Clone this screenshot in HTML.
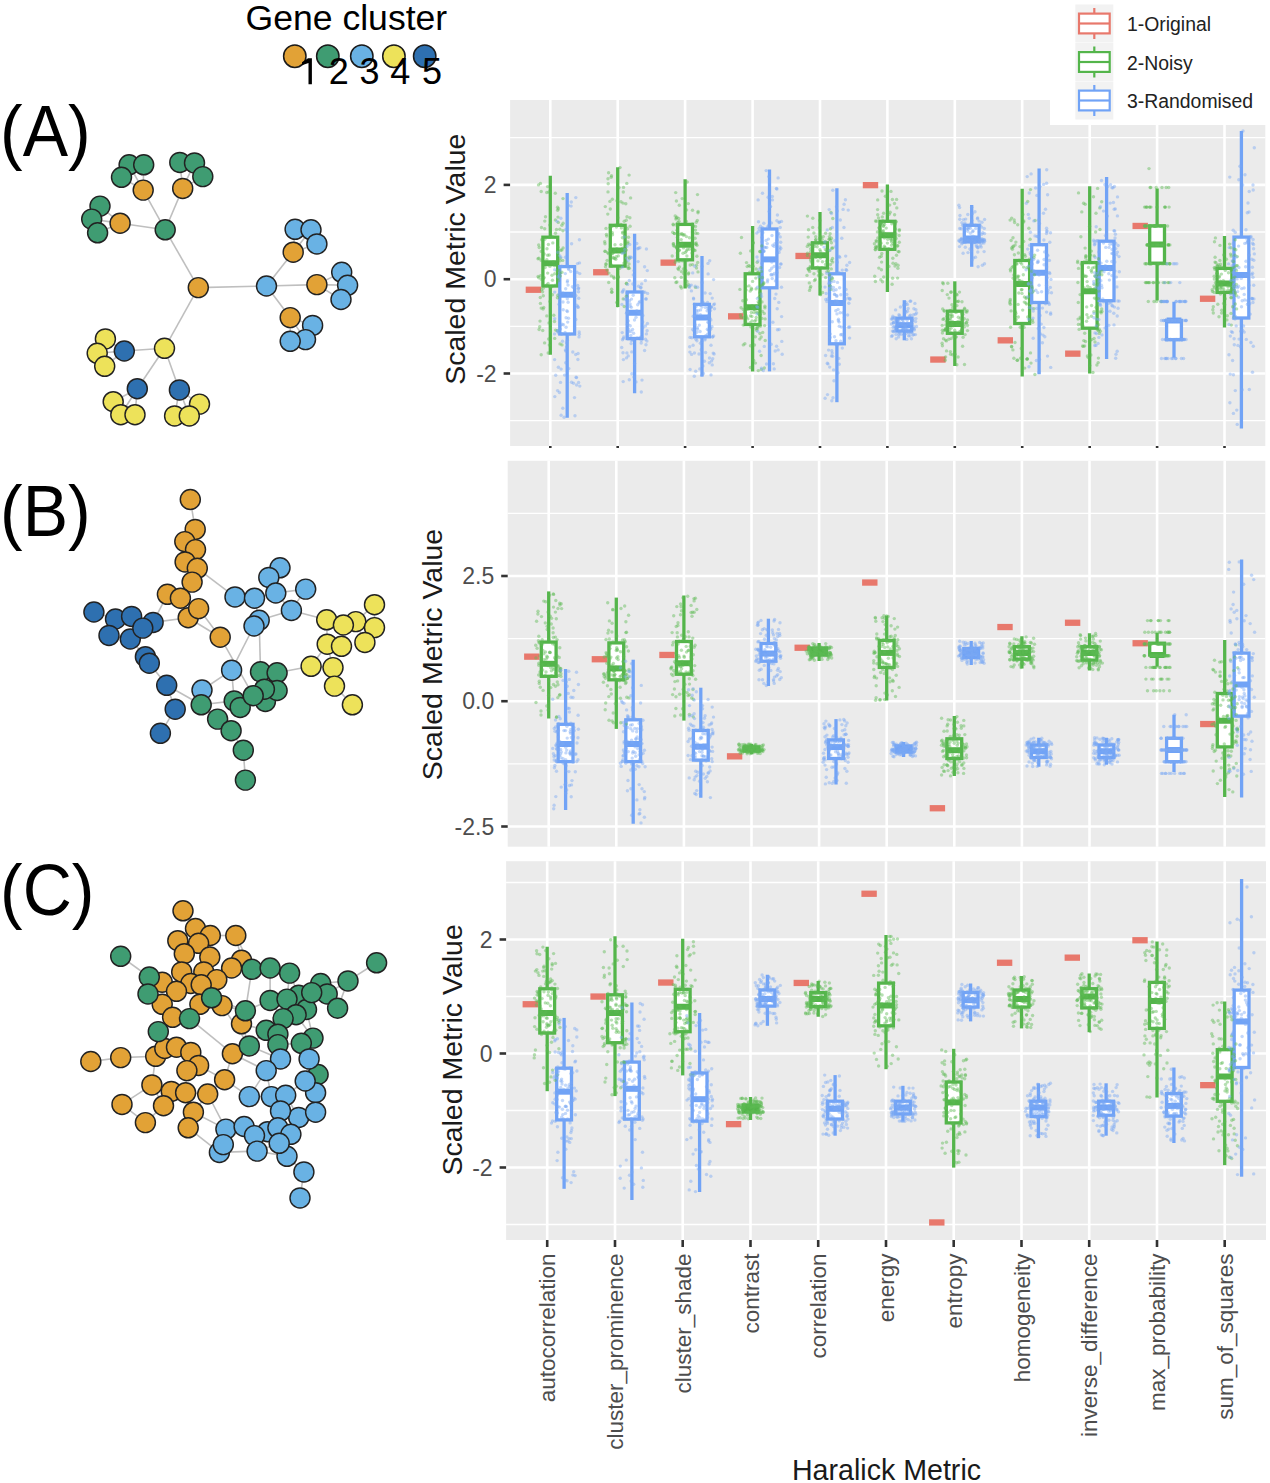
<!DOCTYPE html><html><head><meta charset="utf-8"><style>html,body{margin:0;padding:0;background:#fff;}svg{display:block;}text{font-family:"Liberation Sans",sans-serif;}</style></head><body>
<svg width="1270" height="1483" viewBox="0 0 1270 1483">
<rect width="1270" height="1483" fill="#fff"/>
<rect x="510.1" y="100.0" width="755.2" height="346.0" fill="#EBEBEB"/>
<line x1="510.1" x2="1265.3" y1="137.7" y2="137.7" stroke="#fff" stroke-width="1.3"/>
<line x1="510.1" x2="1265.3" y1="232.0" y2="232.0" stroke="#fff" stroke-width="1.3"/>
<line x1="510.1" x2="1265.3" y1="326.4" y2="326.4" stroke="#fff" stroke-width="1.3"/>
<line x1="510.1" x2="1265.3" y1="420.7" y2="420.7" stroke="#fff" stroke-width="1.3"/>
<line x1="510.1" x2="1265.3" y1="184.9" y2="184.9" stroke="#fff" stroke-width="2.6"/>
<line x1="510.1" x2="1265.3" y1="279.2" y2="279.2" stroke="#fff" stroke-width="2.6"/>
<line x1="510.1" x2="1265.3" y1="373.5" y2="373.5" stroke="#fff" stroke-width="2.6"/>
<line x1="550.3" x2="550.3" y1="100.0" y2="446.0" stroke="#fff" stroke-width="2.6"/>
<line x1="617.7" x2="617.7" y1="100.0" y2="446.0" stroke="#fff" stroke-width="2.6"/>
<line x1="685.1" x2="685.1" y1="100.0" y2="446.0" stroke="#fff" stroke-width="2.6"/>
<line x1="752.6" x2="752.6" y1="100.0" y2="446.0" stroke="#fff" stroke-width="2.6"/>
<line x1="820.0" x2="820.0" y1="100.0" y2="446.0" stroke="#fff" stroke-width="2.6"/>
<line x1="887.4" x2="887.4" y1="100.0" y2="446.0" stroke="#fff" stroke-width="2.6"/>
<line x1="954.8" x2="954.8" y1="100.0" y2="446.0" stroke="#fff" stroke-width="2.6"/>
<line x1="1022.2" x2="1022.2" y1="100.0" y2="446.0" stroke="#fff" stroke-width="2.6"/>
<line x1="1089.7" x2="1089.7" y1="100.0" y2="446.0" stroke="#fff" stroke-width="2.6"/>
<line x1="1157.1" x2="1157.1" y1="100.0" y2="446.0" stroke="#fff" stroke-width="2.6"/>
<line x1="1224.5" x2="1224.5" y1="100.0" y2="446.0" stroke="#fff" stroke-width="2.6"/>
<line x1="503.6" x2="510.1" y1="184.9" y2="184.9" stroke="#333" stroke-width="2.6"/>
<text x="496.6" y="193.1" font-size="23" fill="#4D4D4D" text-anchor="end">2</text>
<line x1="503.6" x2="510.1" y1="279.2" y2="279.2" stroke="#333" stroke-width="2.6"/>
<text x="496.6" y="287.4" font-size="23" fill="#4D4D4D" text-anchor="end">0</text>
<line x1="503.6" x2="510.1" y1="373.5" y2="373.5" stroke="#333" stroke-width="2.6"/>
<text x="496.6" y="381.7" font-size="23" fill="#4D4D4D" text-anchor="end">-2</text>
<line x1="550.3" x2="550.3" y1="446.0" y2="448.0" stroke="#333" stroke-width="2.6"/>
<line x1="617.7" x2="617.7" y1="446.0" y2="448.0" stroke="#333" stroke-width="2.6"/>
<line x1="685.1" x2="685.1" y1="446.0" y2="448.0" stroke="#333" stroke-width="2.6"/>
<line x1="752.6" x2="752.6" y1="446.0" y2="448.0" stroke="#333" stroke-width="2.6"/>
<line x1="820.0" x2="820.0" y1="446.0" y2="448.0" stroke="#333" stroke-width="2.6"/>
<line x1="887.4" x2="887.4" y1="446.0" y2="448.0" stroke="#333" stroke-width="2.6"/>
<line x1="954.8" x2="954.8" y1="446.0" y2="448.0" stroke="#333" stroke-width="2.6"/>
<line x1="1022.2" x2="1022.2" y1="446.0" y2="448.0" stroke="#333" stroke-width="2.6"/>
<line x1="1089.7" x2="1089.7" y1="446.0" y2="448.0" stroke="#333" stroke-width="2.6"/>
<line x1="1157.1" x2="1157.1" y1="446.0" y2="448.0" stroke="#333" stroke-width="2.6"/>
<line x1="1224.5" x2="1224.5" y1="446.0" y2="448.0" stroke="#333" stroke-width="2.6"/>
<text transform="translate(464.9,259.2) rotate(-90)" font-size="28.5" fill="#1A1A1A" text-anchor="middle">Scaled Metric Value</text>
<clipPath id="cp0"><rect x="510.1" y="100.0" width="755.2" height="346.0"/></clipPath><g clip-path="url(#cp0)">
<line x1="550.3" y1="175.8" x2="550.3" y2="237.2" stroke="#54B54B" stroke-width="3.3" stroke-linecap="butt"/><line x1="550.3" y1="286.0" x2="550.3" y2="354.8" stroke="#54B54B" stroke-width="3.3"/><rect x="542.9" y="237.2" width="14.8" height="48.8" fill="#fff" stroke="#54B54B" stroke-width="3.3"/><line x1="542.9" y1="263.3" x2="557.7" y2="263.3" stroke="#54B54B" stroke-width="6.0"/>
<line x1="567.2" y1="192.9" x2="567.2" y2="266.6" stroke="#71A3F6" stroke-width="3.3" stroke-linecap="butt"/><line x1="567.2" y1="334.0" x2="567.2" y2="417.8" stroke="#71A3F6" stroke-width="3.3"/><rect x="559.8" y="266.6" width="14.8" height="67.4" fill="#fff" stroke="#71A3F6" stroke-width="3.3"/><line x1="559.8" y1="294.8" x2="574.6" y2="294.8" stroke="#71A3F6" stroke-width="6.0"/>
<rect x="525.7" y="286.6" width="15.4" height="6.3" fill="#E8786C"/>
<g fill="#5DBB55" fill-opacity="0.45"><circle cx="541.2" cy="279.3" r="1.7"/><circle cx="539.2" cy="247.5" r="1.7"/><circle cx="546.8" cy="259.6" r="1.7"/><circle cx="550.5" cy="331.1" r="1.7"/><circle cx="548.6" cy="339.0" r="1.7"/><circle cx="539.7" cy="326.7" r="1.7"/><circle cx="558.8" cy="270.2" r="1.7"/><circle cx="543.1" cy="309.0" r="1.7"/><circle cx="561.9" cy="250.0" r="1.7"/><circle cx="547.6" cy="255.3" r="1.7"/><circle cx="538.5" cy="184.9" r="1.7"/><circle cx="544.8" cy="221.1" r="1.7"/><circle cx="540.4" cy="303.4" r="1.7"/><circle cx="558.5" cy="280.7" r="1.7"/><circle cx="552.4" cy="294.8" r="1.7"/><circle cx="547.0" cy="248.8" r="1.7"/><circle cx="538.9" cy="258.3" r="1.7"/><circle cx="542.7" cy="330.5" r="1.7"/><circle cx="548.4" cy="244.5" r="1.7"/><circle cx="552.5" cy="280.2" r="1.7"/><circle cx="545.1" cy="267.6" r="1.7"/><circle cx="555.5" cy="233.3" r="1.7"/><circle cx="552.2" cy="286.2" r="1.7"/><circle cx="560.1" cy="260.7" r="1.7"/><circle cx="544.8" cy="239.3" r="1.7"/><circle cx="540.4" cy="183.4" r="1.7"/><circle cx="557.0" cy="270.7" r="1.7"/><circle cx="550.0" cy="301.4" r="1.7"/><circle cx="554.7" cy="338.4" r="1.7"/><circle cx="552.2" cy="236.5" r="1.7"/><circle cx="545.5" cy="216.8" r="1.7"/><circle cx="552.8" cy="242.9" r="1.7"/><circle cx="549.2" cy="255.0" r="1.7"/><circle cx="561.9" cy="225.2" r="1.7"/><circle cx="554.6" cy="265.7" r="1.7"/><circle cx="555.5" cy="330.1" r="1.7"/><circle cx="563.1" cy="247.9" r="1.7"/><circle cx="544.7" cy="228.8" r="1.7"/><circle cx="554.7" cy="273.7" r="1.7"/><circle cx="549.3" cy="345.1" r="1.7"/><circle cx="540.3" cy="297.5" r="1.7"/><circle cx="557.3" cy="330.7" r="1.7"/><circle cx="543.7" cy="307.4" r="1.7"/><circle cx="560.0" cy="273.2" r="1.7"/><circle cx="549.0" cy="322.9" r="1.7"/><circle cx="560.3" cy="258.1" r="1.7"/><circle cx="559.8" cy="229.3" r="1.7"/><circle cx="548.1" cy="283.4" r="1.7"/><circle cx="560.3" cy="276.1" r="1.7"/><circle cx="541.2" cy="191.5" r="1.7"/><circle cx="543.3" cy="295.8" r="1.7"/><circle cx="549.9" cy="286.9" r="1.7"/><circle cx="544.1" cy="254.0" r="1.7"/><circle cx="548.2" cy="353.0" r="1.7"/><circle cx="552.0" cy="275.2" r="1.7"/><circle cx="555.3" cy="193.2" r="1.7"/><circle cx="553.4" cy="261.7" r="1.7"/><circle cx="538.7" cy="244.9" r="1.7"/><circle cx="557.6" cy="210.2" r="1.7"/><circle cx="558.0" cy="217.1" r="1.7"/><circle cx="547.7" cy="273.1" r="1.7"/><circle cx="553.8" cy="315.2" r="1.7"/><circle cx="539.1" cy="329.5" r="1.7"/><circle cx="541.5" cy="289.8" r="1.7"/><circle cx="538.7" cy="277.8" r="1.7"/><circle cx="541.2" cy="354.7" r="1.7"/><circle cx="546.8" cy="315.9" r="1.7"/><circle cx="560.0" cy="343.9" r="1.7"/><circle cx="541.2" cy="251.4" r="1.7"/><circle cx="546.3" cy="285.8" r="1.7"/><circle cx="540.5" cy="275.6" r="1.7"/><circle cx="563.1" cy="223.3" r="1.7"/><circle cx="549.9" cy="266.4" r="1.7"/><circle cx="540.0" cy="321.1" r="1.7"/><circle cx="544.2" cy="277.6" r="1.7"/><circle cx="541.5" cy="227.5" r="1.7"/><circle cx="562.0" cy="344.9" r="1.7"/><circle cx="541.1" cy="260.3" r="1.7"/><circle cx="538.0" cy="258.8" r="1.7"/><circle cx="562.7" cy="260.4" r="1.7"/><circle cx="555.4" cy="219.9" r="1.7"/><circle cx="546.8" cy="285.0" r="1.7"/><circle cx="557.4" cy="297.8" r="1.7"/><circle cx="557.6" cy="259.9" r="1.7"/><circle cx="543.1" cy="278.8" r="1.7"/><circle cx="562.9" cy="230.7" r="1.7"/><circle cx="558.3" cy="222.4" r="1.7"/><circle cx="556.5" cy="229.5" r="1.7"/><circle cx="550.8" cy="287.5" r="1.7"/><circle cx="538.1" cy="276.4" r="1.7"/><circle cx="544.6" cy="342.9" r="1.7"/><circle cx="555.3" cy="285.2" r="1.7"/><circle cx="548.9" cy="192.0" r="1.7"/><circle cx="563.0" cy="198.6" r="1.7"/><circle cx="546.8" cy="192.5" r="1.7"/><circle cx="543.2" cy="288.3" r="1.7"/><circle cx="542.6" cy="291.8" r="1.7"/><circle cx="560.7" cy="250.3" r="1.7"/><circle cx="549.8" cy="225.1" r="1.7"/><circle cx="558.1" cy="247.3" r="1.7"/><circle cx="554.5" cy="321.5" r="1.7"/><circle cx="557.6" cy="207.2" r="1.7"/><circle cx="549.7" cy="237.2" r="1.7"/><circle cx="557.8" cy="295.3" r="1.7"/><circle cx="558.1" cy="278.5" r="1.7"/><circle cx="547.6" cy="186.6" r="1.7"/><circle cx="561.9" cy="272.3" r="1.7"/><circle cx="541.7" cy="239.8" r="1.7"/><circle cx="541.2" cy="308.1" r="1.7"/><circle cx="558.3" cy="208.7" r="1.7"/></g>
<g fill="#7AA9F5" fill-opacity="0.45"><circle cx="575.7" cy="354.5" r="1.7"/><circle cx="571.3" cy="202.0" r="1.7"/><circle cx="568.5" cy="318.3" r="1.7"/><circle cx="554.6" cy="359.6" r="1.7"/><circle cx="571.1" cy="206.1" r="1.7"/><circle cx="578.5" cy="291.8" r="1.7"/><circle cx="576.9" cy="305.2" r="1.7"/><circle cx="559.7" cy="255.6" r="1.7"/><circle cx="561.8" cy="333.7" r="1.7"/><circle cx="569.4" cy="334.4" r="1.7"/><circle cx="565.1" cy="332.5" r="1.7"/><circle cx="577.9" cy="359.5" r="1.7"/><circle cx="566.1" cy="317.7" r="1.7"/><circle cx="577.7" cy="285.4" r="1.7"/><circle cx="578.1" cy="307.2" r="1.7"/><circle cx="568.0" cy="294.6" r="1.7"/><circle cx="554.7" cy="292.1" r="1.7"/><circle cx="559.0" cy="304.2" r="1.7"/><circle cx="575.0" cy="415.7" r="1.7"/><circle cx="566.5" cy="346.9" r="1.7"/><circle cx="568.7" cy="269.4" r="1.7"/><circle cx="567.7" cy="322.1" r="1.7"/><circle cx="574.6" cy="288.5" r="1.7"/><circle cx="568.8" cy="368.6" r="1.7"/><circle cx="561.4" cy="334.0" r="1.7"/><circle cx="567.4" cy="265.1" r="1.7"/><circle cx="574.0" cy="287.8" r="1.7"/><circle cx="565.7" cy="229.6" r="1.7"/><circle cx="567.3" cy="282.1" r="1.7"/><circle cx="572.2" cy="293.4" r="1.7"/><circle cx="568.1" cy="302.3" r="1.7"/><circle cx="578.7" cy="298.2" r="1.7"/><circle cx="577.0" cy="272.3" r="1.7"/><circle cx="560.9" cy="218.2" r="1.7"/><circle cx="578.7" cy="288.1" r="1.7"/><circle cx="557.8" cy="252.2" r="1.7"/><circle cx="565.7" cy="362.8" r="1.7"/><circle cx="560.5" cy="382.4" r="1.7"/><circle cx="571.6" cy="382.2" r="1.7"/><circle cx="577.5" cy="263.6" r="1.7"/><circle cx="572.8" cy="352.0" r="1.7"/><circle cx="557.9" cy="276.7" r="1.7"/><circle cx="579.4" cy="239.8" r="1.7"/><circle cx="579.0" cy="336.9" r="1.7"/><circle cx="566.9" cy="310.8" r="1.7"/><circle cx="575.8" cy="197.6" r="1.7"/><circle cx="565.4" cy="349.9" r="1.7"/><circle cx="563.0" cy="293.0" r="1.7"/><circle cx="562.5" cy="341.3" r="1.7"/><circle cx="554.7" cy="269.7" r="1.7"/><circle cx="565.7" cy="288.7" r="1.7"/><circle cx="562.8" cy="408.3" r="1.7"/><circle cx="567.5" cy="280.8" r="1.7"/><circle cx="579.8" cy="386.1" r="1.7"/><circle cx="579.5" cy="262.9" r="1.7"/><circle cx="561.1" cy="369.1" r="1.7"/><circle cx="574.5" cy="397.6" r="1.7"/><circle cx="557.6" cy="330.8" r="1.7"/><circle cx="577.9" cy="307.0" r="1.7"/><circle cx="560.9" cy="257.2" r="1.7"/><circle cx="578.1" cy="353.5" r="1.7"/><circle cx="572.4" cy="286.8" r="1.7"/><circle cx="555.7" cy="375.3" r="1.7"/><circle cx="565.3" cy="273.6" r="1.7"/><circle cx="578.6" cy="382.5" r="1.7"/><circle cx="575.0" cy="279.6" r="1.7"/><circle cx="576.5" cy="377.6" r="1.7"/><circle cx="576.6" cy="385.0" r="1.7"/><circle cx="563.0" cy="302.0" r="1.7"/><circle cx="578.3" cy="288.8" r="1.7"/><circle cx="557.6" cy="331.2" r="1.7"/><circle cx="560.4" cy="291.8" r="1.7"/><circle cx="558.4" cy="367.3" r="1.7"/><circle cx="559.4" cy="392.5" r="1.7"/><circle cx="562.1" cy="324.3" r="1.7"/><circle cx="561.7" cy="266.2" r="1.7"/><circle cx="558.8" cy="294.8" r="1.7"/><circle cx="554.7" cy="318.8" r="1.7"/><circle cx="554.6" cy="333.9" r="1.7"/><circle cx="568.5" cy="268.5" r="1.7"/><circle cx="566.5" cy="342.7" r="1.7"/><circle cx="557.0" cy="221.2" r="1.7"/><circle cx="565.4" cy="257.2" r="1.7"/><circle cx="575.9" cy="295.6" r="1.7"/><circle cx="567.4" cy="311.6" r="1.7"/><circle cx="579.7" cy="273.6" r="1.7"/><circle cx="575.8" cy="319.5" r="1.7"/><circle cx="570.7" cy="271.5" r="1.7"/><circle cx="563.2" cy="309.7" r="1.7"/><circle cx="557.6" cy="390.6" r="1.7"/><circle cx="573.5" cy="383.2" r="1.7"/><circle cx="558.4" cy="333.1" r="1.7"/><circle cx="576.1" cy="377.3" r="1.7"/><circle cx="571.6" cy="243.7" r="1.7"/><circle cx="560.5" cy="329.0" r="1.7"/><circle cx="566.1" cy="327.2" r="1.7"/><circle cx="565.8" cy="351.1" r="1.7"/><circle cx="579.2" cy="331.9" r="1.7"/><circle cx="568.4" cy="205.4" r="1.7"/><circle cx="579.3" cy="334.2" r="1.7"/><circle cx="563.5" cy="324.7" r="1.7"/><circle cx="564.1" cy="417.2" r="1.7"/><circle cx="567.3" cy="298.8" r="1.7"/><circle cx="567.3" cy="340.2" r="1.7"/><circle cx="561.1" cy="415.2" r="1.7"/><circle cx="564.6" cy="375.1" r="1.7"/><circle cx="554.8" cy="396.6" r="1.7"/><circle cx="560.3" cy="325.5" r="1.7"/><circle cx="568.0" cy="285.1" r="1.7"/><circle cx="571.3" cy="266.6" r="1.7"/></g>
<line x1="617.7" y1="167.2" x2="617.7" y2="225.3" stroke="#54B54B" stroke-width="3.3" stroke-linecap="butt"/><line x1="617.7" y1="266.1" x2="617.7" y2="307.0" stroke="#54B54B" stroke-width="3.3"/><rect x="610.3" y="225.3" width="14.8" height="40.8" fill="#fff" stroke="#54B54B" stroke-width="3.3"/><line x1="610.3" y1="250.5" x2="625.1" y2="250.5" stroke="#54B54B" stroke-width="6.0"/>
<line x1="634.6" y1="233.7" x2="634.6" y2="292.0" stroke="#71A3F6" stroke-width="3.3" stroke-linecap="butt"/><line x1="634.6" y1="338.5" x2="634.6" y2="393.3" stroke="#71A3F6" stroke-width="3.3"/><rect x="627.2" y="292.0" width="14.8" height="46.5" fill="#fff" stroke="#71A3F6" stroke-width="3.3"/><line x1="627.2" y1="312.8" x2="642.0" y2="312.8" stroke="#71A3F6" stroke-width="6.0"/>
<rect x="593.1" y="269.1" width="15.4" height="6.3" fill="#E8786C"/>
<g fill="#5DBB55" fill-opacity="0.45"><circle cx="627.6" cy="228.7" r="1.7"/><circle cx="613.2" cy="257.4" r="1.7"/><circle cx="608.6" cy="172.8" r="1.7"/><circle cx="621.4" cy="227.9" r="1.7"/><circle cx="626.4" cy="296.2" r="1.7"/><circle cx="621.0" cy="201.8" r="1.7"/><circle cx="625.8" cy="226.9" r="1.7"/><circle cx="618.3" cy="277.2" r="1.7"/><circle cx="626.4" cy="250.1" r="1.7"/><circle cx="626.2" cy="220.2" r="1.7"/><circle cx="627.9" cy="242.0" r="1.7"/><circle cx="622.7" cy="232.1" r="1.7"/><circle cx="605.5" cy="266.8" r="1.7"/><circle cx="614.1" cy="278.2" r="1.7"/><circle cx="626.5" cy="283.2" r="1.7"/><circle cx="621.0" cy="244.6" r="1.7"/><circle cx="622.4" cy="237.8" r="1.7"/><circle cx="604.8" cy="251.2" r="1.7"/><circle cx="624.2" cy="221.2" r="1.7"/><circle cx="618.6" cy="250.2" r="1.7"/><circle cx="606.4" cy="234.4" r="1.7"/><circle cx="611.3" cy="226.6" r="1.7"/><circle cx="611.6" cy="289.3" r="1.7"/><circle cx="610.1" cy="227.4" r="1.7"/><circle cx="630.1" cy="226.3" r="1.7"/><circle cx="614.7" cy="250.9" r="1.7"/><circle cx="622.5" cy="251.8" r="1.7"/><circle cx="620.8" cy="224.5" r="1.7"/><circle cx="606.7" cy="236.1" r="1.7"/><circle cx="611.3" cy="275.9" r="1.7"/><circle cx="612.6" cy="226.0" r="1.7"/><circle cx="605.0" cy="243.7" r="1.7"/><circle cx="611.7" cy="292.3" r="1.7"/><circle cx="622.7" cy="233.2" r="1.7"/><circle cx="612.3" cy="232.8" r="1.7"/><circle cx="616.8" cy="248.8" r="1.7"/><circle cx="607.8" cy="252.6" r="1.7"/><circle cx="609.9" cy="201.4" r="1.7"/><circle cx="629.1" cy="175.1" r="1.7"/><circle cx="616.7" cy="302.5" r="1.7"/><circle cx="629.9" cy="217.7" r="1.7"/><circle cx="611.7" cy="253.7" r="1.7"/><circle cx="629.3" cy="268.3" r="1.7"/><circle cx="619.8" cy="268.2" r="1.7"/><circle cx="618.3" cy="276.8" r="1.7"/><circle cx="608.2" cy="183.7" r="1.7"/><circle cx="617.9" cy="217.7" r="1.7"/><circle cx="623.0" cy="203.1" r="1.7"/><circle cx="628.1" cy="266.7" r="1.7"/><circle cx="605.4" cy="251.4" r="1.7"/><circle cx="617.5" cy="306.1" r="1.7"/><circle cx="612.6" cy="253.6" r="1.7"/><circle cx="613.7" cy="277.0" r="1.7"/><circle cx="626.6" cy="262.0" r="1.7"/><circle cx="624.2" cy="306.5" r="1.7"/><circle cx="607.8" cy="214.1" r="1.7"/><circle cx="623.3" cy="192.0" r="1.7"/><circle cx="612.3" cy="199.2" r="1.7"/><circle cx="614.9" cy="258.5" r="1.7"/><circle cx="620.0" cy="167.6" r="1.7"/><circle cx="615.8" cy="259.2" r="1.7"/><circle cx="606.0" cy="264.5" r="1.7"/><circle cx="626.4" cy="283.8" r="1.7"/><circle cx="629.0" cy="263.9" r="1.7"/><circle cx="611.6" cy="266.1" r="1.7"/><circle cx="609.7" cy="249.4" r="1.7"/><circle cx="629.6" cy="258.4" r="1.7"/><circle cx="625.8" cy="203.8" r="1.7"/><circle cx="628.5" cy="237.3" r="1.7"/><circle cx="619.0" cy="187.6" r="1.7"/><circle cx="606.0" cy="228.4" r="1.7"/><circle cx="616.4" cy="227.1" r="1.7"/><circle cx="621.5" cy="225.3" r="1.7"/><circle cx="606.0" cy="263.8" r="1.7"/><circle cx="608.0" cy="191.9" r="1.7"/><circle cx="613.7" cy="252.2" r="1.7"/><circle cx="623.9" cy="263.1" r="1.7"/><circle cx="611.5" cy="175.8" r="1.7"/><circle cx="612.5" cy="234.8" r="1.7"/><circle cx="615.0" cy="244.7" r="1.7"/><circle cx="608.9" cy="273.1" r="1.7"/><circle cx="628.3" cy="268.5" r="1.7"/><circle cx="610.4" cy="250.7" r="1.7"/><circle cx="630.6" cy="197.9" r="1.7"/><circle cx="608.3" cy="253.6" r="1.7"/><circle cx="607.1" cy="270.0" r="1.7"/><circle cx="607.1" cy="260.4" r="1.7"/><circle cx="611.4" cy="266.4" r="1.7"/><circle cx="627.8" cy="243.5" r="1.7"/><circle cx="615.5" cy="225.3" r="1.7"/><circle cx="618.3" cy="255.9" r="1.7"/><circle cx="613.5" cy="258.2" r="1.7"/><circle cx="611.9" cy="292.0" r="1.7"/><circle cx="608.0" cy="178.7" r="1.7"/><circle cx="621.1" cy="250.2" r="1.7"/><circle cx="610.3" cy="209.0" r="1.7"/><circle cx="611.2" cy="264.8" r="1.7"/><circle cx="616.3" cy="256.8" r="1.7"/><circle cx="626.8" cy="183.4" r="1.7"/><circle cx="605.3" cy="206.6" r="1.7"/><circle cx="623.2" cy="298.9" r="1.7"/><circle cx="617.0" cy="200.8" r="1.7"/><circle cx="604.7" cy="241.7" r="1.7"/><circle cx="628.8" cy="257.3" r="1.7"/><circle cx="627.0" cy="216.7" r="1.7"/><circle cx="611.2" cy="177.2" r="1.7"/><circle cx="608.7" cy="282.5" r="1.7"/><circle cx="622.5" cy="248.2" r="1.7"/><circle cx="623.5" cy="187.4" r="1.7"/><circle cx="624.6" cy="235.6" r="1.7"/></g>
<g fill="#7AA9F5" fill-opacity="0.45"><circle cx="636.0" cy="317.2" r="1.7"/><circle cx="642.0" cy="380.1" r="1.7"/><circle cx="645.5" cy="339.3" r="1.7"/><circle cx="629.5" cy="300.7" r="1.7"/><circle cx="628.2" cy="355.9" r="1.7"/><circle cx="639.8" cy="301.5" r="1.7"/><circle cx="623.4" cy="359.6" r="1.7"/><circle cx="636.8" cy="310.8" r="1.7"/><circle cx="627.4" cy="324.3" r="1.7"/><circle cx="621.9" cy="304.4" r="1.7"/><circle cx="633.6" cy="333.2" r="1.7"/><circle cx="638.4" cy="248.2" r="1.7"/><circle cx="634.0" cy="270.6" r="1.7"/><circle cx="628.0" cy="339.1" r="1.7"/><circle cx="639.9" cy="247.7" r="1.7"/><circle cx="622.2" cy="332.6" r="1.7"/><circle cx="639.2" cy="313.0" r="1.7"/><circle cx="628.3" cy="321.0" r="1.7"/><circle cx="645.7" cy="298.9" r="1.7"/><circle cx="622.5" cy="339.7" r="1.7"/><circle cx="632.6" cy="329.4" r="1.7"/><circle cx="626.8" cy="297.6" r="1.7"/><circle cx="640.8" cy="288.0" r="1.7"/><circle cx="627.0" cy="312.4" r="1.7"/><circle cx="629.7" cy="244.5" r="1.7"/><circle cx="627.6" cy="284.4" r="1.7"/><circle cx="641.4" cy="340.2" r="1.7"/><circle cx="646.4" cy="333.9" r="1.7"/><circle cx="626.5" cy="313.2" r="1.7"/><circle cx="632.5" cy="340.0" r="1.7"/><circle cx="646.3" cy="299.0" r="1.7"/><circle cx="631.8" cy="351.9" r="1.7"/><circle cx="646.9" cy="341.1" r="1.7"/><circle cx="623.0" cy="352.8" r="1.7"/><circle cx="631.8" cy="373.8" r="1.7"/><circle cx="644.6" cy="266.8" r="1.7"/><circle cx="647.6" cy="293.4" r="1.7"/><circle cx="630.2" cy="257.0" r="1.7"/><circle cx="646.0" cy="344.8" r="1.7"/><circle cx="622.4" cy="292.3" r="1.7"/><circle cx="631.5" cy="299.1" r="1.7"/><circle cx="630.2" cy="325.8" r="1.7"/><circle cx="621.7" cy="347.5" r="1.7"/><circle cx="630.8" cy="335.4" r="1.7"/><circle cx="624.8" cy="249.4" r="1.7"/><circle cx="627.0" cy="246.4" r="1.7"/><circle cx="643.0" cy="327.5" r="1.7"/><circle cx="632.9" cy="284.0" r="1.7"/><circle cx="633.9" cy="377.1" r="1.7"/><circle cx="645.5" cy="325.9" r="1.7"/><circle cx="631.1" cy="343.6" r="1.7"/><circle cx="622.4" cy="267.1" r="1.7"/><circle cx="642.7" cy="322.0" r="1.7"/><circle cx="622.7" cy="291.2" r="1.7"/><circle cx="623.2" cy="381.6" r="1.7"/><circle cx="628.3" cy="260.5" r="1.7"/><circle cx="645.0" cy="292.2" r="1.7"/><circle cx="628.7" cy="329.3" r="1.7"/><circle cx="637.7" cy="248.7" r="1.7"/><circle cx="640.3" cy="337.2" r="1.7"/><circle cx="628.8" cy="331.7" r="1.7"/><circle cx="641.3" cy="392.0" r="1.7"/><circle cx="638.1" cy="261.6" r="1.7"/><circle cx="622.3" cy="253.4" r="1.7"/><circle cx="634.0" cy="339.2" r="1.7"/><circle cx="646.4" cy="249.0" r="1.7"/><circle cx="628.1" cy="324.5" r="1.7"/><circle cx="634.5" cy="320.0" r="1.7"/><circle cx="626.4" cy="258.1" r="1.7"/><circle cx="640.8" cy="287.2" r="1.7"/><circle cx="641.7" cy="283.9" r="1.7"/><circle cx="630.1" cy="303.9" r="1.7"/><circle cx="631.0" cy="331.4" r="1.7"/><circle cx="623.7" cy="289.8" r="1.7"/><circle cx="641.2" cy="343.0" r="1.7"/><circle cx="623.3" cy="338.5" r="1.7"/><circle cx="636.0" cy="381.9" r="1.7"/><circle cx="647.1" cy="330.7" r="1.7"/><circle cx="647.3" cy="270.6" r="1.7"/><circle cx="623.8" cy="337.0" r="1.7"/><circle cx="634.6" cy="363.6" r="1.7"/><circle cx="633.2" cy="295.3" r="1.7"/><circle cx="632.5" cy="339.2" r="1.7"/><circle cx="639.1" cy="302.8" r="1.7"/><circle cx="643.6" cy="292.2" r="1.7"/><circle cx="624.8" cy="299.1" r="1.7"/><circle cx="629.3" cy="280.5" r="1.7"/><circle cx="631.3" cy="307.2" r="1.7"/><circle cx="626.8" cy="293.0" r="1.7"/><circle cx="628.0" cy="338.5" r="1.7"/><circle cx="644.6" cy="350.5" r="1.7"/><circle cx="630.1" cy="306.3" r="1.7"/><circle cx="647.4" cy="323.5" r="1.7"/><circle cx="627.6" cy="312.2" r="1.7"/><circle cx="638.6" cy="286.3" r="1.7"/><circle cx="624.3" cy="237.0" r="1.7"/><circle cx="642.9" cy="315.4" r="1.7"/><circle cx="645.4" cy="280.5" r="1.7"/><circle cx="629.3" cy="379.8" r="1.7"/><circle cx="626.5" cy="357.9" r="1.7"/><circle cx="636.8" cy="243.5" r="1.7"/><circle cx="631.3" cy="257.5" r="1.7"/><circle cx="633.3" cy="274.9" r="1.7"/><circle cx="641.8" cy="337.5" r="1.7"/><circle cx="624.4" cy="252.6" r="1.7"/><circle cx="637.7" cy="304.8" r="1.7"/><circle cx="631.2" cy="340.6" r="1.7"/><circle cx="626.9" cy="352.9" r="1.7"/><circle cx="637.2" cy="338.0" r="1.7"/><circle cx="626.9" cy="300.2" r="1.7"/></g>
<line x1="685.1" y1="179.3" x2="685.1" y2="224.4" stroke="#54B54B" stroke-width="3.3" stroke-linecap="butt"/><line x1="685.1" y1="259.8" x2="685.1" y2="288.5" stroke="#54B54B" stroke-width="3.3"/><rect x="677.7" y="224.4" width="14.8" height="35.4" fill="#fff" stroke="#54B54B" stroke-width="3.3"/><line x1="677.7" y1="244.7" x2="692.5" y2="244.7" stroke="#54B54B" stroke-width="6.0"/>
<line x1="702.0" y1="255.9" x2="702.0" y2="304.4" stroke="#71A3F6" stroke-width="3.3" stroke-linecap="butt"/><line x1="702.0" y1="336.8" x2="702.0" y2="376.5" stroke="#71A3F6" stroke-width="3.3"/><rect x="694.6" y="304.4" width="14.8" height="32.4" fill="#fff" stroke="#71A3F6" stroke-width="3.3"/><line x1="694.6" y1="317.5" x2="709.4" y2="317.5" stroke="#71A3F6" stroke-width="6.0"/>
<rect x="660.5" y="259.5" width="15.4" height="6.3" fill="#E8786C"/>
<g fill="#5DBB55" fill-opacity="0.45"><circle cx="680.6" cy="286.4" r="1.7"/><circle cx="677.0" cy="230.2" r="1.7"/><circle cx="677.4" cy="256.0" r="1.7"/><circle cx="686.4" cy="221.5" r="1.7"/><circle cx="674.8" cy="277.8" r="1.7"/><circle cx="686.4" cy="251.0" r="1.7"/><circle cx="674.5" cy="233.4" r="1.7"/><circle cx="690.2" cy="265.0" r="1.7"/><circle cx="679.5" cy="250.1" r="1.7"/><circle cx="696.9" cy="256.3" r="1.7"/><circle cx="686.9" cy="256.0" r="1.7"/><circle cx="683.0" cy="253.3" r="1.7"/><circle cx="698.1" cy="211.5" r="1.7"/><circle cx="677.3" cy="252.9" r="1.7"/><circle cx="677.4" cy="226.2" r="1.7"/><circle cx="695.6" cy="287.4" r="1.7"/><circle cx="693.5" cy="249.3" r="1.7"/><circle cx="695.1" cy="250.4" r="1.7"/><circle cx="676.4" cy="247.1" r="1.7"/><circle cx="686.5" cy="285.8" r="1.7"/><circle cx="695.8" cy="233.3" r="1.7"/><circle cx="688.3" cy="274.0" r="1.7"/><circle cx="685.3" cy="252.5" r="1.7"/><circle cx="679.5" cy="266.9" r="1.7"/><circle cx="696.2" cy="243.0" r="1.7"/><circle cx="684.9" cy="271.3" r="1.7"/><circle cx="697.3" cy="220.4" r="1.7"/><circle cx="675.4" cy="262.2" r="1.7"/><circle cx="697.5" cy="194.6" r="1.7"/><circle cx="673.5" cy="245.7" r="1.7"/><circle cx="682.2" cy="198.6" r="1.7"/><circle cx="688.3" cy="203.6" r="1.7"/><circle cx="676.3" cy="217.9" r="1.7"/><circle cx="677.9" cy="222.4" r="1.7"/><circle cx="694.1" cy="250.5" r="1.7"/><circle cx="676.9" cy="217.2" r="1.7"/><circle cx="682.5" cy="260.9" r="1.7"/><circle cx="682.1" cy="243.2" r="1.7"/><circle cx="678.6" cy="269.5" r="1.7"/><circle cx="695.5" cy="226.4" r="1.7"/><circle cx="686.8" cy="281.3" r="1.7"/><circle cx="673.1" cy="224.2" r="1.7"/><circle cx="675.2" cy="215.9" r="1.7"/><circle cx="686.4" cy="236.6" r="1.7"/><circle cx="680.1" cy="234.4" r="1.7"/><circle cx="687.3" cy="249.5" r="1.7"/><circle cx="689.3" cy="249.2" r="1.7"/><circle cx="683.5" cy="247.9" r="1.7"/><circle cx="688.2" cy="284.3" r="1.7"/><circle cx="678.3" cy="245.3" r="1.7"/><circle cx="692.4" cy="224.0" r="1.7"/><circle cx="676.8" cy="247.2" r="1.7"/><circle cx="674.9" cy="246.3" r="1.7"/><circle cx="683.3" cy="268.9" r="1.7"/><circle cx="683.6" cy="273.6" r="1.7"/><circle cx="673.2" cy="243.9" r="1.7"/><circle cx="674.3" cy="233.6" r="1.7"/><circle cx="692.4" cy="225.7" r="1.7"/><circle cx="673.6" cy="243.8" r="1.7"/><circle cx="682.0" cy="244.4" r="1.7"/><circle cx="675.7" cy="192.6" r="1.7"/><circle cx="698.0" cy="212.8" r="1.7"/><circle cx="693.3" cy="225.9" r="1.7"/><circle cx="697.7" cy="262.4" r="1.7"/><circle cx="697.0" cy="245.2" r="1.7"/><circle cx="676.4" cy="201.0" r="1.7"/><circle cx="696.3" cy="222.2" r="1.7"/><circle cx="681.3" cy="277.4" r="1.7"/><circle cx="676.3" cy="224.3" r="1.7"/><circle cx="679.3" cy="205.2" r="1.7"/><circle cx="675.9" cy="219.1" r="1.7"/><circle cx="696.1" cy="244.5" r="1.7"/><circle cx="679.0" cy="261.4" r="1.7"/><circle cx="680.4" cy="244.2" r="1.7"/><circle cx="676.9" cy="282.0" r="1.7"/><circle cx="696.5" cy="265.3" r="1.7"/><circle cx="695.4" cy="230.1" r="1.7"/><circle cx="692.5" cy="264.6" r="1.7"/><circle cx="685.9" cy="270.5" r="1.7"/><circle cx="681.5" cy="233.6" r="1.7"/><circle cx="686.6" cy="209.9" r="1.7"/><circle cx="695.1" cy="238.2" r="1.7"/><circle cx="698.0" cy="271.9" r="1.7"/><circle cx="682.4" cy="234.2" r="1.7"/><circle cx="679.0" cy="221.2" r="1.7"/><circle cx="687.2" cy="182.0" r="1.7"/><circle cx="692.0" cy="253.1" r="1.7"/><circle cx="676.7" cy="248.2" r="1.7"/><circle cx="673.4" cy="224.9" r="1.7"/><circle cx="678.7" cy="218.5" r="1.7"/><circle cx="697.7" cy="233.4" r="1.7"/><circle cx="689.4" cy="237.7" r="1.7"/><circle cx="672.2" cy="256.0" r="1.7"/><circle cx="676.0" cy="282.5" r="1.7"/><circle cx="683.4" cy="235.3" r="1.7"/><circle cx="695.4" cy="243.7" r="1.7"/><circle cx="678.0" cy="268.4" r="1.7"/><circle cx="672.7" cy="232.3" r="1.7"/><circle cx="681.4" cy="288.0" r="1.7"/><circle cx="681.4" cy="271.6" r="1.7"/><circle cx="687.3" cy="260.6" r="1.7"/><circle cx="677.4" cy="237.5" r="1.7"/><circle cx="684.5" cy="234.6" r="1.7"/><circle cx="696.5" cy="268.1" r="1.7"/><circle cx="676.0" cy="259.9" r="1.7"/><circle cx="688.7" cy="273.0" r="1.7"/><circle cx="692.5" cy="210.2" r="1.7"/><circle cx="679.0" cy="250.6" r="1.7"/><circle cx="688.9" cy="286.4" r="1.7"/><circle cx="681.2" cy="239.6" r="1.7"/></g>
<g fill="#7AA9F5" fill-opacity="0.45"><circle cx="700.6" cy="309.9" r="1.7"/><circle cx="708.1" cy="273.9" r="1.7"/><circle cx="712.5" cy="336.8" r="1.7"/><circle cx="702.9" cy="365.9" r="1.7"/><circle cx="695.2" cy="324.8" r="1.7"/><circle cx="709.3" cy="362.7" r="1.7"/><circle cx="703.4" cy="373.4" r="1.7"/><circle cx="692.7" cy="272.9" r="1.7"/><circle cx="704.9" cy="339.9" r="1.7"/><circle cx="705.7" cy="317.1" r="1.7"/><circle cx="693.6" cy="299.0" r="1.7"/><circle cx="696.8" cy="332.2" r="1.7"/><circle cx="712.2" cy="364.9" r="1.7"/><circle cx="707.6" cy="302.5" r="1.7"/><circle cx="711.0" cy="374.9" r="1.7"/><circle cx="701.1" cy="304.7" r="1.7"/><circle cx="700.8" cy="304.8" r="1.7"/><circle cx="691.8" cy="337.7" r="1.7"/><circle cx="690.0" cy="337.4" r="1.7"/><circle cx="708.5" cy="330.2" r="1.7"/><circle cx="711.0" cy="307.3" r="1.7"/><circle cx="696.0" cy="306.4" r="1.7"/><circle cx="700.4" cy="314.7" r="1.7"/><circle cx="702.6" cy="302.0" r="1.7"/><circle cx="705.7" cy="335.6" r="1.7"/><circle cx="694.7" cy="266.3" r="1.7"/><circle cx="689.4" cy="287.4" r="1.7"/><circle cx="695.2" cy="336.0" r="1.7"/><circle cx="713.6" cy="304.7" r="1.7"/><circle cx="697.5" cy="304.6" r="1.7"/><circle cx="697.6" cy="287.3" r="1.7"/><circle cx="712.6" cy="337.1" r="1.7"/><circle cx="707.1" cy="310.7" r="1.7"/><circle cx="714.5" cy="308.8" r="1.7"/><circle cx="710.9" cy="319.9" r="1.7"/><circle cx="711.3" cy="307.1" r="1.7"/><circle cx="707.9" cy="322.3" r="1.7"/><circle cx="697.0" cy="313.8" r="1.7"/><circle cx="705.2" cy="338.8" r="1.7"/><circle cx="712.7" cy="358.7" r="1.7"/><circle cx="689.7" cy="346.8" r="1.7"/><circle cx="713.2" cy="353.1" r="1.7"/><circle cx="692.7" cy="329.5" r="1.7"/><circle cx="690.1" cy="369.5" r="1.7"/><circle cx="705.5" cy="307.4" r="1.7"/><circle cx="708.2" cy="307.2" r="1.7"/><circle cx="704.4" cy="361.2" r="1.7"/><circle cx="710.3" cy="328.0" r="1.7"/><circle cx="712.2" cy="298.1" r="1.7"/><circle cx="711.6" cy="361.1" r="1.7"/><circle cx="713.6" cy="279.6" r="1.7"/><circle cx="694.4" cy="353.0" r="1.7"/><circle cx="689.9" cy="352.1" r="1.7"/><circle cx="710.2" cy="293.6" r="1.7"/><circle cx="710.5" cy="310.5" r="1.7"/><circle cx="696.5" cy="310.6" r="1.7"/><circle cx="691.6" cy="354.4" r="1.7"/><circle cx="694.4" cy="304.2" r="1.7"/><circle cx="700.1" cy="331.5" r="1.7"/><circle cx="695.7" cy="371.3" r="1.7"/><circle cx="707.6" cy="334.3" r="1.7"/><circle cx="697.4" cy="327.7" r="1.7"/><circle cx="702.1" cy="266.6" r="1.7"/><circle cx="705.1" cy="293.0" r="1.7"/><circle cx="699.8" cy="368.9" r="1.7"/><circle cx="709.1" cy="322.4" r="1.7"/><circle cx="707.4" cy="329.3" r="1.7"/><circle cx="694.7" cy="315.5" r="1.7"/><circle cx="691.4" cy="290.9" r="1.7"/><circle cx="693.5" cy="298.1" r="1.7"/><circle cx="694.3" cy="376.2" r="1.7"/><circle cx="714.5" cy="304.0" r="1.7"/><circle cx="701.8" cy="375.4" r="1.7"/><circle cx="709.8" cy="318.2" r="1.7"/><circle cx="701.9" cy="341.5" r="1.7"/><circle cx="710.7" cy="329.3" r="1.7"/><circle cx="713.6" cy="336.0" r="1.7"/><circle cx="694.6" cy="334.2" r="1.7"/><circle cx="702.0" cy="307.0" r="1.7"/><circle cx="705.6" cy="352.5" r="1.7"/><circle cx="709.5" cy="358.0" r="1.7"/><circle cx="709.5" cy="307.2" r="1.7"/><circle cx="698.3" cy="310.8" r="1.7"/><circle cx="699.3" cy="325.1" r="1.7"/><circle cx="691.3" cy="285.1" r="1.7"/><circle cx="689.7" cy="285.6" r="1.7"/><circle cx="695.9" cy="339.3" r="1.7"/><circle cx="702.1" cy="282.7" r="1.7"/><circle cx="712.0" cy="326.8" r="1.7"/><circle cx="701.0" cy="337.3" r="1.7"/><circle cx="708.7" cy="315.8" r="1.7"/><circle cx="705.8" cy="304.4" r="1.7"/><circle cx="697.5" cy="329.2" r="1.7"/><circle cx="711.0" cy="345.2" r="1.7"/><circle cx="708.3" cy="309.0" r="1.7"/><circle cx="700.4" cy="343.3" r="1.7"/><circle cx="704.1" cy="303.3" r="1.7"/><circle cx="701.1" cy="349.7" r="1.7"/><circle cx="695.2" cy="286.3" r="1.7"/><circle cx="696.9" cy="340.7" r="1.7"/><circle cx="711.0" cy="306.9" r="1.7"/><circle cx="693.1" cy="345.3" r="1.7"/><circle cx="697.5" cy="336.8" r="1.7"/><circle cx="693.2" cy="316.3" r="1.7"/><circle cx="694.0" cy="330.8" r="1.7"/><circle cx="708.0" cy="263.4" r="1.7"/><circle cx="714.1" cy="354.0" r="1.7"/><circle cx="699.0" cy="354.0" r="1.7"/><circle cx="709.7" cy="260.8" r="1.7"/><circle cx="700.3" cy="305.3" r="1.7"/></g>
<line x1="752.6" y1="226.0" x2="752.6" y2="273.8" stroke="#54B54B" stroke-width="3.3" stroke-linecap="butt"/><line x1="752.6" y1="324.5" x2="752.6" y2="371.4" stroke="#54B54B" stroke-width="3.3"/><rect x="745.2" y="273.8" width="14.8" height="50.7" fill="#fff" stroke="#54B54B" stroke-width="3.3"/><line x1="745.2" y1="307.2" x2="760.0" y2="307.2" stroke="#54B54B" stroke-width="6.0"/>
<line x1="769.5" y1="169.5" x2="769.5" y2="229.0" stroke="#71A3F6" stroke-width="3.3" stroke-linecap="butt"/><line x1="769.5" y1="287.8" x2="769.5" y2="371.4" stroke="#71A3F6" stroke-width="3.3"/><rect x="762.1" y="229.0" width="14.8" height="58.8" fill="#fff" stroke="#71A3F6" stroke-width="3.3"/><line x1="762.1" y1="259.4" x2="776.9" y2="259.4" stroke="#71A3F6" stroke-width="6.0"/>
<rect x="728.0" y="313.2" width="15.4" height="6.3" fill="#E8786C"/>
<g fill="#5DBB55" fill-opacity="0.45"><circle cx="756.1" cy="328.5" r="1.7"/><circle cx="744.9" cy="343.7" r="1.7"/><circle cx="740.4" cy="314.9" r="1.7"/><circle cx="760.1" cy="314.2" r="1.7"/><circle cx="752.6" cy="281.4" r="1.7"/><circle cx="751.6" cy="289.5" r="1.7"/><circle cx="755.3" cy="336.8" r="1.7"/><circle cx="758.8" cy="313.8" r="1.7"/><circle cx="750.7" cy="250.9" r="1.7"/><circle cx="759.0" cy="297.3" r="1.7"/><circle cx="745.5" cy="312.7" r="1.7"/><circle cx="762.4" cy="277.5" r="1.7"/><circle cx="757.8" cy="272.7" r="1.7"/><circle cx="757.2" cy="262.3" r="1.7"/><circle cx="751.4" cy="288.3" r="1.7"/><circle cx="755.9" cy="320.1" r="1.7"/><circle cx="750.5" cy="345.7" r="1.7"/><circle cx="758.1" cy="272.0" r="1.7"/><circle cx="746.1" cy="289.9" r="1.7"/><circle cx="751.4" cy="312.5" r="1.7"/><circle cx="750.2" cy="291.0" r="1.7"/><circle cx="763.7" cy="283.8" r="1.7"/><circle cx="756.6" cy="330.2" r="1.7"/><circle cx="749.7" cy="272.3" r="1.7"/><circle cx="764.9" cy="307.9" r="1.7"/><circle cx="753.7" cy="360.5" r="1.7"/><circle cx="759.9" cy="333.5" r="1.7"/><circle cx="753.1" cy="242.8" r="1.7"/><circle cx="754.5" cy="345.0" r="1.7"/><circle cx="758.2" cy="301.7" r="1.7"/><circle cx="756.2" cy="305.6" r="1.7"/><circle cx="753.1" cy="266.2" r="1.7"/><circle cx="764.2" cy="313.4" r="1.7"/><circle cx="757.4" cy="327.0" r="1.7"/><circle cx="759.4" cy="314.6" r="1.7"/><circle cx="765.2" cy="340.5" r="1.7"/><circle cx="741.0" cy="317.2" r="1.7"/><circle cx="750.0" cy="322.8" r="1.7"/><circle cx="750.4" cy="367.5" r="1.7"/><circle cx="757.7" cy="312.7" r="1.7"/><circle cx="746.5" cy="317.4" r="1.7"/><circle cx="758.8" cy="325.7" r="1.7"/><circle cx="753.3" cy="243.0" r="1.7"/><circle cx="760.4" cy="326.2" r="1.7"/><circle cx="745.1" cy="314.7" r="1.7"/><circle cx="759.8" cy="339.1" r="1.7"/><circle cx="756.1" cy="269.0" r="1.7"/><circle cx="754.2" cy="309.3" r="1.7"/><circle cx="764.6" cy="325.6" r="1.7"/><circle cx="756.2" cy="317.4" r="1.7"/><circle cx="760.8" cy="267.7" r="1.7"/><circle cx="747.2" cy="309.4" r="1.7"/><circle cx="742.8" cy="300.8" r="1.7"/><circle cx="748.8" cy="265.5" r="1.7"/><circle cx="746.5" cy="262.6" r="1.7"/><circle cx="746.2" cy="315.8" r="1.7"/><circle cx="744.4" cy="312.3" r="1.7"/><circle cx="758.3" cy="370.6" r="1.7"/><circle cx="745.9" cy="322.3" r="1.7"/><circle cx="752.0" cy="320.9" r="1.7"/><circle cx="756.1" cy="312.1" r="1.7"/><circle cx="749.0" cy="285.9" r="1.7"/><circle cx="761.8" cy="245.9" r="1.7"/><circle cx="761.1" cy="355.5" r="1.7"/><circle cx="759.9" cy="251.4" r="1.7"/><circle cx="761.2" cy="337.0" r="1.7"/><circle cx="739.9" cy="289.4" r="1.7"/><circle cx="764.3" cy="368.0" r="1.7"/><circle cx="746.1" cy="286.4" r="1.7"/><circle cx="743.3" cy="344.9" r="1.7"/><circle cx="759.7" cy="325.1" r="1.7"/><circle cx="743.5" cy="317.8" r="1.7"/><circle cx="760.1" cy="251.8" r="1.7"/><circle cx="762.7" cy="332.4" r="1.7"/><circle cx="759.9" cy="292.7" r="1.7"/><circle cx="762.8" cy="284.7" r="1.7"/><circle cx="761.4" cy="271.4" r="1.7"/><circle cx="757.6" cy="328.4" r="1.7"/><circle cx="758.8" cy="303.1" r="1.7"/><circle cx="762.5" cy="311.4" r="1.7"/><circle cx="746.4" cy="299.8" r="1.7"/><circle cx="743.2" cy="325.1" r="1.7"/><circle cx="741.1" cy="307.7" r="1.7"/><circle cx="743.3" cy="309.5" r="1.7"/><circle cx="752.5" cy="307.8" r="1.7"/><circle cx="762.0" cy="301.9" r="1.7"/><circle cx="761.4" cy="369.4" r="1.7"/><circle cx="754.2" cy="309.4" r="1.7"/><circle cx="761.4" cy="285.1" r="1.7"/><circle cx="750.4" cy="315.9" r="1.7"/><circle cx="741.5" cy="237.5" r="1.7"/><circle cx="756.1" cy="288.9" r="1.7"/><circle cx="755.4" cy="363.1" r="1.7"/><circle cx="763.8" cy="282.8" r="1.7"/><circle cx="765.1" cy="318.9" r="1.7"/><circle cx="752.2" cy="305.8" r="1.7"/><circle cx="740.4" cy="253.2" r="1.7"/><circle cx="755.8" cy="278.1" r="1.7"/><circle cx="762.0" cy="318.4" r="1.7"/><circle cx="751.9" cy="316.5" r="1.7"/><circle cx="759.6" cy="303.8" r="1.7"/><circle cx="750.9" cy="326.9" r="1.7"/><circle cx="754.0" cy="312.6" r="1.7"/><circle cx="747.2" cy="266.6" r="1.7"/><circle cx="750.1" cy="266.4" r="1.7"/><circle cx="746.6" cy="306.7" r="1.7"/><circle cx="764.9" cy="306.3" r="1.7"/><circle cx="760.2" cy="286.6" r="1.7"/><circle cx="747.8" cy="318.9" r="1.7"/><circle cx="754.8" cy="321.1" r="1.7"/></g>
<g fill="#7AA9F5" fill-opacity="0.45"><circle cx="776.8" cy="243.0" r="1.7"/><circle cx="775.2" cy="351.0" r="1.7"/><circle cx="770.6" cy="206.6" r="1.7"/><circle cx="764.3" cy="346.4" r="1.7"/><circle cx="761.4" cy="368.1" r="1.7"/><circle cx="772.3" cy="196.5" r="1.7"/><circle cx="777.0" cy="240.2" r="1.7"/><circle cx="772.4" cy="199.9" r="1.7"/><circle cx="772.8" cy="245.2" r="1.7"/><circle cx="772.0" cy="235.5" r="1.7"/><circle cx="762.0" cy="237.4" r="1.7"/><circle cx="768.4" cy="239.1" r="1.7"/><circle cx="759.1" cy="228.5" r="1.7"/><circle cx="757.4" cy="298.4" r="1.7"/><circle cx="780.2" cy="227.5" r="1.7"/><circle cx="766.1" cy="240.5" r="1.7"/><circle cx="776.9" cy="220.8" r="1.7"/><circle cx="763.2" cy="251.8" r="1.7"/><circle cx="767.4" cy="281.9" r="1.7"/><circle cx="767.7" cy="280.0" r="1.7"/><circle cx="780.7" cy="242.2" r="1.7"/><circle cx="771.2" cy="344.2" r="1.7"/><circle cx="759.6" cy="351.3" r="1.7"/><circle cx="771.4" cy="222.9" r="1.7"/><circle cx="768.1" cy="197.3" r="1.7"/><circle cx="766.5" cy="364.0" r="1.7"/><circle cx="780.8" cy="248.2" r="1.7"/><circle cx="768.8" cy="176.6" r="1.7"/><circle cx="759.1" cy="269.3" r="1.7"/><circle cx="762.0" cy="241.8" r="1.7"/><circle cx="756.9" cy="306.6" r="1.7"/><circle cx="774.2" cy="368.9" r="1.7"/><circle cx="781.6" cy="316.6" r="1.7"/><circle cx="779.1" cy="329.5" r="1.7"/><circle cx="756.9" cy="314.0" r="1.7"/><circle cx="762.8" cy="232.7" r="1.7"/><circle cx="761.3" cy="231.0" r="1.7"/><circle cx="776.6" cy="346.2" r="1.7"/><circle cx="778.7" cy="233.4" r="1.7"/><circle cx="758.7" cy="231.5" r="1.7"/><circle cx="774.9" cy="243.8" r="1.7"/><circle cx="780.7" cy="263.9" r="1.7"/><circle cx="781.5" cy="287.3" r="1.7"/><circle cx="756.8" cy="233.0" r="1.7"/><circle cx="773.4" cy="363.7" r="1.7"/><circle cx="758.5" cy="221.7" r="1.7"/><circle cx="775.4" cy="280.9" r="1.7"/><circle cx="778.8" cy="302.4" r="1.7"/><circle cx="758.0" cy="261.0" r="1.7"/><circle cx="771.4" cy="274.4" r="1.7"/><circle cx="774.1" cy="266.4" r="1.7"/><circle cx="777.2" cy="308.7" r="1.7"/><circle cx="773.2" cy="274.9" r="1.7"/><circle cx="767.3" cy="243.6" r="1.7"/><circle cx="776.9" cy="272.4" r="1.7"/><circle cx="776.9" cy="189.0" r="1.7"/><circle cx="764.1" cy="251.3" r="1.7"/><circle cx="781.8" cy="341.4" r="1.7"/><circle cx="778.0" cy="234.7" r="1.7"/><circle cx="772.2" cy="278.5" r="1.7"/><circle cx="778.1" cy="177.9" r="1.7"/><circle cx="764.5" cy="247.1" r="1.7"/><circle cx="779.6" cy="267.5" r="1.7"/><circle cx="774.3" cy="273.4" r="1.7"/><circle cx="779.8" cy="247.0" r="1.7"/><circle cx="763.8" cy="223.3" r="1.7"/><circle cx="763.3" cy="370.5" r="1.7"/><circle cx="771.7" cy="268.2" r="1.7"/><circle cx="779.5" cy="221.9" r="1.7"/><circle cx="778.1" cy="349.9" r="1.7"/><circle cx="779.0" cy="222.6" r="1.7"/><circle cx="763.6" cy="250.7" r="1.7"/><circle cx="777.4" cy="215.0" r="1.7"/><circle cx="780.2" cy="236.9" r="1.7"/><circle cx="758.7" cy="276.8" r="1.7"/><circle cx="777.2" cy="252.9" r="1.7"/><circle cx="776.0" cy="294.1" r="1.7"/><circle cx="762.5" cy="193.3" r="1.7"/><circle cx="774.1" cy="246.4" r="1.7"/><circle cx="761.8" cy="263.3" r="1.7"/><circle cx="776.0" cy="287.3" r="1.7"/><circle cx="768.4" cy="225.6" r="1.7"/><circle cx="777.4" cy="329.7" r="1.7"/><circle cx="762.5" cy="227.8" r="1.7"/><circle cx="779.8" cy="249.7" r="1.7"/><circle cx="770.0" cy="206.8" r="1.7"/><circle cx="771.8" cy="262.1" r="1.7"/><circle cx="761.5" cy="296.5" r="1.7"/><circle cx="774.7" cy="298.5" r="1.7"/><circle cx="771.1" cy="275.0" r="1.7"/><circle cx="769.9" cy="270.5" r="1.7"/><circle cx="757.6" cy="307.4" r="1.7"/><circle cx="766.2" cy="170.6" r="1.7"/><circle cx="772.9" cy="322.3" r="1.7"/><circle cx="760.5" cy="226.2" r="1.7"/><circle cx="765.4" cy="247.6" r="1.7"/><circle cx="757.0" cy="257.0" r="1.7"/><circle cx="782.2" cy="354.2" r="1.7"/><circle cx="769.1" cy="211.6" r="1.7"/><circle cx="763.3" cy="251.2" r="1.7"/><circle cx="767.5" cy="227.1" r="1.7"/><circle cx="776.4" cy="188.5" r="1.7"/><circle cx="781.5" cy="221.4" r="1.7"/><circle cx="757.4" cy="287.3" r="1.7"/><circle cx="761.2" cy="294.0" r="1.7"/><circle cx="757.8" cy="331.4" r="1.7"/><circle cx="779.1" cy="252.4" r="1.7"/><circle cx="781.1" cy="264.1" r="1.7"/><circle cx="758.1" cy="199.9" r="1.7"/><circle cx="766.8" cy="247.5" r="1.7"/></g>
<line x1="820.0" y1="212.0" x2="820.0" y2="242.8" stroke="#54B54B" stroke-width="3.3" stroke-linecap="butt"/><line x1="820.0" y1="268.0" x2="820.0" y2="295.5" stroke="#54B54B" stroke-width="3.3"/><rect x="812.6" y="242.8" width="14.8" height="25.2" fill="#fff" stroke="#54B54B" stroke-width="3.3"/><line x1="812.6" y1="255.2" x2="827.4" y2="255.2" stroke="#54B54B" stroke-width="6.0"/>
<line x1="836.9" y1="188.2" x2="836.9" y2="273.8" stroke="#71A3F6" stroke-width="3.3" stroke-linecap="butt"/><line x1="836.9" y1="343.8" x2="836.9" y2="402.2" stroke="#71A3F6" stroke-width="3.3"/><rect x="829.5" y="273.8" width="14.8" height="70.0" fill="#fff" stroke="#71A3F6" stroke-width="3.3"/><line x1="829.5" y1="303.0" x2="844.3" y2="303.0" stroke="#71A3F6" stroke-width="6.0"/>
<rect x="795.4" y="252.8" width="15.4" height="6.3" fill="#E8786C"/>
<g fill="#5DBB55" fill-opacity="0.45"><circle cx="831.9" cy="277.7" r="1.7"/><circle cx="821.7" cy="267.6" r="1.7"/><circle cx="831.8" cy="248.2" r="1.7"/><circle cx="817.2" cy="246.8" r="1.7"/><circle cx="811.1" cy="257.8" r="1.7"/><circle cx="832.8" cy="218.5" r="1.7"/><circle cx="808.0" cy="268.8" r="1.7"/><circle cx="816.1" cy="267.7" r="1.7"/><circle cx="830.5" cy="228.8" r="1.7"/><circle cx="808.2" cy="237.1" r="1.7"/><circle cx="825.4" cy="241.4" r="1.7"/><circle cx="832.6" cy="247.9" r="1.7"/><circle cx="810.7" cy="286.4" r="1.7"/><circle cx="831.4" cy="242.7" r="1.7"/><circle cx="814.7" cy="246.4" r="1.7"/><circle cx="826.7" cy="250.7" r="1.7"/><circle cx="815.4" cy="279.4" r="1.7"/><circle cx="810.2" cy="267.6" r="1.7"/><circle cx="811.4" cy="256.2" r="1.7"/><circle cx="810.7" cy="268.2" r="1.7"/><circle cx="807.3" cy="246.4" r="1.7"/><circle cx="812.1" cy="244.4" r="1.7"/><circle cx="831.1" cy="289.4" r="1.7"/><circle cx="831.3" cy="268.9" r="1.7"/><circle cx="830.1" cy="233.7" r="1.7"/><circle cx="818.6" cy="275.4" r="1.7"/><circle cx="831.1" cy="280.5" r="1.7"/><circle cx="823.3" cy="236.6" r="1.7"/><circle cx="815.8" cy="257.6" r="1.7"/><circle cx="819.4" cy="238.5" r="1.7"/><circle cx="810.7" cy="248.8" r="1.7"/><circle cx="808.5" cy="268.8" r="1.7"/><circle cx="821.4" cy="244.6" r="1.7"/><circle cx="829.6" cy="274.9" r="1.7"/><circle cx="817.7" cy="267.2" r="1.7"/><circle cx="814.0" cy="273.8" r="1.7"/><circle cx="815.7" cy="236.8" r="1.7"/><circle cx="819.7" cy="272.6" r="1.7"/><circle cx="830.5" cy="264.5" r="1.7"/><circle cx="832.4" cy="278.4" r="1.7"/><circle cx="830.3" cy="286.2" r="1.7"/><circle cx="812.5" cy="246.9" r="1.7"/><circle cx="814.4" cy="256.4" r="1.7"/><circle cx="812.2" cy="267.6" r="1.7"/><circle cx="832.7" cy="262.1" r="1.7"/><circle cx="831.0" cy="212.4" r="1.7"/><circle cx="814.5" cy="280.5" r="1.7"/><circle cx="808.5" cy="229.7" r="1.7"/><circle cx="814.6" cy="244.0" r="1.7"/><circle cx="807.4" cy="216.1" r="1.7"/><circle cx="815.8" cy="239.9" r="1.7"/><circle cx="807.0" cy="275.4" r="1.7"/><circle cx="820.7" cy="237.6" r="1.7"/><circle cx="818.3" cy="271.1" r="1.7"/><circle cx="812.7" cy="227.4" r="1.7"/><circle cx="810.6" cy="251.7" r="1.7"/><circle cx="827.0" cy="271.6" r="1.7"/><circle cx="812.1" cy="244.7" r="1.7"/><circle cx="809.3" cy="282.9" r="1.7"/><circle cx="819.9" cy="249.8" r="1.7"/><circle cx="812.3" cy="266.8" r="1.7"/><circle cx="825.4" cy="249.6" r="1.7"/><circle cx="822.1" cy="239.5" r="1.7"/><circle cx="808.7" cy="269.9" r="1.7"/><circle cx="817.6" cy="243.7" r="1.7"/><circle cx="808.4" cy="244.2" r="1.7"/><circle cx="815.7" cy="239.6" r="1.7"/><circle cx="829.5" cy="236.6" r="1.7"/><circle cx="807.4" cy="255.6" r="1.7"/><circle cx="819.4" cy="227.7" r="1.7"/><circle cx="813.9" cy="233.0" r="1.7"/><circle cx="828.6" cy="271.1" r="1.7"/><circle cx="811.2" cy="262.0" r="1.7"/><circle cx="822.4" cy="261.8" r="1.7"/><circle cx="820.5" cy="294.7" r="1.7"/><circle cx="820.4" cy="258.0" r="1.7"/><circle cx="825.6" cy="277.6" r="1.7"/><circle cx="829.5" cy="239.1" r="1.7"/><circle cx="825.5" cy="264.4" r="1.7"/><circle cx="826.5" cy="261.3" r="1.7"/><circle cx="829.7" cy="285.5" r="1.7"/><circle cx="819.8" cy="220.5" r="1.7"/><circle cx="820.8" cy="254.5" r="1.7"/><circle cx="807.5" cy="253.3" r="1.7"/><circle cx="812.8" cy="218.2" r="1.7"/><circle cx="809.6" cy="271.4" r="1.7"/><circle cx="828.2" cy="268.0" r="1.7"/><circle cx="809.5" cy="290.4" r="1.7"/><circle cx="812.1" cy="245.3" r="1.7"/><circle cx="822.6" cy="292.5" r="1.7"/><circle cx="820.6" cy="251.4" r="1.7"/><circle cx="809.7" cy="245.1" r="1.7"/><circle cx="825.6" cy="233.3" r="1.7"/><circle cx="810.2" cy="288.0" r="1.7"/><circle cx="820.0" cy="255.5" r="1.7"/><circle cx="810.2" cy="266.5" r="1.7"/><circle cx="810.5" cy="260.0" r="1.7"/><circle cx="829.4" cy="250.6" r="1.7"/><circle cx="821.9" cy="274.6" r="1.7"/><circle cx="811.3" cy="243.0" r="1.7"/><circle cx="831.4" cy="238.2" r="1.7"/><circle cx="817.9" cy="260.9" r="1.7"/><circle cx="820.6" cy="236.8" r="1.7"/><circle cx="831.5" cy="260.5" r="1.7"/><circle cx="815.8" cy="241.9" r="1.7"/><circle cx="815.7" cy="268.1" r="1.7"/><circle cx="832.5" cy="258.5" r="1.7"/><circle cx="830.7" cy="240.1" r="1.7"/><circle cx="829.0" cy="239.2" r="1.7"/><circle cx="820.4" cy="286.7" r="1.7"/></g>
<g fill="#7AA9F5" fill-opacity="0.45"><circle cx="848.2" cy="210.1" r="1.7"/><circle cx="834.9" cy="343.8" r="1.7"/><circle cx="833.4" cy="287.5" r="1.7"/><circle cx="825.7" cy="299.4" r="1.7"/><circle cx="837.0" cy="313.9" r="1.7"/><circle cx="827.5" cy="394.6" r="1.7"/><circle cx="844.1" cy="204.2" r="1.7"/><circle cx="840.3" cy="220.0" r="1.7"/><circle cx="846.9" cy="265.2" r="1.7"/><circle cx="824.8" cy="242.0" r="1.7"/><circle cx="830.8" cy="286.5" r="1.7"/><circle cx="831.0" cy="282.2" r="1.7"/><circle cx="847.9" cy="298.1" r="1.7"/><circle cx="830.4" cy="288.8" r="1.7"/><circle cx="835.2" cy="300.6" r="1.7"/><circle cx="831.4" cy="213.5" r="1.7"/><circle cx="840.7" cy="334.8" r="1.7"/><circle cx="839.3" cy="364.2" r="1.7"/><circle cx="837.2" cy="211.0" r="1.7"/><circle cx="836.0" cy="340.8" r="1.7"/><circle cx="827.7" cy="299.0" r="1.7"/><circle cx="827.3" cy="363.3" r="1.7"/><circle cx="834.5" cy="336.7" r="1.7"/><circle cx="830.2" cy="337.5" r="1.7"/><circle cx="838.1" cy="373.0" r="1.7"/><circle cx="839.7" cy="257.2" r="1.7"/><circle cx="840.8" cy="294.8" r="1.7"/><circle cx="842.3" cy="348.1" r="1.7"/><circle cx="838.1" cy="309.4" r="1.7"/><circle cx="836.1" cy="289.8" r="1.7"/><circle cx="830.2" cy="333.9" r="1.7"/><circle cx="837.2" cy="345.6" r="1.7"/><circle cx="839.1" cy="322.1" r="1.7"/><circle cx="833.0" cy="397.8" r="1.7"/><circle cx="830.1" cy="250.2" r="1.7"/><circle cx="836.7" cy="296.4" r="1.7"/><circle cx="849.6" cy="338.1" r="1.7"/><circle cx="844.0" cy="336.4" r="1.7"/><circle cx="825.6" cy="355.5" r="1.7"/><circle cx="835.3" cy="246.9" r="1.7"/><circle cx="834.0" cy="380.8" r="1.7"/><circle cx="843.0" cy="312.8" r="1.7"/><circle cx="829.7" cy="367.1" r="1.7"/><circle cx="843.1" cy="209.4" r="1.7"/><circle cx="832.6" cy="356.3" r="1.7"/><circle cx="841.4" cy="327.1" r="1.7"/><circle cx="846.0" cy="289.4" r="1.7"/><circle cx="837.3" cy="262.3" r="1.7"/><circle cx="843.2" cy="275.1" r="1.7"/><circle cx="836.2" cy="273.3" r="1.7"/><circle cx="842.3" cy="270.1" r="1.7"/><circle cx="827.2" cy="229.9" r="1.7"/><circle cx="824.0" cy="247.1" r="1.7"/><circle cx="839.1" cy="272.8" r="1.7"/><circle cx="848.9" cy="303.3" r="1.7"/><circle cx="834.7" cy="294.6" r="1.7"/><circle cx="846.6" cy="270.3" r="1.7"/><circle cx="833.7" cy="290.5" r="1.7"/><circle cx="835.8" cy="310.8" r="1.7"/><circle cx="831.5" cy="276.9" r="1.7"/><circle cx="838.3" cy="320.8" r="1.7"/><circle cx="832.3" cy="321.8" r="1.7"/><circle cx="846.0" cy="269.8" r="1.7"/><circle cx="835.4" cy="303.1" r="1.7"/><circle cx="831.8" cy="350.7" r="1.7"/><circle cx="838.8" cy="358.4" r="1.7"/><circle cx="826.2" cy="293.5" r="1.7"/><circle cx="832.3" cy="227.5" r="1.7"/><circle cx="845.7" cy="256.1" r="1.7"/><circle cx="829.2" cy="209.6" r="1.7"/><circle cx="847.6" cy="315.0" r="1.7"/><circle cx="825.1" cy="398.3" r="1.7"/><circle cx="836.8" cy="295.4" r="1.7"/><circle cx="844.0" cy="227.5" r="1.7"/><circle cx="849.8" cy="298.5" r="1.7"/><circle cx="837.3" cy="301.0" r="1.7"/><circle cx="834.0" cy="281.4" r="1.7"/><circle cx="839.3" cy="326.2" r="1.7"/><circle cx="848.5" cy="327.3" r="1.7"/><circle cx="837.5" cy="282.4" r="1.7"/><circle cx="833.6" cy="369.9" r="1.7"/><circle cx="838.5" cy="319.2" r="1.7"/><circle cx="846.8" cy="294.4" r="1.7"/><circle cx="836.5" cy="206.8" r="1.7"/><circle cx="840.1" cy="312.8" r="1.7"/><circle cx="832.8" cy="190.3" r="1.7"/><circle cx="845.1" cy="299.5" r="1.7"/><circle cx="832.2" cy="353.1" r="1.7"/><circle cx="845.4" cy="199.7" r="1.7"/><circle cx="826.8" cy="301.5" r="1.7"/><circle cx="841.8" cy="238.2" r="1.7"/><circle cx="849.6" cy="262.5" r="1.7"/><circle cx="834.8" cy="240.7" r="1.7"/><circle cx="831.4" cy="355.9" r="1.7"/><circle cx="837.0" cy="301.6" r="1.7"/><circle cx="828.6" cy="350.1" r="1.7"/><circle cx="839.6" cy="287.8" r="1.7"/><circle cx="849.7" cy="327.0" r="1.7"/><circle cx="825.0" cy="287.1" r="1.7"/><circle cx="844.4" cy="317.5" r="1.7"/><circle cx="841.8" cy="334.5" r="1.7"/><circle cx="831.8" cy="400.7" r="1.7"/><circle cx="839.1" cy="256.5" r="1.7"/><circle cx="829.0" cy="283.4" r="1.7"/><circle cx="838.3" cy="303.3" r="1.7"/><circle cx="840.7" cy="341.2" r="1.7"/><circle cx="849.8" cy="299.3" r="1.7"/><circle cx="834.6" cy="294.3" r="1.7"/><circle cx="828.0" cy="363.9" r="1.7"/><circle cx="826.7" cy="273.3" r="1.7"/></g>
<line x1="887.4" y1="184.5" x2="887.4" y2="221.3" stroke="#54B54B" stroke-width="3.3" stroke-linecap="butt"/><line x1="887.4" y1="249.3" x2="887.4" y2="292.0" stroke="#54B54B" stroke-width="3.3"/><rect x="880.0" y="221.3" width="14.8" height="28.0" fill="#fff" stroke="#54B54B" stroke-width="3.3"/><line x1="880.0" y1="235.3" x2="894.8" y2="235.3" stroke="#54B54B" stroke-width="6.0"/>
<line x1="904.3" y1="300.2" x2="904.3" y2="318.2" stroke="#71A3F6" stroke-width="3.3" stroke-linecap="butt"/><line x1="904.3" y1="331.0" x2="904.3" y2="340.3" stroke="#71A3F6" stroke-width="3.3"/><rect x="896.9" y="318.2" width="14.8" height="12.8" fill="#fff" stroke="#71A3F6" stroke-width="3.3"/><line x1="896.9" y1="325.2" x2="911.7" y2="325.2" stroke="#71A3F6" stroke-width="6.0"/>
<rect x="862.8" y="182.0" width="15.4" height="6.3" fill="#E8786C"/>
<g fill="#5DBB55" fill-opacity="0.45"><circle cx="878.8" cy="268.1" r="1.7"/><circle cx="895.8" cy="234.0" r="1.7"/><circle cx="895.4" cy="229.0" r="1.7"/><circle cx="874.7" cy="276.3" r="1.7"/><circle cx="882.8" cy="220.6" r="1.7"/><circle cx="883.6" cy="223.2" r="1.7"/><circle cx="881.3" cy="256.3" r="1.7"/><circle cx="897.9" cy="268.3" r="1.7"/><circle cx="883.5" cy="230.7" r="1.7"/><circle cx="884.4" cy="238.1" r="1.7"/><circle cx="897.6" cy="278.1" r="1.7"/><circle cx="899.3" cy="230.7" r="1.7"/><circle cx="890.5" cy="238.7" r="1.7"/><circle cx="875.5" cy="249.3" r="1.7"/><circle cx="896.6" cy="199.4" r="1.7"/><circle cx="897.8" cy="245.7" r="1.7"/><circle cx="882.3" cy="216.9" r="1.7"/><circle cx="899.4" cy="229.6" r="1.7"/><circle cx="899.1" cy="235.5" r="1.7"/><circle cx="884.5" cy="249.4" r="1.7"/><circle cx="880.2" cy="223.1" r="1.7"/><circle cx="897.2" cy="246.0" r="1.7"/><circle cx="895.0" cy="236.2" r="1.7"/><circle cx="878.9" cy="249.4" r="1.7"/><circle cx="879.3" cy="243.2" r="1.7"/><circle cx="882.0" cy="191.0" r="1.7"/><circle cx="877.4" cy="231.9" r="1.7"/><circle cx="884.4" cy="233.4" r="1.7"/><circle cx="876.1" cy="240.7" r="1.7"/><circle cx="895.9" cy="263.7" r="1.7"/><circle cx="880.8" cy="243.6" r="1.7"/><circle cx="881.8" cy="253.5" r="1.7"/><circle cx="875.3" cy="249.7" r="1.7"/><circle cx="883.3" cy="226.1" r="1.7"/><circle cx="892.8" cy="258.2" r="1.7"/><circle cx="881.4" cy="269.7" r="1.7"/><circle cx="877.7" cy="214.7" r="1.7"/><circle cx="896.1" cy="238.5" r="1.7"/><circle cx="878.5" cy="218.0" r="1.7"/><circle cx="893.2" cy="243.5" r="1.7"/><circle cx="899.3" cy="242.2" r="1.7"/><circle cx="899.1" cy="251.8" r="1.7"/><circle cx="880.3" cy="235.0" r="1.7"/><circle cx="877.8" cy="237.9" r="1.7"/><circle cx="881.2" cy="223.7" r="1.7"/><circle cx="889.7" cy="205.1" r="1.7"/><circle cx="880.8" cy="242.7" r="1.7"/><circle cx="879.9" cy="229.2" r="1.7"/><circle cx="877.6" cy="209.6" r="1.7"/><circle cx="888.5" cy="234.6" r="1.7"/><circle cx="894.5" cy="248.2" r="1.7"/><circle cx="891.5" cy="241.8" r="1.7"/><circle cx="882.5" cy="231.5" r="1.7"/><circle cx="876.6" cy="241.5" r="1.7"/><circle cx="896.5" cy="255.3" r="1.7"/><circle cx="891.6" cy="245.3" r="1.7"/><circle cx="889.0" cy="266.4" r="1.7"/><circle cx="887.4" cy="243.1" r="1.7"/><circle cx="876.1" cy="246.7" r="1.7"/><circle cx="880.3" cy="245.9" r="1.7"/><circle cx="893.0" cy="263.2" r="1.7"/><circle cx="884.9" cy="247.5" r="1.7"/><circle cx="894.5" cy="203.5" r="1.7"/><circle cx="896.8" cy="207.9" r="1.7"/><circle cx="881.6" cy="262.1" r="1.7"/><circle cx="892.1" cy="284.2" r="1.7"/><circle cx="883.5" cy="226.1" r="1.7"/><circle cx="891.5" cy="240.2" r="1.7"/><circle cx="880.9" cy="224.1" r="1.7"/><circle cx="883.6" cy="213.2" r="1.7"/><circle cx="879.1" cy="228.1" r="1.7"/><circle cx="898.1" cy="265.2" r="1.7"/><circle cx="892.9" cy="222.2" r="1.7"/><circle cx="875.4" cy="281.5" r="1.7"/><circle cx="879.6" cy="257.3" r="1.7"/><circle cx="884.3" cy="246.3" r="1.7"/><circle cx="882.5" cy="281.8" r="1.7"/><circle cx="879.1" cy="227.6" r="1.7"/><circle cx="889.2" cy="214.2" r="1.7"/><circle cx="881.0" cy="223.2" r="1.7"/><circle cx="892.2" cy="238.9" r="1.7"/><circle cx="874.4" cy="243.8" r="1.7"/><circle cx="894.6" cy="214.8" r="1.7"/><circle cx="875.5" cy="247.3" r="1.7"/><circle cx="890.2" cy="212.2" r="1.7"/><circle cx="880.8" cy="279.8" r="1.7"/><circle cx="895.0" cy="266.0" r="1.7"/><circle cx="898.2" cy="251.6" r="1.7"/><circle cx="876.6" cy="221.3" r="1.7"/><circle cx="884.6" cy="224.4" r="1.7"/><circle cx="895.9" cy="221.4" r="1.7"/><circle cx="876.7" cy="247.6" r="1.7"/><circle cx="885.4" cy="196.3" r="1.7"/><circle cx="892.4" cy="199.5" r="1.7"/><circle cx="896.0" cy="221.9" r="1.7"/><circle cx="886.2" cy="228.1" r="1.7"/><circle cx="892.6" cy="278.2" r="1.7"/><circle cx="887.7" cy="239.3" r="1.7"/><circle cx="877.7" cy="199.9" r="1.7"/><circle cx="875.5" cy="221.0" r="1.7"/><circle cx="895.3" cy="223.9" r="1.7"/><circle cx="888.6" cy="248.7" r="1.7"/><circle cx="891.0" cy="191.4" r="1.7"/><circle cx="880.9" cy="232.8" r="1.7"/><circle cx="883.7" cy="277.0" r="1.7"/><circle cx="879.6" cy="240.2" r="1.7"/><circle cx="878.0" cy="245.9" r="1.7"/><circle cx="891.8" cy="223.7" r="1.7"/><circle cx="880.7" cy="249.6" r="1.7"/><circle cx="886.0" cy="234.4" r="1.7"/></g>
<g fill="#7AA9F5" fill-opacity="0.45"><circle cx="900.4" cy="307.0" r="1.7"/><circle cx="914.3" cy="329.9" r="1.7"/><circle cx="905.9" cy="333.4" r="1.7"/><circle cx="912.5" cy="329.1" r="1.7"/><circle cx="911.1" cy="323.8" r="1.7"/><circle cx="908.6" cy="332.5" r="1.7"/><circle cx="903.3" cy="322.4" r="1.7"/><circle cx="912.9" cy="318.0" r="1.7"/><circle cx="898.8" cy="334.5" r="1.7"/><circle cx="896.7" cy="328.4" r="1.7"/><circle cx="898.6" cy="337.0" r="1.7"/><circle cx="909.5" cy="331.8" r="1.7"/><circle cx="894.2" cy="326.4" r="1.7"/><circle cx="903.5" cy="329.3" r="1.7"/><circle cx="895.7" cy="328.4" r="1.7"/><circle cx="891.6" cy="336.4" r="1.7"/><circle cx="910.8" cy="301.1" r="1.7"/><circle cx="909.9" cy="335.8" r="1.7"/><circle cx="906.0" cy="302.4" r="1.7"/><circle cx="904.0" cy="334.7" r="1.7"/><circle cx="896.2" cy="326.7" r="1.7"/><circle cx="891.5" cy="324.0" r="1.7"/><circle cx="908.1" cy="308.5" r="1.7"/><circle cx="915.6" cy="321.6" r="1.7"/><circle cx="897.8" cy="320.9" r="1.7"/><circle cx="894.9" cy="331.0" r="1.7"/><circle cx="911.4" cy="338.7" r="1.7"/><circle cx="899.0" cy="314.7" r="1.7"/><circle cx="907.9" cy="332.1" r="1.7"/><circle cx="915.4" cy="314.3" r="1.7"/><circle cx="911.7" cy="332.5" r="1.7"/><circle cx="910.6" cy="315.3" r="1.7"/><circle cx="896.1" cy="329.2" r="1.7"/><circle cx="899.6" cy="315.6" r="1.7"/><circle cx="905.6" cy="328.3" r="1.7"/><circle cx="912.9" cy="328.2" r="1.7"/><circle cx="892.4" cy="331.1" r="1.7"/><circle cx="907.6" cy="323.3" r="1.7"/><circle cx="909.6" cy="315.9" r="1.7"/><circle cx="915.9" cy="309.8" r="1.7"/><circle cx="904.3" cy="325.3" r="1.7"/><circle cx="899.1" cy="332.9" r="1.7"/><circle cx="893.4" cy="322.9" r="1.7"/><circle cx="895.6" cy="319.9" r="1.7"/><circle cx="916.5" cy="326.5" r="1.7"/><circle cx="892.3" cy="335.6" r="1.7"/><circle cx="896.3" cy="326.6" r="1.7"/><circle cx="891.4" cy="319.0" r="1.7"/><circle cx="913.5" cy="314.6" r="1.7"/><circle cx="902.4" cy="317.4" r="1.7"/><circle cx="908.5" cy="330.2" r="1.7"/><circle cx="902.3" cy="324.8" r="1.7"/><circle cx="902.7" cy="328.9" r="1.7"/><circle cx="912.8" cy="320.5" r="1.7"/><circle cx="895.6" cy="309.9" r="1.7"/><circle cx="902.8" cy="329.9" r="1.7"/><circle cx="900.4" cy="323.4" r="1.7"/><circle cx="893.5" cy="331.8" r="1.7"/><circle cx="903.3" cy="329.3" r="1.7"/><circle cx="914.9" cy="303.4" r="1.7"/><circle cx="916.6" cy="313.0" r="1.7"/><circle cx="907.4" cy="304.4" r="1.7"/><circle cx="892.9" cy="316.3" r="1.7"/><circle cx="907.1" cy="320.3" r="1.7"/><circle cx="906.1" cy="329.9" r="1.7"/><circle cx="903.8" cy="305.3" r="1.7"/><circle cx="899.1" cy="321.1" r="1.7"/><circle cx="914.3" cy="328.8" r="1.7"/><circle cx="896.2" cy="338.7" r="1.7"/><circle cx="902.9" cy="320.2" r="1.7"/><circle cx="908.5" cy="335.8" r="1.7"/><circle cx="906.4" cy="328.2" r="1.7"/><circle cx="905.1" cy="327.1" r="1.7"/><circle cx="901.6" cy="323.4" r="1.7"/><circle cx="896.0" cy="334.5" r="1.7"/><circle cx="905.6" cy="311.1" r="1.7"/><circle cx="913.7" cy="334.6" r="1.7"/><circle cx="893.8" cy="330.9" r="1.7"/><circle cx="897.8" cy="324.3" r="1.7"/><circle cx="905.7" cy="325.4" r="1.7"/><circle cx="906.2" cy="331.2" r="1.7"/><circle cx="904.6" cy="334.6" r="1.7"/><circle cx="893.4" cy="322.7" r="1.7"/><circle cx="893.2" cy="327.3" r="1.7"/><circle cx="913.8" cy="326.6" r="1.7"/><circle cx="909.9" cy="323.8" r="1.7"/><circle cx="894.3" cy="318.1" r="1.7"/><circle cx="910.1" cy="301.3" r="1.7"/><circle cx="912.9" cy="335.0" r="1.7"/><circle cx="895.8" cy="327.7" r="1.7"/><circle cx="905.9" cy="304.6" r="1.7"/><circle cx="894.9" cy="317.7" r="1.7"/><circle cx="892.8" cy="317.7" r="1.7"/><circle cx="901.0" cy="331.1" r="1.7"/><circle cx="906.8" cy="339.4" r="1.7"/><circle cx="899.1" cy="331.4" r="1.7"/><circle cx="902.4" cy="319.4" r="1.7"/><circle cx="907.5" cy="311.2" r="1.7"/><circle cx="905.9" cy="312.5" r="1.7"/><circle cx="913.9" cy="308.7" r="1.7"/><circle cx="910.7" cy="332.6" r="1.7"/><circle cx="911.2" cy="328.9" r="1.7"/><circle cx="912.8" cy="320.1" r="1.7"/><circle cx="901.0" cy="334.2" r="1.7"/><circle cx="915.9" cy="318.6" r="1.7"/><circle cx="892.4" cy="319.0" r="1.7"/><circle cx="893.9" cy="322.3" r="1.7"/><circle cx="912.2" cy="323.8" r="1.7"/><circle cx="915.4" cy="334.6" r="1.7"/><circle cx="897.9" cy="320.3" r="1.7"/></g>
<line x1="954.8" y1="281.3" x2="954.8" y2="311.2" stroke="#54B54B" stroke-width="3.3" stroke-linecap="butt"/><line x1="954.8" y1="333.3" x2="954.8" y2="366.0" stroke="#54B54B" stroke-width="3.3"/><rect x="947.4" y="311.2" width="14.8" height="22.1" fill="#fff" stroke="#54B54B" stroke-width="3.3"/><line x1="947.4" y1="324.0" x2="962.2" y2="324.0" stroke="#54B54B" stroke-width="6.0"/>
<line x1="971.7" y1="205.0" x2="971.7" y2="225.3" stroke="#71A3F6" stroke-width="3.3" stroke-linecap="butt"/><line x1="971.7" y1="241.9" x2="971.7" y2="266.8" stroke="#71A3F6" stroke-width="3.3"/><rect x="964.3" y="225.3" width="14.8" height="16.6" fill="#fff" stroke="#71A3F6" stroke-width="3.3"/><line x1="964.3" y1="238.4" x2="979.1" y2="238.4" stroke="#71A3F6" stroke-width="6.0"/>
<rect x="930.2" y="356.4" width="15.4" height="6.3" fill="#E8786C"/>
<g fill="#5DBB55" fill-opacity="0.45"><circle cx="953.4" cy="336.4" r="1.7"/><circle cx="956.9" cy="305.6" r="1.7"/><circle cx="942.4" cy="345.7" r="1.7"/><circle cx="962.6" cy="346.2" r="1.7"/><circle cx="956.2" cy="337.1" r="1.7"/><circle cx="959.7" cy="331.8" r="1.7"/><circle cx="945.6" cy="328.4" r="1.7"/><circle cx="955.8" cy="301.3" r="1.7"/><circle cx="962.8" cy="314.3" r="1.7"/><circle cx="942.2" cy="290.5" r="1.7"/><circle cx="945.7" cy="329.9" r="1.7"/><circle cx="964.5" cy="323.9" r="1.7"/><circle cx="942.7" cy="308.9" r="1.7"/><circle cx="963.1" cy="337.3" r="1.7"/><circle cx="952.0" cy="314.8" r="1.7"/><circle cx="945.9" cy="324.9" r="1.7"/><circle cx="952.0" cy="304.8" r="1.7"/><circle cx="957.7" cy="301.6" r="1.7"/><circle cx="950.4" cy="351.6" r="1.7"/><circle cx="965.1" cy="334.6" r="1.7"/><circle cx="943.0" cy="319.4" r="1.7"/><circle cx="951.2" cy="338.6" r="1.7"/><circle cx="956.8" cy="325.2" r="1.7"/><circle cx="951.0" cy="328.2" r="1.7"/><circle cx="956.9" cy="364.8" r="1.7"/><circle cx="942.4" cy="330.2" r="1.7"/><circle cx="967.5" cy="325.5" r="1.7"/><circle cx="945.6" cy="357.0" r="1.7"/><circle cx="948.9" cy="315.2" r="1.7"/><circle cx="954.8" cy="332.4" r="1.7"/><circle cx="956.6" cy="332.9" r="1.7"/><circle cx="966.7" cy="322.6" r="1.7"/><circle cx="942.7" cy="282.8" r="1.7"/><circle cx="961.9" cy="320.9" r="1.7"/><circle cx="962.0" cy="301.7" r="1.7"/><circle cx="958.3" cy="317.2" r="1.7"/><circle cx="949.1" cy="329.1" r="1.7"/><circle cx="964.5" cy="309.3" r="1.7"/><circle cx="959.5" cy="292.1" r="1.7"/><circle cx="961.7" cy="331.3" r="1.7"/><circle cx="955.1" cy="311.7" r="1.7"/><circle cx="950.9" cy="317.1" r="1.7"/><circle cx="952.4" cy="321.4" r="1.7"/><circle cx="950.6" cy="354.3" r="1.7"/><circle cx="967.5" cy="330.6" r="1.7"/><circle cx="951.4" cy="324.7" r="1.7"/><circle cx="947.9" cy="333.4" r="1.7"/><circle cx="945.3" cy="329.6" r="1.7"/><circle cx="964.5" cy="364.5" r="1.7"/><circle cx="953.4" cy="325.7" r="1.7"/><circle cx="949.7" cy="320.5" r="1.7"/><circle cx="943.5" cy="338.7" r="1.7"/><circle cx="949.8" cy="331.4" r="1.7"/><circle cx="956.2" cy="312.4" r="1.7"/><circle cx="950.7" cy="292.3" r="1.7"/><circle cx="957.0" cy="294.9" r="1.7"/><circle cx="946.5" cy="350.9" r="1.7"/><circle cx="967.5" cy="319.9" r="1.7"/><circle cx="962.0" cy="329.3" r="1.7"/><circle cx="964.4" cy="326.7" r="1.7"/><circle cx="954.4" cy="353.0" r="1.7"/><circle cx="949.0" cy="298.1" r="1.7"/><circle cx="942.4" cy="333.0" r="1.7"/><circle cx="948.8" cy="339.2" r="1.7"/><circle cx="947.5" cy="313.5" r="1.7"/><circle cx="947.0" cy="327.7" r="1.7"/><circle cx="964.3" cy="318.7" r="1.7"/><circle cx="946.9" cy="316.4" r="1.7"/><circle cx="966.9" cy="312.0" r="1.7"/><circle cx="943.9" cy="318.8" r="1.7"/><circle cx="964.6" cy="308.2" r="1.7"/><circle cx="945.4" cy="329.9" r="1.7"/><circle cx="955.8" cy="336.8" r="1.7"/><circle cx="958.5" cy="301.3" r="1.7"/><circle cx="947.3" cy="294.6" r="1.7"/><circle cx="961.3" cy="330.4" r="1.7"/><circle cx="952.4" cy="316.4" r="1.7"/><circle cx="950.6" cy="314.8" r="1.7"/><circle cx="952.6" cy="354.8" r="1.7"/><circle cx="958.1" cy="357.0" r="1.7"/><circle cx="954.7" cy="330.2" r="1.7"/><circle cx="948.5" cy="319.0" r="1.7"/><circle cx="942.2" cy="325.4" r="1.7"/><circle cx="956.5" cy="294.3" r="1.7"/><circle cx="943.3" cy="283.7" r="1.7"/><circle cx="960.6" cy="318.2" r="1.7"/><circle cx="944.2" cy="330.4" r="1.7"/><circle cx="945.5" cy="340.1" r="1.7"/><circle cx="944.2" cy="310.8" r="1.7"/><circle cx="952.8" cy="307.8" r="1.7"/><circle cx="957.1" cy="322.0" r="1.7"/><circle cx="958.9" cy="321.2" r="1.7"/><circle cx="950.4" cy="318.8" r="1.7"/><circle cx="948.5" cy="311.7" r="1.7"/><circle cx="961.7" cy="313.2" r="1.7"/><circle cx="949.9" cy="310.4" r="1.7"/><circle cx="967.2" cy="310.6" r="1.7"/><circle cx="949.1" cy="325.7" r="1.7"/><circle cx="966.3" cy="322.8" r="1.7"/><circle cx="942.1" cy="343.2" r="1.7"/><circle cx="958.9" cy="324.9" r="1.7"/><circle cx="951.2" cy="310.5" r="1.7"/><circle cx="947.8" cy="283.3" r="1.7"/><circle cx="944.2" cy="311.1" r="1.7"/><circle cx="945.3" cy="360.3" r="1.7"/><circle cx="954.9" cy="354.3" r="1.7"/><circle cx="946.5" cy="321.2" r="1.7"/><circle cx="951.3" cy="292.0" r="1.7"/><circle cx="946.4" cy="340.9" r="1.7"/><circle cx="965.8" cy="311.8" r="1.7"/></g>
<g fill="#7AA9F5" fill-opacity="0.45"><circle cx="959.5" cy="246.6" r="1.7"/><circle cx="965.0" cy="224.7" r="1.7"/><circle cx="971.7" cy="207.2" r="1.7"/><circle cx="967.7" cy="231.3" r="1.7"/><circle cx="970.7" cy="223.7" r="1.7"/><circle cx="982.2" cy="240.9" r="1.7"/><circle cx="977.8" cy="252.0" r="1.7"/><circle cx="975.5" cy="257.2" r="1.7"/><circle cx="981.2" cy="239.8" r="1.7"/><circle cx="973.4" cy="258.0" r="1.7"/><circle cx="982.6" cy="239.7" r="1.7"/><circle cx="975.0" cy="211.7" r="1.7"/><circle cx="965.3" cy="242.6" r="1.7"/><circle cx="970.0" cy="241.7" r="1.7"/><circle cx="964.0" cy="242.3" r="1.7"/><circle cx="975.4" cy="225.2" r="1.7"/><circle cx="984.6" cy="241.2" r="1.7"/><circle cx="973.5" cy="242.9" r="1.7"/><circle cx="981.2" cy="247.0" r="1.7"/><circle cx="965.7" cy="219.1" r="1.7"/><circle cx="980.1" cy="225.3" r="1.7"/><circle cx="967.3" cy="241.4" r="1.7"/><circle cx="981.9" cy="238.6" r="1.7"/><circle cx="976.5" cy="246.6" r="1.7"/><circle cx="970.5" cy="233.3" r="1.7"/><circle cx="981.7" cy="234.2" r="1.7"/><circle cx="981.7" cy="243.2" r="1.7"/><circle cx="979.0" cy="240.4" r="1.7"/><circle cx="963.5" cy="219.6" r="1.7"/><circle cx="984.6" cy="219.5" r="1.7"/><circle cx="959.4" cy="241.2" r="1.7"/><circle cx="984.1" cy="251.6" r="1.7"/><circle cx="982.4" cy="265.3" r="1.7"/><circle cx="977.9" cy="247.6" r="1.7"/><circle cx="963.1" cy="253.2" r="1.7"/><circle cx="961.1" cy="228.8" r="1.7"/><circle cx="982.6" cy="240.6" r="1.7"/><circle cx="981.7" cy="227.1" r="1.7"/><circle cx="959.6" cy="207.6" r="1.7"/><circle cx="979.3" cy="242.2" r="1.7"/><circle cx="959.7" cy="228.5" r="1.7"/><circle cx="964.7" cy="238.1" r="1.7"/><circle cx="961.4" cy="239.4" r="1.7"/><circle cx="984.5" cy="263.7" r="1.7"/><circle cx="981.6" cy="241.0" r="1.7"/><circle cx="971.4" cy="250.6" r="1.7"/><circle cx="969.9" cy="249.0" r="1.7"/><circle cx="976.5" cy="245.2" r="1.7"/><circle cx="977.9" cy="247.8" r="1.7"/><circle cx="961.6" cy="238.4" r="1.7"/><circle cx="971.6" cy="240.4" r="1.7"/><circle cx="967.8" cy="214.5" r="1.7"/><circle cx="983.9" cy="243.0" r="1.7"/><circle cx="977.7" cy="217.9" r="1.7"/><circle cx="963.3" cy="241.6" r="1.7"/><circle cx="960.5" cy="241.7" r="1.7"/><circle cx="971.9" cy="260.3" r="1.7"/><circle cx="973.2" cy="239.7" r="1.7"/><circle cx="959.0" cy="240.3" r="1.7"/><circle cx="975.7" cy="228.5" r="1.7"/><circle cx="973.0" cy="236.1" r="1.7"/><circle cx="984.3" cy="228.4" r="1.7"/><circle cx="977.4" cy="218.7" r="1.7"/><circle cx="967.0" cy="239.8" r="1.7"/><circle cx="984.0" cy="239.5" r="1.7"/><circle cx="968.7" cy="240.0" r="1.7"/><circle cx="962.4" cy="239.7" r="1.7"/><circle cx="958.9" cy="205.2" r="1.7"/><circle cx="982.8" cy="232.7" r="1.7"/><circle cx="974.6" cy="241.8" r="1.7"/><circle cx="965.0" cy="240.1" r="1.7"/><circle cx="961.7" cy="243.9" r="1.7"/><circle cx="979.1" cy="221.1" r="1.7"/><circle cx="960.0" cy="215.5" r="1.7"/><circle cx="967.2" cy="228.2" r="1.7"/><circle cx="973.0" cy="230.7" r="1.7"/><circle cx="984.0" cy="241.0" r="1.7"/><circle cx="978.1" cy="266.7" r="1.7"/><circle cx="972.0" cy="220.4" r="1.7"/><circle cx="984.6" cy="233.6" r="1.7"/><circle cx="975.1" cy="242.2" r="1.7"/><circle cx="968.6" cy="225.7" r="1.7"/><circle cx="969.0" cy="227.3" r="1.7"/><circle cx="974.7" cy="237.0" r="1.7"/><circle cx="967.1" cy="229.1" r="1.7"/><circle cx="972.8" cy="231.6" r="1.7"/><circle cx="974.6" cy="242.6" r="1.7"/><circle cx="982.3" cy="241.7" r="1.7"/><circle cx="977.5" cy="238.8" r="1.7"/><circle cx="971.1" cy="237.2" r="1.7"/><circle cx="962.4" cy="242.7" r="1.7"/><circle cx="972.5" cy="213.6" r="1.7"/><circle cx="972.4" cy="237.1" r="1.7"/><circle cx="964.9" cy="223.0" r="1.7"/><circle cx="980.1" cy="245.7" r="1.7"/><circle cx="975.4" cy="239.0" r="1.7"/><circle cx="982.0" cy="222.2" r="1.7"/><circle cx="959.8" cy="219.2" r="1.7"/><circle cx="980.4" cy="240.1" r="1.7"/><circle cx="961.9" cy="222.8" r="1.7"/><circle cx="965.3" cy="247.3" r="1.7"/><circle cx="968.0" cy="252.6" r="1.7"/><circle cx="972.3" cy="223.6" r="1.7"/><circle cx="961.0" cy="239.1" r="1.7"/><circle cx="984.6" cy="239.9" r="1.7"/><circle cx="970.4" cy="228.2" r="1.7"/><circle cx="979.5" cy="238.7" r="1.7"/><circle cx="962.6" cy="225.2" r="1.7"/><circle cx="968.3" cy="229.0" r="1.7"/><circle cx="964.9" cy="237.3" r="1.7"/></g>
<line x1="1022.2" y1="188.7" x2="1022.2" y2="260.5" stroke="#54B54B" stroke-width="3.3" stroke-linecap="butt"/><line x1="1022.2" y1="323.5" x2="1022.2" y2="376.5" stroke="#54B54B" stroke-width="3.3"/><rect x="1014.8" y="260.5" width="14.8" height="63.0" fill="#fff" stroke="#54B54B" stroke-width="3.3"/><line x1="1014.8" y1="283.9" x2="1029.6" y2="283.9" stroke="#54B54B" stroke-width="6.0"/>
<line x1="1039.1" y1="168.4" x2="1039.1" y2="244.7" stroke="#71A3F6" stroke-width="3.3" stroke-linecap="butt"/><line x1="1039.1" y1="302.5" x2="1039.1" y2="374.2" stroke="#71A3F6" stroke-width="3.3"/><rect x="1031.7" y="244.7" width="14.8" height="57.8" fill="#fff" stroke="#71A3F6" stroke-width="3.3"/><line x1="1031.7" y1="272.7" x2="1046.5" y2="272.7" stroke="#71A3F6" stroke-width="6.0"/>
<rect x="997.6" y="337.2" width="15.4" height="6.3" fill="#E8786C"/>
<g fill="#5DBB55" fill-opacity="0.45"><circle cx="1018.1" cy="304.4" r="1.7"/><circle cx="1009.7" cy="302.7" r="1.7"/><circle cx="1024.1" cy="327.4" r="1.7"/><circle cx="1013.9" cy="358.3" r="1.7"/><circle cx="1016.4" cy="263.5" r="1.7"/><circle cx="1015.5" cy="311.8" r="1.7"/><circle cx="1011.6" cy="247.9" r="1.7"/><circle cx="1031.6" cy="271.2" r="1.7"/><circle cx="1020.2" cy="327.3" r="1.7"/><circle cx="1025.3" cy="256.3" r="1.7"/><circle cx="1010.4" cy="304.2" r="1.7"/><circle cx="1018.8" cy="293.0" r="1.7"/><circle cx="1016.9" cy="264.0" r="1.7"/><circle cx="1026.1" cy="298.5" r="1.7"/><circle cx="1018.4" cy="253.0" r="1.7"/><circle cx="1024.3" cy="302.1" r="1.7"/><circle cx="1014.2" cy="220.0" r="1.7"/><circle cx="1027.7" cy="201.4" r="1.7"/><circle cx="1026.5" cy="304.1" r="1.7"/><circle cx="1011.1" cy="310.9" r="1.7"/><circle cx="1019.1" cy="260.3" r="1.7"/><circle cx="1022.2" cy="281.5" r="1.7"/><circle cx="1028.9" cy="228.3" r="1.7"/><circle cx="1024.7" cy="368.1" r="1.7"/><circle cx="1021.3" cy="289.8" r="1.7"/><circle cx="1020.0" cy="246.6" r="1.7"/><circle cx="1032.4" cy="288.1" r="1.7"/><circle cx="1022.0" cy="293.4" r="1.7"/><circle cx="1030.7" cy="282.8" r="1.7"/><circle cx="1028.5" cy="268.0" r="1.7"/><circle cx="1010.3" cy="299.5" r="1.7"/><circle cx="1023.6" cy="267.1" r="1.7"/><circle cx="1029.3" cy="259.3" r="1.7"/><circle cx="1015.0" cy="342.5" r="1.7"/><circle cx="1030.5" cy="352.9" r="1.7"/><circle cx="1011.5" cy="346.5" r="1.7"/><circle cx="1023.9" cy="260.4" r="1.7"/><circle cx="1026.9" cy="359.1" r="1.7"/><circle cx="1021.8" cy="264.1" r="1.7"/><circle cx="1027.2" cy="359.2" r="1.7"/><circle cx="1024.4" cy="296.9" r="1.7"/><circle cx="1030.5" cy="189.6" r="1.7"/><circle cx="1013.0" cy="237.7" r="1.7"/><circle cx="1022.7" cy="310.1" r="1.7"/><circle cx="1034.9" cy="374.5" r="1.7"/><circle cx="1016.1" cy="319.6" r="1.7"/><circle cx="1015.9" cy="313.5" r="1.7"/><circle cx="1023.7" cy="241.5" r="1.7"/><circle cx="1020.2" cy="282.9" r="1.7"/><circle cx="1017.2" cy="360.2" r="1.7"/><circle cx="1030.1" cy="239.3" r="1.7"/><circle cx="1015.9" cy="242.1" r="1.7"/><circle cx="1010.6" cy="327.3" r="1.7"/><circle cx="1019.0" cy="280.5" r="1.7"/><circle cx="1022.0" cy="289.6" r="1.7"/><circle cx="1018.7" cy="276.1" r="1.7"/><circle cx="1014.4" cy="254.8" r="1.7"/><circle cx="1023.7" cy="222.0" r="1.7"/><circle cx="1017.4" cy="360.2" r="1.7"/><circle cx="1019.9" cy="280.8" r="1.7"/><circle cx="1017.7" cy="277.8" r="1.7"/><circle cx="1029.9" cy="319.8" r="1.7"/><circle cx="1027.7" cy="316.9" r="1.7"/><circle cx="1024.6" cy="254.6" r="1.7"/><circle cx="1033.5" cy="291.1" r="1.7"/><circle cx="1032.1" cy="292.6" r="1.7"/><circle cx="1020.5" cy="358.3" r="1.7"/><circle cx="1010.5" cy="270.9" r="1.7"/><circle cx="1011.1" cy="240.5" r="1.7"/><circle cx="1013.9" cy="274.9" r="1.7"/><circle cx="1023.8" cy="220.9" r="1.7"/><circle cx="1022.2" cy="254.9" r="1.7"/><circle cx="1026.8" cy="267.6" r="1.7"/><circle cx="1014.7" cy="316.4" r="1.7"/><circle cx="1013.0" cy="246.9" r="1.7"/><circle cx="1014.6" cy="222.5" r="1.7"/><circle cx="1011.7" cy="346.7" r="1.7"/><circle cx="1034.0" cy="257.5" r="1.7"/><circle cx="1026.4" cy="297.4" r="1.7"/><circle cx="1032.8" cy="322.3" r="1.7"/><circle cx="1013.3" cy="266.5" r="1.7"/><circle cx="1027.3" cy="358.6" r="1.7"/><circle cx="1031.0" cy="363.1" r="1.7"/><circle cx="1015.3" cy="316.6" r="1.7"/><circle cx="1017.5" cy="276.2" r="1.7"/><circle cx="1013.2" cy="278.2" r="1.7"/><circle cx="1017.7" cy="224.7" r="1.7"/><circle cx="1013.2" cy="246.2" r="1.7"/><circle cx="1034.7" cy="255.1" r="1.7"/><circle cx="1010.1" cy="301.1" r="1.7"/><circle cx="1025.9" cy="302.9" r="1.7"/><circle cx="1023.4" cy="325.0" r="1.7"/><circle cx="1021.3" cy="348.5" r="1.7"/><circle cx="1020.4" cy="262.5" r="1.7"/><circle cx="1012.2" cy="267.2" r="1.7"/><circle cx="1012.4" cy="249.2" r="1.7"/><circle cx="1035.1" cy="220.5" r="1.7"/><circle cx="1022.9" cy="214.4" r="1.7"/><circle cx="1018.3" cy="317.0" r="1.7"/><circle cx="1022.2" cy="260.5" r="1.7"/><circle cx="1011.7" cy="218.1" r="1.7"/><circle cx="1031.7" cy="286.3" r="1.7"/><circle cx="1023.3" cy="274.7" r="1.7"/><circle cx="1012.9" cy="349.9" r="1.7"/><circle cx="1032.5" cy="320.1" r="1.7"/><circle cx="1015.1" cy="245.1" r="1.7"/><circle cx="1010.1" cy="220.1" r="1.7"/><circle cx="1034.4" cy="274.7" r="1.7"/><circle cx="1033.8" cy="308.6" r="1.7"/><circle cx="1010.5" cy="269.2" r="1.7"/></g>
<g fill="#7AA9F5" fill-opacity="0.45"><circle cx="1037.8" cy="292.6" r="1.7"/><circle cx="1045.4" cy="302.5" r="1.7"/><circle cx="1046.6" cy="312.1" r="1.7"/><circle cx="1027.9" cy="296.8" r="1.7"/><circle cx="1028.6" cy="266.1" r="1.7"/><circle cx="1046.6" cy="266.9" r="1.7"/><circle cx="1038.1" cy="262.0" r="1.7"/><circle cx="1039.5" cy="359.4" r="1.7"/><circle cx="1043.0" cy="335.1" r="1.7"/><circle cx="1041.2" cy="324.1" r="1.7"/><circle cx="1035.9" cy="290.2" r="1.7"/><circle cx="1030.4" cy="254.4" r="1.7"/><circle cx="1050.6" cy="314.2" r="1.7"/><circle cx="1048.0" cy="292.8" r="1.7"/><circle cx="1038.6" cy="220.0" r="1.7"/><circle cx="1028.6" cy="319.3" r="1.7"/><circle cx="1029.2" cy="218.2" r="1.7"/><circle cx="1040.1" cy="273.2" r="1.7"/><circle cx="1038.3" cy="328.4" r="1.7"/><circle cx="1040.1" cy="315.5" r="1.7"/><circle cx="1035.7" cy="271.9" r="1.7"/><circle cx="1036.6" cy="308.4" r="1.7"/><circle cx="1029.4" cy="307.4" r="1.7"/><circle cx="1048.8" cy="302.9" r="1.7"/><circle cx="1049.3" cy="272.5" r="1.7"/><circle cx="1050.7" cy="367.4" r="1.7"/><circle cx="1046.7" cy="274.1" r="1.7"/><circle cx="1044.1" cy="264.8" r="1.7"/><circle cx="1045.6" cy="303.8" r="1.7"/><circle cx="1033.0" cy="318.1" r="1.7"/><circle cx="1036.4" cy="360.5" r="1.7"/><circle cx="1033.7" cy="270.7" r="1.7"/><circle cx="1028.3" cy="214.4" r="1.7"/><circle cx="1032.2" cy="263.9" r="1.7"/><circle cx="1046.5" cy="262.0" r="1.7"/><circle cx="1027.8" cy="249.1" r="1.7"/><circle cx="1041.7" cy="302.6" r="1.7"/><circle cx="1027.2" cy="176.6" r="1.7"/><circle cx="1044.1" cy="259.5" r="1.7"/><circle cx="1035.0" cy="235.9" r="1.7"/><circle cx="1038.1" cy="236.8" r="1.7"/><circle cx="1026.4" cy="203.2" r="1.7"/><circle cx="1036.9" cy="195.4" r="1.7"/><circle cx="1028.4" cy="283.8" r="1.7"/><circle cx="1045.2" cy="302.6" r="1.7"/><circle cx="1030.1" cy="252.7" r="1.7"/><circle cx="1029.8" cy="291.3" r="1.7"/><circle cx="1031.9" cy="308.3" r="1.7"/><circle cx="1051.5" cy="292.8" r="1.7"/><circle cx="1046.7" cy="169.7" r="1.7"/><circle cx="1039.1" cy="275.1" r="1.7"/><circle cx="1049.8" cy="242.2" r="1.7"/><circle cx="1042.7" cy="244.7" r="1.7"/><circle cx="1042.4" cy="308.1" r="1.7"/><circle cx="1046.6" cy="228.3" r="1.7"/><circle cx="1044.8" cy="336.8" r="1.7"/><circle cx="1030.4" cy="290.7" r="1.7"/><circle cx="1043.6" cy="184.4" r="1.7"/><circle cx="1029.6" cy="245.2" r="1.7"/><circle cx="1050.5" cy="232.8" r="1.7"/><circle cx="1045.5" cy="209.3" r="1.7"/><circle cx="1047.0" cy="231.8" r="1.7"/><circle cx="1037.5" cy="262.6" r="1.7"/><circle cx="1046.5" cy="233.5" r="1.7"/><circle cx="1033.9" cy="220.9" r="1.7"/><circle cx="1040.0" cy="186.6" r="1.7"/><circle cx="1029.2" cy="193.0" r="1.7"/><circle cx="1046.6" cy="183.2" r="1.7"/><circle cx="1047.9" cy="302.3" r="1.7"/><circle cx="1031.3" cy="303.6" r="1.7"/><circle cx="1032.3" cy="277.7" r="1.7"/><circle cx="1049.8" cy="273.6" r="1.7"/><circle cx="1044.6" cy="251.9" r="1.7"/><circle cx="1046.5" cy="285.6" r="1.7"/><circle cx="1043.9" cy="240.0" r="1.7"/><circle cx="1047.6" cy="194.8" r="1.7"/><circle cx="1028.4" cy="283.9" r="1.7"/><circle cx="1047.9" cy="255.6" r="1.7"/><circle cx="1041.6" cy="291.8" r="1.7"/><circle cx="1046.8" cy="230.8" r="1.7"/><circle cx="1038.9" cy="372.1" r="1.7"/><circle cx="1029.0" cy="366.8" r="1.7"/><circle cx="1037.0" cy="236.4" r="1.7"/><circle cx="1038.0" cy="261.0" r="1.7"/><circle cx="1031.7" cy="292.3" r="1.7"/><circle cx="1048.1" cy="290.1" r="1.7"/><circle cx="1033.7" cy="259.3" r="1.7"/><circle cx="1033.2" cy="338.3" r="1.7"/><circle cx="1037.6" cy="250.2" r="1.7"/><circle cx="1047.1" cy="254.7" r="1.7"/><circle cx="1043.9" cy="327.5" r="1.7"/><circle cx="1047.5" cy="356.1" r="1.7"/><circle cx="1033.2" cy="311.0" r="1.7"/><circle cx="1035.6" cy="188.0" r="1.7"/><circle cx="1049.3" cy="304.4" r="1.7"/><circle cx="1049.4" cy="260.4" r="1.7"/><circle cx="1039.1" cy="285.3" r="1.7"/><circle cx="1039.3" cy="188.8" r="1.7"/><circle cx="1031.1" cy="173.9" r="1.7"/><circle cx="1030.4" cy="232.2" r="1.7"/><circle cx="1026.1" cy="269.7" r="1.7"/><circle cx="1050.7" cy="312.9" r="1.7"/><circle cx="1047.2" cy="278.1" r="1.7"/><circle cx="1035.3" cy="302.4" r="1.7"/><circle cx="1040.5" cy="333.9" r="1.7"/><circle cx="1039.5" cy="223.5" r="1.7"/><circle cx="1050.3" cy="287.4" r="1.7"/><circle cx="1043.5" cy="213.2" r="1.7"/><circle cx="1042.4" cy="342.7" r="1.7"/><circle cx="1051.0" cy="279.4" r="1.7"/></g>
<line x1="1089.7" y1="186.3" x2="1089.7" y2="262.6" stroke="#54B54B" stroke-width="3.3" stroke-linecap="butt"/><line x1="1089.7" y1="328.2" x2="1089.7" y2="373.5" stroke="#54B54B" stroke-width="3.3"/><rect x="1082.3" y="262.6" width="14.8" height="65.6" fill="#fff" stroke="#54B54B" stroke-width="3.3"/><line x1="1082.3" y1="291.3" x2="1097.1" y2="291.3" stroke="#54B54B" stroke-width="6.0"/>
<line x1="1106.6" y1="177.0" x2="1106.6" y2="241.2" stroke="#71A3F6" stroke-width="3.3" stroke-linecap="butt"/><line x1="1106.6" y1="300.7" x2="1106.6" y2="359.0" stroke="#71A3F6" stroke-width="3.3"/><rect x="1099.2" y="241.2" width="14.8" height="59.5" fill="#fff" stroke="#71A3F6" stroke-width="3.3"/><line x1="1099.2" y1="268.0" x2="1114.0" y2="268.0" stroke="#71A3F6" stroke-width="6.0"/>
<rect x="1065.1" y="350.5" width="15.4" height="6.3" fill="#E8786C"/>
<g fill="#5DBB55" fill-opacity="0.45"><circle cx="1093.9" cy="311.7" r="1.7"/><circle cx="1086.4" cy="276.2" r="1.7"/><circle cx="1094.3" cy="288.8" r="1.7"/><circle cx="1089.6" cy="226.3" r="1.7"/><circle cx="1102.0" cy="311.4" r="1.7"/><circle cx="1098.4" cy="358.1" r="1.7"/><circle cx="1091.2" cy="270.2" r="1.7"/><circle cx="1096.2" cy="299.0" r="1.7"/><circle cx="1095.6" cy="232.0" r="1.7"/><circle cx="1077.6" cy="262.6" r="1.7"/><circle cx="1080.2" cy="317.1" r="1.7"/><circle cx="1099.8" cy="207.9" r="1.7"/><circle cx="1091.9" cy="339.6" r="1.7"/><circle cx="1077.9" cy="282.5" r="1.7"/><circle cx="1096.1" cy="307.2" r="1.7"/><circle cx="1084.0" cy="275.1" r="1.7"/><circle cx="1084.2" cy="262.0" r="1.7"/><circle cx="1087.6" cy="286.2" r="1.7"/><circle cx="1093.5" cy="196.7" r="1.7"/><circle cx="1094.2" cy="255.9" r="1.7"/><circle cx="1101.7" cy="308.9" r="1.7"/><circle cx="1094.6" cy="267.2" r="1.7"/><circle cx="1080.9" cy="324.1" r="1.7"/><circle cx="1098.1" cy="282.7" r="1.7"/><circle cx="1085.7" cy="257.9" r="1.7"/><circle cx="1090.1" cy="340.4" r="1.7"/><circle cx="1080.9" cy="236.7" r="1.7"/><circle cx="1081.1" cy="263.9" r="1.7"/><circle cx="1078.1" cy="319.1" r="1.7"/><circle cx="1086.6" cy="321.2" r="1.7"/><circle cx="1101.7" cy="201.8" r="1.7"/><circle cx="1084.7" cy="333.2" r="1.7"/><circle cx="1081.8" cy="211.9" r="1.7"/><circle cx="1088.1" cy="317.7" r="1.7"/><circle cx="1083.4" cy="346.4" r="1.7"/><circle cx="1086.7" cy="306.9" r="1.7"/><circle cx="1083.6" cy="203.3" r="1.7"/><circle cx="1100.3" cy="331.2" r="1.7"/><circle cx="1098.4" cy="298.6" r="1.7"/><circle cx="1096.9" cy="275.6" r="1.7"/><circle cx="1080.6" cy="318.6" r="1.7"/><circle cx="1088.9" cy="262.3" r="1.7"/><circle cx="1094.1" cy="284.6" r="1.7"/><circle cx="1083.8" cy="262.5" r="1.7"/><circle cx="1100.5" cy="311.6" r="1.7"/><circle cx="1084.2" cy="287.9" r="1.7"/><circle cx="1083.4" cy="276.4" r="1.7"/><circle cx="1077.7" cy="261.1" r="1.7"/><circle cx="1091.4" cy="251.1" r="1.7"/><circle cx="1101.1" cy="312.9" r="1.7"/><circle cx="1083.0" cy="325.9" r="1.7"/><circle cx="1090.9" cy="355.0" r="1.7"/><circle cx="1094.3" cy="262.5" r="1.7"/><circle cx="1097.7" cy="304.2" r="1.7"/><circle cx="1084.6" cy="345.9" r="1.7"/><circle cx="1101.8" cy="274.7" r="1.7"/><circle cx="1094.7" cy="275.9" r="1.7"/><circle cx="1086.9" cy="260.7" r="1.7"/><circle cx="1096.0" cy="213.3" r="1.7"/><circle cx="1086.9" cy="314.7" r="1.7"/><circle cx="1085.8" cy="255.7" r="1.7"/><circle cx="1099.3" cy="333.4" r="1.7"/><circle cx="1090.2" cy="287.7" r="1.7"/><circle cx="1100.1" cy="271.9" r="1.7"/><circle cx="1085.5" cy="341.5" r="1.7"/><circle cx="1087.4" cy="356.0" r="1.7"/><circle cx="1098.8" cy="291.1" r="1.7"/><circle cx="1091.7" cy="272.0" r="1.7"/><circle cx="1091.6" cy="305.5" r="1.7"/><circle cx="1098.6" cy="324.7" r="1.7"/><circle cx="1098.5" cy="258.8" r="1.7"/><circle cx="1094.1" cy="338.5" r="1.7"/><circle cx="1089.7" cy="262.5" r="1.7"/><circle cx="1100.0" cy="229.5" r="1.7"/><circle cx="1098.0" cy="263.4" r="1.7"/><circle cx="1099.5" cy="274.2" r="1.7"/><circle cx="1095.0" cy="342.0" r="1.7"/><circle cx="1092.6" cy="267.9" r="1.7"/><circle cx="1078.4" cy="324.5" r="1.7"/><circle cx="1098.1" cy="279.4" r="1.7"/><circle cx="1082.2" cy="324.8" r="1.7"/><circle cx="1079.1" cy="329.4" r="1.7"/><circle cx="1102.0" cy="271.1" r="1.7"/><circle cx="1086.0" cy="256.4" r="1.7"/><circle cx="1078.5" cy="268.4" r="1.7"/><circle cx="1085.1" cy="248.1" r="1.7"/><circle cx="1093.0" cy="372.5" r="1.7"/><circle cx="1083.8" cy="340.6" r="1.7"/><circle cx="1088.2" cy="357.6" r="1.7"/><circle cx="1097.7" cy="285.0" r="1.7"/><circle cx="1098.2" cy="362.6" r="1.7"/><circle cx="1082.5" cy="346.0" r="1.7"/><circle cx="1085.5" cy="276.4" r="1.7"/><circle cx="1091.4" cy="316.2" r="1.7"/><circle cx="1097.3" cy="329.9" r="1.7"/><circle cx="1098.5" cy="330.7" r="1.7"/><circle cx="1090.6" cy="255.1" r="1.7"/><circle cx="1096.9" cy="365.0" r="1.7"/><circle cx="1089.8" cy="365.6" r="1.7"/><circle cx="1078.3" cy="302.5" r="1.7"/><circle cx="1095.5" cy="276.4" r="1.7"/><circle cx="1087.1" cy="281.6" r="1.7"/><circle cx="1092.0" cy="289.9" r="1.7"/><circle cx="1099.2" cy="329.2" r="1.7"/><circle cx="1097.6" cy="188.4" r="1.7"/><circle cx="1085.2" cy="204.3" r="1.7"/><circle cx="1078.5" cy="192.9" r="1.7"/><circle cx="1080.1" cy="294.6" r="1.7"/><circle cx="1094.4" cy="298.1" r="1.7"/><circle cx="1088.5" cy="267.4" r="1.7"/></g>
<g fill="#7AA9F5" fill-opacity="0.45"><circle cx="1098.5" cy="288.7" r="1.7"/><circle cx="1100.9" cy="280.7" r="1.7"/><circle cx="1112.7" cy="306.0" r="1.7"/><circle cx="1105.0" cy="266.3" r="1.7"/><circle cx="1111.9" cy="305.5" r="1.7"/><circle cx="1100.5" cy="305.6" r="1.7"/><circle cx="1111.8" cy="261.5" r="1.7"/><circle cx="1113.0" cy="187.7" r="1.7"/><circle cx="1117.5" cy="196.9" r="1.7"/><circle cx="1112.3" cy="244.1" r="1.7"/><circle cx="1098.9" cy="337.4" r="1.7"/><circle cx="1116.0" cy="354.2" r="1.7"/><circle cx="1109.9" cy="244.2" r="1.7"/><circle cx="1102.8" cy="298.9" r="1.7"/><circle cx="1110.0" cy="311.3" r="1.7"/><circle cx="1101.5" cy="180.5" r="1.7"/><circle cx="1098.1" cy="343.4" r="1.7"/><circle cx="1116.9" cy="286.9" r="1.7"/><circle cx="1105.4" cy="235.6" r="1.7"/><circle cx="1096.3" cy="325.9" r="1.7"/><circle cx="1113.8" cy="313.3" r="1.7"/><circle cx="1119.3" cy="271.8" r="1.7"/><circle cx="1114.2" cy="209.2" r="1.7"/><circle cx="1114.9" cy="271.1" r="1.7"/><circle cx="1096.4" cy="319.1" r="1.7"/><circle cx="1106.8" cy="261.2" r="1.7"/><circle cx="1100.1" cy="303.9" r="1.7"/><circle cx="1117.2" cy="351.3" r="1.7"/><circle cx="1118.1" cy="245.5" r="1.7"/><circle cx="1104.9" cy="184.8" r="1.7"/><circle cx="1103.5" cy="243.1" r="1.7"/><circle cx="1115.4" cy="234.3" r="1.7"/><circle cx="1093.9" cy="317.8" r="1.7"/><circle cx="1108.8" cy="303.3" r="1.7"/><circle cx="1093.8" cy="283.8" r="1.7"/><circle cx="1114.0" cy="230.8" r="1.7"/><circle cx="1094.7" cy="272.7" r="1.7"/><circle cx="1107.4" cy="216.1" r="1.7"/><circle cx="1102.0" cy="334.9" r="1.7"/><circle cx="1116.6" cy="254.6" r="1.7"/><circle cx="1110.2" cy="270.0" r="1.7"/><circle cx="1099.9" cy="304.4" r="1.7"/><circle cx="1103.5" cy="211.1" r="1.7"/><circle cx="1108.9" cy="325.4" r="1.7"/><circle cx="1098.8" cy="319.6" r="1.7"/><circle cx="1108.8" cy="273.7" r="1.7"/><circle cx="1111.9" cy="253.4" r="1.7"/><circle cx="1095.3" cy="275.9" r="1.7"/><circle cx="1095.0" cy="243.9" r="1.7"/><circle cx="1104.0" cy="271.8" r="1.7"/><circle cx="1112.1" cy="249.5" r="1.7"/><circle cx="1110.4" cy="301.0" r="1.7"/><circle cx="1105.8" cy="247.4" r="1.7"/><circle cx="1117.2" cy="316.0" r="1.7"/><circle cx="1095.2" cy="257.4" r="1.7"/><circle cx="1119.2" cy="301.1" r="1.7"/><circle cx="1103.8" cy="301.8" r="1.7"/><circle cx="1115.0" cy="238.0" r="1.7"/><circle cx="1112.8" cy="253.6" r="1.7"/><circle cx="1096.0" cy="345.4" r="1.7"/><circle cx="1114.4" cy="186.5" r="1.7"/><circle cx="1094.8" cy="345.5" r="1.7"/><circle cx="1117.8" cy="301.0" r="1.7"/><circle cx="1111.0" cy="302.7" r="1.7"/><circle cx="1110.2" cy="203.1" r="1.7"/><circle cx="1100.4" cy="206.8" r="1.7"/><circle cx="1094.0" cy="313.4" r="1.7"/><circle cx="1096.3" cy="241.0" r="1.7"/><circle cx="1112.0" cy="187.7" r="1.7"/><circle cx="1114.5" cy="307.1" r="1.7"/><circle cx="1106.9" cy="311.5" r="1.7"/><circle cx="1114.0" cy="324.9" r="1.7"/><circle cx="1117.4" cy="215.9" r="1.7"/><circle cx="1115.7" cy="358.2" r="1.7"/><circle cx="1114.9" cy="262.0" r="1.7"/><circle cx="1109.7" cy="267.7" r="1.7"/><circle cx="1114.3" cy="257.9" r="1.7"/><circle cx="1095.0" cy="332.9" r="1.7"/><circle cx="1101.1" cy="263.1" r="1.7"/><circle cx="1093.8" cy="281.5" r="1.7"/><circle cx="1094.2" cy="241.7" r="1.7"/><circle cx="1114.7" cy="230.9" r="1.7"/><circle cx="1096.7" cy="273.5" r="1.7"/><circle cx="1098.9" cy="251.9" r="1.7"/><circle cx="1096.4" cy="277.3" r="1.7"/><circle cx="1107.8" cy="186.4" r="1.7"/><circle cx="1096.0" cy="287.3" r="1.7"/><circle cx="1115.7" cy="243.3" r="1.7"/><circle cx="1096.2" cy="226.8" r="1.7"/><circle cx="1101.4" cy="285.3" r="1.7"/><circle cx="1097.4" cy="240.7" r="1.7"/><circle cx="1119.0" cy="256.6" r="1.7"/><circle cx="1093.7" cy="240.2" r="1.7"/><circle cx="1096.5" cy="333.6" r="1.7"/><circle cx="1109.1" cy="247.4" r="1.7"/><circle cx="1105.4" cy="265.8" r="1.7"/><circle cx="1109.4" cy="280.1" r="1.7"/><circle cx="1117.4" cy="252.1" r="1.7"/><circle cx="1114.3" cy="243.1" r="1.7"/><circle cx="1115.3" cy="208.9" r="1.7"/><circle cx="1094.4" cy="244.8" r="1.7"/><circle cx="1115.7" cy="248.6" r="1.7"/><circle cx="1116.4" cy="277.1" r="1.7"/><circle cx="1118.1" cy="308.3" r="1.7"/><circle cx="1111.9" cy="275.6" r="1.7"/><circle cx="1101.4" cy="300.4" r="1.7"/><circle cx="1102.0" cy="287.8" r="1.7"/><circle cx="1105.1" cy="327.9" r="1.7"/><circle cx="1110.6" cy="184.7" r="1.7"/><circle cx="1113.4" cy="202.5" r="1.7"/></g>
<line x1="1157.1" y1="188.6" x2="1157.1" y2="225.9" stroke="#54B54B" stroke-width="3.3" stroke-linecap="butt"/><line x1="1157.1" y1="263.2" x2="1157.1" y2="300.6" stroke="#54B54B" stroke-width="3.3"/><rect x="1149.7" y="225.9" width="14.8" height="37.3" fill="#fff" stroke="#54B54B" stroke-width="3.3"/><line x1="1149.7" y1="244.6" x2="1164.5" y2="244.6" stroke="#54B54B" stroke-width="6.0"/>
<line x1="1174.0" y1="301.7" x2="1174.0" y2="320.4" stroke="#71A3F6" stroke-width="3.3" stroke-linecap="butt"/><line x1="1174.0" y1="339.7" x2="1174.0" y2="357.7" stroke="#71A3F6" stroke-width="3.3"/><rect x="1166.6" y="320.4" width="14.8" height="19.3" fill="#fff" stroke="#71A3F6" stroke-width="3.3"/><line x1="1166.6" y1="320.4" x2="1181.4" y2="320.4" stroke="#71A3F6" stroke-width="6.0"/>
<rect x="1132.5" y="222.8" width="15.4" height="6.3" fill="#E8786C"/>
<g fill="#5DBB55" fill-opacity="0.45"><circle cx="1169.9" cy="263.7" r="1.7"/><circle cx="1151.2" cy="263.7" r="1.7"/><circle cx="1154.8" cy="226.0" r="1.7"/><circle cx="1150.1" cy="187.5" r="1.7"/><circle cx="1168.0" cy="282.6" r="1.7"/><circle cx="1164.1" cy="226.0" r="1.7"/><circle cx="1167.2" cy="263.7" r="1.7"/><circle cx="1157.9" cy="263.7" r="1.7"/><circle cx="1165.5" cy="207.1" r="1.7"/><circle cx="1160.4" cy="226.0" r="1.7"/><circle cx="1158.0" cy="244.9" r="1.7"/><circle cx="1148.3" cy="301.5" r="1.7"/><circle cx="1161.0" cy="244.9" r="1.7"/><circle cx="1168.5" cy="244.9" r="1.7"/><circle cx="1167.8" cy="244.9" r="1.7"/><circle cx="1169.2" cy="263.7" r="1.7"/><circle cx="1149.6" cy="207.1" r="1.7"/><circle cx="1167.6" cy="226.0" r="1.7"/><circle cx="1150.8" cy="187.5" r="1.7"/><circle cx="1169.8" cy="263.7" r="1.7"/><circle cx="1155.5" cy="226.0" r="1.7"/><circle cx="1162.0" cy="263.7" r="1.7"/><circle cx="1163.7" cy="263.7" r="1.7"/><circle cx="1150.8" cy="226.0" r="1.7"/><circle cx="1162.0" cy="187.5" r="1.7"/><circle cx="1150.8" cy="226.0" r="1.7"/><circle cx="1160.8" cy="301.5" r="1.7"/><circle cx="1161.1" cy="244.9" r="1.7"/><circle cx="1162.1" cy="244.9" r="1.7"/><circle cx="1145.7" cy="226.0" r="1.7"/><circle cx="1144.5" cy="207.1" r="1.7"/><circle cx="1147.8" cy="244.9" r="1.7"/><circle cx="1156.9" cy="207.1" r="1.7"/><circle cx="1162.0" cy="301.5" r="1.7"/><circle cx="1164.1" cy="226.0" r="1.7"/><circle cx="1146.7" cy="226.0" r="1.7"/><circle cx="1154.7" cy="226.0" r="1.7"/><circle cx="1155.6" cy="263.7" r="1.7"/><circle cx="1146.5" cy="263.7" r="1.7"/><circle cx="1153.0" cy="282.6" r="1.7"/><circle cx="1144.9" cy="263.7" r="1.7"/><circle cx="1150.0" cy="263.7" r="1.7"/><circle cx="1165.0" cy="282.6" r="1.7"/><circle cx="1151.3" cy="263.7" r="1.7"/><circle cx="1149.0" cy="168.6" r="1.7"/><circle cx="1148.2" cy="282.6" r="1.7"/><circle cx="1159.3" cy="263.7" r="1.7"/><circle cx="1148.8" cy="263.7" r="1.7"/><circle cx="1146.6" cy="207.1" r="1.7"/><circle cx="1154.0" cy="301.5" r="1.7"/><circle cx="1158.9" cy="244.9" r="1.7"/><circle cx="1145.8" cy="226.0" r="1.7"/><circle cx="1166.2" cy="187.5" r="1.7"/><circle cx="1169.1" cy="207.1" r="1.7"/><circle cx="1162.9" cy="244.9" r="1.7"/><circle cx="1164.6" cy="207.1" r="1.7"/><circle cx="1153.6" cy="226.0" r="1.7"/><circle cx="1147.0" cy="244.9" r="1.7"/><circle cx="1164.8" cy="226.0" r="1.7"/><circle cx="1154.0" cy="226.0" r="1.7"/><circle cx="1149.9" cy="263.7" r="1.7"/><circle cx="1149.8" cy="226.0" r="1.7"/><circle cx="1153.6" cy="244.9" r="1.7"/><circle cx="1156.3" cy="244.9" r="1.7"/><circle cx="1145.4" cy="282.6" r="1.7"/><circle cx="1165.8" cy="263.7" r="1.7"/><circle cx="1144.8" cy="226.0" r="1.7"/><circle cx="1147.1" cy="244.9" r="1.7"/><circle cx="1162.6" cy="244.9" r="1.7"/><circle cx="1147.1" cy="207.1" r="1.7"/><circle cx="1148.6" cy="244.9" r="1.7"/><circle cx="1155.5" cy="226.0" r="1.7"/><circle cx="1145.8" cy="207.1" r="1.7"/><circle cx="1156.3" cy="244.9" r="1.7"/><circle cx="1158.5" cy="282.6" r="1.7"/><circle cx="1149.9" cy="207.1" r="1.7"/><circle cx="1158.7" cy="263.7" r="1.7"/><circle cx="1169.1" cy="282.6" r="1.7"/><circle cx="1146.9" cy="282.6" r="1.7"/><circle cx="1157.7" cy="282.6" r="1.7"/><circle cx="1148.5" cy="226.0" r="1.7"/><circle cx="1149.6" cy="282.6" r="1.7"/><circle cx="1151.0" cy="207.1" r="1.7"/><circle cx="1156.1" cy="282.6" r="1.7"/><circle cx="1146.0" cy="263.7" r="1.7"/><circle cx="1152.3" cy="244.9" r="1.7"/><circle cx="1161.3" cy="226.0" r="1.7"/><circle cx="1147.2" cy="244.9" r="1.7"/><circle cx="1156.6" cy="301.5" r="1.7"/><circle cx="1144.4" cy="226.0" r="1.7"/><circle cx="1157.5" cy="244.9" r="1.7"/><circle cx="1156.3" cy="187.5" r="1.7"/><circle cx="1158.0" cy="263.7" r="1.7"/><circle cx="1157.1" cy="226.0" r="1.7"/><circle cx="1161.0" cy="244.9" r="1.7"/><circle cx="1165.0" cy="207.1" r="1.7"/><circle cx="1163.3" cy="282.6" r="1.7"/><circle cx="1153.6" cy="282.6" r="1.7"/><circle cx="1148.8" cy="282.6" r="1.7"/><circle cx="1159.6" cy="226.0" r="1.7"/><circle cx="1146.2" cy="282.6" r="1.7"/><circle cx="1145.0" cy="226.0" r="1.7"/><circle cx="1147.7" cy="244.9" r="1.7"/><circle cx="1163.6" cy="226.0" r="1.7"/><circle cx="1168.5" cy="244.9" r="1.7"/><circle cx="1161.7" cy="244.9" r="1.7"/><circle cx="1168.7" cy="187.5" r="1.7"/><circle cx="1156.5" cy="226.0" r="1.7"/><circle cx="1168.7" cy="244.9" r="1.7"/><circle cx="1169.9" cy="244.9" r="1.7"/></g>
<g fill="#7AA9F5" fill-opacity="0.45"><circle cx="1166.6" cy="339.5" r="1.7"/><circle cx="1166.2" cy="339.5" r="1.7"/><circle cx="1172.9" cy="358.5" r="1.7"/><circle cx="1186.0" cy="320.5" r="1.7"/><circle cx="1171.6" cy="320.5" r="1.7"/><circle cx="1178.4" cy="320.5" r="1.7"/><circle cx="1170.7" cy="282.6" r="1.7"/><circle cx="1182.5" cy="301.5" r="1.7"/><circle cx="1176.8" cy="263.7" r="1.7"/><circle cx="1172.8" cy="320.5" r="1.7"/><circle cx="1179.5" cy="320.5" r="1.7"/><circle cx="1167.2" cy="301.5" r="1.7"/><circle cx="1185.9" cy="301.5" r="1.7"/><circle cx="1164.5" cy="301.5" r="1.7"/><circle cx="1176.1" cy="320.5" r="1.7"/><circle cx="1162.5" cy="339.5" r="1.7"/><circle cx="1165.3" cy="320.5" r="1.7"/><circle cx="1172.7" cy="320.5" r="1.7"/><circle cx="1184.1" cy="320.5" r="1.7"/><circle cx="1183.3" cy="339.5" r="1.7"/><circle cx="1168.0" cy="358.5" r="1.7"/><circle cx="1171.6" cy="358.5" r="1.7"/><circle cx="1184.8" cy="301.5" r="1.7"/><circle cx="1161.4" cy="301.5" r="1.7"/><circle cx="1168.5" cy="320.5" r="1.7"/><circle cx="1183.6" cy="358.5" r="1.7"/><circle cx="1174.7" cy="320.5" r="1.7"/><circle cx="1182.0" cy="339.5" r="1.7"/><circle cx="1174.3" cy="339.5" r="1.7"/><circle cx="1167.3" cy="301.5" r="1.7"/><circle cx="1176.2" cy="339.5" r="1.7"/><circle cx="1184.3" cy="339.5" r="1.7"/><circle cx="1166.0" cy="358.5" r="1.7"/><circle cx="1184.3" cy="301.5" r="1.7"/><circle cx="1165.7" cy="320.5" r="1.7"/><circle cx="1167.6" cy="339.5" r="1.7"/><circle cx="1170.5" cy="320.5" r="1.7"/><circle cx="1178.6" cy="320.5" r="1.7"/><circle cx="1180.3" cy="301.5" r="1.7"/><circle cx="1173.2" cy="339.5" r="1.7"/><circle cx="1181.8" cy="339.5" r="1.7"/><circle cx="1173.3" cy="263.7" r="1.7"/><circle cx="1179.4" cy="339.5" r="1.7"/><circle cx="1165.7" cy="339.5" r="1.7"/><circle cx="1181.4" cy="358.5" r="1.7"/><circle cx="1172.2" cy="320.5" r="1.7"/><circle cx="1166.4" cy="358.5" r="1.7"/><circle cx="1186.0" cy="320.5" r="1.7"/><circle cx="1167.0" cy="339.5" r="1.7"/><circle cx="1170.3" cy="339.5" r="1.7"/><circle cx="1180.9" cy="339.5" r="1.7"/><circle cx="1166.8" cy="301.5" r="1.7"/><circle cx="1167.9" cy="320.5" r="1.7"/><circle cx="1164.5" cy="282.6" r="1.7"/><circle cx="1171.9" cy="320.5" r="1.7"/><circle cx="1176.1" cy="301.5" r="1.7"/><circle cx="1176.0" cy="358.5" r="1.7"/><circle cx="1179.3" cy="320.5" r="1.7"/><circle cx="1165.5" cy="320.5" r="1.7"/><circle cx="1161.4" cy="320.5" r="1.7"/><circle cx="1165.2" cy="339.5" r="1.7"/><circle cx="1186.0" cy="320.5" r="1.7"/><circle cx="1182.7" cy="339.5" r="1.7"/><circle cx="1177.5" cy="339.5" r="1.7"/><circle cx="1186.1" cy="339.5" r="1.7"/><circle cx="1180.9" cy="301.5" r="1.7"/><circle cx="1167.6" cy="320.5" r="1.7"/><circle cx="1176.6" cy="339.5" r="1.7"/><circle cx="1183.7" cy="339.5" r="1.7"/><circle cx="1166.1" cy="320.5" r="1.7"/><circle cx="1174.9" cy="263.7" r="1.7"/><circle cx="1168.1" cy="339.5" r="1.7"/><circle cx="1161.1" cy="301.5" r="1.7"/><circle cx="1179.1" cy="301.5" r="1.7"/><circle cx="1167.0" cy="263.7" r="1.7"/><circle cx="1179.5" cy="320.5" r="1.7"/><circle cx="1161.5" cy="358.5" r="1.7"/><circle cx="1185.3" cy="301.5" r="1.7"/><circle cx="1164.8" cy="358.5" r="1.7"/><circle cx="1174.6" cy="320.5" r="1.7"/><circle cx="1171.8" cy="320.5" r="1.7"/><circle cx="1167.7" cy="320.5" r="1.7"/><circle cx="1163.2" cy="301.5" r="1.7"/><circle cx="1163.4" cy="301.5" r="1.7"/><circle cx="1179.1" cy="339.5" r="1.7"/><circle cx="1181.6" cy="320.5" r="1.7"/><circle cx="1169.9" cy="339.5" r="1.7"/><circle cx="1165.9" cy="320.5" r="1.7"/><circle cx="1175.5" cy="358.5" r="1.7"/><circle cx="1165.0" cy="301.5" r="1.7"/><circle cx="1171.0" cy="339.5" r="1.7"/><circle cx="1166.9" cy="339.5" r="1.7"/><circle cx="1181.8" cy="339.5" r="1.7"/><circle cx="1176.2" cy="301.5" r="1.7"/><circle cx="1179.4" cy="301.5" r="1.7"/><circle cx="1181.6" cy="339.5" r="1.7"/><circle cx="1163.4" cy="320.5" r="1.7"/><circle cx="1175.7" cy="339.5" r="1.7"/><circle cx="1166.0" cy="301.5" r="1.7"/><circle cx="1163.8" cy="320.5" r="1.7"/><circle cx="1167.2" cy="339.5" r="1.7"/><circle cx="1172.0" cy="320.5" r="1.7"/><circle cx="1179.8" cy="320.5" r="1.7"/><circle cx="1179.8" cy="282.6" r="1.7"/><circle cx="1168.5" cy="320.5" r="1.7"/><circle cx="1179.0" cy="339.5" r="1.7"/><circle cx="1184.4" cy="339.5" r="1.7"/><circle cx="1169.1" cy="320.5" r="1.7"/><circle cx="1167.8" cy="339.5" r="1.7"/><circle cx="1166.9" cy="301.5" r="1.7"/></g>
<line x1="1224.5" y1="236.0" x2="1224.5" y2="268.4" stroke="#54B54B" stroke-width="3.3" stroke-linecap="butt"/><line x1="1224.5" y1="292.4" x2="1224.5" y2="327.4" stroke="#54B54B" stroke-width="3.3"/><rect x="1217.1" y="268.4" width="14.8" height="24.0" fill="#fff" stroke="#54B54B" stroke-width="3.3"/><line x1="1217.1" y1="283.5" x2="1231.9" y2="283.5" stroke="#54B54B" stroke-width="6.0"/>
<line x1="1241.4" y1="131.0" x2="1241.4" y2="237.1" stroke="#71A3F6" stroke-width="3.3" stroke-linecap="butt"/><line x1="1241.4" y1="318.0" x2="1241.4" y2="428.4" stroke="#71A3F6" stroke-width="3.3"/><rect x="1234.0" y="237.1" width="14.8" height="80.9" fill="#fff" stroke="#71A3F6" stroke-width="3.3"/><line x1="1234.0" y1="274.9" x2="1248.8" y2="274.9" stroke="#71A3F6" stroke-width="6.0"/>
<rect x="1199.9" y="295.6" width="15.4" height="6.3" fill="#E8786C"/>
<g fill="#5DBB55" fill-opacity="0.45"><circle cx="1233.0" cy="267.8" r="1.7"/><circle cx="1236.4" cy="270.4" r="1.7"/><circle cx="1219.6" cy="266.4" r="1.7"/><circle cx="1230.3" cy="290.1" r="1.7"/><circle cx="1227.3" cy="315.8" r="1.7"/><circle cx="1212.8" cy="309.7" r="1.7"/><circle cx="1215.4" cy="282.7" r="1.7"/><circle cx="1234.3" cy="249.0" r="1.7"/><circle cx="1216.6" cy="284.9" r="1.7"/><circle cx="1224.7" cy="304.8" r="1.7"/><circle cx="1220.9" cy="282.2" r="1.7"/><circle cx="1225.3" cy="270.4" r="1.7"/><circle cx="1214.3" cy="267.6" r="1.7"/><circle cx="1221.6" cy="313.1" r="1.7"/><circle cx="1218.1" cy="284.1" r="1.7"/><circle cx="1217.3" cy="273.3" r="1.7"/><circle cx="1223.9" cy="290.0" r="1.7"/><circle cx="1231.5" cy="270.7" r="1.7"/><circle cx="1223.1" cy="288.1" r="1.7"/><circle cx="1235.8" cy="249.7" r="1.7"/><circle cx="1214.2" cy="276.3" r="1.7"/><circle cx="1228.1" cy="285.1" r="1.7"/><circle cx="1212.5" cy="291.4" r="1.7"/><circle cx="1235.2" cy="239.8" r="1.7"/><circle cx="1223.6" cy="303.4" r="1.7"/><circle cx="1219.3" cy="276.3" r="1.7"/><circle cx="1231.0" cy="313.4" r="1.7"/><circle cx="1222.9" cy="267.8" r="1.7"/><circle cx="1221.7" cy="310.3" r="1.7"/><circle cx="1236.6" cy="308.9" r="1.7"/><circle cx="1219.0" cy="316.7" r="1.7"/><circle cx="1215.0" cy="267.9" r="1.7"/><circle cx="1213.3" cy="306.8" r="1.7"/><circle cx="1225.3" cy="298.7" r="1.7"/><circle cx="1215.9" cy="262.8" r="1.7"/><circle cx="1231.4" cy="297.6" r="1.7"/><circle cx="1220.3" cy="286.1" r="1.7"/><circle cx="1217.8" cy="304.2" r="1.7"/><circle cx="1214.5" cy="241.7" r="1.7"/><circle cx="1230.8" cy="292.1" r="1.7"/><circle cx="1235.0" cy="255.3" r="1.7"/><circle cx="1236.4" cy="284.5" r="1.7"/><circle cx="1219.0" cy="277.2" r="1.7"/><circle cx="1230.1" cy="284.7" r="1.7"/><circle cx="1214.9" cy="269.4" r="1.7"/><circle cx="1236.4" cy="295.6" r="1.7"/><circle cx="1232.6" cy="306.7" r="1.7"/><circle cx="1217.9" cy="289.2" r="1.7"/><circle cx="1223.7" cy="292.2" r="1.7"/><circle cx="1215.4" cy="237.9" r="1.7"/><circle cx="1219.9" cy="260.4" r="1.7"/><circle cx="1230.9" cy="297.7" r="1.7"/><circle cx="1216.4" cy="289.1" r="1.7"/><circle cx="1232.9" cy="286.4" r="1.7"/><circle cx="1226.4" cy="259.3" r="1.7"/><circle cx="1231.3" cy="325.1" r="1.7"/><circle cx="1234.9" cy="277.1" r="1.7"/><circle cx="1220.0" cy="245.4" r="1.7"/><circle cx="1232.8" cy="261.1" r="1.7"/><circle cx="1221.0" cy="291.8" r="1.7"/><circle cx="1220.7" cy="288.0" r="1.7"/><circle cx="1214.4" cy="287.8" r="1.7"/><circle cx="1235.1" cy="293.2" r="1.7"/><circle cx="1228.0" cy="286.7" r="1.7"/><circle cx="1231.1" cy="256.0" r="1.7"/><circle cx="1235.4" cy="292.5" r="1.7"/><circle cx="1237.3" cy="265.6" r="1.7"/><circle cx="1231.1" cy="269.7" r="1.7"/><circle cx="1218.1" cy="264.8" r="1.7"/><circle cx="1221.4" cy="274.1" r="1.7"/><circle cx="1215.0" cy="262.1" r="1.7"/><circle cx="1220.2" cy="281.1" r="1.7"/><circle cx="1220.5" cy="264.1" r="1.7"/><circle cx="1233.5" cy="261.6" r="1.7"/><circle cx="1215.1" cy="257.2" r="1.7"/><circle cx="1230.9" cy="247.8" r="1.7"/><circle cx="1228.5" cy="272.8" r="1.7"/><circle cx="1234.1" cy="317.3" r="1.7"/><circle cx="1223.3" cy="280.6" r="1.7"/><circle cx="1231.9" cy="289.2" r="1.7"/><circle cx="1234.1" cy="267.2" r="1.7"/><circle cx="1220.4" cy="294.0" r="1.7"/><circle cx="1214.1" cy="292.4" r="1.7"/><circle cx="1212.2" cy="289.7" r="1.7"/><circle cx="1217.4" cy="266.2" r="1.7"/><circle cx="1213.3" cy="313.0" r="1.7"/><circle cx="1216.7" cy="268.9" r="1.7"/><circle cx="1221.9" cy="284.9" r="1.7"/><circle cx="1236.3" cy="265.7" r="1.7"/><circle cx="1227.9" cy="290.3" r="1.7"/><circle cx="1223.7" cy="254.9" r="1.7"/><circle cx="1230.6" cy="254.1" r="1.7"/><circle cx="1234.2" cy="290.2" r="1.7"/><circle cx="1214.3" cy="279.1" r="1.7"/><circle cx="1233.1" cy="278.2" r="1.7"/><circle cx="1224.1" cy="282.4" r="1.7"/><circle cx="1234.4" cy="286.5" r="1.7"/><circle cx="1216.9" cy="273.5" r="1.7"/><circle cx="1220.9" cy="288.4" r="1.7"/><circle cx="1229.6" cy="244.1" r="1.7"/><circle cx="1235.3" cy="304.0" r="1.7"/><circle cx="1226.9" cy="319.9" r="1.7"/><circle cx="1230.2" cy="285.9" r="1.7"/><circle cx="1213.9" cy="286.0" r="1.7"/><circle cx="1232.8" cy="282.1" r="1.7"/><circle cx="1220.8" cy="266.8" r="1.7"/><circle cx="1230.9" cy="293.4" r="1.7"/><circle cx="1217.2" cy="265.8" r="1.7"/><circle cx="1237.3" cy="256.6" r="1.7"/><circle cx="1221.4" cy="285.9" r="1.7"/></g>
<g fill="#7AA9F5" fill-opacity="0.45"><circle cx="1252.6" cy="243.2" r="1.7"/><circle cx="1236.2" cy="325.9" r="1.7"/><circle cx="1247.4" cy="304.4" r="1.7"/><circle cx="1242.6" cy="330.2" r="1.7"/><circle cx="1245.8" cy="274.9" r="1.7"/><circle cx="1253.3" cy="346.3" r="1.7"/><circle cx="1243.0" cy="131.0" r="1.7"/><circle cx="1233.2" cy="230.2" r="1.7"/><circle cx="1242.7" cy="185.0" r="1.7"/><circle cx="1251.0" cy="236.5" r="1.7"/><circle cx="1252.4" cy="298.7" r="1.7"/><circle cx="1229.0" cy="324.5" r="1.7"/><circle cx="1251.8" cy="274.5" r="1.7"/><circle cx="1253.2" cy="190.0" r="1.7"/><circle cx="1252.6" cy="273.3" r="1.7"/><circle cx="1232.1" cy="265.8" r="1.7"/><circle cx="1249.3" cy="255.1" r="1.7"/><circle cx="1244.1" cy="288.0" r="1.7"/><circle cx="1235.6" cy="316.4" r="1.7"/><circle cx="1241.7" cy="288.6" r="1.7"/><circle cx="1230.8" cy="280.4" r="1.7"/><circle cx="1237.2" cy="424.4" r="1.7"/><circle cx="1247.9" cy="242.1" r="1.7"/><circle cx="1235.0" cy="319.0" r="1.7"/><circle cx="1233.0" cy="272.4" r="1.7"/><circle cx="1251.9" cy="259.3" r="1.7"/><circle cx="1243.6" cy="325.9" r="1.7"/><circle cx="1247.9" cy="241.5" r="1.7"/><circle cx="1246.9" cy="242.8" r="1.7"/><circle cx="1250.2" cy="314.1" r="1.7"/><circle cx="1229.8" cy="177.1" r="1.7"/><circle cx="1239.9" cy="166.3" r="1.7"/><circle cx="1230.2" cy="374.1" r="1.7"/><circle cx="1246.0" cy="229.8" r="1.7"/><circle cx="1240.4" cy="346.8" r="1.7"/><circle cx="1254.3" cy="253.9" r="1.7"/><circle cx="1248.3" cy="303.2" r="1.7"/><circle cx="1233.6" cy="318.2" r="1.7"/><circle cx="1239.1" cy="339.1" r="1.7"/><circle cx="1236.3" cy="257.0" r="1.7"/><circle cx="1234.1" cy="338.8" r="1.7"/><circle cx="1233.4" cy="374.8" r="1.7"/><circle cx="1241.5" cy="306.7" r="1.7"/><circle cx="1240.9" cy="331.2" r="1.7"/><circle cx="1253.7" cy="285.3" r="1.7"/><circle cx="1253.0" cy="277.3" r="1.7"/><circle cx="1233.5" cy="279.8" r="1.7"/><circle cx="1232.2" cy="261.0" r="1.7"/><circle cx="1230.3" cy="336.1" r="1.7"/><circle cx="1253.5" cy="244.5" r="1.7"/><circle cx="1237.6" cy="291.6" r="1.7"/><circle cx="1237.6" cy="287.8" r="1.7"/><circle cx="1238.6" cy="246.1" r="1.7"/><circle cx="1250.9" cy="342.5" r="1.7"/><circle cx="1228.6" cy="263.9" r="1.7"/><circle cx="1247.3" cy="212.8" r="1.7"/><circle cx="1244.8" cy="300.0" r="1.7"/><circle cx="1238.8" cy="179.7" r="1.7"/><circle cx="1236.2" cy="286.5" r="1.7"/><circle cx="1245.6" cy="266.7" r="1.7"/><circle cx="1253.1" cy="239.4" r="1.7"/><circle cx="1237.9" cy="345.4" r="1.7"/><circle cx="1249.0" cy="212.0" r="1.7"/><circle cx="1246.0" cy="261.3" r="1.7"/><circle cx="1253.0" cy="302.5" r="1.7"/><circle cx="1238.9" cy="267.4" r="1.7"/><circle cx="1231.4" cy="331.6" r="1.7"/><circle cx="1249.2" cy="191.5" r="1.7"/><circle cx="1236.8" cy="410.1" r="1.7"/><circle cx="1241.3" cy="278.4" r="1.7"/><circle cx="1251.7" cy="298.4" r="1.7"/><circle cx="1242.2" cy="300.8" r="1.7"/><circle cx="1245.0" cy="174.7" r="1.7"/><circle cx="1237.0" cy="278.9" r="1.7"/><circle cx="1244.2" cy="294.4" r="1.7"/><circle cx="1235.2" cy="232.3" r="1.7"/><circle cx="1238.5" cy="297.2" r="1.7"/><circle cx="1252.1" cy="298.5" r="1.7"/><circle cx="1235.6" cy="269.0" r="1.7"/><circle cx="1249.8" cy="303.8" r="1.7"/><circle cx="1246.3" cy="339.4" r="1.7"/><circle cx="1233.4" cy="413.4" r="1.7"/><circle cx="1249.3" cy="389.5" r="1.7"/><circle cx="1234.3" cy="344.8" r="1.7"/><circle cx="1235.3" cy="390.6" r="1.7"/><circle cx="1247.1" cy="239.6" r="1.7"/><circle cx="1253.0" cy="185.0" r="1.7"/><circle cx="1252.4" cy="267.2" r="1.7"/><circle cx="1252.5" cy="372.3" r="1.7"/><circle cx="1233.4" cy="286.3" r="1.7"/><circle cx="1250.7" cy="237.4" r="1.7"/><circle cx="1230.8" cy="294.6" r="1.7"/><circle cx="1248.0" cy="203.0" r="1.7"/><circle cx="1253.8" cy="260.2" r="1.7"/><circle cx="1229.9" cy="402.7" r="1.7"/><circle cx="1229.0" cy="354.8" r="1.7"/><circle cx="1244.8" cy="243.4" r="1.7"/><circle cx="1232.6" cy="360.5" r="1.7"/><circle cx="1244.2" cy="332.1" r="1.7"/><circle cx="1253.6" cy="248.8" r="1.7"/><circle cx="1253.9" cy="298.9" r="1.7"/><circle cx="1238.6" cy="286.2" r="1.7"/><circle cx="1234.4" cy="317.4" r="1.7"/><circle cx="1254.3" cy="147.7" r="1.7"/><circle cx="1233.0" cy="243.8" r="1.7"/><circle cx="1232.4" cy="332.4" r="1.7"/><circle cx="1247.6" cy="300.6" r="1.7"/><circle cx="1242.2" cy="389.8" r="1.7"/><circle cx="1229.3" cy="247.6" r="1.7"/><circle cx="1249.0" cy="285.3" r="1.7"/></g>
</g>
<rect x="507.7" y="460.8" width="757.6" height="385.9" fill="#EBEBEB"/>
<line x1="507.7" x2="1265.3" y1="513.4" y2="513.4" stroke="#fff" stroke-width="1.3"/>
<line x1="507.7" x2="1265.3" y1="638.6" y2="638.6" stroke="#fff" stroke-width="1.3"/>
<line x1="507.7" x2="1265.3" y1="763.9" y2="763.9" stroke="#fff" stroke-width="1.3"/>
<line x1="507.7" x2="1265.3" y1="576.0" y2="576.0" stroke="#fff" stroke-width="2.6"/>
<line x1="507.7" x2="1265.3" y1="701.2" y2="701.2" stroke="#fff" stroke-width="2.6"/>
<line x1="507.7" x2="1265.3" y1="826.5" y2="826.5" stroke="#fff" stroke-width="2.6"/>
<line x1="548.7" x2="548.7" y1="460.8" y2="846.7" stroke="#fff" stroke-width="2.6"/>
<line x1="616.3" x2="616.3" y1="460.8" y2="846.7" stroke="#fff" stroke-width="2.6"/>
<line x1="683.9" x2="683.9" y1="460.8" y2="846.7" stroke="#fff" stroke-width="2.6"/>
<line x1="751.5" x2="751.5" y1="460.8" y2="846.7" stroke="#fff" stroke-width="2.6"/>
<line x1="819.1" x2="819.1" y1="460.8" y2="846.7" stroke="#fff" stroke-width="2.6"/>
<line x1="886.7" x2="886.7" y1="460.8" y2="846.7" stroke="#fff" stroke-width="2.6"/>
<line x1="954.3" x2="954.3" y1="460.8" y2="846.7" stroke="#fff" stroke-width="2.6"/>
<line x1="1021.9" x2="1021.9" y1="460.8" y2="846.7" stroke="#fff" stroke-width="2.6"/>
<line x1="1089.5" x2="1089.5" y1="460.8" y2="846.7" stroke="#fff" stroke-width="2.6"/>
<line x1="1157.1" x2="1157.1" y1="460.8" y2="846.7" stroke="#fff" stroke-width="2.6"/>
<line x1="1224.7" x2="1224.7" y1="460.8" y2="846.7" stroke="#fff" stroke-width="2.6"/>
<line x1="501.2" x2="507.7" y1="576.0" y2="576.0" stroke="#333" stroke-width="2.6"/>
<text x="494.2" y="584.2" font-size="23" fill="#4D4D4D" text-anchor="end">2.5</text>
<line x1="501.2" x2="507.7" y1="701.2" y2="701.2" stroke="#333" stroke-width="2.6"/>
<text x="494.2" y="709.4" font-size="23" fill="#4D4D4D" text-anchor="end">0.0</text>
<line x1="501.2" x2="507.7" y1="826.5" y2="826.5" stroke="#333" stroke-width="2.6"/>
<text x="494.2" y="834.7" font-size="23" fill="#4D4D4D" text-anchor="end">-2.5</text>
<text transform="translate(441.5,654.5) rotate(-90)" font-size="28.5" fill="#1A1A1A" text-anchor="middle">Scaled Metric Value</text>
<clipPath id="cp1"><rect x="507.7" y="460.8" width="757.6" height="385.9"/></clipPath><g clip-path="url(#cp1)">
<line x1="548.7" y1="591.4" x2="548.7" y2="642.1" stroke="#54B54B" stroke-width="3.3" stroke-linecap="butt"/><line x1="548.7" y1="676.3" x2="548.7" y2="718.5" stroke="#54B54B" stroke-width="3.3"/><rect x="541.3" y="642.1" width="14.8" height="34.2" fill="#fff" stroke="#54B54B" stroke-width="3.3"/><line x1="541.3" y1="663.8" x2="556.1" y2="663.8" stroke="#54B54B" stroke-width="6.0"/>
<line x1="565.6" y1="669.0" x2="565.6" y2="724.3" stroke="#71A3F6" stroke-width="3.3" stroke-linecap="butt"/><line x1="565.6" y1="761.6" x2="565.6" y2="809.9" stroke="#71A3F6" stroke-width="3.3"/><rect x="558.2" y="724.3" width="14.8" height="37.3" fill="#fff" stroke="#71A3F6" stroke-width="3.3"/><line x1="558.2" y1="744.0" x2="573.0" y2="744.0" stroke="#71A3F6" stroke-width="6.0"/>
<rect x="524.1" y="653.5" width="15.4" height="6.3" fill="#E8786C"/>
<g fill="#5DBB55" fill-opacity="0.45"><circle cx="547.4" cy="657.2" r="1.7"/><circle cx="551.3" cy="624.0" r="1.7"/><circle cx="546.0" cy="672.0" r="1.7"/><circle cx="558.0" cy="608.5" r="1.7"/><circle cx="550.3" cy="616.1" r="1.7"/><circle cx="540.3" cy="687.2" r="1.7"/><circle cx="553.7" cy="669.6" r="1.7"/><circle cx="556.6" cy="717.3" r="1.7"/><circle cx="549.1" cy="639.8" r="1.7"/><circle cx="556.5" cy="717.0" r="1.7"/><circle cx="553.1" cy="668.1" r="1.7"/><circle cx="554.6" cy="657.7" r="1.7"/><circle cx="560.7" cy="668.4" r="1.7"/><circle cx="559.9" cy="605.0" r="1.7"/><circle cx="543.9" cy="653.8" r="1.7"/><circle cx="542.7" cy="670.0" r="1.7"/><circle cx="556.3" cy="618.8" r="1.7"/><circle cx="557.1" cy="639.6" r="1.7"/><circle cx="553.6" cy="594.4" r="1.7"/><circle cx="555.4" cy="672.9" r="1.7"/><circle cx="551.6" cy="675.7" r="1.7"/><circle cx="558.0" cy="684.8" r="1.7"/><circle cx="542.9" cy="664.4" r="1.7"/><circle cx="537.9" cy="614.0" r="1.7"/><circle cx="555.4" cy="612.1" r="1.7"/><circle cx="555.5" cy="686.2" r="1.7"/><circle cx="559.3" cy="657.4" r="1.7"/><circle cx="546.8" cy="656.3" r="1.7"/><circle cx="538.0" cy="611.2" r="1.7"/><circle cx="538.4" cy="640.7" r="1.7"/><circle cx="538.7" cy="675.0" r="1.7"/><circle cx="547.2" cy="626.2" r="1.7"/><circle cx="542.4" cy="644.2" r="1.7"/><circle cx="552.6" cy="643.8" r="1.7"/><circle cx="548.5" cy="695.4" r="1.7"/><circle cx="541.3" cy="644.5" r="1.7"/><circle cx="542.9" cy="650.4" r="1.7"/><circle cx="559.6" cy="670.3" r="1.7"/><circle cx="561.6" cy="608.6" r="1.7"/><circle cx="550.6" cy="667.5" r="1.7"/><circle cx="555.4" cy="637.1" r="1.7"/><circle cx="558.2" cy="666.0" r="1.7"/><circle cx="560.4" cy="668.7" r="1.7"/><circle cx="538.8" cy="665.2" r="1.7"/><circle cx="539.5" cy="642.2" r="1.7"/><circle cx="537.1" cy="648.2" r="1.7"/><circle cx="549.8" cy="595.1" r="1.7"/><circle cx="539.1" cy="642.9" r="1.7"/><circle cx="545.5" cy="651.9" r="1.7"/><circle cx="556.9" cy="676.3" r="1.7"/><circle cx="548.1" cy="709.9" r="1.7"/><circle cx="557.8" cy="697.6" r="1.7"/><circle cx="536.6" cy="621.3" r="1.7"/><circle cx="547.9" cy="665.6" r="1.7"/><circle cx="554.7" cy="644.8" r="1.7"/><circle cx="560.0" cy="671.6" r="1.7"/><circle cx="539.3" cy="681.2" r="1.7"/><circle cx="538.8" cy="636.3" r="1.7"/><circle cx="548.7" cy="681.1" r="1.7"/><circle cx="540.0" cy="672.0" r="1.7"/><circle cx="548.0" cy="612.1" r="1.7"/><circle cx="542.2" cy="639.8" r="1.7"/><circle cx="541.5" cy="616.6" r="1.7"/><circle cx="551.6" cy="618.2" r="1.7"/><circle cx="555.8" cy="600.5" r="1.7"/><circle cx="549.6" cy="652.4" r="1.7"/><circle cx="547.2" cy="629.5" r="1.7"/><circle cx="559.5" cy="695.3" r="1.7"/><circle cx="553.4" cy="637.5" r="1.7"/><circle cx="541.7" cy="642.6" r="1.7"/><circle cx="557.1" cy="665.6" r="1.7"/><circle cx="559.7" cy="603.2" r="1.7"/><circle cx="553.5" cy="684.5" r="1.7"/><circle cx="546.2" cy="659.1" r="1.7"/><circle cx="539.3" cy="683.4" r="1.7"/><circle cx="548.5" cy="665.3" r="1.7"/><circle cx="545.3" cy="675.4" r="1.7"/><circle cx="555.5" cy="659.1" r="1.7"/><circle cx="539.9" cy="656.0" r="1.7"/><circle cx="545.3" cy="622.9" r="1.7"/><circle cx="561.2" cy="603.8" r="1.7"/><circle cx="550.8" cy="687.6" r="1.7"/><circle cx="545.7" cy="601.7" r="1.7"/><circle cx="543.9" cy="659.7" r="1.7"/><circle cx="541.0" cy="711.0" r="1.7"/><circle cx="543.1" cy="690.4" r="1.7"/><circle cx="550.3" cy="652.6" r="1.7"/><circle cx="553.5" cy="607.1" r="1.7"/><circle cx="560.4" cy="670.7" r="1.7"/><circle cx="549.8" cy="652.2" r="1.7"/><circle cx="553.1" cy="628.0" r="1.7"/><circle cx="551.4" cy="670.8" r="1.7"/><circle cx="560.9" cy="673.8" r="1.7"/><circle cx="561.0" cy="676.4" r="1.7"/><circle cx="536.0" cy="702.5" r="1.7"/><circle cx="541.0" cy="659.2" r="1.7"/><circle cx="538.8" cy="663.2" r="1.7"/><circle cx="553.1" cy="632.8" r="1.7"/><circle cx="559.8" cy="647.8" r="1.7"/><circle cx="553.3" cy="593.9" r="1.7"/><circle cx="535.7" cy="645.3" r="1.7"/><circle cx="546.8" cy="706.0" r="1.7"/><circle cx="543.8" cy="601.1" r="1.7"/><circle cx="535.9" cy="657.9" r="1.7"/><circle cx="559.2" cy="668.0" r="1.7"/><circle cx="557.1" cy="656.0" r="1.7"/><circle cx="541.0" cy="715.0" r="1.7"/><circle cx="557.3" cy="681.9" r="1.7"/><circle cx="559.9" cy="694.6" r="1.7"/><circle cx="558.6" cy="675.4" r="1.7"/></g>
<g fill="#7AA9F5" fill-opacity="0.45"><circle cx="561.0" cy="742.8" r="1.7"/><circle cx="563.1" cy="680.4" r="1.7"/><circle cx="554.3" cy="728.4" r="1.7"/><circle cx="578.1" cy="715.3" r="1.7"/><circle cx="572.0" cy="780.6" r="1.7"/><circle cx="556.4" cy="760.2" r="1.7"/><circle cx="569.8" cy="753.6" r="1.7"/><circle cx="578.4" cy="684.5" r="1.7"/><circle cx="568.8" cy="671.3" r="1.7"/><circle cx="556.8" cy="731.9" r="1.7"/><circle cx="566.9" cy="726.2" r="1.7"/><circle cx="576.0" cy="753.9" r="1.7"/><circle cx="556.3" cy="761.2" r="1.7"/><circle cx="556.5" cy="771.3" r="1.7"/><circle cx="573.4" cy="737.0" r="1.7"/><circle cx="565.7" cy="771.0" r="1.7"/><circle cx="567.2" cy="738.1" r="1.7"/><circle cx="566.7" cy="750.1" r="1.7"/><circle cx="554.1" cy="805.3" r="1.7"/><circle cx="558.8" cy="749.4" r="1.7"/><circle cx="558.9" cy="724.1" r="1.7"/><circle cx="558.9" cy="716.4" r="1.7"/><circle cx="565.0" cy="784.6" r="1.7"/><circle cx="561.3" cy="751.9" r="1.7"/><circle cx="558.4" cy="723.7" r="1.7"/><circle cx="574.3" cy="730.6" r="1.7"/><circle cx="565.7" cy="747.3" r="1.7"/><circle cx="568.3" cy="693.4" r="1.7"/><circle cx="554.4" cy="767.8" r="1.7"/><circle cx="561.2" cy="787.1" r="1.7"/><circle cx="569.5" cy="785.5" r="1.7"/><circle cx="560.6" cy="749.4" r="1.7"/><circle cx="577.0" cy="743.0" r="1.7"/><circle cx="556.6" cy="761.7" r="1.7"/><circle cx="561.0" cy="757.7" r="1.7"/><circle cx="571.0" cy="697.2" r="1.7"/><circle cx="556.9" cy="749.0" r="1.7"/><circle cx="555.8" cy="796.6" r="1.7"/><circle cx="569.4" cy="712.0" r="1.7"/><circle cx="568.9" cy="771.6" r="1.7"/><circle cx="565.8" cy="793.2" r="1.7"/><circle cx="555.3" cy="755.6" r="1.7"/><circle cx="571.2" cy="724.9" r="1.7"/><circle cx="557.0" cy="743.2" r="1.7"/><circle cx="563.9" cy="730.6" r="1.7"/><circle cx="555.0" cy="731.3" r="1.7"/><circle cx="552.7" cy="699.2" r="1.7"/><circle cx="563.0" cy="763.0" r="1.7"/><circle cx="554.9" cy="765.5" r="1.7"/><circle cx="578.4" cy="729.2" r="1.7"/><circle cx="559.5" cy="755.6" r="1.7"/><circle cx="558.4" cy="730.6" r="1.7"/><circle cx="570.5" cy="751.0" r="1.7"/><circle cx="556.6" cy="748.9" r="1.7"/><circle cx="566.7" cy="790.0" r="1.7"/><circle cx="576.5" cy="672.3" r="1.7"/><circle cx="565.7" cy="783.0" r="1.7"/><circle cx="557.6" cy="744.8" r="1.7"/><circle cx="565.5" cy="730.6" r="1.7"/><circle cx="560.2" cy="718.8" r="1.7"/><circle cx="573.8" cy="690.5" r="1.7"/><circle cx="556.3" cy="745.9" r="1.7"/><circle cx="555.9" cy="745.1" r="1.7"/><circle cx="570.7" cy="729.4" r="1.7"/><circle cx="578.0" cy="737.8" r="1.7"/><circle cx="571.2" cy="796.7" r="1.7"/><circle cx="555.5" cy="720.0" r="1.7"/><circle cx="554.0" cy="756.5" r="1.7"/><circle cx="571.4" cy="737.5" r="1.7"/><circle cx="570.7" cy="754.7" r="1.7"/><circle cx="571.1" cy="753.4" r="1.7"/><circle cx="578.0" cy="759.7" r="1.7"/><circle cx="552.7" cy="748.4" r="1.7"/><circle cx="571.5" cy="784.9" r="1.7"/><circle cx="569.2" cy="708.4" r="1.7"/><circle cx="575.3" cy="771.8" r="1.7"/><circle cx="555.6" cy="726.9" r="1.7"/><circle cx="570.1" cy="752.4" r="1.7"/><circle cx="553.7" cy="808.8" r="1.7"/><circle cx="575.3" cy="754.3" r="1.7"/><circle cx="560.9" cy="670.3" r="1.7"/><circle cx="573.0" cy="697.5" r="1.7"/><circle cx="567.9" cy="708.3" r="1.7"/><circle cx="569.3" cy="679.4" r="1.7"/><circle cx="567.3" cy="686.3" r="1.7"/><circle cx="566.1" cy="765.7" r="1.7"/><circle cx="561.4" cy="745.2" r="1.7"/><circle cx="565.9" cy="752.9" r="1.7"/><circle cx="558.4" cy="737.1" r="1.7"/><circle cx="565.7" cy="759.7" r="1.7"/><circle cx="563.5" cy="743.7" r="1.7"/><circle cx="557.4" cy="731.1" r="1.7"/><circle cx="559.8" cy="741.5" r="1.7"/><circle cx="570.9" cy="723.3" r="1.7"/><circle cx="566.1" cy="722.3" r="1.7"/><circle cx="576.7" cy="761.6" r="1.7"/><circle cx="562.4" cy="743.1" r="1.7"/><circle cx="563.1" cy="758.8" r="1.7"/><circle cx="573.9" cy="727.6" r="1.7"/><circle cx="571.6" cy="745.2" r="1.7"/><circle cx="564.4" cy="763.9" r="1.7"/><circle cx="560.6" cy="754.0" r="1.7"/><circle cx="572.2" cy="753.9" r="1.7"/><circle cx="558.0" cy="725.6" r="1.7"/><circle cx="573.0" cy="762.2" r="1.7"/><circle cx="570.2" cy="731.8" r="1.7"/><circle cx="570.6" cy="733.3" r="1.7"/><circle cx="554.2" cy="760.0" r="1.7"/><circle cx="553.4" cy="753.8" r="1.7"/><circle cx="566.2" cy="681.8" r="1.7"/></g>
<line x1="616.3" y1="597.6" x2="616.3" y2="642.9" stroke="#54B54B" stroke-width="3.3" stroke-linecap="butt"/><line x1="616.3" y1="679.8" x2="616.3" y2="728.9" stroke="#54B54B" stroke-width="3.3"/><rect x="608.9" y="642.9" width="14.8" height="36.9" fill="#fff" stroke="#54B54B" stroke-width="3.3"/><line x1="608.9" y1="668.4" x2="623.7" y2="668.4" stroke="#54B54B" stroke-width="6.0"/>
<line x1="633.2" y1="659.7" x2="633.2" y2="719.8" stroke="#71A3F6" stroke-width="3.3" stroke-linecap="butt"/><line x1="633.2" y1="761.6" x2="633.2" y2="823.7" stroke="#71A3F6" stroke-width="3.3"/><rect x="625.8" y="719.8" width="14.8" height="41.8" fill="#fff" stroke="#71A3F6" stroke-width="3.3"/><line x1="625.8" y1="744.0" x2="640.6" y2="744.0" stroke="#71A3F6" stroke-width="6.0"/>
<rect x="591.7" y="656.1" width="15.4" height="6.3" fill="#E8786C"/>
<g fill="#5DBB55" fill-opacity="0.45"><circle cx="628.4" cy="651.0" r="1.7"/><circle cx="609.3" cy="639.0" r="1.7"/><circle cx="606.1" cy="675.8" r="1.7"/><circle cx="622.5" cy="639.9" r="1.7"/><circle cx="612.9" cy="669.0" r="1.7"/><circle cx="616.0" cy="678.9" r="1.7"/><circle cx="626.6" cy="646.8" r="1.7"/><circle cx="625.9" cy="632.6" r="1.7"/><circle cx="614.3" cy="671.2" r="1.7"/><circle cx="628.6" cy="676.9" r="1.7"/><circle cx="607.4" cy="685.7" r="1.7"/><circle cx="627.3" cy="678.4" r="1.7"/><circle cx="611.9" cy="632.0" r="1.7"/><circle cx="626.5" cy="632.2" r="1.7"/><circle cx="608.3" cy="671.7" r="1.7"/><circle cx="613.0" cy="641.9" r="1.7"/><circle cx="626.8" cy="697.2" r="1.7"/><circle cx="613.6" cy="671.2" r="1.7"/><circle cx="609.9" cy="658.7" r="1.7"/><circle cx="613.4" cy="722.7" r="1.7"/><circle cx="603.6" cy="673.9" r="1.7"/><circle cx="623.1" cy="674.2" r="1.7"/><circle cx="621.0" cy="676.0" r="1.7"/><circle cx="608.2" cy="655.7" r="1.7"/><circle cx="620.8" cy="722.7" r="1.7"/><circle cx="610.9" cy="657.1" r="1.7"/><circle cx="625.5" cy="683.5" r="1.7"/><circle cx="609.4" cy="620.9" r="1.7"/><circle cx="618.2" cy="659.6" r="1.7"/><circle cx="604.2" cy="676.5" r="1.7"/><circle cx="620.1" cy="676.4" r="1.7"/><circle cx="616.6" cy="658.0" r="1.7"/><circle cx="608.8" cy="696.6" r="1.7"/><circle cx="614.1" cy="677.0" r="1.7"/><circle cx="626.8" cy="674.6" r="1.7"/><circle cx="628.9" cy="697.9" r="1.7"/><circle cx="625.6" cy="680.1" r="1.7"/><circle cx="618.6" cy="679.9" r="1.7"/><circle cx="604.3" cy="674.0" r="1.7"/><circle cx="624.4" cy="639.8" r="1.7"/><circle cx="623.5" cy="678.9" r="1.7"/><circle cx="629.0" cy="669.4" r="1.7"/><circle cx="613.2" cy="713.0" r="1.7"/><circle cx="619.5" cy="680.8" r="1.7"/><circle cx="625.2" cy="641.5" r="1.7"/><circle cx="613.4" cy="663.5" r="1.7"/><circle cx="606.0" cy="639.5" r="1.7"/><circle cx="622.9" cy="679.3" r="1.7"/><circle cx="629.1" cy="671.1" r="1.7"/><circle cx="615.3" cy="703.6" r="1.7"/><circle cx="603.4" cy="682.2" r="1.7"/><circle cx="605.7" cy="703.0" r="1.7"/><circle cx="614.5" cy="674.4" r="1.7"/><circle cx="610.8" cy="667.6" r="1.7"/><circle cx="616.7" cy="647.8" r="1.7"/><circle cx="607.7" cy="602.8" r="1.7"/><circle cx="616.1" cy="667.3" r="1.7"/><circle cx="625.7" cy="674.2" r="1.7"/><circle cx="626.1" cy="682.5" r="1.7"/><circle cx="612.0" cy="674.9" r="1.7"/><circle cx="617.9" cy="656.7" r="1.7"/><circle cx="605.5" cy="678.3" r="1.7"/><circle cx="612.9" cy="609.9" r="1.7"/><circle cx="620.4" cy="698.3" r="1.7"/><circle cx="611.8" cy="665.1" r="1.7"/><circle cx="625.3" cy="676.2" r="1.7"/><circle cx="614.2" cy="675.8" r="1.7"/><circle cx="612.7" cy="609.4" r="1.7"/><circle cx="607.5" cy="672.9" r="1.7"/><circle cx="620.6" cy="651.8" r="1.7"/><circle cx="613.9" cy="670.8" r="1.7"/><circle cx="623.8" cy="680.5" r="1.7"/><circle cx="624.9" cy="670.3" r="1.7"/><circle cx="622.4" cy="674.1" r="1.7"/><circle cx="609.0" cy="720.2" r="1.7"/><circle cx="621.0" cy="608.5" r="1.7"/><circle cx="616.2" cy="650.5" r="1.7"/><circle cx="608.4" cy="669.7" r="1.7"/><circle cx="620.1" cy="687.3" r="1.7"/><circle cx="610.0" cy="648.6" r="1.7"/><circle cx="606.8" cy="653.7" r="1.7"/><circle cx="607.8" cy="656.9" r="1.7"/><circle cx="611.5" cy="667.4" r="1.7"/><circle cx="606.8" cy="663.2" r="1.7"/><circle cx="619.3" cy="669.2" r="1.7"/><circle cx="611.3" cy="694.0" r="1.7"/><circle cx="617.5" cy="650.2" r="1.7"/><circle cx="623.6" cy="656.5" r="1.7"/><circle cx="609.1" cy="661.1" r="1.7"/><circle cx="624.9" cy="671.0" r="1.7"/><circle cx="622.9" cy="661.6" r="1.7"/><circle cx="615.0" cy="674.6" r="1.7"/><circle cx="624.7" cy="606.0" r="1.7"/><circle cx="606.1" cy="652.8" r="1.7"/><circle cx="604.2" cy="657.0" r="1.7"/><circle cx="628.6" cy="615.2" r="1.7"/><circle cx="610.3" cy="645.1" r="1.7"/><circle cx="607.9" cy="633.1" r="1.7"/><circle cx="616.8" cy="635.9" r="1.7"/><circle cx="626.4" cy="724.0" r="1.7"/><circle cx="624.9" cy="671.1" r="1.7"/><circle cx="617.2" cy="649.2" r="1.7"/><circle cx="608.6" cy="630.3" r="1.7"/><circle cx="612.1" cy="623.2" r="1.7"/><circle cx="612.1" cy="721.0" r="1.7"/><circle cx="605.2" cy="709.8" r="1.7"/><circle cx="606.4" cy="655.7" r="1.7"/><circle cx="610.9" cy="689.4" r="1.7"/><circle cx="627.2" cy="678.5" r="1.7"/><circle cx="625.9" cy="621.7" r="1.7"/></g>
<g fill="#7AA9F5" fill-opacity="0.45"><circle cx="631.6" cy="663.6" r="1.7"/><circle cx="627.5" cy="715.8" r="1.7"/><circle cx="641.3" cy="685.4" r="1.7"/><circle cx="626.1" cy="721.5" r="1.7"/><circle cx="644.3" cy="791.6" r="1.7"/><circle cx="636.1" cy="739.0" r="1.7"/><circle cx="623.9" cy="703.2" r="1.7"/><circle cx="632.3" cy="724.7" r="1.7"/><circle cx="632.1" cy="717.1" r="1.7"/><circle cx="645.1" cy="766.8" r="1.7"/><circle cx="639.6" cy="759.4" r="1.7"/><circle cx="626.6" cy="709.9" r="1.7"/><circle cx="630.5" cy="725.1" r="1.7"/><circle cx="625.8" cy="763.3" r="1.7"/><circle cx="629.8" cy="676.4" r="1.7"/><circle cx="633.2" cy="743.0" r="1.7"/><circle cx="639.8" cy="813.5" r="1.7"/><circle cx="643.0" cy="720.3" r="1.7"/><circle cx="625.7" cy="754.1" r="1.7"/><circle cx="639.2" cy="754.7" r="1.7"/><circle cx="630.8" cy="728.7" r="1.7"/><circle cx="624.2" cy="741.6" r="1.7"/><circle cx="632.5" cy="687.8" r="1.7"/><circle cx="640.7" cy="743.3" r="1.7"/><circle cx="639.0" cy="766.7" r="1.7"/><circle cx="641.3" cy="754.3" r="1.7"/><circle cx="627.4" cy="790.7" r="1.7"/><circle cx="632.7" cy="730.9" r="1.7"/><circle cx="635.2" cy="752.7" r="1.7"/><circle cx="631.6" cy="763.9" r="1.7"/><circle cx="641.0" cy="822.9" r="1.7"/><circle cx="641.8" cy="761.3" r="1.7"/><circle cx="635.8" cy="739.0" r="1.7"/><circle cx="623.5" cy="731.8" r="1.7"/><circle cx="627.8" cy="718.1" r="1.7"/><circle cx="640.6" cy="703.0" r="1.7"/><circle cx="641.4" cy="726.8" r="1.7"/><circle cx="637.7" cy="748.5" r="1.7"/><circle cx="625.1" cy="676.8" r="1.7"/><circle cx="630.9" cy="788.8" r="1.7"/><circle cx="624.1" cy="743.1" r="1.7"/><circle cx="642.7" cy="763.6" r="1.7"/><circle cx="624.1" cy="751.9" r="1.7"/><circle cx="635.2" cy="769.2" r="1.7"/><circle cx="632.6" cy="767.9" r="1.7"/><circle cx="631.6" cy="740.3" r="1.7"/><circle cx="642.0" cy="743.6" r="1.7"/><circle cx="644.4" cy="817.2" r="1.7"/><circle cx="621.2" cy="766.4" r="1.7"/><circle cx="635.0" cy="718.9" r="1.7"/><circle cx="625.9" cy="740.3" r="1.7"/><circle cx="628.2" cy="717.7" r="1.7"/><circle cx="626.1" cy="722.0" r="1.7"/><circle cx="637.1" cy="736.9" r="1.7"/><circle cx="632.7" cy="753.0" r="1.7"/><circle cx="636.9" cy="799.9" r="1.7"/><circle cx="624.2" cy="725.5" r="1.7"/><circle cx="639.3" cy="739.1" r="1.7"/><circle cx="642.0" cy="788.7" r="1.7"/><circle cx="621.5" cy="701.1" r="1.7"/><circle cx="622.4" cy="761.6" r="1.7"/><circle cx="622.4" cy="761.4" r="1.7"/><circle cx="626.7" cy="744.7" r="1.7"/><circle cx="632.2" cy="758.1" r="1.7"/><circle cx="640.7" cy="753.0" r="1.7"/><circle cx="623.2" cy="722.4" r="1.7"/><circle cx="620.4" cy="763.3" r="1.7"/><circle cx="623.0" cy="756.0" r="1.7"/><circle cx="640.5" cy="724.9" r="1.7"/><circle cx="625.6" cy="661.3" r="1.7"/><circle cx="639.9" cy="809.8" r="1.7"/><circle cx="644.4" cy="750.2" r="1.7"/><circle cx="628.3" cy="751.6" r="1.7"/><circle cx="644.8" cy="797.4" r="1.7"/><circle cx="631.7" cy="742.8" r="1.7"/><circle cx="640.2" cy="748.4" r="1.7"/><circle cx="632.6" cy="709.9" r="1.7"/><circle cx="630.8" cy="770.0" r="1.7"/><circle cx="630.8" cy="695.7" r="1.7"/><circle cx="634.8" cy="728.4" r="1.7"/><circle cx="635.1" cy="746.7" r="1.7"/><circle cx="634.7" cy="761.7" r="1.7"/><circle cx="622.3" cy="702.5" r="1.7"/><circle cx="643.1" cy="753.2" r="1.7"/><circle cx="620.5" cy="667.8" r="1.7"/><circle cx="636.6" cy="731.7" r="1.7"/><circle cx="632.4" cy="707.4" r="1.7"/><circle cx="628.0" cy="780.5" r="1.7"/><circle cx="639.1" cy="723.4" r="1.7"/><circle cx="636.9" cy="765.7" r="1.7"/><circle cx="637.3" cy="728.8" r="1.7"/><circle cx="631.7" cy="815.2" r="1.7"/><circle cx="635.7" cy="756.3" r="1.7"/><circle cx="623.5" cy="755.5" r="1.7"/><circle cx="627.7" cy="727.5" r="1.7"/><circle cx="628.1" cy="716.5" r="1.7"/><circle cx="641.2" cy="739.6" r="1.7"/><circle cx="639.2" cy="784.6" r="1.7"/><circle cx="644.5" cy="798.9" r="1.7"/><circle cx="639.0" cy="814.0" r="1.7"/><circle cx="624.9" cy="753.2" r="1.7"/><circle cx="633.2" cy="751.4" r="1.7"/><circle cx="623.4" cy="750.0" r="1.7"/><circle cx="628.0" cy="741.8" r="1.7"/><circle cx="630.2" cy="671.8" r="1.7"/><circle cx="626.1" cy="748.6" r="1.7"/><circle cx="628.6" cy="671.2" r="1.7"/><circle cx="641.8" cy="729.8" r="1.7"/><circle cx="639.8" cy="751.5" r="1.7"/><circle cx="623.0" cy="759.6" r="1.7"/></g>
<line x1="683.9" y1="595.5" x2="683.9" y2="641.5" stroke="#54B54B" stroke-width="3.3" stroke-linecap="butt"/><line x1="683.9" y1="674.2" x2="683.9" y2="720.6" stroke="#54B54B" stroke-width="3.3"/><rect x="676.5" y="641.5" width="14.8" height="32.7" fill="#fff" stroke="#54B54B" stroke-width="3.3"/><line x1="676.5" y1="663.2" x2="691.3" y2="663.2" stroke="#54B54B" stroke-width="6.0"/>
<line x1="700.8" y1="687.7" x2="700.8" y2="730.5" stroke="#71A3F6" stroke-width="3.3" stroke-linecap="butt"/><line x1="700.8" y1="760.1" x2="700.8" y2="797.8" stroke="#71A3F6" stroke-width="3.3"/><rect x="693.4" y="730.5" width="14.8" height="29.6" fill="#fff" stroke="#71A3F6" stroke-width="3.3"/><line x1="693.4" y1="746.7" x2="708.2" y2="746.7" stroke="#71A3F6" stroke-width="6.0"/>
<rect x="659.3" y="651.8" width="15.4" height="6.3" fill="#E8786C"/>
<g fill="#5DBB55" fill-opacity="0.45"><circle cx="682.6" cy="708.7" r="1.7"/><circle cx="676.2" cy="626.5" r="1.7"/><circle cx="690.7" cy="665.8" r="1.7"/><circle cx="674.9" cy="673.0" r="1.7"/><circle cx="682.0" cy="661.5" r="1.7"/><circle cx="694.2" cy="612.2" r="1.7"/><circle cx="685.5" cy="674.6" r="1.7"/><circle cx="671.8" cy="666.9" r="1.7"/><circle cx="694.7" cy="665.6" r="1.7"/><circle cx="686.1" cy="671.9" r="1.7"/><circle cx="672.5" cy="644.9" r="1.7"/><circle cx="673.7" cy="615.7" r="1.7"/><circle cx="689.5" cy="671.9" r="1.7"/><circle cx="680.7" cy="715.0" r="1.7"/><circle cx="683.2" cy="689.2" r="1.7"/><circle cx="674.8" cy="716.0" r="1.7"/><circle cx="673.0" cy="675.6" r="1.7"/><circle cx="676.0" cy="696.8" r="1.7"/><circle cx="674.5" cy="661.7" r="1.7"/><circle cx="681.7" cy="635.3" r="1.7"/><circle cx="677.2" cy="674.1" r="1.7"/><circle cx="672.1" cy="632.6" r="1.7"/><circle cx="673.4" cy="642.2" r="1.7"/><circle cx="681.5" cy="610.7" r="1.7"/><circle cx="693.3" cy="654.7" r="1.7"/><circle cx="672.6" cy="694.6" r="1.7"/><circle cx="686.2" cy="646.4" r="1.7"/><circle cx="678.1" cy="644.0" r="1.7"/><circle cx="675.8" cy="663.3" r="1.7"/><circle cx="678.2" cy="666.0" r="1.7"/><circle cx="678.7" cy="655.8" r="1.7"/><circle cx="687.6" cy="673.1" r="1.7"/><circle cx="691.7" cy="697.9" r="1.7"/><circle cx="676.9" cy="663.4" r="1.7"/><circle cx="684.1" cy="691.5" r="1.7"/><circle cx="689.6" cy="662.9" r="1.7"/><circle cx="681.6" cy="668.7" r="1.7"/><circle cx="678.0" cy="622.8" r="1.7"/><circle cx="694.1" cy="600.9" r="1.7"/><circle cx="695.4" cy="598.3" r="1.7"/><circle cx="692.1" cy="673.9" r="1.7"/><circle cx="676.2" cy="653.5" r="1.7"/><circle cx="687.7" cy="596.2" r="1.7"/><circle cx="685.4" cy="636.8" r="1.7"/><circle cx="693.3" cy="699.3" r="1.7"/><circle cx="677.6" cy="680.9" r="1.7"/><circle cx="675.9" cy="653.1" r="1.7"/><circle cx="689.5" cy="664.8" r="1.7"/><circle cx="688.1" cy="695.6" r="1.7"/><circle cx="683.3" cy="693.7" r="1.7"/><circle cx="688.8" cy="650.2" r="1.7"/><circle cx="675.9" cy="708.5" r="1.7"/><circle cx="681.1" cy="606.7" r="1.7"/><circle cx="680.6" cy="666.5" r="1.7"/><circle cx="690.2" cy="646.2" r="1.7"/><circle cx="681.4" cy="650.2" r="1.7"/><circle cx="684.3" cy="657.2" r="1.7"/><circle cx="695.6" cy="679.2" r="1.7"/><circle cx="691.1" cy="605.4" r="1.7"/><circle cx="683.0" cy="597.7" r="1.7"/><circle cx="677.2" cy="632.7" r="1.7"/><circle cx="689.5" cy="642.1" r="1.7"/><circle cx="692.6" cy="612.2" r="1.7"/><circle cx="677.9" cy="625.5" r="1.7"/><circle cx="683.3" cy="639.3" r="1.7"/><circle cx="680.5" cy="671.5" r="1.7"/><circle cx="692.8" cy="638.1" r="1.7"/><circle cx="688.3" cy="631.8" r="1.7"/><circle cx="674.9" cy="681.6" r="1.7"/><circle cx="676.4" cy="657.3" r="1.7"/><circle cx="673.6" cy="670.4" r="1.7"/><circle cx="689.5" cy="684.1" r="1.7"/><circle cx="692.9" cy="675.5" r="1.7"/><circle cx="693.0" cy="670.7" r="1.7"/><circle cx="677.9" cy="671.9" r="1.7"/><circle cx="671.2" cy="667.8" r="1.7"/><circle cx="680.8" cy="666.0" r="1.7"/><circle cx="693.3" cy="716.9" r="1.7"/><circle cx="670.9" cy="668.7" r="1.7"/><circle cx="676.8" cy="606.6" r="1.7"/><circle cx="671.5" cy="674.1" r="1.7"/><circle cx="689.4" cy="694.8" r="1.7"/><circle cx="684.0" cy="656.1" r="1.7"/><circle cx="678.4" cy="674.3" r="1.7"/><circle cx="680.6" cy="604.0" r="1.7"/><circle cx="694.0" cy="598.6" r="1.7"/><circle cx="693.0" cy="689.6" r="1.7"/><circle cx="689.4" cy="714.5" r="1.7"/><circle cx="689.0" cy="636.9" r="1.7"/><circle cx="692.0" cy="658.9" r="1.7"/><circle cx="684.9" cy="684.2" r="1.7"/><circle cx="681.3" cy="673.5" r="1.7"/><circle cx="689.3" cy="678.8" r="1.7"/><circle cx="691.2" cy="656.9" r="1.7"/><circle cx="686.5" cy="652.1" r="1.7"/><circle cx="692.0" cy="616.2" r="1.7"/><circle cx="679.4" cy="657.4" r="1.7"/><circle cx="680.5" cy="614.8" r="1.7"/><circle cx="679.6" cy="694.2" r="1.7"/><circle cx="695.1" cy="645.3" r="1.7"/><circle cx="688.1" cy="650.6" r="1.7"/><circle cx="691.1" cy="612.5" r="1.7"/><circle cx="682.9" cy="665.6" r="1.7"/><circle cx="679.2" cy="641.2" r="1.7"/><circle cx="687.0" cy="692.6" r="1.7"/><circle cx="677.4" cy="636.9" r="1.7"/><circle cx="694.1" cy="647.3" r="1.7"/><circle cx="674.4" cy="689.0" r="1.7"/><circle cx="679.6" cy="663.5" r="1.7"/><circle cx="696.8" cy="609.5" r="1.7"/></g>
<g fill="#7AA9F5" fill-opacity="0.45"><circle cx="708.4" cy="749.6" r="1.7"/><circle cx="692.3" cy="738.2" r="1.7"/><circle cx="692.3" cy="695.2" r="1.7"/><circle cx="699.6" cy="781.2" r="1.7"/><circle cx="700.3" cy="793.6" r="1.7"/><circle cx="712.6" cy="751.4" r="1.7"/><circle cx="709.9" cy="751.3" r="1.7"/><circle cx="703.0" cy="729.1" r="1.7"/><circle cx="695.7" cy="760.4" r="1.7"/><circle cx="698.1" cy="747.2" r="1.7"/><circle cx="700.9" cy="737.3" r="1.7"/><circle cx="703.6" cy="756.2" r="1.7"/><circle cx="693.1" cy="688.6" r="1.7"/><circle cx="688.1" cy="755.5" r="1.7"/><circle cx="689.2" cy="777.9" r="1.7"/><circle cx="709.5" cy="750.8" r="1.7"/><circle cx="712.9" cy="733.9" r="1.7"/><circle cx="703.0" cy="722.6" r="1.7"/><circle cx="688.1" cy="741.5" r="1.7"/><circle cx="694.6" cy="752.9" r="1.7"/><circle cx="689.5" cy="738.9" r="1.7"/><circle cx="697.6" cy="744.0" r="1.7"/><circle cx="698.3" cy="747.1" r="1.7"/><circle cx="706.8" cy="776.4" r="1.7"/><circle cx="703.4" cy="727.2" r="1.7"/><circle cx="703.4" cy="774.0" r="1.7"/><circle cx="713.5" cy="717.1" r="1.7"/><circle cx="689.0" cy="730.3" r="1.7"/><circle cx="705.1" cy="715.7" r="1.7"/><circle cx="711.7" cy="758.7" r="1.7"/><circle cx="711.1" cy="724.1" r="1.7"/><circle cx="702.8" cy="760.1" r="1.7"/><circle cx="695.5" cy="753.2" r="1.7"/><circle cx="703.8" cy="730.2" r="1.7"/><circle cx="701.9" cy="755.7" r="1.7"/><circle cx="702.5" cy="705.6" r="1.7"/><circle cx="702.5" cy="708.8" r="1.7"/><circle cx="688.6" cy="689.8" r="1.7"/><circle cx="702.2" cy="748.8" r="1.7"/><circle cx="713.0" cy="732.0" r="1.7"/><circle cx="700.2" cy="738.7" r="1.7"/><circle cx="701.7" cy="738.0" r="1.7"/><circle cx="712.4" cy="733.4" r="1.7"/><circle cx="696.1" cy="794.5" r="1.7"/><circle cx="689.4" cy="716.1" r="1.7"/><circle cx="688.6" cy="728.2" r="1.7"/><circle cx="708.6" cy="737.1" r="1.7"/><circle cx="697.7" cy="760.4" r="1.7"/><circle cx="706.1" cy="761.0" r="1.7"/><circle cx="703.5" cy="744.8" r="1.7"/><circle cx="703.1" cy="756.1" r="1.7"/><circle cx="708.1" cy="699.5" r="1.7"/><circle cx="694.2" cy="700.1" r="1.7"/><circle cx="697.8" cy="745.7" r="1.7"/><circle cx="708.7" cy="755.0" r="1.7"/><circle cx="702.3" cy="765.6" r="1.7"/><circle cx="712.1" cy="729.5" r="1.7"/><circle cx="694.8" cy="793.4" r="1.7"/><circle cx="712.1" cy="747.1" r="1.7"/><circle cx="709.7" cy="767.0" r="1.7"/><circle cx="702.0" cy="752.2" r="1.7"/><circle cx="689.5" cy="705.6" r="1.7"/><circle cx="691.9" cy="755.8" r="1.7"/><circle cx="695.7" cy="771.2" r="1.7"/><circle cx="702.9" cy="733.7" r="1.7"/><circle cx="708.6" cy="773.0" r="1.7"/><circle cx="691.5" cy="746.2" r="1.7"/><circle cx="709.1" cy="724.9" r="1.7"/><circle cx="712.2" cy="761.6" r="1.7"/><circle cx="693.8" cy="726.1" r="1.7"/><circle cx="710.4" cy="797.6" r="1.7"/><circle cx="690.3" cy="724.1" r="1.7"/><circle cx="707.9" cy="730.0" r="1.7"/><circle cx="709.4" cy="738.0" r="1.7"/><circle cx="696.3" cy="691.8" r="1.7"/><circle cx="711.7" cy="723.0" r="1.7"/><circle cx="705.6" cy="756.7" r="1.7"/><circle cx="709.9" cy="734.8" r="1.7"/><circle cx="695.0" cy="742.4" r="1.7"/><circle cx="701.9" cy="760.0" r="1.7"/><circle cx="710.1" cy="770.9" r="1.7"/><circle cx="694.1" cy="713.7" r="1.7"/><circle cx="705.3" cy="733.9" r="1.7"/><circle cx="708.0" cy="773.0" r="1.7"/><circle cx="695.8" cy="730.0" r="1.7"/><circle cx="695.1" cy="777.1" r="1.7"/><circle cx="699.9" cy="729.6" r="1.7"/><circle cx="691.9" cy="725.5" r="1.7"/><circle cx="696.9" cy="775.6" r="1.7"/><circle cx="692.0" cy="715.5" r="1.7"/><circle cx="707.4" cy="781.7" r="1.7"/><circle cx="705.2" cy="778.3" r="1.7"/><circle cx="694.2" cy="779.8" r="1.7"/><circle cx="710.5" cy="736.1" r="1.7"/><circle cx="699.5" cy="751.6" r="1.7"/><circle cx="696.7" cy="790.6" r="1.7"/><circle cx="708.3" cy="760.3" r="1.7"/><circle cx="708.2" cy="732.8" r="1.7"/><circle cx="706.0" cy="744.6" r="1.7"/><circle cx="697.8" cy="772.2" r="1.7"/><circle cx="695.1" cy="757.8" r="1.7"/><circle cx="693.4" cy="731.2" r="1.7"/><circle cx="695.1" cy="756.1" r="1.7"/><circle cx="704.4" cy="718.3" r="1.7"/><circle cx="697.7" cy="747.7" r="1.7"/><circle cx="712.2" cy="707.1" r="1.7"/><circle cx="702.5" cy="749.4" r="1.7"/><circle cx="694.5" cy="718.6" r="1.7"/><circle cx="690.5" cy="759.6" r="1.7"/><circle cx="707.8" cy="746.6" r="1.7"/></g>
<line x1="751.5" y1="744.0" x2="751.5" y2="747.0" stroke="#54B54B" stroke-width="3.3" stroke-linecap="butt"/><line x1="751.5" y1="751.0" x2="751.5" y2="754.0" stroke="#54B54B" stroke-width="3.3"/><rect x="744.1" y="747.0" width="14.8" height="4.0" fill="#fff" stroke="#54B54B" stroke-width="3.3"/><line x1="744.1" y1="749.2" x2="758.9" y2="749.2" stroke="#54B54B" stroke-width="6.0"/>
<line x1="768.4" y1="618.7" x2="768.4" y2="643.5" stroke="#71A3F6" stroke-width="3.3" stroke-linecap="butt"/><line x1="768.4" y1="661.2" x2="768.4" y2="686.0" stroke="#71A3F6" stroke-width="3.3"/><rect x="761.0" y="643.5" width="14.8" height="17.7" fill="#fff" stroke="#71A3F6" stroke-width="3.3"/><line x1="761.0" y1="653.5" x2="775.8" y2="653.5" stroke="#71A3F6" stroke-width="6.0"/>
<rect x="726.9" y="753.2" width="15.4" height="6.3" fill="#E8786C"/>
<g fill="#5DBB55" fill-opacity="0.45"><circle cx="749.7" cy="751.6" r="1.7"/><circle cx="751.0" cy="744.2" r="1.7"/><circle cx="760.3" cy="750.0" r="1.7"/><circle cx="748.3" cy="745.8" r="1.7"/><circle cx="755.1" cy="752.0" r="1.7"/><circle cx="762.5" cy="747.1" r="1.7"/><circle cx="746.5" cy="747.8" r="1.7"/><circle cx="746.0" cy="749.1" r="1.7"/><circle cx="750.7" cy="749.6" r="1.7"/><circle cx="762.1" cy="745.5" r="1.7"/><circle cx="750.9" cy="745.3" r="1.7"/><circle cx="742.1" cy="744.7" r="1.7"/><circle cx="755.1" cy="745.4" r="1.7"/><circle cx="749.2" cy="746.0" r="1.7"/><circle cx="739.2" cy="744.2" r="1.7"/><circle cx="759.8" cy="746.3" r="1.7"/><circle cx="760.0" cy="750.1" r="1.7"/><circle cx="758.1" cy="751.1" r="1.7"/><circle cx="749.2" cy="749.4" r="1.7"/><circle cx="759.3" cy="751.3" r="1.7"/><circle cx="740.8" cy="747.2" r="1.7"/><circle cx="744.3" cy="744.4" r="1.7"/><circle cx="749.3" cy="750.1" r="1.7"/><circle cx="761.6" cy="748.5" r="1.7"/><circle cx="755.0" cy="745.0" r="1.7"/><circle cx="741.3" cy="750.2" r="1.7"/><circle cx="752.0" cy="752.8" r="1.7"/><circle cx="750.1" cy="748.5" r="1.7"/><circle cx="749.3" cy="744.3" r="1.7"/><circle cx="749.4" cy="750.3" r="1.7"/><circle cx="762.9" cy="751.5" r="1.7"/><circle cx="752.6" cy="748.4" r="1.7"/><circle cx="745.0" cy="749.7" r="1.7"/><circle cx="751.3" cy="750.5" r="1.7"/><circle cx="764.0" cy="749.6" r="1.7"/><circle cx="743.9" cy="748.6" r="1.7"/><circle cx="742.6" cy="753.0" r="1.7"/><circle cx="758.8" cy="750.3" r="1.7"/><circle cx="744.6" cy="745.8" r="1.7"/><circle cx="750.0" cy="746.9" r="1.7"/><circle cx="752.4" cy="748.9" r="1.7"/><circle cx="740.2" cy="753.2" r="1.7"/><circle cx="756.4" cy="747.7" r="1.7"/><circle cx="762.4" cy="750.1" r="1.7"/><circle cx="746.4" cy="746.6" r="1.7"/><circle cx="752.9" cy="752.8" r="1.7"/><circle cx="744.3" cy="747.8" r="1.7"/><circle cx="751.2" cy="753.2" r="1.7"/><circle cx="757.7" cy="753.4" r="1.7"/><circle cx="745.8" cy="748.1" r="1.7"/><circle cx="744.6" cy="749.6" r="1.7"/><circle cx="743.2" cy="751.3" r="1.7"/><circle cx="750.3" cy="746.6" r="1.7"/><circle cx="747.5" cy="747.3" r="1.7"/><circle cx="754.0" cy="746.7" r="1.7"/><circle cx="748.7" cy="747.8" r="1.7"/><circle cx="743.5" cy="748.7" r="1.7"/><circle cx="756.0" cy="744.5" r="1.7"/><circle cx="755.1" cy="748.9" r="1.7"/><circle cx="747.2" cy="752.3" r="1.7"/><circle cx="760.4" cy="751.0" r="1.7"/><circle cx="750.1" cy="753.8" r="1.7"/><circle cx="758.8" cy="746.1" r="1.7"/><circle cx="746.3" cy="747.3" r="1.7"/><circle cx="756.8" cy="751.0" r="1.7"/><circle cx="757.3" cy="750.6" r="1.7"/><circle cx="758.3" cy="750.3" r="1.7"/><circle cx="759.7" cy="748.6" r="1.7"/><circle cx="748.3" cy="744.3" r="1.7"/><circle cx="738.8" cy="744.3" r="1.7"/><circle cx="739.3" cy="746.0" r="1.7"/><circle cx="748.6" cy="748.8" r="1.7"/><circle cx="746.7" cy="746.9" r="1.7"/><circle cx="758.9" cy="751.2" r="1.7"/><circle cx="758.1" cy="748.8" r="1.7"/><circle cx="739.5" cy="749.3" r="1.7"/><circle cx="744.2" cy="746.9" r="1.7"/><circle cx="738.5" cy="749.4" r="1.7"/><circle cx="755.8" cy="750.9" r="1.7"/><circle cx="755.0" cy="747.0" r="1.7"/><circle cx="757.6" cy="749.6" r="1.7"/><circle cx="743.9" cy="747.7" r="1.7"/><circle cx="754.0" cy="748.9" r="1.7"/><circle cx="743.6" cy="747.2" r="1.7"/><circle cx="747.4" cy="750.6" r="1.7"/><circle cx="747.6" cy="752.4" r="1.7"/><circle cx="753.5" cy="747.2" r="1.7"/><circle cx="757.5" cy="751.5" r="1.7"/><circle cx="758.0" cy="752.1" r="1.7"/><circle cx="741.0" cy="751.7" r="1.7"/><circle cx="751.9" cy="751.0" r="1.7"/><circle cx="761.5" cy="750.9" r="1.7"/><circle cx="745.9" cy="745.1" r="1.7"/><circle cx="756.6" cy="747.0" r="1.7"/><circle cx="745.1" cy="748.7" r="1.7"/><circle cx="763.4" cy="744.9" r="1.7"/><circle cx="747.1" cy="753.8" r="1.7"/><circle cx="743.7" cy="750.5" r="1.7"/><circle cx="761.9" cy="749.7" r="1.7"/><circle cx="760.2" cy="753.6" r="1.7"/><circle cx="738.9" cy="750.6" r="1.7"/><circle cx="745.6" cy="745.7" r="1.7"/><circle cx="741.5" cy="751.1" r="1.7"/><circle cx="741.6" cy="750.2" r="1.7"/><circle cx="745.0" cy="751.4" r="1.7"/><circle cx="750.1" cy="748.5" r="1.7"/><circle cx="752.2" cy="750.6" r="1.7"/><circle cx="757.3" cy="746.9" r="1.7"/><circle cx="762.4" cy="750.3" r="1.7"/><circle cx="753.1" cy="746.8" r="1.7"/></g>
<g fill="#7AA9F5" fill-opacity="0.45"><circle cx="764.0" cy="654.3" r="1.7"/><circle cx="778.4" cy="668.4" r="1.7"/><circle cx="758.0" cy="649.2" r="1.7"/><circle cx="778.5" cy="629.4" r="1.7"/><circle cx="773.6" cy="680.9" r="1.7"/><circle cx="769.3" cy="661.4" r="1.7"/><circle cx="764.5" cy="639.2" r="1.7"/><circle cx="772.7" cy="653.6" r="1.7"/><circle cx="771.7" cy="663.6" r="1.7"/><circle cx="780.9" cy="655.8" r="1.7"/><circle cx="773.9" cy="663.9" r="1.7"/><circle cx="762.5" cy="679.8" r="1.7"/><circle cx="759.3" cy="670.2" r="1.7"/><circle cx="759.9" cy="652.4" r="1.7"/><circle cx="757.9" cy="641.9" r="1.7"/><circle cx="777.8" cy="648.6" r="1.7"/><circle cx="761.1" cy="669.2" r="1.7"/><circle cx="767.6" cy="643.2" r="1.7"/><circle cx="764.2" cy="628.6" r="1.7"/><circle cx="780.3" cy="656.6" r="1.7"/><circle cx="780.5" cy="658.3" r="1.7"/><circle cx="760.6" cy="633.6" r="1.7"/><circle cx="779.9" cy="651.7" r="1.7"/><circle cx="777.5" cy="670.2" r="1.7"/><circle cx="774.9" cy="642.9" r="1.7"/><circle cx="758.0" cy="649.5" r="1.7"/><circle cx="758.1" cy="625.0" r="1.7"/><circle cx="774.2" cy="642.5" r="1.7"/><circle cx="773.2" cy="659.1" r="1.7"/><circle cx="774.9" cy="656.3" r="1.7"/><circle cx="779.7" cy="679.5" r="1.7"/><circle cx="776.3" cy="657.1" r="1.7"/><circle cx="776.5" cy="654.4" r="1.7"/><circle cx="769.6" cy="659.6" r="1.7"/><circle cx="768.1" cy="682.1" r="1.7"/><circle cx="777.7" cy="674.7" r="1.7"/><circle cx="766.5" cy="646.4" r="1.7"/><circle cx="780.0" cy="622.7" r="1.7"/><circle cx="757.5" cy="625.2" r="1.7"/><circle cx="774.3" cy="645.3" r="1.7"/><circle cx="755.8" cy="649.3" r="1.7"/><circle cx="766.8" cy="629.6" r="1.7"/><circle cx="776.6" cy="649.7" r="1.7"/><circle cx="756.2" cy="660.4" r="1.7"/><circle cx="762.4" cy="629.7" r="1.7"/><circle cx="759.0" cy="679.8" r="1.7"/><circle cx="774.6" cy="619.5" r="1.7"/><circle cx="759.2" cy="662.5" r="1.7"/><circle cx="772.7" cy="632.8" r="1.7"/><circle cx="758.8" cy="650.2" r="1.7"/><circle cx="780.0" cy="656.2" r="1.7"/><circle cx="766.3" cy="685.5" r="1.7"/><circle cx="781.3" cy="677.6" r="1.7"/><circle cx="780.2" cy="671.6" r="1.7"/><circle cx="774.4" cy="638.6" r="1.7"/><circle cx="773.5" cy="679.6" r="1.7"/><circle cx="768.2" cy="653.7" r="1.7"/><circle cx="768.7" cy="667.4" r="1.7"/><circle cx="758.8" cy="641.5" r="1.7"/><circle cx="766.3" cy="635.2" r="1.7"/><circle cx="761.6" cy="660.7" r="1.7"/><circle cx="772.2" cy="654.7" r="1.7"/><circle cx="778.5" cy="650.7" r="1.7"/><circle cx="768.7" cy="653.0" r="1.7"/><circle cx="761.0" cy="620.4" r="1.7"/><circle cx="763.9" cy="683.4" r="1.7"/><circle cx="758.6" cy="659.3" r="1.7"/><circle cx="756.3" cy="656.0" r="1.7"/><circle cx="768.0" cy="630.0" r="1.7"/><circle cx="773.5" cy="634.9" r="1.7"/><circle cx="775.1" cy="644.3" r="1.7"/><circle cx="774.4" cy="659.6" r="1.7"/><circle cx="769.8" cy="662.7" r="1.7"/><circle cx="775.6" cy="649.7" r="1.7"/><circle cx="764.3" cy="665.4" r="1.7"/><circle cx="776.3" cy="639.9" r="1.7"/><circle cx="758.5" cy="622.1" r="1.7"/><circle cx="758.2" cy="662.5" r="1.7"/><circle cx="774.8" cy="644.6" r="1.7"/><circle cx="775.7" cy="647.6" r="1.7"/><circle cx="770.0" cy="652.9" r="1.7"/><circle cx="772.3" cy="630.0" r="1.7"/><circle cx="770.7" cy="647.3" r="1.7"/><circle cx="775.1" cy="653.7" r="1.7"/><circle cx="758.8" cy="650.6" r="1.7"/><circle cx="766.4" cy="655.8" r="1.7"/><circle cx="770.0" cy="655.6" r="1.7"/><circle cx="765.6" cy="657.8" r="1.7"/><circle cx="765.1" cy="655.8" r="1.7"/><circle cx="757.7" cy="623.0" r="1.7"/><circle cx="774.2" cy="683.4" r="1.7"/><circle cx="767.1" cy="656.7" r="1.7"/><circle cx="764.9" cy="649.8" r="1.7"/><circle cx="755.8" cy="661.4" r="1.7"/><circle cx="779.8" cy="635.4" r="1.7"/><circle cx="767.5" cy="660.1" r="1.7"/><circle cx="756.9" cy="658.9" r="1.7"/><circle cx="777.1" cy="633.4" r="1.7"/><circle cx="762.0" cy="661.3" r="1.7"/><circle cx="776.1" cy="645.6" r="1.7"/><circle cx="765.5" cy="654.4" r="1.7"/><circle cx="776.2" cy="661.5" r="1.7"/><circle cx="777.7" cy="636.5" r="1.7"/><circle cx="770.8" cy="670.5" r="1.7"/><circle cx="774.0" cy="621.0" r="1.7"/><circle cx="759.2" cy="654.8" r="1.7"/><circle cx="774.4" cy="677.1" r="1.7"/><circle cx="776.4" cy="676.0" r="1.7"/><circle cx="767.7" cy="646.9" r="1.7"/><circle cx="779.6" cy="633.5" r="1.7"/></g>
<line x1="819.1" y1="643.0" x2="819.1" y2="648.0" stroke="#54B54B" stroke-width="3.3" stroke-linecap="butt"/><line x1="819.1" y1="655.0" x2="819.1" y2="661.0" stroke="#54B54B" stroke-width="3.3"/><rect x="811.7" y="648.0" width="14.8" height="7.0" fill="#fff" stroke="#54B54B" stroke-width="3.3"/><line x1="811.7" y1="651.8" x2="826.5" y2="651.8" stroke="#54B54B" stroke-width="6.0"/>
<line x1="836.0" y1="719.1" x2="836.0" y2="739.9" stroke="#71A3F6" stroke-width="3.3" stroke-linecap="butt"/><line x1="836.0" y1="758.5" x2="836.0" y2="784.4" stroke="#71A3F6" stroke-width="3.3"/><rect x="828.6" y="739.9" width="14.8" height="18.6" fill="#fff" stroke="#71A3F6" stroke-width="3.3"/><line x1="828.6" y1="747.1" x2="843.4" y2="747.1" stroke="#71A3F6" stroke-width="6.0"/>
<rect x="794.5" y="644.6" width="15.4" height="6.3" fill="#E8786C"/>
<g fill="#5DBB55" fill-opacity="0.45"><circle cx="808.7" cy="650.0" r="1.7"/><circle cx="817.0" cy="650.5" r="1.7"/><circle cx="830.2" cy="655.0" r="1.7"/><circle cx="809.3" cy="648.3" r="1.7"/><circle cx="815.0" cy="655.1" r="1.7"/><circle cx="814.5" cy="650.7" r="1.7"/><circle cx="827.2" cy="652.6" r="1.7"/><circle cx="824.8" cy="655.8" r="1.7"/><circle cx="830.7" cy="654.0" r="1.7"/><circle cx="814.6" cy="644.5" r="1.7"/><circle cx="809.0" cy="650.2" r="1.7"/><circle cx="822.3" cy="652.9" r="1.7"/><circle cx="815.0" cy="649.7" r="1.7"/><circle cx="809.3" cy="659.8" r="1.7"/><circle cx="810.5" cy="650.9" r="1.7"/><circle cx="822.2" cy="654.3" r="1.7"/><circle cx="819.5" cy="645.8" r="1.7"/><circle cx="821.3" cy="654.9" r="1.7"/><circle cx="826.4" cy="654.7" r="1.7"/><circle cx="812.9" cy="656.3" r="1.7"/><circle cx="829.7" cy="652.6" r="1.7"/><circle cx="811.1" cy="656.1" r="1.7"/><circle cx="811.7" cy="656.8" r="1.7"/><circle cx="816.4" cy="653.9" r="1.7"/><circle cx="816.6" cy="648.0" r="1.7"/><circle cx="816.4" cy="652.1" r="1.7"/><circle cx="829.6" cy="647.9" r="1.7"/><circle cx="830.1" cy="652.8" r="1.7"/><circle cx="831.5" cy="655.0" r="1.7"/><circle cx="823.8" cy="651.4" r="1.7"/><circle cx="813.2" cy="653.3" r="1.7"/><circle cx="829.1" cy="656.7" r="1.7"/><circle cx="824.3" cy="653.6" r="1.7"/><circle cx="819.8" cy="652.3" r="1.7"/><circle cx="810.7" cy="655.4" r="1.7"/><circle cx="823.8" cy="653.9" r="1.7"/><circle cx="806.2" cy="651.1" r="1.7"/><circle cx="817.4" cy="648.6" r="1.7"/><circle cx="812.9" cy="658.6" r="1.7"/><circle cx="827.5" cy="655.3" r="1.7"/><circle cx="814.6" cy="651.0" r="1.7"/><circle cx="813.7" cy="655.0" r="1.7"/><circle cx="815.1" cy="654.6" r="1.7"/><circle cx="826.6" cy="647.7" r="1.7"/><circle cx="829.1" cy="648.8" r="1.7"/><circle cx="809.1" cy="649.5" r="1.7"/><circle cx="810.4" cy="659.4" r="1.7"/><circle cx="819.8" cy="654.9" r="1.7"/><circle cx="821.3" cy="647.3" r="1.7"/><circle cx="812.4" cy="652.7" r="1.7"/><circle cx="825.7" cy="643.6" r="1.7"/><circle cx="807.3" cy="653.8" r="1.7"/><circle cx="812.8" cy="643.6" r="1.7"/><circle cx="809.1" cy="646.9" r="1.7"/><circle cx="815.4" cy="649.5" r="1.7"/><circle cx="813.8" cy="646.0" r="1.7"/><circle cx="811.3" cy="657.6" r="1.7"/><circle cx="831.5" cy="647.5" r="1.7"/><circle cx="823.8" cy="649.6" r="1.7"/><circle cx="813.2" cy="654.6" r="1.7"/><circle cx="831.7" cy="658.0" r="1.7"/><circle cx="822.0" cy="659.4" r="1.7"/><circle cx="811.0" cy="653.7" r="1.7"/><circle cx="830.3" cy="652.6" r="1.7"/><circle cx="810.4" cy="655.0" r="1.7"/><circle cx="823.2" cy="649.8" r="1.7"/><circle cx="810.8" cy="651.6" r="1.7"/><circle cx="809.0" cy="646.4" r="1.7"/><circle cx="812.4" cy="655.9" r="1.7"/><circle cx="818.5" cy="651.6" r="1.7"/><circle cx="825.0" cy="651.0" r="1.7"/><circle cx="818.3" cy="645.9" r="1.7"/><circle cx="827.7" cy="659.5" r="1.7"/><circle cx="814.4" cy="660.3" r="1.7"/><circle cx="821.8" cy="656.5" r="1.7"/><circle cx="809.4" cy="647.8" r="1.7"/><circle cx="828.2" cy="654.4" r="1.7"/><circle cx="808.9" cy="648.9" r="1.7"/><circle cx="826.7" cy="649.0" r="1.7"/><circle cx="810.1" cy="653.0" r="1.7"/><circle cx="814.4" cy="649.4" r="1.7"/><circle cx="810.4" cy="656.8" r="1.7"/><circle cx="809.4" cy="653.0" r="1.7"/><circle cx="820.4" cy="653.3" r="1.7"/><circle cx="816.6" cy="651.0" r="1.7"/><circle cx="808.4" cy="647.6" r="1.7"/><circle cx="830.4" cy="654.0" r="1.7"/><circle cx="830.0" cy="646.6" r="1.7"/><circle cx="820.0" cy="647.9" r="1.7"/><circle cx="821.0" cy="647.8" r="1.7"/><circle cx="812.7" cy="657.2" r="1.7"/><circle cx="828.9" cy="657.7" r="1.7"/><circle cx="816.7" cy="654.1" r="1.7"/><circle cx="808.7" cy="651.2" r="1.7"/><circle cx="826.8" cy="648.7" r="1.7"/><circle cx="829.0" cy="647.7" r="1.7"/><circle cx="809.9" cy="654.1" r="1.7"/><circle cx="824.1" cy="648.0" r="1.7"/><circle cx="815.0" cy="653.4" r="1.7"/><circle cx="827.7" cy="656.3" r="1.7"/><circle cx="827.2" cy="652.3" r="1.7"/><circle cx="814.5" cy="653.9" r="1.7"/><circle cx="825.5" cy="651.6" r="1.7"/><circle cx="815.3" cy="646.2" r="1.7"/><circle cx="816.6" cy="648.9" r="1.7"/><circle cx="825.9" cy="646.6" r="1.7"/><circle cx="815.5" cy="651.0" r="1.7"/><circle cx="829.1" cy="654.7" r="1.7"/><circle cx="814.0" cy="647.6" r="1.7"/><circle cx="811.2" cy="658.1" r="1.7"/></g>
<g fill="#7AA9F5" fill-opacity="0.45"><circle cx="824.0" cy="723.7" r="1.7"/><circle cx="836.8" cy="737.8" r="1.7"/><circle cx="837.0" cy="745.5" r="1.7"/><circle cx="837.5" cy="751.2" r="1.7"/><circle cx="846.9" cy="771.2" r="1.7"/><circle cx="826.6" cy="769.6" r="1.7"/><circle cx="839.7" cy="742.1" r="1.7"/><circle cx="841.0" cy="738.0" r="1.7"/><circle cx="824.3" cy="727.5" r="1.7"/><circle cx="829.2" cy="782.7" r="1.7"/><circle cx="827.0" cy="739.2" r="1.7"/><circle cx="843.0" cy="746.2" r="1.7"/><circle cx="836.7" cy="763.9" r="1.7"/><circle cx="842.4" cy="730.6" r="1.7"/><circle cx="835.5" cy="751.8" r="1.7"/><circle cx="848.0" cy="757.2" r="1.7"/><circle cx="840.7" cy="739.1" r="1.7"/><circle cx="842.0" cy="756.0" r="1.7"/><circle cx="843.8" cy="747.7" r="1.7"/><circle cx="845.9" cy="753.3" r="1.7"/><circle cx="834.7" cy="741.8" r="1.7"/><circle cx="843.9" cy="745.3" r="1.7"/><circle cx="848.0" cy="746.3" r="1.7"/><circle cx="846.3" cy="783.2" r="1.7"/><circle cx="835.7" cy="740.9" r="1.7"/><circle cx="826.9" cy="735.1" r="1.7"/><circle cx="841.6" cy="754.5" r="1.7"/><circle cx="832.7" cy="737.0" r="1.7"/><circle cx="839.9" cy="719.9" r="1.7"/><circle cx="826.2" cy="777.3" r="1.7"/><circle cx="837.8" cy="773.0" r="1.7"/><circle cx="829.8" cy="755.2" r="1.7"/><circle cx="825.0" cy="749.5" r="1.7"/><circle cx="844.8" cy="729.8" r="1.7"/><circle cx="834.6" cy="745.4" r="1.7"/><circle cx="838.7" cy="755.8" r="1.7"/><circle cx="848.4" cy="754.1" r="1.7"/><circle cx="841.9" cy="724.6" r="1.7"/><circle cx="825.0" cy="736.8" r="1.7"/><circle cx="832.0" cy="767.2" r="1.7"/><circle cx="834.0" cy="766.9" r="1.7"/><circle cx="844.7" cy="720.9" r="1.7"/><circle cx="828.8" cy="724.3" r="1.7"/><circle cx="823.6" cy="759.3" r="1.7"/><circle cx="824.5" cy="757.4" r="1.7"/><circle cx="830.8" cy="746.3" r="1.7"/><circle cx="837.6" cy="742.1" r="1.7"/><circle cx="830.8" cy="744.3" r="1.7"/><circle cx="840.9" cy="740.3" r="1.7"/><circle cx="835.2" cy="740.9" r="1.7"/><circle cx="830.4" cy="748.7" r="1.7"/><circle cx="835.1" cy="778.1" r="1.7"/><circle cx="827.8" cy="743.8" r="1.7"/><circle cx="845.9" cy="734.3" r="1.7"/><circle cx="844.2" cy="734.8" r="1.7"/><circle cx="827.6" cy="747.6" r="1.7"/><circle cx="842.2" cy="757.5" r="1.7"/><circle cx="825.9" cy="721.1" r="1.7"/><circle cx="832.2" cy="783.4" r="1.7"/><circle cx="838.5" cy="754.0" r="1.7"/><circle cx="844.9" cy="768.5" r="1.7"/><circle cx="846.6" cy="754.5" r="1.7"/><circle cx="830.9" cy="754.9" r="1.7"/><circle cx="848.1" cy="762.2" r="1.7"/><circle cx="844.5" cy="744.5" r="1.7"/><circle cx="837.1" cy="774.8" r="1.7"/><circle cx="848.6" cy="740.4" r="1.7"/><circle cx="825.7" cy="726.9" r="1.7"/><circle cx="849.0" cy="752.9" r="1.7"/><circle cx="847.9" cy="746.1" r="1.7"/><circle cx="823.7" cy="758.3" r="1.7"/><circle cx="829.9" cy="725.8" r="1.7"/><circle cx="832.4" cy="745.4" r="1.7"/><circle cx="847.3" cy="744.9" r="1.7"/><circle cx="845.8" cy="725.7" r="1.7"/><circle cx="844.3" cy="758.2" r="1.7"/><circle cx="833.8" cy="781.4" r="1.7"/><circle cx="829.6" cy="726.0" r="1.7"/><circle cx="838.1" cy="753.2" r="1.7"/><circle cx="841.4" cy="758.7" r="1.7"/><circle cx="825.5" cy="742.7" r="1.7"/><circle cx="824.9" cy="728.7" r="1.7"/><circle cx="832.1" cy="741.4" r="1.7"/><circle cx="825.0" cy="765.1" r="1.7"/><circle cx="843.8" cy="719.4" r="1.7"/><circle cx="843.7" cy="749.0" r="1.7"/><circle cx="847.1" cy="723.0" r="1.7"/><circle cx="830.1" cy="746.2" r="1.7"/><circle cx="848.5" cy="746.6" r="1.7"/><circle cx="840.4" cy="740.5" r="1.7"/><circle cx="833.6" cy="735.6" r="1.7"/><circle cx="845.1" cy="745.4" r="1.7"/><circle cx="845.3" cy="760.5" r="1.7"/><circle cx="837.0" cy="780.4" r="1.7"/><circle cx="826.8" cy="744.9" r="1.7"/><circle cx="834.4" cy="728.5" r="1.7"/><circle cx="833.7" cy="761.5" r="1.7"/><circle cx="834.2" cy="744.5" r="1.7"/><circle cx="825.4" cy="783.9" r="1.7"/><circle cx="826.4" cy="741.0" r="1.7"/><circle cx="844.0" cy="758.3" r="1.7"/><circle cx="845.9" cy="734.2" r="1.7"/><circle cx="823.1" cy="762.3" r="1.7"/><circle cx="838.6" cy="739.9" r="1.7"/><circle cx="823.5" cy="753.3" r="1.7"/><circle cx="829.2" cy="750.2" r="1.7"/><circle cx="848.5" cy="744.6" r="1.7"/><circle cx="825.0" cy="759.9" r="1.7"/><circle cx="825.8" cy="741.5" r="1.7"/><circle cx="834.4" cy="759.2" r="1.7"/></g>
<line x1="886.7" y1="615.6" x2="886.7" y2="640.4" stroke="#54B54B" stroke-width="3.3" stroke-linecap="butt"/><line x1="886.7" y1="667.4" x2="886.7" y2="700.5" stroke="#54B54B" stroke-width="3.3"/><rect x="879.3" y="640.4" width="14.8" height="27.0" fill="#fff" stroke="#54B54B" stroke-width="3.3"/><line x1="879.3" y1="652.9" x2="894.1" y2="652.9" stroke="#54B54B" stroke-width="6.0"/>
<line x1="903.6" y1="742.0" x2="903.6" y2="746.0" stroke="#71A3F6" stroke-width="3.3" stroke-linecap="butt"/><line x1="903.6" y1="752.0" x2="903.6" y2="757.0" stroke="#71A3F6" stroke-width="3.3"/><rect x="896.2" y="746.0" width="14.8" height="6.0" fill="#fff" stroke="#71A3F6" stroke-width="3.3"/><line x1="896.2" y1="749.2" x2="911.0" y2="749.2" stroke="#71A3F6" stroke-width="6.0"/>
<rect x="862.1" y="579.4" width="15.4" height="6.3" fill="#E8786C"/>
<g fill="#5DBB55" fill-opacity="0.45"><circle cx="882.1" cy="617.8" r="1.7"/><circle cx="886.1" cy="663.6" r="1.7"/><circle cx="884.2" cy="673.6" r="1.7"/><circle cx="882.1" cy="642.9" r="1.7"/><circle cx="878.5" cy="638.7" r="1.7"/><circle cx="890.0" cy="681.8" r="1.7"/><circle cx="897.6" cy="655.6" r="1.7"/><circle cx="893.1" cy="681.2" r="1.7"/><circle cx="883.3" cy="644.4" r="1.7"/><circle cx="889.6" cy="677.9" r="1.7"/><circle cx="886.0" cy="640.3" r="1.7"/><circle cx="891.5" cy="654.5" r="1.7"/><circle cx="884.7" cy="647.4" r="1.7"/><circle cx="885.8" cy="671.1" r="1.7"/><circle cx="897.0" cy="650.4" r="1.7"/><circle cx="888.2" cy="616.4" r="1.7"/><circle cx="879.5" cy="662.8" r="1.7"/><circle cx="892.9" cy="646.4" r="1.7"/><circle cx="891.6" cy="667.4" r="1.7"/><circle cx="883.9" cy="615.7" r="1.7"/><circle cx="885.1" cy="624.6" r="1.7"/><circle cx="896.2" cy="645.3" r="1.7"/><circle cx="882.7" cy="669.7" r="1.7"/><circle cx="875.4" cy="618.1" r="1.7"/><circle cx="886.1" cy="664.1" r="1.7"/><circle cx="890.1" cy="640.7" r="1.7"/><circle cx="891.1" cy="625.8" r="1.7"/><circle cx="875.6" cy="700.2" r="1.7"/><circle cx="884.9" cy="693.1" r="1.7"/><circle cx="887.4" cy="695.0" r="1.7"/><circle cx="879.0" cy="646.3" r="1.7"/><circle cx="884.5" cy="634.1" r="1.7"/><circle cx="883.0" cy="621.6" r="1.7"/><circle cx="887.8" cy="646.9" r="1.7"/><circle cx="894.0" cy="666.6" r="1.7"/><circle cx="880.2" cy="699.7" r="1.7"/><circle cx="896.6" cy="663.3" r="1.7"/><circle cx="874.6" cy="652.9" r="1.7"/><circle cx="889.5" cy="664.6" r="1.7"/><circle cx="876.5" cy="638.0" r="1.7"/><circle cx="883.9" cy="639.6" r="1.7"/><circle cx="884.6" cy="651.7" r="1.7"/><circle cx="899.5" cy="656.5" r="1.7"/><circle cx="897.6" cy="627.1" r="1.7"/><circle cx="891.9" cy="641.1" r="1.7"/><circle cx="874.6" cy="676.1" r="1.7"/><circle cx="891.2" cy="636.3" r="1.7"/><circle cx="881.8" cy="646.4" r="1.7"/><circle cx="897.6" cy="666.4" r="1.7"/><circle cx="874.2" cy="651.3" r="1.7"/><circle cx="882.8" cy="662.2" r="1.7"/><circle cx="899.1" cy="687.4" r="1.7"/><circle cx="894.9" cy="629.1" r="1.7"/><circle cx="884.6" cy="699.6" r="1.7"/><circle cx="892.6" cy="680.3" r="1.7"/><circle cx="894.2" cy="637.9" r="1.7"/><circle cx="876.8" cy="639.0" r="1.7"/><circle cx="876.1" cy="697.7" r="1.7"/><circle cx="895.3" cy="635.4" r="1.7"/><circle cx="879.8" cy="652.1" r="1.7"/><circle cx="876.8" cy="634.0" r="1.7"/><circle cx="873.7" cy="663.1" r="1.7"/><circle cx="884.5" cy="618.3" r="1.7"/><circle cx="894.5" cy="639.9" r="1.7"/><circle cx="899.4" cy="648.8" r="1.7"/><circle cx="897.8" cy="639.8" r="1.7"/><circle cx="875.8" cy="621.2" r="1.7"/><circle cx="879.6" cy="640.4" r="1.7"/><circle cx="882.6" cy="663.1" r="1.7"/><circle cx="875.3" cy="617.4" r="1.7"/><circle cx="877.0" cy="656.7" r="1.7"/><circle cx="886.6" cy="616.0" r="1.7"/><circle cx="887.2" cy="642.8" r="1.7"/><circle cx="882.5" cy="640.1" r="1.7"/><circle cx="893.1" cy="657.9" r="1.7"/><circle cx="896.8" cy="642.8" r="1.7"/><circle cx="895.8" cy="664.0" r="1.7"/><circle cx="888.6" cy="641.0" r="1.7"/><circle cx="888.4" cy="658.2" r="1.7"/><circle cx="876.2" cy="685.8" r="1.7"/><circle cx="876.9" cy="663.8" r="1.7"/><circle cx="892.3" cy="690.8" r="1.7"/><circle cx="889.7" cy="641.3" r="1.7"/><circle cx="892.5" cy="669.5" r="1.7"/><circle cx="889.8" cy="636.7" r="1.7"/><circle cx="888.4" cy="668.1" r="1.7"/><circle cx="880.7" cy="659.0" r="1.7"/><circle cx="896.2" cy="675.2" r="1.7"/><circle cx="897.9" cy="646.3" r="1.7"/><circle cx="880.6" cy="672.5" r="1.7"/><circle cx="875.2" cy="652.4" r="1.7"/><circle cx="887.7" cy="664.4" r="1.7"/><circle cx="897.3" cy="654.0" r="1.7"/><circle cx="890.3" cy="649.0" r="1.7"/><circle cx="894.1" cy="648.6" r="1.7"/><circle cx="873.7" cy="660.6" r="1.7"/><circle cx="894.3" cy="618.6" r="1.7"/><circle cx="876.6" cy="678.1" r="1.7"/><circle cx="890.8" cy="668.4" r="1.7"/><circle cx="874.2" cy="677.5" r="1.7"/><circle cx="873.9" cy="653.2" r="1.7"/><circle cx="883.6" cy="666.9" r="1.7"/><circle cx="873.8" cy="669.5" r="1.7"/><circle cx="880.0" cy="666.8" r="1.7"/><circle cx="884.5" cy="663.1" r="1.7"/><circle cx="882.1" cy="661.0" r="1.7"/><circle cx="895.5" cy="696.5" r="1.7"/><circle cx="886.5" cy="641.0" r="1.7"/><circle cx="879.8" cy="699.9" r="1.7"/><circle cx="885.6" cy="629.4" r="1.7"/></g>
<g fill="#7AA9F5" fill-opacity="0.45"><circle cx="911.9" cy="752.3" r="1.7"/><circle cx="893.8" cy="744.4" r="1.7"/><circle cx="905.2" cy="749.2" r="1.7"/><circle cx="898.9" cy="753.8" r="1.7"/><circle cx="908.1" cy="747.7" r="1.7"/><circle cx="906.7" cy="747.6" r="1.7"/><circle cx="892.4" cy="750.6" r="1.7"/><circle cx="912.4" cy="756.5" r="1.7"/><circle cx="914.1" cy="744.8" r="1.7"/><circle cx="910.6" cy="754.8" r="1.7"/><circle cx="899.6" cy="752.8" r="1.7"/><circle cx="913.0" cy="752.4" r="1.7"/><circle cx="912.2" cy="745.5" r="1.7"/><circle cx="914.9" cy="750.5" r="1.7"/><circle cx="905.5" cy="751.9" r="1.7"/><circle cx="896.7" cy="747.0" r="1.7"/><circle cx="893.2" cy="750.5" r="1.7"/><circle cx="895.4" cy="745.7" r="1.7"/><circle cx="897.8" cy="753.4" r="1.7"/><circle cx="907.2" cy="747.4" r="1.7"/><circle cx="912.8" cy="748.9" r="1.7"/><circle cx="896.1" cy="746.0" r="1.7"/><circle cx="895.0" cy="748.8" r="1.7"/><circle cx="894.4" cy="752.0" r="1.7"/><circle cx="899.7" cy="754.8" r="1.7"/><circle cx="907.7" cy="744.5" r="1.7"/><circle cx="896.3" cy="754.5" r="1.7"/><circle cx="904.4" cy="748.0" r="1.7"/><circle cx="893.0" cy="756.2" r="1.7"/><circle cx="906.2" cy="748.4" r="1.7"/><circle cx="910.7" cy="754.7" r="1.7"/><circle cx="905.9" cy="752.0" r="1.7"/><circle cx="899.4" cy="748.8" r="1.7"/><circle cx="900.9" cy="743.3" r="1.7"/><circle cx="904.6" cy="750.1" r="1.7"/><circle cx="916.3" cy="745.2" r="1.7"/><circle cx="904.6" cy="745.9" r="1.7"/><circle cx="907.2" cy="746.4" r="1.7"/><circle cx="915.8" cy="743.0" r="1.7"/><circle cx="896.2" cy="746.0" r="1.7"/><circle cx="902.0" cy="748.3" r="1.7"/><circle cx="910.9" cy="752.1" r="1.7"/><circle cx="909.1" cy="752.2" r="1.7"/><circle cx="901.7" cy="749.3" r="1.7"/><circle cx="909.4" cy="746.6" r="1.7"/><circle cx="916.6" cy="742.3" r="1.7"/><circle cx="897.5" cy="745.7" r="1.7"/><circle cx="903.5" cy="747.0" r="1.7"/><circle cx="902.2" cy="743.4" r="1.7"/><circle cx="891.3" cy="750.8" r="1.7"/><circle cx="904.4" cy="749.5" r="1.7"/><circle cx="893.3" cy="751.3" r="1.7"/><circle cx="892.4" cy="749.4" r="1.7"/><circle cx="902.1" cy="752.8" r="1.7"/><circle cx="903.6" cy="750.9" r="1.7"/><circle cx="900.7" cy="748.8" r="1.7"/><circle cx="891.1" cy="753.5" r="1.7"/><circle cx="915.8" cy="748.4" r="1.7"/><circle cx="899.7" cy="751.6" r="1.7"/><circle cx="909.9" cy="751.2" r="1.7"/><circle cx="911.3" cy="749.3" r="1.7"/><circle cx="894.0" cy="756.8" r="1.7"/><circle cx="900.2" cy="752.3" r="1.7"/><circle cx="900.6" cy="750.3" r="1.7"/><circle cx="902.0" cy="742.8" r="1.7"/><circle cx="915.6" cy="748.2" r="1.7"/><circle cx="906.1" cy="747.4" r="1.7"/><circle cx="899.3" cy="745.4" r="1.7"/><circle cx="915.5" cy="755.9" r="1.7"/><circle cx="905.7" cy="748.8" r="1.7"/><circle cx="910.0" cy="755.0" r="1.7"/><circle cx="907.3" cy="750.6" r="1.7"/><circle cx="914.5" cy="751.6" r="1.7"/><circle cx="897.8" cy="750.7" r="1.7"/><circle cx="896.4" cy="744.3" r="1.7"/><circle cx="903.3" cy="751.8" r="1.7"/><circle cx="893.6" cy="742.5" r="1.7"/><circle cx="911.3" cy="752.3" r="1.7"/><circle cx="901.4" cy="754.8" r="1.7"/><circle cx="909.1" cy="745.8" r="1.7"/><circle cx="893.6" cy="745.8" r="1.7"/><circle cx="899.9" cy="744.4" r="1.7"/><circle cx="902.9" cy="745.5" r="1.7"/><circle cx="903.0" cy="744.4" r="1.7"/><circle cx="894.5" cy="751.9" r="1.7"/><circle cx="891.9" cy="749.2" r="1.7"/><circle cx="913.3" cy="752.9" r="1.7"/><circle cx="913.0" cy="748.3" r="1.7"/><circle cx="903.1" cy="753.1" r="1.7"/><circle cx="893.4" cy="749.6" r="1.7"/><circle cx="914.6" cy="751.8" r="1.7"/><circle cx="903.8" cy="746.3" r="1.7"/><circle cx="913.0" cy="747.8" r="1.7"/><circle cx="906.1" cy="743.1" r="1.7"/><circle cx="913.3" cy="755.5" r="1.7"/><circle cx="896.8" cy="752.9" r="1.7"/><circle cx="903.9" cy="753.4" r="1.7"/><circle cx="902.6" cy="748.1" r="1.7"/><circle cx="894.3" cy="749.5" r="1.7"/><circle cx="904.6" cy="746.4" r="1.7"/><circle cx="912.3" cy="751.3" r="1.7"/><circle cx="914.6" cy="743.4" r="1.7"/><circle cx="892.4" cy="742.4" r="1.7"/><circle cx="902.3" cy="750.4" r="1.7"/><circle cx="909.9" cy="751.9" r="1.7"/><circle cx="894.2" cy="744.1" r="1.7"/><circle cx="915.8" cy="749.1" r="1.7"/><circle cx="902.3" cy="744.4" r="1.7"/><circle cx="902.5" cy="754.1" r="1.7"/><circle cx="911.0" cy="749.0" r="1.7"/></g>
<line x1="954.3" y1="716.0" x2="954.3" y2="738.8" stroke="#54B54B" stroke-width="3.3" stroke-linecap="butt"/><line x1="954.3" y1="758.5" x2="954.3" y2="776.1" stroke="#54B54B" stroke-width="3.3"/><rect x="946.9" y="738.8" width="14.8" height="19.7" fill="#fff" stroke="#54B54B" stroke-width="3.3"/><line x1="946.9" y1="750.2" x2="961.7" y2="750.2" stroke="#54B54B" stroke-width="6.0"/>
<line x1="971.2" y1="641.0" x2="971.2" y2="648.5" stroke="#71A3F6" stroke-width="3.3" stroke-linecap="butt"/><line x1="971.2" y1="657.5" x2="971.2" y2="665.0" stroke="#71A3F6" stroke-width="3.3"/><rect x="963.8" y="648.5" width="14.8" height="9.0" fill="#fff" stroke="#71A3F6" stroke-width="3.3"/><line x1="963.8" y1="652.9" x2="978.6" y2="652.9" stroke="#71A3F6" stroke-width="6.0"/>
<rect x="929.7" y="805.1" width="15.4" height="6.3" fill="#E8786C"/>
<g fill="#5DBB55" fill-opacity="0.45"><circle cx="948.6" cy="760.5" r="1.7"/><circle cx="941.6" cy="718.2" r="1.7"/><circle cx="943.8" cy="745.1" r="1.7"/><circle cx="952.3" cy="738.8" r="1.7"/><circle cx="947.1" cy="725.9" r="1.7"/><circle cx="947.2" cy="731.0" r="1.7"/><circle cx="943.5" cy="771.0" r="1.7"/><circle cx="951.4" cy="768.3" r="1.7"/><circle cx="950.5" cy="720.0" r="1.7"/><circle cx="942.2" cy="740.3" r="1.7"/><circle cx="955.3" cy="749.5" r="1.7"/><circle cx="956.4" cy="766.4" r="1.7"/><circle cx="949.8" cy="752.0" r="1.7"/><circle cx="959.3" cy="735.1" r="1.7"/><circle cx="944.1" cy="764.7" r="1.7"/><circle cx="948.1" cy="770.6" r="1.7"/><circle cx="966.5" cy="744.0" r="1.7"/><circle cx="963.8" cy="720.4" r="1.7"/><circle cx="961.9" cy="764.4" r="1.7"/><circle cx="953.6" cy="738.6" r="1.7"/><circle cx="956.9" cy="716.6" r="1.7"/><circle cx="946.9" cy="764.8" r="1.7"/><circle cx="957.2" cy="764.0" r="1.7"/><circle cx="963.6" cy="744.5" r="1.7"/><circle cx="941.6" cy="775.0" r="1.7"/><circle cx="948.1" cy="719.8" r="1.7"/><circle cx="963.8" cy="758.0" r="1.7"/><circle cx="961.9" cy="765.4" r="1.7"/><circle cx="955.9" cy="729.1" r="1.7"/><circle cx="941.5" cy="745.3" r="1.7"/><circle cx="957.3" cy="745.3" r="1.7"/><circle cx="954.7" cy="738.4" r="1.7"/><circle cx="947.1" cy="765.2" r="1.7"/><circle cx="943.4" cy="743.2" r="1.7"/><circle cx="947.8" cy="765.7" r="1.7"/><circle cx="955.5" cy="737.3" r="1.7"/><circle cx="966.4" cy="755.0" r="1.7"/><circle cx="947.5" cy="746.5" r="1.7"/><circle cx="963.5" cy="747.2" r="1.7"/><circle cx="952.6" cy="754.6" r="1.7"/><circle cx="967.0" cy="746.7" r="1.7"/><circle cx="946.0" cy="743.9" r="1.7"/><circle cx="949.7" cy="746.5" r="1.7"/><circle cx="959.8" cy="751.1" r="1.7"/><circle cx="954.5" cy="773.9" r="1.7"/><circle cx="956.9" cy="756.4" r="1.7"/><circle cx="953.4" cy="735.8" r="1.7"/><circle cx="948.8" cy="744.3" r="1.7"/><circle cx="954.6" cy="758.3" r="1.7"/><circle cx="947.1" cy="748.7" r="1.7"/><circle cx="954.3" cy="738.5" r="1.7"/><circle cx="947.9" cy="755.0" r="1.7"/><circle cx="964.8" cy="734.6" r="1.7"/><circle cx="947.7" cy="724.3" r="1.7"/><circle cx="957.7" cy="768.8" r="1.7"/><circle cx="963.6" cy="773.4" r="1.7"/><circle cx="950.1" cy="742.0" r="1.7"/><circle cx="959.1" cy="752.1" r="1.7"/><circle cx="950.8" cy="761.9" r="1.7"/><circle cx="959.0" cy="737.7" r="1.7"/><circle cx="944.0" cy="746.3" r="1.7"/><circle cx="948.0" cy="759.2" r="1.7"/><circle cx="957.9" cy="772.7" r="1.7"/><circle cx="965.3" cy="746.9" r="1.7"/><circle cx="965.2" cy="747.7" r="1.7"/><circle cx="954.8" cy="751.2" r="1.7"/><circle cx="953.4" cy="757.5" r="1.7"/><circle cx="954.0" cy="724.5" r="1.7"/><circle cx="950.5" cy="775.9" r="1.7"/><circle cx="957.5" cy="759.9" r="1.7"/><circle cx="953.7" cy="749.8" r="1.7"/><circle cx="961.1" cy="725.7" r="1.7"/><circle cx="942.1" cy="767.4" r="1.7"/><circle cx="956.8" cy="741.0" r="1.7"/><circle cx="954.3" cy="743.2" r="1.7"/><circle cx="953.0" cy="772.2" r="1.7"/><circle cx="956.9" cy="734.7" r="1.7"/><circle cx="944.5" cy="771.4" r="1.7"/><circle cx="955.5" cy="728.2" r="1.7"/><circle cx="959.7" cy="761.7" r="1.7"/><circle cx="963.8" cy="725.9" r="1.7"/><circle cx="962.3" cy="743.6" r="1.7"/><circle cx="953.4" cy="767.3" r="1.7"/><circle cx="950.2" cy="736.5" r="1.7"/><circle cx="963.8" cy="763.0" r="1.7"/><circle cx="941.5" cy="740.9" r="1.7"/><circle cx="955.8" cy="769.5" r="1.7"/><circle cx="957.4" cy="722.3" r="1.7"/><circle cx="944.0" cy="731.2" r="1.7"/><circle cx="946.0" cy="746.7" r="1.7"/><circle cx="945.2" cy="755.8" r="1.7"/><circle cx="942.5" cy="751.4" r="1.7"/><circle cx="958.1" cy="743.1" r="1.7"/><circle cx="961.3" cy="728.2" r="1.7"/><circle cx="963.9" cy="768.4" r="1.7"/><circle cx="965.6" cy="748.2" r="1.7"/><circle cx="943.4" cy="750.5" r="1.7"/><circle cx="945.8" cy="740.9" r="1.7"/><circle cx="955.3" cy="718.3" r="1.7"/><circle cx="954.1" cy="728.5" r="1.7"/><circle cx="958.5" cy="756.0" r="1.7"/><circle cx="953.3" cy="740.6" r="1.7"/><circle cx="952.2" cy="757.7" r="1.7"/><circle cx="947.2" cy="740.4" r="1.7"/><circle cx="953.9" cy="762.1" r="1.7"/><circle cx="943.0" cy="743.0" r="1.7"/><circle cx="966.6" cy="757.8" r="1.7"/><circle cx="961.4" cy="757.9" r="1.7"/><circle cx="943.5" cy="756.7" r="1.7"/><circle cx="963.9" cy="750.7" r="1.7"/></g>
<g fill="#7AA9F5" fill-opacity="0.45"><circle cx="959.4" cy="648.3" r="1.7"/><circle cx="974.3" cy="649.3" r="1.7"/><circle cx="975.5" cy="653.2" r="1.7"/><circle cx="963.0" cy="652.5" r="1.7"/><circle cx="961.6" cy="649.5" r="1.7"/><circle cx="980.3" cy="656.4" r="1.7"/><circle cx="971.5" cy="651.7" r="1.7"/><circle cx="971.0" cy="649.2" r="1.7"/><circle cx="972.6" cy="655.0" r="1.7"/><circle cx="967.3" cy="664.0" r="1.7"/><circle cx="984.1" cy="663.2" r="1.7"/><circle cx="975.2" cy="644.9" r="1.7"/><circle cx="980.4" cy="659.0" r="1.7"/><circle cx="979.1" cy="656.9" r="1.7"/><circle cx="973.9" cy="650.2" r="1.7"/><circle cx="965.2" cy="648.7" r="1.7"/><circle cx="972.3" cy="647.2" r="1.7"/><circle cx="980.0" cy="648.5" r="1.7"/><circle cx="968.9" cy="657.4" r="1.7"/><circle cx="960.2" cy="655.4" r="1.7"/><circle cx="976.0" cy="646.0" r="1.7"/><circle cx="972.4" cy="653.1" r="1.7"/><circle cx="960.0" cy="645.9" r="1.7"/><circle cx="976.0" cy="655.5" r="1.7"/><circle cx="971.1" cy="652.3" r="1.7"/><circle cx="964.0" cy="657.3" r="1.7"/><circle cx="967.1" cy="649.9" r="1.7"/><circle cx="981.6" cy="643.8" r="1.7"/><circle cx="965.4" cy="642.4" r="1.7"/><circle cx="960.9" cy="652.6" r="1.7"/><circle cx="960.1" cy="655.5" r="1.7"/><circle cx="983.1" cy="652.9" r="1.7"/><circle cx="967.7" cy="648.4" r="1.7"/><circle cx="982.4" cy="657.0" r="1.7"/><circle cx="980.2" cy="662.6" r="1.7"/><circle cx="960.0" cy="646.6" r="1.7"/><circle cx="975.0" cy="643.2" r="1.7"/><circle cx="969.3" cy="654.9" r="1.7"/><circle cx="971.9" cy="651.0" r="1.7"/><circle cx="981.5" cy="646.2" r="1.7"/><circle cx="958.4" cy="656.1" r="1.7"/><circle cx="975.0" cy="648.3" r="1.7"/><circle cx="960.1" cy="650.2" r="1.7"/><circle cx="981.6" cy="661.7" r="1.7"/><circle cx="970.5" cy="655.4" r="1.7"/><circle cx="963.3" cy="642.2" r="1.7"/><circle cx="959.8" cy="650.5" r="1.7"/><circle cx="977.4" cy="651.8" r="1.7"/><circle cx="978.0" cy="659.0" r="1.7"/><circle cx="979.7" cy="642.4" r="1.7"/><circle cx="982.8" cy="648.1" r="1.7"/><circle cx="972.4" cy="649.1" r="1.7"/><circle cx="979.2" cy="647.4" r="1.7"/><circle cx="975.6" cy="650.6" r="1.7"/><circle cx="967.0" cy="658.5" r="1.7"/><circle cx="980.5" cy="656.1" r="1.7"/><circle cx="965.8" cy="648.2" r="1.7"/><circle cx="959.7" cy="641.3" r="1.7"/><circle cx="966.7" cy="662.3" r="1.7"/><circle cx="982.9" cy="661.7" r="1.7"/><circle cx="968.3" cy="655.5" r="1.7"/><circle cx="972.1" cy="646.6" r="1.7"/><circle cx="969.6" cy="650.6" r="1.7"/><circle cx="983.1" cy="653.6" r="1.7"/><circle cx="971.9" cy="657.0" r="1.7"/><circle cx="961.9" cy="653.3" r="1.7"/><circle cx="971.4" cy="659.3" r="1.7"/><circle cx="969.4" cy="648.0" r="1.7"/><circle cx="982.5" cy="662.4" r="1.7"/><circle cx="981.2" cy="659.6" r="1.7"/><circle cx="975.1" cy="663.0" r="1.7"/><circle cx="965.0" cy="659.3" r="1.7"/><circle cx="977.8" cy="654.3" r="1.7"/><circle cx="969.1" cy="654.1" r="1.7"/><circle cx="971.7" cy="654.7" r="1.7"/><circle cx="983.0" cy="656.9" r="1.7"/><circle cx="961.6" cy="658.3" r="1.7"/><circle cx="967.3" cy="652.0" r="1.7"/><circle cx="959.2" cy="649.0" r="1.7"/><circle cx="967.7" cy="649.8" r="1.7"/><circle cx="966.0" cy="644.2" r="1.7"/><circle cx="966.5" cy="654.1" r="1.7"/><circle cx="965.5" cy="652.3" r="1.7"/><circle cx="968.9" cy="649.9" r="1.7"/><circle cx="965.8" cy="649.2" r="1.7"/><circle cx="972.7" cy="653.7" r="1.7"/><circle cx="975.2" cy="649.1" r="1.7"/><circle cx="960.4" cy="654.2" r="1.7"/><circle cx="962.0" cy="660.4" r="1.7"/><circle cx="963.0" cy="658.4" r="1.7"/><circle cx="967.1" cy="650.0" r="1.7"/><circle cx="964.3" cy="644.9" r="1.7"/><circle cx="963.0" cy="657.5" r="1.7"/><circle cx="975.9" cy="659.4" r="1.7"/><circle cx="964.7" cy="651.5" r="1.7"/><circle cx="975.8" cy="647.7" r="1.7"/><circle cx="974.0" cy="654.2" r="1.7"/><circle cx="969.7" cy="650.1" r="1.7"/><circle cx="967.7" cy="661.1" r="1.7"/><circle cx="967.9" cy="643.4" r="1.7"/><circle cx="960.5" cy="650.5" r="1.7"/><circle cx="980.7" cy="648.3" r="1.7"/><circle cx="967.9" cy="655.2" r="1.7"/><circle cx="964.8" cy="652.7" r="1.7"/><circle cx="961.5" cy="657.9" r="1.7"/><circle cx="971.4" cy="649.6" r="1.7"/><circle cx="983.2" cy="643.0" r="1.7"/><circle cx="982.8" cy="646.1" r="1.7"/><circle cx="958.8" cy="647.1" r="1.7"/><circle cx="983.6" cy="659.8" r="1.7"/></g>
<line x1="1021.9" y1="636.3" x2="1021.9" y2="646.7" stroke="#54B54B" stroke-width="3.3" stroke-linecap="butt"/><line x1="1021.9" y1="659.1" x2="1021.9" y2="668.4" stroke="#54B54B" stroke-width="3.3"/><rect x="1014.5" y="646.7" width="14.8" height="12.4" fill="#fff" stroke="#54B54B" stroke-width="3.3"/><line x1="1014.5" y1="652.9" x2="1029.3" y2="652.9" stroke="#54B54B" stroke-width="6.0"/>
<line x1="1038.8" y1="737.8" x2="1038.8" y2="745.0" stroke="#71A3F6" stroke-width="3.3" stroke-linecap="butt"/><line x1="1038.8" y1="757.5" x2="1038.8" y2="766.8" stroke="#71A3F6" stroke-width="3.3"/><rect x="1031.4" y="745.0" width="14.8" height="12.5" fill="#fff" stroke="#71A3F6" stroke-width="3.3"/><line x1="1031.4" y1="751.2" x2="1046.2" y2="751.2" stroke="#71A3F6" stroke-width="6.0"/>
<rect x="997.3" y="623.9" width="15.4" height="6.3" fill="#E8786C"/>
<g fill="#5DBB55" fill-opacity="0.45"><circle cx="1024.9" cy="643.3" r="1.7"/><circle cx="1020.2" cy="649.9" r="1.7"/><circle cx="1012.7" cy="654.8" r="1.7"/><circle cx="1016.0" cy="651.7" r="1.7"/><circle cx="1031.5" cy="662.3" r="1.7"/><circle cx="1031.7" cy="651.0" r="1.7"/><circle cx="1023.9" cy="658.0" r="1.7"/><circle cx="1030.5" cy="658.4" r="1.7"/><circle cx="1025.7" cy="659.6" r="1.7"/><circle cx="1017.4" cy="651.5" r="1.7"/><circle cx="1021.6" cy="664.1" r="1.7"/><circle cx="1030.2" cy="652.3" r="1.7"/><circle cx="1013.7" cy="659.7" r="1.7"/><circle cx="1029.8" cy="657.7" r="1.7"/><circle cx="1025.4" cy="659.2" r="1.7"/><circle cx="1011.0" cy="666.6" r="1.7"/><circle cx="1021.8" cy="647.7" r="1.7"/><circle cx="1021.2" cy="662.7" r="1.7"/><circle cx="1019.1" cy="640.0" r="1.7"/><circle cx="1019.8" cy="651.5" r="1.7"/><circle cx="1010.0" cy="652.8" r="1.7"/><circle cx="1024.0" cy="642.9" r="1.7"/><circle cx="1016.3" cy="656.7" r="1.7"/><circle cx="1033.2" cy="660.1" r="1.7"/><circle cx="1018.7" cy="644.6" r="1.7"/><circle cx="1023.3" cy="650.3" r="1.7"/><circle cx="1009.8" cy="659.8" r="1.7"/><circle cx="1013.1" cy="647.1" r="1.7"/><circle cx="1009.3" cy="651.3" r="1.7"/><circle cx="1013.2" cy="667.1" r="1.7"/><circle cx="1024.8" cy="649.1" r="1.7"/><circle cx="1026.1" cy="636.9" r="1.7"/><circle cx="1009.2" cy="652.4" r="1.7"/><circle cx="1021.6" cy="638.9" r="1.7"/><circle cx="1010.0" cy="644.0" r="1.7"/><circle cx="1021.3" cy="644.8" r="1.7"/><circle cx="1019.5" cy="659.5" r="1.7"/><circle cx="1024.0" cy="664.3" r="1.7"/><circle cx="1027.1" cy="659.4" r="1.7"/><circle cx="1026.8" cy="660.5" r="1.7"/><circle cx="1027.4" cy="650.0" r="1.7"/><circle cx="1016.6" cy="639.4" r="1.7"/><circle cx="1019.2" cy="648.4" r="1.7"/><circle cx="1030.4" cy="642.4" r="1.7"/><circle cx="1024.5" cy="646.6" r="1.7"/><circle cx="1032.5" cy="658.8" r="1.7"/><circle cx="1033.6" cy="638.3" r="1.7"/><circle cx="1030.3" cy="656.9" r="1.7"/><circle cx="1030.7" cy="648.5" r="1.7"/><circle cx="1020.7" cy="645.9" r="1.7"/><circle cx="1029.6" cy="655.5" r="1.7"/><circle cx="1022.9" cy="649.1" r="1.7"/><circle cx="1009.7" cy="643.3" r="1.7"/><circle cx="1021.0" cy="667.6" r="1.7"/><circle cx="1030.8" cy="663.3" r="1.7"/><circle cx="1031.8" cy="663.7" r="1.7"/><circle cx="1012.4" cy="659.3" r="1.7"/><circle cx="1026.5" cy="646.7" r="1.7"/><circle cx="1024.4" cy="655.1" r="1.7"/><circle cx="1033.6" cy="651.6" r="1.7"/><circle cx="1022.9" cy="652.7" r="1.7"/><circle cx="1019.6" cy="653.8" r="1.7"/><circle cx="1011.8" cy="648.2" r="1.7"/><circle cx="1033.0" cy="648.1" r="1.7"/><circle cx="1023.0" cy="646.6" r="1.7"/><circle cx="1011.4" cy="656.5" r="1.7"/><circle cx="1022.9" cy="663.5" r="1.7"/><circle cx="1031.4" cy="643.0" r="1.7"/><circle cx="1028.4" cy="660.2" r="1.7"/><circle cx="1021.4" cy="645.7" r="1.7"/><circle cx="1013.8" cy="644.0" r="1.7"/><circle cx="1022.3" cy="657.0" r="1.7"/><circle cx="1020.6" cy="647.3" r="1.7"/><circle cx="1031.4" cy="657.8" r="1.7"/><circle cx="1019.8" cy="655.6" r="1.7"/><circle cx="1021.5" cy="659.4" r="1.7"/><circle cx="1018.3" cy="647.8" r="1.7"/><circle cx="1021.7" cy="648.9" r="1.7"/><circle cx="1033.9" cy="667.7" r="1.7"/><circle cx="1023.1" cy="658.2" r="1.7"/><circle cx="1014.3" cy="638.9" r="1.7"/><circle cx="1014.2" cy="664.9" r="1.7"/><circle cx="1031.0" cy="661.1" r="1.7"/><circle cx="1010.0" cy="652.5" r="1.7"/><circle cx="1022.2" cy="658.6" r="1.7"/><circle cx="1016.9" cy="660.5" r="1.7"/><circle cx="1020.5" cy="641.9" r="1.7"/><circle cx="1024.4" cy="659.2" r="1.7"/><circle cx="1022.4" cy="662.7" r="1.7"/><circle cx="1011.2" cy="649.2" r="1.7"/><circle cx="1016.9" cy="651.7" r="1.7"/><circle cx="1024.9" cy="646.8" r="1.7"/><circle cx="1024.7" cy="641.6" r="1.7"/><circle cx="1013.7" cy="660.2" r="1.7"/><circle cx="1030.0" cy="647.8" r="1.7"/><circle cx="1019.7" cy="665.0" r="1.7"/><circle cx="1021.1" cy="658.3" r="1.7"/><circle cx="1023.5" cy="643.4" r="1.7"/><circle cx="1028.8" cy="646.8" r="1.7"/><circle cx="1025.0" cy="658.4" r="1.7"/><circle cx="1021.2" cy="656.0" r="1.7"/><circle cx="1026.2" cy="652.1" r="1.7"/><circle cx="1030.7" cy="660.7" r="1.7"/><circle cx="1017.0" cy="660.9" r="1.7"/><circle cx="1034.5" cy="644.3" r="1.7"/><circle cx="1033.7" cy="656.2" r="1.7"/><circle cx="1033.7" cy="666.3" r="1.7"/><circle cx="1009.8" cy="659.8" r="1.7"/><circle cx="1013.1" cy="646.6" r="1.7"/><circle cx="1009.1" cy="646.7" r="1.7"/></g>
<g fill="#7AA9F5" fill-opacity="0.45"><circle cx="1035.1" cy="760.6" r="1.7"/><circle cx="1038.0" cy="762.3" r="1.7"/><circle cx="1045.0" cy="755.1" r="1.7"/><circle cx="1050.9" cy="751.4" r="1.7"/><circle cx="1030.3" cy="743.5" r="1.7"/><circle cx="1049.1" cy="741.2" r="1.7"/><circle cx="1039.5" cy="749.6" r="1.7"/><circle cx="1034.1" cy="759.0" r="1.7"/><circle cx="1030.9" cy="757.8" r="1.7"/><circle cx="1034.2" cy="748.4" r="1.7"/><circle cx="1040.7" cy="744.9" r="1.7"/><circle cx="1028.1" cy="743.9" r="1.7"/><circle cx="1039.0" cy="743.4" r="1.7"/><circle cx="1032.0" cy="747.9" r="1.7"/><circle cx="1036.4" cy="746.3" r="1.7"/><circle cx="1041.0" cy="745.7" r="1.7"/><circle cx="1033.6" cy="760.0" r="1.7"/><circle cx="1026.2" cy="745.0" r="1.7"/><circle cx="1040.0" cy="747.9" r="1.7"/><circle cx="1034.4" cy="745.9" r="1.7"/><circle cx="1038.2" cy="751.8" r="1.7"/><circle cx="1027.7" cy="745.0" r="1.7"/><circle cx="1032.5" cy="750.9" r="1.7"/><circle cx="1032.5" cy="749.0" r="1.7"/><circle cx="1031.8" cy="758.1" r="1.7"/><circle cx="1035.3" cy="742.0" r="1.7"/><circle cx="1044.9" cy="742.5" r="1.7"/><circle cx="1040.2" cy="757.0" r="1.7"/><circle cx="1050.1" cy="766.3" r="1.7"/><circle cx="1028.7" cy="748.0" r="1.7"/><circle cx="1038.7" cy="750.7" r="1.7"/><circle cx="1033.3" cy="747.0" r="1.7"/><circle cx="1042.0" cy="741.5" r="1.7"/><circle cx="1047.1" cy="762.9" r="1.7"/><circle cx="1033.7" cy="742.3" r="1.7"/><circle cx="1048.2" cy="746.0" r="1.7"/><circle cx="1027.6" cy="742.4" r="1.7"/><circle cx="1032.3" cy="743.7" r="1.7"/><circle cx="1043.7" cy="744.4" r="1.7"/><circle cx="1049.2" cy="752.1" r="1.7"/><circle cx="1051.7" cy="744.4" r="1.7"/><circle cx="1040.7" cy="739.6" r="1.7"/><circle cx="1043.2" cy="745.4" r="1.7"/><circle cx="1038.8" cy="753.7" r="1.7"/><circle cx="1031.4" cy="751.0" r="1.7"/><circle cx="1047.8" cy="757.2" r="1.7"/><circle cx="1043.9" cy="743.4" r="1.7"/><circle cx="1039.1" cy="746.5" r="1.7"/><circle cx="1043.1" cy="749.4" r="1.7"/><circle cx="1037.3" cy="766.4" r="1.7"/><circle cx="1031.1" cy="739.1" r="1.7"/><circle cx="1027.8" cy="752.0" r="1.7"/><circle cx="1047.2" cy="757.4" r="1.7"/><circle cx="1046.6" cy="764.9" r="1.7"/><circle cx="1048.4" cy="744.5" r="1.7"/><circle cx="1050.0" cy="757.3" r="1.7"/><circle cx="1037.5" cy="754.4" r="1.7"/><circle cx="1040.0" cy="739.9" r="1.7"/><circle cx="1028.7" cy="746.7" r="1.7"/><circle cx="1032.7" cy="766.5" r="1.7"/><circle cx="1047.2" cy="761.4" r="1.7"/><circle cx="1050.7" cy="757.5" r="1.7"/><circle cx="1030.8" cy="746.8" r="1.7"/><circle cx="1034.1" cy="746.0" r="1.7"/><circle cx="1027.8" cy="750.5" r="1.7"/><circle cx="1046.3" cy="743.8" r="1.7"/><circle cx="1043.8" cy="749.2" r="1.7"/><circle cx="1029.1" cy="755.2" r="1.7"/><circle cx="1045.0" cy="755.6" r="1.7"/><circle cx="1029.3" cy="749.6" r="1.7"/><circle cx="1038.2" cy="757.5" r="1.7"/><circle cx="1027.0" cy="766.0" r="1.7"/><circle cx="1029.3" cy="752.5" r="1.7"/><circle cx="1029.1" cy="742.2" r="1.7"/><circle cx="1046.5" cy="745.0" r="1.7"/><circle cx="1039.9" cy="755.9" r="1.7"/><circle cx="1041.8" cy="738.2" r="1.7"/><circle cx="1051.2" cy="754.0" r="1.7"/><circle cx="1050.6" cy="757.3" r="1.7"/><circle cx="1036.8" cy="756.0" r="1.7"/><circle cx="1042.7" cy="755.8" r="1.7"/><circle cx="1043.7" cy="742.4" r="1.7"/><circle cx="1051.5" cy="758.7" r="1.7"/><circle cx="1039.0" cy="745.7" r="1.7"/><circle cx="1028.6" cy="743.3" r="1.7"/><circle cx="1046.2" cy="748.8" r="1.7"/><circle cx="1043.3" cy="744.8" r="1.7"/><circle cx="1038.2" cy="763.4" r="1.7"/><circle cx="1041.6" cy="757.0" r="1.7"/><circle cx="1037.7" cy="753.8" r="1.7"/><circle cx="1041.1" cy="750.3" r="1.7"/><circle cx="1033.1" cy="742.1" r="1.7"/><circle cx="1030.6" cy="756.9" r="1.7"/><circle cx="1047.9" cy="761.1" r="1.7"/><circle cx="1029.1" cy="741.1" r="1.7"/><circle cx="1049.3" cy="754.7" r="1.7"/><circle cx="1051.2" cy="743.0" r="1.7"/><circle cx="1033.7" cy="738.1" r="1.7"/><circle cx="1032.3" cy="763.2" r="1.7"/><circle cx="1026.2" cy="751.1" r="1.7"/><circle cx="1038.1" cy="757.4" r="1.7"/><circle cx="1029.8" cy="746.7" r="1.7"/><circle cx="1034.4" cy="760.6" r="1.7"/><circle cx="1029.0" cy="762.0" r="1.7"/><circle cx="1046.6" cy="761.5" r="1.7"/><circle cx="1026.9" cy="742.5" r="1.7"/><circle cx="1047.7" cy="744.4" r="1.7"/><circle cx="1033.6" cy="747.5" r="1.7"/><circle cx="1027.9" cy="744.1" r="1.7"/><circle cx="1050.6" cy="764.2" r="1.7"/></g>
<line x1="1089.5" y1="633.2" x2="1089.5" y2="646.7" stroke="#54B54B" stroke-width="3.3" stroke-linecap="butt"/><line x1="1089.5" y1="660.1" x2="1089.5" y2="670.5" stroke="#54B54B" stroke-width="3.3"/><rect x="1082.1" y="646.7" width="14.8" height="13.4" fill="#fff" stroke="#54B54B" stroke-width="3.3"/><line x1="1082.1" y1="652.9" x2="1096.9" y2="652.9" stroke="#54B54B" stroke-width="6.0"/>
<line x1="1106.4" y1="737.8" x2="1106.4" y2="745.0" stroke="#71A3F6" stroke-width="3.3" stroke-linecap="butt"/><line x1="1106.4" y1="757.5" x2="1106.4" y2="764.7" stroke="#71A3F6" stroke-width="3.3"/><rect x="1099.0" y="745.0" width="14.8" height="12.5" fill="#fff" stroke="#71A3F6" stroke-width="3.3"/><line x1="1099.0" y1="751.2" x2="1113.8" y2="751.2" stroke="#71A3F6" stroke-width="6.0"/>
<rect x="1064.9" y="619.6" width="15.4" height="6.3" fill="#E8786C"/>
<g fill="#5DBB55" fill-opacity="0.45"><circle cx="1100.3" cy="660.4" r="1.7"/><circle cx="1077.7" cy="646.7" r="1.7"/><circle cx="1093.3" cy="665.0" r="1.7"/><circle cx="1093.8" cy="662.7" r="1.7"/><circle cx="1082.5" cy="648.6" r="1.7"/><circle cx="1082.0" cy="653.6" r="1.7"/><circle cx="1092.9" cy="642.5" r="1.7"/><circle cx="1092.7" cy="648.2" r="1.7"/><circle cx="1099.5" cy="666.8" r="1.7"/><circle cx="1089.9" cy="646.3" r="1.7"/><circle cx="1089.3" cy="650.7" r="1.7"/><circle cx="1090.4" cy="646.7" r="1.7"/><circle cx="1089.9" cy="659.3" r="1.7"/><circle cx="1076.6" cy="660.6" r="1.7"/><circle cx="1099.1" cy="652.4" r="1.7"/><circle cx="1081.9" cy="647.5" r="1.7"/><circle cx="1091.7" cy="652.7" r="1.7"/><circle cx="1088.5" cy="650.9" r="1.7"/><circle cx="1094.4" cy="652.7" r="1.7"/><circle cx="1089.9" cy="641.9" r="1.7"/><circle cx="1094.2" cy="646.1" r="1.7"/><circle cx="1083.2" cy="663.8" r="1.7"/><circle cx="1085.7" cy="658.3" r="1.7"/><circle cx="1084.2" cy="653.2" r="1.7"/><circle cx="1095.6" cy="633.4" r="1.7"/><circle cx="1094.7" cy="656.6" r="1.7"/><circle cx="1080.7" cy="639.1" r="1.7"/><circle cx="1101.4" cy="649.7" r="1.7"/><circle cx="1099.3" cy="656.5" r="1.7"/><circle cx="1084.8" cy="645.5" r="1.7"/><circle cx="1097.5" cy="662.7" r="1.7"/><circle cx="1085.6" cy="655.3" r="1.7"/><circle cx="1095.4" cy="653.9" r="1.7"/><circle cx="1100.3" cy="641.1" r="1.7"/><circle cx="1081.1" cy="646.5" r="1.7"/><circle cx="1076.7" cy="656.7" r="1.7"/><circle cx="1085.3" cy="660.9" r="1.7"/><circle cx="1088.9" cy="661.5" r="1.7"/><circle cx="1093.5" cy="663.2" r="1.7"/><circle cx="1082.9" cy="655.5" r="1.7"/><circle cx="1085.0" cy="648.3" r="1.7"/><circle cx="1098.3" cy="669.0" r="1.7"/><circle cx="1099.3" cy="646.7" r="1.7"/><circle cx="1083.4" cy="658.8" r="1.7"/><circle cx="1080.3" cy="648.0" r="1.7"/><circle cx="1093.5" cy="636.0" r="1.7"/><circle cx="1077.8" cy="651.7" r="1.7"/><circle cx="1087.5" cy="659.1" r="1.7"/><circle cx="1080.3" cy="634.8" r="1.7"/><circle cx="1078.5" cy="650.6" r="1.7"/><circle cx="1095.9" cy="635.6" r="1.7"/><circle cx="1096.0" cy="645.2" r="1.7"/><circle cx="1082.8" cy="661.5" r="1.7"/><circle cx="1090.8" cy="668.0" r="1.7"/><circle cx="1081.4" cy="665.7" r="1.7"/><circle cx="1100.4" cy="661.6" r="1.7"/><circle cx="1083.9" cy="646.0" r="1.7"/><circle cx="1080.6" cy="635.6" r="1.7"/><circle cx="1086.4" cy="662.9" r="1.7"/><circle cx="1079.1" cy="645.5" r="1.7"/><circle cx="1090.6" cy="646.0" r="1.7"/><circle cx="1085.2" cy="645.7" r="1.7"/><circle cx="1079.1" cy="667.8" r="1.7"/><circle cx="1089.7" cy="647.4" r="1.7"/><circle cx="1081.7" cy="646.6" r="1.7"/><circle cx="1082.0" cy="659.3" r="1.7"/><circle cx="1094.8" cy="643.5" r="1.7"/><circle cx="1095.4" cy="662.3" r="1.7"/><circle cx="1088.6" cy="668.0" r="1.7"/><circle cx="1096.4" cy="659.9" r="1.7"/><circle cx="1094.3" cy="647.5" r="1.7"/><circle cx="1077.6" cy="661.0" r="1.7"/><circle cx="1094.6" cy="649.4" r="1.7"/><circle cx="1098.3" cy="669.9" r="1.7"/><circle cx="1085.9" cy="640.9" r="1.7"/><circle cx="1093.4" cy="652.4" r="1.7"/><circle cx="1093.4" cy="639.0" r="1.7"/><circle cx="1096.5" cy="652.5" r="1.7"/><circle cx="1077.4" cy="653.2" r="1.7"/><circle cx="1087.3" cy="651.7" r="1.7"/><circle cx="1086.7" cy="657.6" r="1.7"/><circle cx="1084.6" cy="660.4" r="1.7"/><circle cx="1099.5" cy="646.8" r="1.7"/><circle cx="1098.5" cy="654.2" r="1.7"/><circle cx="1089.9" cy="663.5" r="1.7"/><circle cx="1096.8" cy="646.8" r="1.7"/><circle cx="1080.9" cy="656.1" r="1.7"/><circle cx="1092.3" cy="636.4" r="1.7"/><circle cx="1085.5" cy="649.1" r="1.7"/><circle cx="1091.3" cy="664.1" r="1.7"/><circle cx="1099.6" cy="655.6" r="1.7"/><circle cx="1096.1" cy="648.9" r="1.7"/><circle cx="1096.1" cy="651.2" r="1.7"/><circle cx="1102.4" cy="663.1" r="1.7"/><circle cx="1092.0" cy="650.9" r="1.7"/><circle cx="1078.9" cy="661.2" r="1.7"/><circle cx="1095.4" cy="647.8" r="1.7"/><circle cx="1083.1" cy="648.8" r="1.7"/><circle cx="1096.5" cy="653.3" r="1.7"/><circle cx="1100.2" cy="649.4" r="1.7"/><circle cx="1096.6" cy="665.2" r="1.7"/><circle cx="1092.8" cy="669.6" r="1.7"/><circle cx="1078.4" cy="652.1" r="1.7"/><circle cx="1093.9" cy="655.2" r="1.7"/><circle cx="1078.5" cy="642.7" r="1.7"/><circle cx="1097.2" cy="652.7" r="1.7"/><circle cx="1099.7" cy="663.9" r="1.7"/><circle cx="1085.4" cy="638.1" r="1.7"/><circle cx="1080.3" cy="660.7" r="1.7"/><circle cx="1087.4" cy="660.5" r="1.7"/></g>
<g fill="#7AA9F5" fill-opacity="0.45"><circle cx="1117.8" cy="746.1" r="1.7"/><circle cx="1118.2" cy="749.7" r="1.7"/><circle cx="1110.5" cy="753.0" r="1.7"/><circle cx="1104.3" cy="764.7" r="1.7"/><circle cx="1096.8" cy="763.7" r="1.7"/><circle cx="1096.4" cy="744.3" r="1.7"/><circle cx="1107.1" cy="756.2" r="1.7"/><circle cx="1094.2" cy="750.6" r="1.7"/><circle cx="1111.0" cy="760.3" r="1.7"/><circle cx="1095.8" cy="753.6" r="1.7"/><circle cx="1103.1" cy="751.7" r="1.7"/><circle cx="1094.6" cy="737.8" r="1.7"/><circle cx="1095.3" cy="758.4" r="1.7"/><circle cx="1118.4" cy="749.9" r="1.7"/><circle cx="1096.3" cy="744.8" r="1.7"/><circle cx="1102.7" cy="750.2" r="1.7"/><circle cx="1111.8" cy="738.8" r="1.7"/><circle cx="1100.1" cy="748.6" r="1.7"/><circle cx="1107.1" cy="752.8" r="1.7"/><circle cx="1108.1" cy="754.3" r="1.7"/><circle cx="1104.3" cy="761.0" r="1.7"/><circle cx="1103.8" cy="738.4" r="1.7"/><circle cx="1113.0" cy="751.1" r="1.7"/><circle cx="1112.5" cy="744.2" r="1.7"/><circle cx="1111.9" cy="754.2" r="1.7"/><circle cx="1109.4" cy="758.1" r="1.7"/><circle cx="1098.4" cy="764.0" r="1.7"/><circle cx="1102.6" cy="758.5" r="1.7"/><circle cx="1093.9" cy="745.3" r="1.7"/><circle cx="1095.8" cy="742.6" r="1.7"/><circle cx="1118.1" cy="739.9" r="1.7"/><circle cx="1115.3" cy="748.4" r="1.7"/><circle cx="1105.0" cy="740.3" r="1.7"/><circle cx="1094.3" cy="743.2" r="1.7"/><circle cx="1110.3" cy="744.7" r="1.7"/><circle cx="1097.3" cy="744.8" r="1.7"/><circle cx="1107.0" cy="761.3" r="1.7"/><circle cx="1111.3" cy="748.6" r="1.7"/><circle cx="1108.2" cy="758.5" r="1.7"/><circle cx="1100.0" cy="739.2" r="1.7"/><circle cx="1118.4" cy="744.1" r="1.7"/><circle cx="1104.8" cy="746.9" r="1.7"/><circle cx="1105.6" cy="753.3" r="1.7"/><circle cx="1095.3" cy="759.9" r="1.7"/><circle cx="1097.9" cy="756.8" r="1.7"/><circle cx="1102.8" cy="741.8" r="1.7"/><circle cx="1108.0" cy="742.6" r="1.7"/><circle cx="1116.7" cy="741.9" r="1.7"/><circle cx="1105.1" cy="746.0" r="1.7"/><circle cx="1108.1" cy="757.5" r="1.7"/><circle cx="1114.9" cy="755.9" r="1.7"/><circle cx="1110.0" cy="762.8" r="1.7"/><circle cx="1104.3" cy="755.3" r="1.7"/><circle cx="1118.9" cy="750.1" r="1.7"/><circle cx="1102.7" cy="738.1" r="1.7"/><circle cx="1118.3" cy="739.7" r="1.7"/><circle cx="1108.1" cy="750.6" r="1.7"/><circle cx="1113.9" cy="758.1" r="1.7"/><circle cx="1113.2" cy="751.6" r="1.7"/><circle cx="1109.6" cy="741.0" r="1.7"/><circle cx="1107.7" cy="746.4" r="1.7"/><circle cx="1105.3" cy="759.7" r="1.7"/><circle cx="1098.1" cy="762.0" r="1.7"/><circle cx="1103.3" cy="738.7" r="1.7"/><circle cx="1104.7" cy="759.6" r="1.7"/><circle cx="1109.2" cy="762.1" r="1.7"/><circle cx="1099.1" cy="757.6" r="1.7"/><circle cx="1117.5" cy="747.8" r="1.7"/><circle cx="1112.0" cy="764.1" r="1.7"/><circle cx="1106.1" cy="749.2" r="1.7"/><circle cx="1093.7" cy="753.2" r="1.7"/><circle cx="1107.0" cy="754.9" r="1.7"/><circle cx="1119.2" cy="755.3" r="1.7"/><circle cx="1115.4" cy="755.2" r="1.7"/><circle cx="1114.1" cy="744.3" r="1.7"/><circle cx="1106.4" cy="751.4" r="1.7"/><circle cx="1096.5" cy="743.5" r="1.7"/><circle cx="1093.7" cy="757.7" r="1.7"/><circle cx="1105.2" cy="751.4" r="1.7"/><circle cx="1117.6" cy="739.7" r="1.7"/><circle cx="1106.3" cy="753.6" r="1.7"/><circle cx="1113.0" cy="760.5" r="1.7"/><circle cx="1097.8" cy="750.7" r="1.7"/><circle cx="1094.5" cy="742.6" r="1.7"/><circle cx="1105.8" cy="758.2" r="1.7"/><circle cx="1097.0" cy="737.9" r="1.7"/><circle cx="1114.0" cy="757.1" r="1.7"/><circle cx="1117.6" cy="755.3" r="1.7"/><circle cx="1099.6" cy="763.9" r="1.7"/><circle cx="1115.5" cy="756.0" r="1.7"/><circle cx="1110.9" cy="760.6" r="1.7"/><circle cx="1118.7" cy="742.3" r="1.7"/><circle cx="1094.7" cy="744.3" r="1.7"/><circle cx="1099.1" cy="751.6" r="1.7"/><circle cx="1099.7" cy="760.0" r="1.7"/><circle cx="1108.4" cy="745.4" r="1.7"/><circle cx="1100.8" cy="759.7" r="1.7"/><circle cx="1117.5" cy="761.9" r="1.7"/><circle cx="1105.7" cy="745.0" r="1.7"/><circle cx="1118.8" cy="739.5" r="1.7"/><circle cx="1100.0" cy="757.9" r="1.7"/><circle cx="1109.7" cy="758.2" r="1.7"/><circle cx="1106.9" cy="748.8" r="1.7"/><circle cx="1107.2" cy="744.8" r="1.7"/><circle cx="1110.8" cy="755.9" r="1.7"/><circle cx="1094.7" cy="740.0" r="1.7"/><circle cx="1097.0" cy="751.5" r="1.7"/><circle cx="1104.6" cy="745.1" r="1.7"/><circle cx="1110.8" cy="743.6" r="1.7"/><circle cx="1108.5" cy="739.6" r="1.7"/></g>
<line x1="1157.1" y1="632.8" x2="1157.1" y2="643.2" stroke="#54B54B" stroke-width="3.3" stroke-linecap="butt"/><line x1="1157.1" y1="655.0" x2="1157.1" y2="666.7" stroke="#54B54B" stroke-width="3.3"/><rect x="1149.7" y="643.2" width="14.8" height="11.8" fill="#fff" stroke="#54B54B" stroke-width="3.3"/><line x1="1149.7" y1="655.0" x2="1164.5" y2="655.0" stroke="#54B54B" stroke-width="6.0"/>
<line x1="1174.0" y1="714.8" x2="1174.0" y2="738.3" stroke="#71A3F6" stroke-width="3.3" stroke-linecap="butt"/><line x1="1174.0" y1="761.7" x2="1174.0" y2="772.1" stroke="#71A3F6" stroke-width="3.3"/><rect x="1166.6" y="738.3" width="14.8" height="23.4" fill="#fff" stroke="#71A3F6" stroke-width="3.3"/><line x1="1166.6" y1="750.0" x2="1181.4" y2="750.0" stroke="#71A3F6" stroke-width="6.0"/>
<rect x="1132.5" y="640.1" width="15.4" height="6.3" fill="#E8786C"/>
<g fill="#5DBB55" fill-opacity="0.45"><circle cx="1169.4" cy="655.7" r="1.7"/><circle cx="1152.9" cy="667.4" r="1.7"/><circle cx="1168.1" cy="632.3" r="1.7"/><circle cx="1168.1" cy="620.6" r="1.7"/><circle cx="1161.3" cy="679.1" r="1.7"/><circle cx="1159.9" cy="690.8" r="1.7"/><circle cx="1159.6" cy="667.4" r="1.7"/><circle cx="1146.1" cy="644.0" r="1.7"/><circle cx="1155.8" cy="667.4" r="1.7"/><circle cx="1158.6" cy="632.3" r="1.7"/><circle cx="1150.9" cy="644.0" r="1.7"/><circle cx="1160.2" cy="679.1" r="1.7"/><circle cx="1165.3" cy="667.4" r="1.7"/><circle cx="1155.8" cy="655.7" r="1.7"/><circle cx="1153.4" cy="655.7" r="1.7"/><circle cx="1167.1" cy="667.4" r="1.7"/><circle cx="1162.6" cy="644.0" r="1.7"/><circle cx="1144.3" cy="644.0" r="1.7"/><circle cx="1164.3" cy="655.7" r="1.7"/><circle cx="1170.0" cy="644.0" r="1.7"/><circle cx="1152.4" cy="667.4" r="1.7"/><circle cx="1166.0" cy="667.4" r="1.7"/><circle cx="1167.8" cy="632.3" r="1.7"/><circle cx="1151.2" cy="655.7" r="1.7"/><circle cx="1157.8" cy="644.0" r="1.7"/><circle cx="1151.8" cy="655.7" r="1.7"/><circle cx="1160.5" cy="620.6" r="1.7"/><circle cx="1162.2" cy="655.7" r="1.7"/><circle cx="1166.4" cy="644.0" r="1.7"/><circle cx="1147.5" cy="620.6" r="1.7"/><circle cx="1158.5" cy="620.6" r="1.7"/><circle cx="1150.0" cy="655.7" r="1.7"/><circle cx="1144.2" cy="655.7" r="1.7"/><circle cx="1169.1" cy="620.6" r="1.7"/><circle cx="1145.9" cy="679.1" r="1.7"/><circle cx="1157.3" cy="655.7" r="1.7"/><circle cx="1166.0" cy="655.7" r="1.7"/><circle cx="1168.6" cy="655.7" r="1.7"/><circle cx="1167.9" cy="655.7" r="1.7"/><circle cx="1165.5" cy="632.3" r="1.7"/><circle cx="1168.0" cy="644.0" r="1.7"/><circle cx="1169.2" cy="667.4" r="1.7"/><circle cx="1154.3" cy="667.4" r="1.7"/><circle cx="1164.4" cy="655.7" r="1.7"/><circle cx="1158.1" cy="620.6" r="1.7"/><circle cx="1162.8" cy="655.7" r="1.7"/><circle cx="1159.9" cy="644.0" r="1.7"/><circle cx="1154.0" cy="667.4" r="1.7"/><circle cx="1167.6" cy="655.7" r="1.7"/><circle cx="1157.8" cy="644.0" r="1.7"/><circle cx="1165.9" cy="655.7" r="1.7"/><circle cx="1151.5" cy="644.0" r="1.7"/><circle cx="1161.1" cy="644.0" r="1.7"/><circle cx="1169.5" cy="632.3" r="1.7"/><circle cx="1163.1" cy="655.7" r="1.7"/><circle cx="1144.8" cy="644.0" r="1.7"/><circle cx="1159.0" cy="644.0" r="1.7"/><circle cx="1169.6" cy="632.3" r="1.7"/><circle cx="1156.0" cy="655.7" r="1.7"/><circle cx="1150.5" cy="620.6" r="1.7"/><circle cx="1161.0" cy="644.0" r="1.7"/><circle cx="1156.7" cy="644.0" r="1.7"/><circle cx="1158.8" cy="644.0" r="1.7"/><circle cx="1157.6" cy="655.7" r="1.7"/><circle cx="1160.3" cy="667.4" r="1.7"/><circle cx="1161.2" cy="632.3" r="1.7"/><circle cx="1163.8" cy="655.7" r="1.7"/><circle cx="1153.2" cy="679.1" r="1.7"/><circle cx="1150.1" cy="667.4" r="1.7"/><circle cx="1144.2" cy="655.7" r="1.7"/><circle cx="1155.7" cy="667.4" r="1.7"/><circle cx="1157.0" cy="655.7" r="1.7"/><circle cx="1150.1" cy="644.0" r="1.7"/><circle cx="1160.4" cy="655.7" r="1.7"/><circle cx="1151.1" cy="620.6" r="1.7"/><circle cx="1151.5" cy="679.1" r="1.7"/><circle cx="1159.1" cy="644.0" r="1.7"/><circle cx="1168.7" cy="644.0" r="1.7"/><circle cx="1147.5" cy="690.8" r="1.7"/><circle cx="1148.5" cy="644.0" r="1.7"/><circle cx="1151.5" cy="655.7" r="1.7"/><circle cx="1167.1" cy="655.7" r="1.7"/><circle cx="1144.8" cy="632.3" r="1.7"/><circle cx="1152.2" cy="632.3" r="1.7"/><circle cx="1155.3" cy="632.3" r="1.7"/><circle cx="1163.0" cy="644.0" r="1.7"/><circle cx="1169.5" cy="690.8" r="1.7"/><circle cx="1160.8" cy="655.7" r="1.7"/><circle cx="1160.0" cy="632.3" r="1.7"/><circle cx="1167.1" cy="679.1" r="1.7"/><circle cx="1148.4" cy="632.3" r="1.7"/><circle cx="1162.2" cy="679.1" r="1.7"/><circle cx="1145.9" cy="667.4" r="1.7"/><circle cx="1144.7" cy="655.7" r="1.7"/><circle cx="1164.8" cy="667.4" r="1.7"/><circle cx="1144.2" cy="644.0" r="1.7"/><circle cx="1170.1" cy="667.4" r="1.7"/><circle cx="1153.6" cy="655.7" r="1.7"/><circle cx="1165.2" cy="644.0" r="1.7"/><circle cx="1153.6" cy="690.8" r="1.7"/><circle cx="1170.0" cy="644.0" r="1.7"/><circle cx="1155.6" cy="655.7" r="1.7"/><circle cx="1162.9" cy="644.0" r="1.7"/><circle cx="1156.3" cy="690.8" r="1.7"/><circle cx="1154.5" cy="667.4" r="1.7"/><circle cx="1165.0" cy="655.7" r="1.7"/><circle cx="1163.7" cy="690.8" r="1.7"/><circle cx="1165.6" cy="655.7" r="1.7"/><circle cx="1168.9" cy="679.1" r="1.7"/><circle cx="1154.2" cy="655.7" r="1.7"/></g>
<g fill="#7AA9F5" fill-opacity="0.45"><circle cx="1174.7" cy="714.8" r="1.7"/><circle cx="1161.0" cy="750.0" r="1.7"/><circle cx="1169.0" cy="773.4" r="1.7"/><circle cx="1161.4" cy="773.4" r="1.7"/><circle cx="1181.4" cy="750.0" r="1.7"/><circle cx="1178.5" cy="750.0" r="1.7"/><circle cx="1163.4" cy="750.0" r="1.7"/><circle cx="1180.8" cy="761.7" r="1.7"/><circle cx="1175.6" cy="750.0" r="1.7"/><circle cx="1173.9" cy="761.7" r="1.7"/><circle cx="1173.6" cy="750.0" r="1.7"/><circle cx="1180.1" cy="761.7" r="1.7"/><circle cx="1181.2" cy="738.3" r="1.7"/><circle cx="1178.5" cy="750.0" r="1.7"/><circle cx="1184.4" cy="750.0" r="1.7"/><circle cx="1181.2" cy="773.4" r="1.7"/><circle cx="1170.1" cy="750.0" r="1.7"/><circle cx="1176.7" cy="750.0" r="1.7"/><circle cx="1175.2" cy="726.5" r="1.7"/><circle cx="1162.7" cy="773.4" r="1.7"/><circle cx="1175.9" cy="761.7" r="1.7"/><circle cx="1179.8" cy="773.4" r="1.7"/><circle cx="1180.6" cy="761.7" r="1.7"/><circle cx="1164.1" cy="750.0" r="1.7"/><circle cx="1183.8" cy="761.7" r="1.7"/><circle cx="1166.7" cy="761.7" r="1.7"/><circle cx="1174.4" cy="750.0" r="1.7"/><circle cx="1173.7" cy="750.0" r="1.7"/><circle cx="1186.5" cy="750.0" r="1.7"/><circle cx="1186.4" cy="750.0" r="1.7"/><circle cx="1165.6" cy="773.4" r="1.7"/><circle cx="1170.9" cy="761.7" r="1.7"/><circle cx="1175.6" cy="750.0" r="1.7"/><circle cx="1168.8" cy="761.7" r="1.7"/><circle cx="1170.6" cy="761.7" r="1.7"/><circle cx="1173.8" cy="761.7" r="1.7"/><circle cx="1186.9" cy="750.0" r="1.7"/><circle cx="1161.1" cy="738.3" r="1.7"/><circle cx="1174.6" cy="773.4" r="1.7"/><circle cx="1182.6" cy="750.0" r="1.7"/><circle cx="1171.0" cy="761.7" r="1.7"/><circle cx="1171.2" cy="773.4" r="1.7"/><circle cx="1182.6" cy="761.7" r="1.7"/><circle cx="1171.9" cy="750.0" r="1.7"/><circle cx="1169.9" cy="750.0" r="1.7"/><circle cx="1183.0" cy="750.0" r="1.7"/><circle cx="1186.7" cy="726.5" r="1.7"/><circle cx="1175.5" cy="761.7" r="1.7"/><circle cx="1168.8" cy="750.0" r="1.7"/><circle cx="1183.7" cy="761.7" r="1.7"/><circle cx="1174.0" cy="750.0" r="1.7"/><circle cx="1167.5" cy="738.3" r="1.7"/><circle cx="1177.7" cy="761.7" r="1.7"/><circle cx="1177.6" cy="750.0" r="1.7"/><circle cx="1161.1" cy="738.3" r="1.7"/><circle cx="1176.0" cy="750.0" r="1.7"/><circle cx="1175.1" cy="738.3" r="1.7"/><circle cx="1167.8" cy="738.3" r="1.7"/><circle cx="1170.4" cy="761.7" r="1.7"/><circle cx="1180.5" cy="761.7" r="1.7"/><circle cx="1161.8" cy="750.0" r="1.7"/><circle cx="1175.3" cy="761.7" r="1.7"/><circle cx="1178.8" cy="750.0" r="1.7"/><circle cx="1184.6" cy="750.0" r="1.7"/><circle cx="1186.2" cy="714.8" r="1.7"/><circle cx="1171.6" cy="750.0" r="1.7"/><circle cx="1184.3" cy="773.4" r="1.7"/><circle cx="1161.2" cy="750.0" r="1.7"/><circle cx="1171.7" cy="750.0" r="1.7"/><circle cx="1182.6" cy="750.0" r="1.7"/><circle cx="1183.0" cy="726.5" r="1.7"/><circle cx="1167.5" cy="738.3" r="1.7"/><circle cx="1163.8" cy="726.5" r="1.7"/><circle cx="1174.8" cy="738.3" r="1.7"/><circle cx="1165.5" cy="773.4" r="1.7"/><circle cx="1170.7" cy="738.3" r="1.7"/><circle cx="1170.2" cy="750.0" r="1.7"/><circle cx="1164.9" cy="750.0" r="1.7"/><circle cx="1176.1" cy="726.5" r="1.7"/><circle cx="1164.5" cy="761.7" r="1.7"/><circle cx="1178.4" cy="726.5" r="1.7"/><circle cx="1185.1" cy="726.5" r="1.7"/><circle cx="1165.2" cy="761.7" r="1.7"/><circle cx="1162.4" cy="750.0" r="1.7"/><circle cx="1170.1" cy="726.5" r="1.7"/><circle cx="1184.7" cy="761.7" r="1.7"/><circle cx="1177.6" cy="761.7" r="1.7"/><circle cx="1174.3" cy="750.0" r="1.7"/><circle cx="1173.9" cy="750.0" r="1.7"/><circle cx="1182.8" cy="750.0" r="1.7"/><circle cx="1171.5" cy="738.3" r="1.7"/><circle cx="1186.1" cy="761.7" r="1.7"/><circle cx="1172.3" cy="738.3" r="1.7"/><circle cx="1166.5" cy="750.0" r="1.7"/><circle cx="1181.5" cy="750.0" r="1.7"/><circle cx="1173.4" cy="738.3" r="1.7"/><circle cx="1176.0" cy="738.3" r="1.7"/><circle cx="1164.0" cy="761.7" r="1.7"/><circle cx="1165.9" cy="750.0" r="1.7"/><circle cx="1178.6" cy="750.0" r="1.7"/><circle cx="1167.0" cy="738.3" r="1.7"/><circle cx="1169.5" cy="738.3" r="1.7"/><circle cx="1183.7" cy="773.4" r="1.7"/><circle cx="1171.2" cy="761.7" r="1.7"/><circle cx="1166.2" cy="750.0" r="1.7"/><circle cx="1185.7" cy="750.0" r="1.7"/><circle cx="1171.3" cy="726.5" r="1.7"/><circle cx="1183.0" cy="738.3" r="1.7"/><circle cx="1173.7" cy="738.3" r="1.7"/><circle cx="1179.0" cy="726.5" r="1.7"/></g>
<line x1="1224.7" y1="640.1" x2="1224.7" y2="693.5" stroke="#54B54B" stroke-width="3.3" stroke-linecap="butt"/><line x1="1224.7" y1="746.9" x2="1224.7" y2="796.9" stroke="#54B54B" stroke-width="3.3"/><rect x="1217.3" y="693.5" width="14.8" height="53.4" fill="#fff" stroke="#54B54B" stroke-width="3.3"/><line x1="1217.3" y1="720.8" x2="1232.1" y2="720.8" stroke="#54B54B" stroke-width="6.0"/>
<line x1="1241.6" y1="559.4" x2="1241.6" y2="653.1" stroke="#71A3F6" stroke-width="3.3" stroke-linecap="butt"/><line x1="1241.6" y1="716.1" x2="1241.6" y2="797.6" stroke="#71A3F6" stroke-width="3.3"/><rect x="1234.2" y="653.1" width="14.8" height="63.0" fill="#fff" stroke="#71A3F6" stroke-width="3.3"/><line x1="1234.2" y1="684.4" x2="1249.0" y2="684.4" stroke="#71A3F6" stroke-width="6.0"/>
<rect x="1200.1" y="720.9" width="15.4" height="6.3" fill="#E8786C"/>
<g fill="#5DBB55" fill-opacity="0.45"><circle cx="1232.5" cy="719.3" r="1.7"/><circle cx="1231.0" cy="696.6" r="1.7"/><circle cx="1218.2" cy="745.6" r="1.7"/><circle cx="1213.0" cy="710.1" r="1.7"/><circle cx="1230.4" cy="660.0" r="1.7"/><circle cx="1221.1" cy="721.5" r="1.7"/><circle cx="1226.1" cy="774.5" r="1.7"/><circle cx="1214.8" cy="692.3" r="1.7"/><circle cx="1229.5" cy="769.2" r="1.7"/><circle cx="1232.3" cy="723.9" r="1.7"/><circle cx="1237.2" cy="730.0" r="1.7"/><circle cx="1220.1" cy="676.4" r="1.7"/><circle cx="1227.0" cy="716.8" r="1.7"/><circle cx="1233.0" cy="726.0" r="1.7"/><circle cx="1233.0" cy="698.4" r="1.7"/><circle cx="1224.8" cy="746.6" r="1.7"/><circle cx="1226.9" cy="716.0" r="1.7"/><circle cx="1232.8" cy="791.9" r="1.7"/><circle cx="1215.8" cy="726.2" r="1.7"/><circle cx="1226.2" cy="680.2" r="1.7"/><circle cx="1230.9" cy="694.6" r="1.7"/><circle cx="1235.5" cy="707.4" r="1.7"/><circle cx="1220.4" cy="780.3" r="1.7"/><circle cx="1228.2" cy="756.0" r="1.7"/><circle cx="1212.4" cy="748.6" r="1.7"/><circle cx="1216.2" cy="761.1" r="1.7"/><circle cx="1223.5" cy="716.4" r="1.7"/><circle cx="1212.0" cy="724.5" r="1.7"/><circle cx="1218.3" cy="717.7" r="1.7"/><circle cx="1213.2" cy="771.0" r="1.7"/><circle cx="1222.1" cy="758.3" r="1.7"/><circle cx="1223.8" cy="755.5" r="1.7"/><circle cx="1230.8" cy="756.0" r="1.7"/><circle cx="1220.1" cy="675.7" r="1.7"/><circle cx="1236.8" cy="776.0" r="1.7"/><circle cx="1228.6" cy="772.8" r="1.7"/><circle cx="1224.3" cy="693.3" r="1.7"/><circle cx="1215.5" cy="672.1" r="1.7"/><circle cx="1235.3" cy="696.7" r="1.7"/><circle cx="1233.8" cy="670.6" r="1.7"/><circle cx="1225.0" cy="727.4" r="1.7"/><circle cx="1221.6" cy="681.4" r="1.7"/><circle cx="1212.5" cy="746.4" r="1.7"/><circle cx="1215.4" cy="750.2" r="1.7"/><circle cx="1219.7" cy="662.1" r="1.7"/><circle cx="1237.0" cy="736.2" r="1.7"/><circle cx="1223.0" cy="699.9" r="1.7"/><circle cx="1221.2" cy="767.7" r="1.7"/><circle cx="1236.4" cy="742.6" r="1.7"/><circle cx="1237.0" cy="729.1" r="1.7"/><circle cx="1212.9" cy="744.8" r="1.7"/><circle cx="1213.7" cy="670.1" r="1.7"/><circle cx="1227.2" cy="690.9" r="1.7"/><circle cx="1233.4" cy="743.4" r="1.7"/><circle cx="1237.3" cy="728.2" r="1.7"/><circle cx="1236.2" cy="714.5" r="1.7"/><circle cx="1221.5" cy="661.8" r="1.7"/><circle cx="1230.6" cy="699.9" r="1.7"/><circle cx="1212.3" cy="703.9" r="1.7"/><circle cx="1231.5" cy="700.3" r="1.7"/><circle cx="1214.2" cy="751.5" r="1.7"/><circle cx="1225.8" cy="777.1" r="1.7"/><circle cx="1233.7" cy="767.5" r="1.7"/><circle cx="1237.6" cy="729.6" r="1.7"/><circle cx="1222.8" cy="695.2" r="1.7"/><circle cx="1222.8" cy="753.0" r="1.7"/><circle cx="1234.1" cy="709.1" r="1.7"/><circle cx="1220.1" cy="671.9" r="1.7"/><circle cx="1229.0" cy="789.6" r="1.7"/><circle cx="1228.5" cy="700.3" r="1.7"/><circle cx="1232.8" cy="689.0" r="1.7"/><circle cx="1233.1" cy="707.1" r="1.7"/><circle cx="1236.3" cy="763.4" r="1.7"/><circle cx="1214.2" cy="702.6" r="1.7"/><circle cx="1228.4" cy="755.2" r="1.7"/><circle cx="1236.1" cy="741.0" r="1.7"/><circle cx="1224.3" cy="743.9" r="1.7"/><circle cx="1236.1" cy="720.4" r="1.7"/><circle cx="1234.9" cy="741.3" r="1.7"/><circle cx="1226.5" cy="696.4" r="1.7"/><circle cx="1234.7" cy="657.3" r="1.7"/><circle cx="1225.9" cy="693.6" r="1.7"/><circle cx="1217.4" cy="783.6" r="1.7"/><circle cx="1214.7" cy="704.3" r="1.7"/><circle cx="1220.7" cy="705.2" r="1.7"/><circle cx="1233.1" cy="732.6" r="1.7"/><circle cx="1231.1" cy="682.9" r="1.7"/><circle cx="1225.6" cy="726.4" r="1.7"/><circle cx="1235.8" cy="644.9" r="1.7"/><circle cx="1213.8" cy="709.0" r="1.7"/><circle cx="1212.9" cy="669.5" r="1.7"/><circle cx="1228.8" cy="765.1" r="1.7"/><circle cx="1231.3" cy="751.2" r="1.7"/><circle cx="1216.0" cy="700.4" r="1.7"/><circle cx="1237.7" cy="667.8" r="1.7"/><circle cx="1237.2" cy="703.7" r="1.7"/><circle cx="1224.0" cy="689.3" r="1.7"/><circle cx="1236.1" cy="685.8" r="1.7"/><circle cx="1213.9" cy="699.4" r="1.7"/><circle cx="1230.0" cy="734.1" r="1.7"/><circle cx="1216.0" cy="734.8" r="1.7"/><circle cx="1215.4" cy="725.4" r="1.7"/><circle cx="1214.3" cy="723.5" r="1.7"/><circle cx="1217.2" cy="696.0" r="1.7"/><circle cx="1214.5" cy="660.3" r="1.7"/><circle cx="1228.4" cy="706.5" r="1.7"/><circle cx="1228.0" cy="750.8" r="1.7"/><circle cx="1227.7" cy="715.4" r="1.7"/><circle cx="1224.1" cy="752.7" r="1.7"/><circle cx="1227.8" cy="683.8" r="1.7"/></g>
<g fill="#7AA9F5" fill-opacity="0.45"><circle cx="1237.3" cy="716.3" r="1.7"/><circle cx="1230.0" cy="620.5" r="1.7"/><circle cx="1241.9" cy="687.2" r="1.7"/><circle cx="1228.7" cy="693.3" r="1.7"/><circle cx="1250.5" cy="749.7" r="1.7"/><circle cx="1236.2" cy="690.1" r="1.7"/><circle cx="1230.0" cy="690.5" r="1.7"/><circle cx="1250.1" cy="759.5" r="1.7"/><circle cx="1233.7" cy="652.6" r="1.7"/><circle cx="1230.6" cy="707.5" r="1.7"/><circle cx="1242.1" cy="707.5" r="1.7"/><circle cx="1241.8" cy="653.0" r="1.7"/><circle cx="1254.6" cy="632.2" r="1.7"/><circle cx="1229.7" cy="676.0" r="1.7"/><circle cx="1246.1" cy="739.8" r="1.7"/><circle cx="1252.0" cy="741.2" r="1.7"/><circle cx="1230.0" cy="771.2" r="1.7"/><circle cx="1239.2" cy="561.9" r="1.7"/><circle cx="1244.1" cy="677.5" r="1.7"/><circle cx="1237.3" cy="745.3" r="1.7"/><circle cx="1247.8" cy="701.0" r="1.7"/><circle cx="1246.7" cy="649.6" r="1.7"/><circle cx="1240.6" cy="726.5" r="1.7"/><circle cx="1233.1" cy="604.5" r="1.7"/><circle cx="1244.6" cy="703.6" r="1.7"/><circle cx="1229.3" cy="562.2" r="1.7"/><circle cx="1240.6" cy="660.5" r="1.7"/><circle cx="1250.5" cy="680.8" r="1.7"/><circle cx="1244.2" cy="753.7" r="1.7"/><circle cx="1248.2" cy="707.6" r="1.7"/><circle cx="1239.4" cy="657.5" r="1.7"/><circle cx="1248.5" cy="734.3" r="1.7"/><circle cx="1243.3" cy="659.3" r="1.7"/><circle cx="1253.3" cy="653.6" r="1.7"/><circle cx="1246.5" cy="716.3" r="1.7"/><circle cx="1235.5" cy="644.4" r="1.7"/><circle cx="1236.8" cy="610.4" r="1.7"/><circle cx="1243.7" cy="584.3" r="1.7"/><circle cx="1251.6" cy="575.2" r="1.7"/><circle cx="1238.2" cy="649.6" r="1.7"/><circle cx="1243.9" cy="689.7" r="1.7"/><circle cx="1239.4" cy="644.8" r="1.7"/><circle cx="1234.2" cy="612.2" r="1.7"/><circle cx="1232.4" cy="681.8" r="1.7"/><circle cx="1236.2" cy="729.0" r="1.7"/><circle cx="1243.4" cy="774.3" r="1.7"/><circle cx="1238.9" cy="669.4" r="1.7"/><circle cx="1242.8" cy="646.5" r="1.7"/><circle cx="1230.8" cy="661.4" r="1.7"/><circle cx="1229.2" cy="706.0" r="1.7"/><circle cx="1250.7" cy="732.0" r="1.7"/><circle cx="1244.1" cy="739.5" r="1.7"/><circle cx="1246.1" cy="699.9" r="1.7"/><circle cx="1250.2" cy="623.6" r="1.7"/><circle cx="1253.7" cy="579.6" r="1.7"/><circle cx="1254.3" cy="697.3" r="1.7"/><circle cx="1235.8" cy="652.3" r="1.7"/><circle cx="1242.2" cy="706.2" r="1.7"/><circle cx="1231.2" cy="633.0" r="1.7"/><circle cx="1246.0" cy="615.6" r="1.7"/><circle cx="1239.2" cy="672.8" r="1.7"/><circle cx="1239.2" cy="699.4" r="1.7"/><circle cx="1240.1" cy="657.4" r="1.7"/><circle cx="1251.4" cy="657.6" r="1.7"/><circle cx="1229.1" cy="757.2" r="1.7"/><circle cx="1233.6" cy="592.1" r="1.7"/><circle cx="1239.1" cy="642.5" r="1.7"/><circle cx="1228.9" cy="718.2" r="1.7"/><circle cx="1244.2" cy="693.5" r="1.7"/><circle cx="1228.9" cy="771.1" r="1.7"/><circle cx="1251.5" cy="711.4" r="1.7"/><circle cx="1235.3" cy="653.1" r="1.7"/><circle cx="1239.4" cy="696.6" r="1.7"/><circle cx="1236.0" cy="658.3" r="1.7"/><circle cx="1241.7" cy="702.8" r="1.7"/><circle cx="1239.8" cy="716.8" r="1.7"/><circle cx="1241.7" cy="653.4" r="1.7"/><circle cx="1237.7" cy="770.5" r="1.7"/><circle cx="1234.6" cy="675.6" r="1.7"/><circle cx="1243.1" cy="698.6" r="1.7"/><circle cx="1233.4" cy="701.6" r="1.7"/><circle cx="1230.3" cy="622.2" r="1.7"/><circle cx="1231.1" cy="608.9" r="1.7"/><circle cx="1242.8" cy="677.6" r="1.7"/><circle cx="1244.9" cy="695.9" r="1.7"/><circle cx="1236.9" cy="618.8" r="1.7"/><circle cx="1233.8" cy="768.6" r="1.7"/><circle cx="1244.2" cy="620.8" r="1.7"/><circle cx="1238.7" cy="653.0" r="1.7"/><circle cx="1246.5" cy="706.7" r="1.7"/><circle cx="1252.3" cy="675.9" r="1.7"/><circle cx="1237.5" cy="731.8" r="1.7"/><circle cx="1252.2" cy="660.5" r="1.7"/><circle cx="1249.1" cy="688.6" r="1.7"/><circle cx="1245.2" cy="748.5" r="1.7"/><circle cx="1246.6" cy="706.1" r="1.7"/><circle cx="1233.5" cy="710.1" r="1.7"/><circle cx="1247.4" cy="713.7" r="1.7"/><circle cx="1252.3" cy="657.8" r="1.7"/><circle cx="1230.3" cy="695.3" r="1.7"/><circle cx="1235.3" cy="643.9" r="1.7"/><circle cx="1241.3" cy="657.1" r="1.7"/><circle cx="1229.4" cy="691.5" r="1.7"/><circle cx="1248.1" cy="717.9" r="1.7"/><circle cx="1251.5" cy="689.5" r="1.7"/><circle cx="1242.5" cy="644.3" r="1.7"/><circle cx="1228.7" cy="569.4" r="1.7"/><circle cx="1242.5" cy="697.0" r="1.7"/><circle cx="1251.2" cy="771.4" r="1.7"/><circle cx="1243.7" cy="735.0" r="1.7"/></g>
</g>
<rect x="506.1" y="861.2" width="759.9" height="378.8" fill="#EBEBEB"/>
<line x1="506.1" x2="1266.0" y1="882.5" y2="882.5" stroke="#fff" stroke-width="1.3"/>
<line x1="506.1" x2="1266.0" y1="996.5" y2="996.5" stroke="#fff" stroke-width="1.3"/>
<line x1="506.1" x2="1266.0" y1="1110.5" y2="1110.5" stroke="#fff" stroke-width="1.3"/>
<line x1="506.1" x2="1266.0" y1="1224.5" y2="1224.5" stroke="#fff" stroke-width="1.3"/>
<line x1="506.1" x2="1266.0" y1="939.5" y2="939.5" stroke="#fff" stroke-width="2.6"/>
<line x1="506.1" x2="1266.0" y1="1053.5" y2="1053.5" stroke="#fff" stroke-width="2.6"/>
<line x1="506.1" x2="1266.0" y1="1167.5" y2="1167.5" stroke="#fff" stroke-width="2.6"/>
<line x1="547.2" x2="547.2" y1="861.2" y2="1240.0" stroke="#fff" stroke-width="2.6"/>
<line x1="615.0" x2="615.0" y1="861.2" y2="1240.0" stroke="#fff" stroke-width="2.6"/>
<line x1="682.7" x2="682.7" y1="861.2" y2="1240.0" stroke="#fff" stroke-width="2.6"/>
<line x1="750.5" x2="750.5" y1="861.2" y2="1240.0" stroke="#fff" stroke-width="2.6"/>
<line x1="818.2" x2="818.2" y1="861.2" y2="1240.0" stroke="#fff" stroke-width="2.6"/>
<line x1="886.0" x2="886.0" y1="861.2" y2="1240.0" stroke="#fff" stroke-width="2.6"/>
<line x1="953.7" x2="953.7" y1="861.2" y2="1240.0" stroke="#fff" stroke-width="2.6"/>
<line x1="1021.5" x2="1021.5" y1="861.2" y2="1240.0" stroke="#fff" stroke-width="2.6"/>
<line x1="1089.2" x2="1089.2" y1="861.2" y2="1240.0" stroke="#fff" stroke-width="2.6"/>
<line x1="1157.0" x2="1157.0" y1="861.2" y2="1240.0" stroke="#fff" stroke-width="2.6"/>
<line x1="1224.7" x2="1224.7" y1="861.2" y2="1240.0" stroke="#fff" stroke-width="2.6"/>
<line x1="499.6" x2="506.1" y1="939.5" y2="939.5" stroke="#333" stroke-width="2.6"/>
<text x="492.6" y="947.7" font-size="23" fill="#4D4D4D" text-anchor="end">2</text>
<line x1="499.6" x2="506.1" y1="1053.5" y2="1053.5" stroke="#333" stroke-width="2.6"/>
<text x="492.6" y="1061.7" font-size="23" fill="#4D4D4D" text-anchor="end">0</text>
<line x1="499.6" x2="506.1" y1="1167.5" y2="1167.5" stroke="#333" stroke-width="2.6"/>
<text x="492.6" y="1175.7" font-size="23" fill="#4D4D4D" text-anchor="end">-2</text>
<line x1="547.2" x2="547.2" y1="1240.0" y2="1247.0" stroke="#333" stroke-width="2.6"/>
<line x1="615.0" x2="615.0" y1="1240.0" y2="1247.0" stroke="#333" stroke-width="2.6"/>
<line x1="682.7" x2="682.7" y1="1240.0" y2="1247.0" stroke="#333" stroke-width="2.6"/>
<line x1="750.5" x2="750.5" y1="1240.0" y2="1247.0" stroke="#333" stroke-width="2.6"/>
<line x1="818.2" x2="818.2" y1="1240.0" y2="1247.0" stroke="#333" stroke-width="2.6"/>
<line x1="886.0" x2="886.0" y1="1240.0" y2="1247.0" stroke="#333" stroke-width="2.6"/>
<line x1="953.7" x2="953.7" y1="1240.0" y2="1247.0" stroke="#333" stroke-width="2.6"/>
<line x1="1021.5" x2="1021.5" y1="1240.0" y2="1247.0" stroke="#333" stroke-width="2.6"/>
<line x1="1089.2" x2="1089.2" y1="1240.0" y2="1247.0" stroke="#333" stroke-width="2.6"/>
<line x1="1157.0" x2="1157.0" y1="1240.0" y2="1247.0" stroke="#333" stroke-width="2.6"/>
<line x1="1224.7" x2="1224.7" y1="1240.0" y2="1247.0" stroke="#333" stroke-width="2.6"/>
<text transform="translate(461.8,1049.9) rotate(-90)" font-size="28.5" fill="#1A1A1A" text-anchor="middle">Scaled Metric Value</text>
<clipPath id="cp2"><rect x="506.1" y="861.2" width="759.9" height="378.8"/></clipPath><g clip-path="url(#cp2)">
<line x1="547.2" y1="946.8" x2="547.2" y2="988.8" stroke="#54B54B" stroke-width="3.3" stroke-linecap="butt"/><line x1="547.2" y1="1033.0" x2="547.2" y2="1091.2" stroke="#54B54B" stroke-width="3.3"/><rect x="539.8" y="988.8" width="14.8" height="44.2" fill="#fff" stroke="#54B54B" stroke-width="3.3"/><line x1="539.8" y1="1013.0" x2="554.6" y2="1013.0" stroke="#54B54B" stroke-width="6.0"/>
<line x1="564.1" y1="1017.9" x2="564.1" y2="1068.2" stroke="#71A3F6" stroke-width="3.3" stroke-linecap="butt"/><line x1="564.1" y1="1119.9" x2="564.1" y2="1188.8" stroke="#71A3F6" stroke-width="3.3"/><rect x="556.7" y="1068.2" width="14.8" height="51.7" fill="#fff" stroke="#71A3F6" stroke-width="3.3"/><line x1="556.7" y1="1091.7" x2="571.5" y2="1091.7" stroke="#71A3F6" stroke-width="6.0"/>
<rect x="522.6" y="1001.1" width="15.4" height="6.3" fill="#E8786C"/>
<g fill="#5DBB55" fill-opacity="0.45"><circle cx="544.1" cy="1031.3" r="1.7"/><circle cx="541.7" cy="1015.8" r="1.7"/><circle cx="551.5" cy="1042.2" r="1.7"/><circle cx="536.3" cy="1000.8" r="1.7"/><circle cx="537.0" cy="953.8" r="1.7"/><circle cx="541.5" cy="1034.6" r="1.7"/><circle cx="546.9" cy="1023.8" r="1.7"/><circle cx="536.8" cy="969.6" r="1.7"/><circle cx="550.4" cy="1005.8" r="1.7"/><circle cx="543.4" cy="1032.4" r="1.7"/><circle cx="557.3" cy="1017.4" r="1.7"/><circle cx="546.7" cy="987.6" r="1.7"/><circle cx="543.5" cy="1067.7" r="1.7"/><circle cx="545.5" cy="983.7" r="1.7"/><circle cx="550.8" cy="1021.7" r="1.7"/><circle cx="551.0" cy="1076.9" r="1.7"/><circle cx="537.1" cy="995.0" r="1.7"/><circle cx="556.5" cy="1019.6" r="1.7"/><circle cx="548.0" cy="1032.0" r="1.7"/><circle cx="548.6" cy="1025.3" r="1.7"/><circle cx="543.1" cy="1021.7" r="1.7"/><circle cx="552.2" cy="965.1" r="1.7"/><circle cx="542.9" cy="947.1" r="1.7"/><circle cx="543.7" cy="1015.7" r="1.7"/><circle cx="543.7" cy="976.4" r="1.7"/><circle cx="538.8" cy="995.6" r="1.7"/><circle cx="541.2" cy="1008.9" r="1.7"/><circle cx="543.7" cy="967.5" r="1.7"/><circle cx="548.9" cy="958.8" r="1.7"/><circle cx="548.5" cy="1025.7" r="1.7"/><circle cx="552.2" cy="963.8" r="1.7"/><circle cx="548.9" cy="982.8" r="1.7"/><circle cx="537.8" cy="1001.5" r="1.7"/><circle cx="550.8" cy="981.8" r="1.7"/><circle cx="542.1" cy="998.6" r="1.7"/><circle cx="547.9" cy="988.4" r="1.7"/><circle cx="560.0" cy="1027.4" r="1.7"/><circle cx="551.8" cy="987.9" r="1.7"/><circle cx="552.3" cy="980.6" r="1.7"/><circle cx="559.0" cy="1022.2" r="1.7"/><circle cx="551.7" cy="969.1" r="1.7"/><circle cx="547.2" cy="1018.2" r="1.7"/><circle cx="557.3" cy="1075.1" r="1.7"/><circle cx="549.7" cy="981.9" r="1.7"/><circle cx="555.1" cy="1015.7" r="1.7"/><circle cx="544.6" cy="1083.5" r="1.7"/><circle cx="550.0" cy="1033.0" r="1.7"/><circle cx="550.0" cy="1024.7" r="1.7"/><circle cx="544.9" cy="970.8" r="1.7"/><circle cx="534.5" cy="1054.7" r="1.7"/><circle cx="546.4" cy="981.3" r="1.7"/><circle cx="535.0" cy="1017.7" r="1.7"/><circle cx="534.2" cy="1057.9" r="1.7"/><circle cx="535.4" cy="971.1" r="1.7"/><circle cx="546.5" cy="1027.3" r="1.7"/><circle cx="540.0" cy="1005.9" r="1.7"/><circle cx="550.8" cy="998.9" r="1.7"/><circle cx="536.6" cy="950.8" r="1.7"/><circle cx="536.9" cy="1029.3" r="1.7"/><circle cx="539.7" cy="1029.8" r="1.7"/><circle cx="555.2" cy="1080.3" r="1.7"/><circle cx="553.6" cy="1031.0" r="1.7"/><circle cx="554.9" cy="984.1" r="1.7"/><circle cx="549.5" cy="1082.2" r="1.7"/><circle cx="550.6" cy="978.9" r="1.7"/><circle cx="545.3" cy="1002.9" r="1.7"/><circle cx="548.1" cy="983.0" r="1.7"/><circle cx="547.1" cy="1024.9" r="1.7"/><circle cx="539.1" cy="1015.3" r="1.7"/><circle cx="555.9" cy="996.3" r="1.7"/><circle cx="534.5" cy="998.1" r="1.7"/><circle cx="554.1" cy="1020.6" r="1.7"/><circle cx="547.3" cy="1050.7" r="1.7"/><circle cx="548.1" cy="995.3" r="1.7"/><circle cx="534.6" cy="1026.6" r="1.7"/><circle cx="538.5" cy="993.2" r="1.7"/><circle cx="547.8" cy="1003.2" r="1.7"/><circle cx="537.1" cy="991.4" r="1.7"/><circle cx="553.6" cy="953.6" r="1.7"/><circle cx="539.0" cy="975.4" r="1.7"/><circle cx="544.0" cy="991.7" r="1.7"/><circle cx="552.4" cy="993.6" r="1.7"/><circle cx="558.8" cy="1020.3" r="1.7"/><circle cx="546.3" cy="1017.9" r="1.7"/><circle cx="538.1" cy="992.2" r="1.7"/><circle cx="542.8" cy="971.1" r="1.7"/><circle cx="538.0" cy="972.7" r="1.7"/><circle cx="549.6" cy="1052.5" r="1.7"/><circle cx="545.6" cy="1033.3" r="1.7"/><circle cx="553.0" cy="1037.4" r="1.7"/><circle cx="552.0" cy="990.0" r="1.7"/><circle cx="535.4" cy="1050.0" r="1.7"/><circle cx="536.3" cy="1005.0" r="1.7"/><circle cx="548.4" cy="992.1" r="1.7"/><circle cx="555.5" cy="963.4" r="1.7"/><circle cx="555.7" cy="998.0" r="1.7"/><circle cx="541.8" cy="1012.3" r="1.7"/><circle cx="552.5" cy="1070.1" r="1.7"/><circle cx="550.6" cy="997.0" r="1.7"/><circle cx="546.0" cy="1011.8" r="1.7"/><circle cx="544.0" cy="966.3" r="1.7"/><circle cx="558.9" cy="1048.7" r="1.7"/><circle cx="557.5" cy="988.5" r="1.7"/><circle cx="545.6" cy="950.6" r="1.7"/><circle cx="547.0" cy="1045.3" r="1.7"/><circle cx="544.3" cy="1013.8" r="1.7"/><circle cx="540.7" cy="986.9" r="1.7"/><circle cx="539.7" cy="954.5" r="1.7"/><circle cx="555.8" cy="1030.3" r="1.7"/><circle cx="553.0" cy="1033.7" r="1.7"/></g>
<g fill="#7AA9F5" fill-opacity="0.45"><circle cx="561.7" cy="1117.2" r="1.7"/><circle cx="557.5" cy="1095.1" r="1.7"/><circle cx="575.6" cy="1061.1" r="1.7"/><circle cx="555.2" cy="1039.8" r="1.7"/><circle cx="562.5" cy="1177.8" r="1.7"/><circle cx="565.3" cy="1069.1" r="1.7"/><circle cx="576.8" cy="1029.9" r="1.7"/><circle cx="557.9" cy="1074.5" r="1.7"/><circle cx="552.8" cy="1102.8" r="1.7"/><circle cx="570.6" cy="1103.7" r="1.7"/><circle cx="555.9" cy="1112.4" r="1.7"/><circle cx="574.4" cy="1088.1" r="1.7"/><circle cx="554.0" cy="1078.0" r="1.7"/><circle cx="557.1" cy="1099.4" r="1.7"/><circle cx="562.0" cy="1062.8" r="1.7"/><circle cx="573.9" cy="1098.1" r="1.7"/><circle cx="562.8" cy="1114.6" r="1.7"/><circle cx="559.1" cy="1024.1" r="1.7"/><circle cx="568.0" cy="1088.0" r="1.7"/><circle cx="567.5" cy="1110.3" r="1.7"/><circle cx="572.7" cy="1100.6" r="1.7"/><circle cx="570.0" cy="1086.4" r="1.7"/><circle cx="569.2" cy="1084.8" r="1.7"/><circle cx="554.9" cy="1104.1" r="1.7"/><circle cx="559.6" cy="1107.1" r="1.7"/><circle cx="571.1" cy="1182.6" r="1.7"/><circle cx="563.6" cy="1089.4" r="1.7"/><circle cx="552.8" cy="1072.5" r="1.7"/><circle cx="569.7" cy="1142.4" r="1.7"/><circle cx="573.7" cy="1171.7" r="1.7"/><circle cx="576.2" cy="1090.9" r="1.7"/><circle cx="561.7" cy="1054.9" r="1.7"/><circle cx="562.4" cy="1109.3" r="1.7"/><circle cx="563.1" cy="1067.4" r="1.7"/><circle cx="576.9" cy="1071.0" r="1.7"/><circle cx="564.5" cy="1068.3" r="1.7"/><circle cx="563.9" cy="1068.9" r="1.7"/><circle cx="562.0" cy="1084.1" r="1.7"/><circle cx="576.8" cy="1037.0" r="1.7"/><circle cx="565.6" cy="1085.3" r="1.7"/><circle cx="565.8" cy="1149.3" r="1.7"/><circle cx="557.4" cy="1038.7" r="1.7"/><circle cx="557.7" cy="1067.0" r="1.7"/><circle cx="558.4" cy="1071.6" r="1.7"/><circle cx="571.3" cy="1082.7" r="1.7"/><circle cx="572.9" cy="1175.1" r="1.7"/><circle cx="557.4" cy="1089.5" r="1.7"/><circle cx="565.5" cy="1113.4" r="1.7"/><circle cx="555.7" cy="1069.0" r="1.7"/><circle cx="557.1" cy="1160.6" r="1.7"/><circle cx="561.6" cy="1079.1" r="1.7"/><circle cx="570.0" cy="1067.8" r="1.7"/><circle cx="566.4" cy="1106.6" r="1.7"/><circle cx="566.9" cy="1136.9" r="1.7"/><circle cx="557.2" cy="1077.9" r="1.7"/><circle cx="554.7" cy="1076.1" r="1.7"/><circle cx="565.3" cy="1026.6" r="1.7"/><circle cx="568.5" cy="1040.5" r="1.7"/><circle cx="570.1" cy="1122.9" r="1.7"/><circle cx="560.9" cy="1080.9" r="1.7"/><circle cx="570.9" cy="1073.6" r="1.7"/><circle cx="556.8" cy="1074.8" r="1.7"/><circle cx="574.7" cy="1028.5" r="1.7"/><circle cx="575.2" cy="1099.1" r="1.7"/><circle cx="560.1" cy="1020.0" r="1.7"/><circle cx="557.4" cy="1126.7" r="1.7"/><circle cx="554.9" cy="1092.9" r="1.7"/><circle cx="570.1" cy="1120.5" r="1.7"/><circle cx="567.0" cy="1180.8" r="1.7"/><circle cx="569.6" cy="1102.1" r="1.7"/><circle cx="563.5" cy="1118.9" r="1.7"/><circle cx="551.5" cy="1123.1" r="1.7"/><circle cx="560.6" cy="1053.8" r="1.7"/><circle cx="575.4" cy="1114.8" r="1.7"/><circle cx="565.2" cy="1106.4" r="1.7"/><circle cx="561.8" cy="1138.3" r="1.7"/><circle cx="572.5" cy="1051.5" r="1.7"/><circle cx="574.9" cy="1061.9" r="1.7"/><circle cx="552.5" cy="1121.0" r="1.7"/><circle cx="568.0" cy="1141.1" r="1.7"/><circle cx="560.7" cy="1087.4" r="1.7"/><circle cx="556.8" cy="1071.8" r="1.7"/><circle cx="561.9" cy="1081.6" r="1.7"/><circle cx="571.3" cy="1138.6" r="1.7"/><circle cx="571.9" cy="1128.0" r="1.7"/><circle cx="562.5" cy="1067.9" r="1.7"/><circle cx="556.4" cy="1097.0" r="1.7"/><circle cx="569.2" cy="1138.6" r="1.7"/><circle cx="565.7" cy="1106.3" r="1.7"/><circle cx="558.0" cy="1106.6" r="1.7"/><circle cx="570.9" cy="1132.6" r="1.7"/><circle cx="555.1" cy="1099.3" r="1.7"/><circle cx="555.1" cy="1052.0" r="1.7"/><circle cx="555.2" cy="1121.2" r="1.7"/><circle cx="571.3" cy="1086.1" r="1.7"/><circle cx="575.1" cy="1175.6" r="1.7"/><circle cx="572.7" cy="1072.7" r="1.7"/><circle cx="562.5" cy="1100.5" r="1.7"/><circle cx="557.9" cy="1152.3" r="1.7"/><circle cx="558.5" cy="1052.5" r="1.7"/><circle cx="572.8" cy="1045.8" r="1.7"/><circle cx="554.8" cy="1040.9" r="1.7"/><circle cx="572.8" cy="1100.4" r="1.7"/><circle cx="557.5" cy="1113.0" r="1.7"/><circle cx="565.0" cy="1180.0" r="1.7"/><circle cx="556.6" cy="1087.0" r="1.7"/><circle cx="567.6" cy="1118.9" r="1.7"/><circle cx="571.5" cy="1130.4" r="1.7"/><circle cx="562.0" cy="1052.2" r="1.7"/><circle cx="565.9" cy="1141.1" r="1.7"/></g>
<line x1="615.0" y1="936.3" x2="615.0" y2="994.8" stroke="#54B54B" stroke-width="3.3" stroke-linecap="butt"/><line x1="615.0" y1="1042.7" x2="615.0" y2="1096.1" stroke="#54B54B" stroke-width="3.3"/><rect x="607.6" y="994.8" width="14.8" height="47.9" fill="#fff" stroke="#54B54B" stroke-width="3.3"/><line x1="607.6" y1="1013.0" x2="622.4" y2="1013.0" stroke="#54B54B" stroke-width="6.0"/>
<line x1="631.9" y1="1002.6" x2="631.9" y2="1062.1" stroke="#71A3F6" stroke-width="3.3" stroke-linecap="butt"/><line x1="631.9" y1="1119.1" x2="631.9" y2="1200.0" stroke="#71A3F6" stroke-width="3.3"/><rect x="624.5" y="1062.1" width="14.8" height="57.0" fill="#fff" stroke="#71A3F6" stroke-width="3.3"/><line x1="624.5" y1="1088.8" x2="639.2" y2="1088.8" stroke="#71A3F6" stroke-width="6.0"/>
<rect x="590.4" y="993.4" width="15.4" height="6.3" fill="#E8786C"/>
<g fill="#5DBB55" fill-opacity="0.45"><circle cx="604.7" cy="1037.3" r="1.7"/><circle cx="616.5" cy="997.8" r="1.7"/><circle cx="608.4" cy="1040.2" r="1.7"/><circle cx="625.8" cy="996.7" r="1.7"/><circle cx="617.2" cy="1030.6" r="1.7"/><circle cx="614.0" cy="1044.4" r="1.7"/><circle cx="609.9" cy="1007.1" r="1.7"/><circle cx="616.0" cy="1005.4" r="1.7"/><circle cx="605.0" cy="1082.0" r="1.7"/><circle cx="605.8" cy="1023.2" r="1.7"/><circle cx="617.4" cy="1009.6" r="1.7"/><circle cx="625.0" cy="1003.9" r="1.7"/><circle cx="622.0" cy="1005.1" r="1.7"/><circle cx="624.6" cy="1062.5" r="1.7"/><circle cx="617.3" cy="960.3" r="1.7"/><circle cx="616.3" cy="985.8" r="1.7"/><circle cx="606.1" cy="1020.8" r="1.7"/><circle cx="620.5" cy="1015.3" r="1.7"/><circle cx="625.2" cy="991.1" r="1.7"/><circle cx="626.5" cy="1011.7" r="1.7"/><circle cx="602.4" cy="1028.2" r="1.7"/><circle cx="616.0" cy="1021.8" r="1.7"/><circle cx="608.0" cy="993.5" r="1.7"/><circle cx="620.7" cy="1087.7" r="1.7"/><circle cx="624.1" cy="1048.0" r="1.7"/><circle cx="605.5" cy="1008.2" r="1.7"/><circle cx="622.0" cy="1011.5" r="1.7"/><circle cx="626.8" cy="1044.2" r="1.7"/><circle cx="605.8" cy="1078.1" r="1.7"/><circle cx="619.5" cy="1006.1" r="1.7"/><circle cx="626.0" cy="1005.6" r="1.7"/><circle cx="603.1" cy="1046.6" r="1.7"/><circle cx="611.1" cy="1010.3" r="1.7"/><circle cx="612.2" cy="1025.3" r="1.7"/><circle cx="609.4" cy="973.7" r="1.7"/><circle cx="616.7" cy="999.0" r="1.7"/><circle cx="625.7" cy="1038.6" r="1.7"/><circle cx="609.8" cy="1042.0" r="1.7"/><circle cx="620.2" cy="1047.8" r="1.7"/><circle cx="611.4" cy="998.9" r="1.7"/><circle cx="617.4" cy="1062.0" r="1.7"/><circle cx="616.3" cy="1032.3" r="1.7"/><circle cx="602.0" cy="1001.7" r="1.7"/><circle cx="623.2" cy="1081.4" r="1.7"/><circle cx="604.2" cy="977.2" r="1.7"/><circle cx="613.0" cy="1044.2" r="1.7"/><circle cx="610.0" cy="984.8" r="1.7"/><circle cx="604.3" cy="951.7" r="1.7"/><circle cx="603.4" cy="967.5" r="1.7"/><circle cx="627.2" cy="1005.6" r="1.7"/><circle cx="625.7" cy="996.9" r="1.7"/><circle cx="626.8" cy="1030.7" r="1.7"/><circle cx="609.1" cy="968.0" r="1.7"/><circle cx="625.8" cy="993.6" r="1.7"/><circle cx="612.1" cy="1045.1" r="1.7"/><circle cx="616.9" cy="993.7" r="1.7"/><circle cx="613.2" cy="963.9" r="1.7"/><circle cx="606.3" cy="1019.2" r="1.7"/><circle cx="624.7" cy="1039.8" r="1.7"/><circle cx="625.3" cy="1041.4" r="1.7"/><circle cx="616.8" cy="989.9" r="1.7"/><circle cx="602.0" cy="1036.5" r="1.7"/><circle cx="623.5" cy="1061.9" r="1.7"/><circle cx="627.0" cy="951.0" r="1.7"/><circle cx="626.3" cy="1039.1" r="1.7"/><circle cx="611.5" cy="1020.1" r="1.7"/><circle cx="623.3" cy="966.5" r="1.7"/><circle cx="609.4" cy="1000.0" r="1.7"/><circle cx="606.7" cy="1064.5" r="1.7"/><circle cx="606.9" cy="1041.1" r="1.7"/><circle cx="610.1" cy="1007.8" r="1.7"/><circle cx="624.8" cy="1044.9" r="1.7"/><circle cx="602.0" cy="1028.6" r="1.7"/><circle cx="616.3" cy="1092.9" r="1.7"/><circle cx="616.4" cy="1086.3" r="1.7"/><circle cx="614.2" cy="1087.6" r="1.7"/><circle cx="616.0" cy="1004.3" r="1.7"/><circle cx="623.8" cy="1044.9" r="1.7"/><circle cx="623.1" cy="946.3" r="1.7"/><circle cx="627.2" cy="959.6" r="1.7"/><circle cx="616.1" cy="1028.7" r="1.7"/><circle cx="622.4" cy="1023.2" r="1.7"/><circle cx="607.8" cy="1051.7" r="1.7"/><circle cx="616.1" cy="1018.8" r="1.7"/><circle cx="610.7" cy="939.7" r="1.7"/><circle cx="612.0" cy="1094.8" r="1.7"/><circle cx="604.4" cy="975.1" r="1.7"/><circle cx="617.5" cy="1011.6" r="1.7"/><circle cx="610.5" cy="983.6" r="1.7"/><circle cx="626.7" cy="1005.2" r="1.7"/><circle cx="616.6" cy="946.3" r="1.7"/><circle cx="618.9" cy="1032.2" r="1.7"/><circle cx="619.6" cy="996.2" r="1.7"/><circle cx="612.0" cy="1000.3" r="1.7"/><circle cx="611.1" cy="997.3" r="1.7"/><circle cx="604.5" cy="1043.5" r="1.7"/><circle cx="606.4" cy="1009.1" r="1.7"/><circle cx="609.7" cy="1038.9" r="1.7"/><circle cx="612.8" cy="1028.2" r="1.7"/><circle cx="615.6" cy="945.5" r="1.7"/><circle cx="612.4" cy="1009.4" r="1.7"/><circle cx="623.1" cy="1009.5" r="1.7"/><circle cx="615.3" cy="1011.4" r="1.7"/><circle cx="606.8" cy="1030.7" r="1.7"/><circle cx="604.3" cy="1045.2" r="1.7"/><circle cx="603.0" cy="1038.6" r="1.7"/><circle cx="616.8" cy="1023.0" r="1.7"/><circle cx="621.6" cy="1062.7" r="1.7"/><circle cx="618.2" cy="1018.7" r="1.7"/><circle cx="622.6" cy="1021.3" r="1.7"/></g>
<g fill="#7AA9F5" fill-opacity="0.45"><circle cx="622.0" cy="1069.6" r="1.7"/><circle cx="625.7" cy="1083.6" r="1.7"/><circle cx="628.5" cy="1062.5" r="1.7"/><circle cx="619.7" cy="1121.3" r="1.7"/><circle cx="621.9" cy="1007.8" r="1.7"/><circle cx="643.1" cy="1118.9" r="1.7"/><circle cx="629.5" cy="1175.3" r="1.7"/><circle cx="636.5" cy="1096.9" r="1.7"/><circle cx="644.2" cy="1059.8" r="1.7"/><circle cx="621.0" cy="1110.8" r="1.7"/><circle cx="619.0" cy="1122.5" r="1.7"/><circle cx="635.0" cy="1116.8" r="1.7"/><circle cx="621.4" cy="1037.4" r="1.7"/><circle cx="642.0" cy="1116.9" r="1.7"/><circle cx="629.2" cy="1079.5" r="1.7"/><circle cx="620.3" cy="1166.1" r="1.7"/><circle cx="634.9" cy="1122.2" r="1.7"/><circle cx="631.9" cy="1172.1" r="1.7"/><circle cx="618.9" cy="1054.7" r="1.7"/><circle cx="629.6" cy="1114.6" r="1.7"/><circle cx="638.0" cy="1077.1" r="1.7"/><circle cx="630.1" cy="1069.7" r="1.7"/><circle cx="635.1" cy="1108.4" r="1.7"/><circle cx="643.0" cy="1093.7" r="1.7"/><circle cx="634.1" cy="1085.7" r="1.7"/><circle cx="631.4" cy="1071.1" r="1.7"/><circle cx="636.1" cy="1089.7" r="1.7"/><circle cx="644.8" cy="1078.2" r="1.7"/><circle cx="631.7" cy="1112.4" r="1.7"/><circle cx="640.0" cy="1012.0" r="1.7"/><circle cx="626.8" cy="1083.0" r="1.7"/><circle cx="629.7" cy="1130.0" r="1.7"/><circle cx="630.1" cy="1097.7" r="1.7"/><circle cx="631.3" cy="1118.4" r="1.7"/><circle cx="621.5" cy="1080.9" r="1.7"/><circle cx="637.3" cy="1071.8" r="1.7"/><circle cx="625.3" cy="1126.2" r="1.7"/><circle cx="631.1" cy="1181.1" r="1.7"/><circle cx="629.6" cy="1070.1" r="1.7"/><circle cx="634.6" cy="1079.3" r="1.7"/><circle cx="620.2" cy="1178.3" r="1.7"/><circle cx="642.9" cy="1088.0" r="1.7"/><circle cx="630.4" cy="1066.8" r="1.7"/><circle cx="622.3" cy="1117.9" r="1.7"/><circle cx="638.7" cy="1073.2" r="1.7"/><circle cx="621.1" cy="1101.8" r="1.7"/><circle cx="637.2" cy="1115.8" r="1.7"/><circle cx="629.3" cy="1061.0" r="1.7"/><circle cx="629.0" cy="1039.3" r="1.7"/><circle cx="624.2" cy="1188.1" r="1.7"/><circle cx="637.2" cy="1038.5" r="1.7"/><circle cx="626.3" cy="1160.1" r="1.7"/><circle cx="631.4" cy="1101.6" r="1.7"/><circle cx="642.8" cy="1187.3" r="1.7"/><circle cx="625.7" cy="1085.5" r="1.7"/><circle cx="633.7" cy="1184.3" r="1.7"/><circle cx="637.5" cy="1026.0" r="1.7"/><circle cx="641.6" cy="1046.4" r="1.7"/><circle cx="620.3" cy="1071.2" r="1.7"/><circle cx="634.0" cy="1111.7" r="1.7"/><circle cx="624.5" cy="1099.0" r="1.7"/><circle cx="641.4" cy="1167.9" r="1.7"/><circle cx="626.6" cy="1071.0" r="1.7"/><circle cx="641.5" cy="1092.4" r="1.7"/><circle cx="635.2" cy="1139.6" r="1.7"/><circle cx="642.4" cy="1120.2" r="1.7"/><circle cx="643.5" cy="1057.5" r="1.7"/><circle cx="632.0" cy="1103.0" r="1.7"/><circle cx="628.0" cy="1110.4" r="1.7"/><circle cx="644.1" cy="1019.3" r="1.7"/><circle cx="642.5" cy="1004.8" r="1.7"/><circle cx="636.0" cy="1090.1" r="1.7"/><circle cx="630.1" cy="1033.6" r="1.7"/><circle cx="639.6" cy="1030.4" r="1.7"/><circle cx="628.2" cy="1115.0" r="1.7"/><circle cx="623.1" cy="1068.5" r="1.7"/><circle cx="623.9" cy="1118.4" r="1.7"/><circle cx="642.5" cy="1152.3" r="1.7"/><circle cx="640.2" cy="1003.5" r="1.7"/><circle cx="638.2" cy="1088.4" r="1.7"/><circle cx="630.3" cy="1068.8" r="1.7"/><circle cx="622.2" cy="1086.6" r="1.7"/><circle cx="627.8" cy="1119.4" r="1.7"/><circle cx="636.0" cy="1106.1" r="1.7"/><circle cx="625.0" cy="1119.5" r="1.7"/><circle cx="639.2" cy="1042.6" r="1.7"/><circle cx="639.1" cy="1026.2" r="1.7"/><circle cx="631.5" cy="1126.3" r="1.7"/><circle cx="639.8" cy="1051.7" r="1.7"/><circle cx="631.4" cy="1120.7" r="1.7"/><circle cx="619.1" cy="1079.3" r="1.7"/><circle cx="638.1" cy="1119.3" r="1.7"/><circle cx="630.5" cy="1071.0" r="1.7"/><circle cx="632.6" cy="1081.2" r="1.7"/><circle cx="621.1" cy="1107.5" r="1.7"/><circle cx="638.9" cy="1063.0" r="1.7"/><circle cx="638.9" cy="1096.7" r="1.7"/><circle cx="636.8" cy="1053.0" r="1.7"/><circle cx="644.0" cy="1056.3" r="1.7"/><circle cx="643.3" cy="1180.4" r="1.7"/><circle cx="639.1" cy="1094.6" r="1.7"/><circle cx="621.4" cy="1063.5" r="1.7"/><circle cx="621.2" cy="1079.6" r="1.7"/><circle cx="627.7" cy="1064.0" r="1.7"/><circle cx="625.9" cy="1103.8" r="1.7"/><circle cx="635.5" cy="1056.1" r="1.7"/><circle cx="638.1" cy="1113.2" r="1.7"/><circle cx="639.7" cy="1128.4" r="1.7"/><circle cx="638.8" cy="1077.6" r="1.7"/><circle cx="644.5" cy="1076.4" r="1.7"/></g>
<line x1="682.7" y1="938.8" x2="682.7" y2="989.3" stroke="#54B54B" stroke-width="3.3" stroke-linecap="butt"/><line x1="682.7" y1="1031.7" x2="682.7" y2="1075.4" stroke="#54B54B" stroke-width="3.3"/><rect x="675.3" y="989.3" width="14.8" height="42.4" fill="#fff" stroke="#54B54B" stroke-width="3.3"/><line x1="675.3" y1="1006.7" x2="690.1" y2="1006.7" stroke="#54B54B" stroke-width="6.0"/>
<line x1="699.6" y1="1013.0" x2="699.6" y2="1073.0" stroke="#71A3F6" stroke-width="3.3" stroke-linecap="butt"/><line x1="699.6" y1="1121.1" x2="699.6" y2="1192.0" stroke="#71A3F6" stroke-width="3.3"/><rect x="692.2" y="1073.0" width="14.8" height="48.1" fill="#fff" stroke="#71A3F6" stroke-width="3.3"/><line x1="692.2" y1="1099.2" x2="707.0" y2="1099.2" stroke="#71A3F6" stroke-width="6.0"/>
<rect x="658.1" y="979.4" width="15.4" height="6.3" fill="#E8786C"/>
<g fill="#5DBB55" fill-opacity="0.45"><circle cx="681.8" cy="993.1" r="1.7"/><circle cx="684.4" cy="1000.4" r="1.7"/><circle cx="677.7" cy="1028.2" r="1.7"/><circle cx="691.0" cy="985.6" r="1.7"/><circle cx="687.5" cy="949.6" r="1.7"/><circle cx="680.0" cy="1006.4" r="1.7"/><circle cx="686.6" cy="992.4" r="1.7"/><circle cx="689.1" cy="955.9" r="1.7"/><circle cx="676.9" cy="1018.3" r="1.7"/><circle cx="690.0" cy="1063.5" r="1.7"/><circle cx="680.0" cy="1013.9" r="1.7"/><circle cx="682.6" cy="1061.6" r="1.7"/><circle cx="676.9" cy="967.4" r="1.7"/><circle cx="689.4" cy="989.8" r="1.7"/><circle cx="685.2" cy="995.5" r="1.7"/><circle cx="687.2" cy="1031.7" r="1.7"/><circle cx="694.8" cy="1000.8" r="1.7"/><circle cx="678.9" cy="1005.6" r="1.7"/><circle cx="685.9" cy="965.5" r="1.7"/><circle cx="686.6" cy="1022.6" r="1.7"/><circle cx="674.6" cy="1041.4" r="1.7"/><circle cx="681.7" cy="970.6" r="1.7"/><circle cx="675.3" cy="985.2" r="1.7"/><circle cx="675.9" cy="1009.6" r="1.7"/><circle cx="685.2" cy="985.2" r="1.7"/><circle cx="679.7" cy="1017.4" r="1.7"/><circle cx="675.2" cy="1033.9" r="1.7"/><circle cx="677.8" cy="993.4" r="1.7"/><circle cx="679.7" cy="1050.1" r="1.7"/><circle cx="695.4" cy="1011.4" r="1.7"/><circle cx="680.2" cy="1018.2" r="1.7"/><circle cx="688.4" cy="947.5" r="1.7"/><circle cx="680.0" cy="1010.8" r="1.7"/><circle cx="673.7" cy="1032.8" r="1.7"/><circle cx="686.4" cy="1009.5" r="1.7"/><circle cx="682.1" cy="1049.8" r="1.7"/><circle cx="685.3" cy="1038.3" r="1.7"/><circle cx="687.0" cy="1022.2" r="1.7"/><circle cx="680.2" cy="987.3" r="1.7"/><circle cx="671.7" cy="1018.4" r="1.7"/><circle cx="685.9" cy="1033.9" r="1.7"/><circle cx="673.3" cy="984.6" r="1.7"/><circle cx="693.5" cy="946.3" r="1.7"/><circle cx="683.7" cy="1020.1" r="1.7"/><circle cx="678.3" cy="994.7" r="1.7"/><circle cx="688.5" cy="1020.1" r="1.7"/><circle cx="681.1" cy="1008.2" r="1.7"/><circle cx="672.7" cy="1002.3" r="1.7"/><circle cx="677.4" cy="1009.6" r="1.7"/><circle cx="683.3" cy="1039.2" r="1.7"/><circle cx="683.4" cy="992.6" r="1.7"/><circle cx="687.1" cy="1006.8" r="1.7"/><circle cx="695.2" cy="1014.5" r="1.7"/><circle cx="669.9" cy="1033.7" r="1.7"/><circle cx="687.8" cy="1001.9" r="1.7"/><circle cx="680.1" cy="1018.5" r="1.7"/><circle cx="676.0" cy="1022.4" r="1.7"/><circle cx="692.1" cy="986.4" r="1.7"/><circle cx="684.4" cy="1028.8" r="1.7"/><circle cx="673.1" cy="1010.7" r="1.7"/><circle cx="683.5" cy="990.4" r="1.7"/><circle cx="693.4" cy="941.8" r="1.7"/><circle cx="676.5" cy="966.2" r="1.7"/><circle cx="690.8" cy="1049.0" r="1.7"/><circle cx="687.6" cy="1049.3" r="1.7"/><circle cx="688.0" cy="1038.0" r="1.7"/><circle cx="672.0" cy="1061.4" r="1.7"/><circle cx="683.1" cy="974.1" r="1.7"/><circle cx="695.0" cy="1011.6" r="1.7"/><circle cx="675.6" cy="987.2" r="1.7"/><circle cx="679.7" cy="992.4" r="1.7"/><circle cx="677.8" cy="1010.3" r="1.7"/><circle cx="677.6" cy="1032.7" r="1.7"/><circle cx="674.6" cy="1029.4" r="1.7"/><circle cx="679.6" cy="972.9" r="1.7"/><circle cx="690.8" cy="1002.5" r="1.7"/><circle cx="673.8" cy="994.3" r="1.7"/><circle cx="693.9" cy="953.1" r="1.7"/><circle cx="678.3" cy="979.6" r="1.7"/><circle cx="686.4" cy="981.1" r="1.7"/><circle cx="679.5" cy="1067.0" r="1.7"/><circle cx="683.9" cy="992.9" r="1.7"/><circle cx="690.3" cy="954.6" r="1.7"/><circle cx="695.2" cy="980.1" r="1.7"/><circle cx="693.3" cy="1022.4" r="1.7"/><circle cx="690.5" cy="1074.7" r="1.7"/><circle cx="682.7" cy="1053.6" r="1.7"/><circle cx="671.6" cy="1012.6" r="1.7"/><circle cx="690.2" cy="997.2" r="1.7"/><circle cx="676.1" cy="1032.9" r="1.7"/><circle cx="683.4" cy="988.4" r="1.7"/><circle cx="677.7" cy="1070.4" r="1.7"/><circle cx="676.9" cy="955.7" r="1.7"/><circle cx="681.4" cy="1027.8" r="1.7"/><circle cx="690.7" cy="970.1" r="1.7"/><circle cx="687.0" cy="1018.2" r="1.7"/><circle cx="671.4" cy="1067.9" r="1.7"/><circle cx="686.2" cy="1019.5" r="1.7"/><circle cx="670.8" cy="1043.4" r="1.7"/><circle cx="674.5" cy="977.0" r="1.7"/><circle cx="671.9" cy="1061.1" r="1.7"/><circle cx="677.1" cy="1055.5" r="1.7"/><circle cx="686.8" cy="1001.2" r="1.7"/><circle cx="683.1" cy="1028.1" r="1.7"/><circle cx="684.8" cy="1023.5" r="1.7"/><circle cx="685.9" cy="1049.2" r="1.7"/><circle cx="693.7" cy="1075.3" r="1.7"/><circle cx="684.1" cy="1034.1" r="1.7"/><circle cx="681.3" cy="1036.3" r="1.7"/><circle cx="686.4" cy="1030.2" r="1.7"/></g>
<g fill="#7AA9F5" fill-opacity="0.45"><circle cx="708.6" cy="1071.1" r="1.7"/><circle cx="698.4" cy="1022.6" r="1.7"/><circle cx="695.7" cy="1094.0" r="1.7"/><circle cx="699.8" cy="1117.8" r="1.7"/><circle cx="688.0" cy="1023.0" r="1.7"/><circle cx="695.0" cy="1073.3" r="1.7"/><circle cx="693.5" cy="1089.0" r="1.7"/><circle cx="699.5" cy="1076.3" r="1.7"/><circle cx="698.2" cy="1115.8" r="1.7"/><circle cx="689.2" cy="1189.9" r="1.7"/><circle cx="688.7" cy="1044.3" r="1.7"/><circle cx="704.0" cy="1108.2" r="1.7"/><circle cx="710.8" cy="1176.3" r="1.7"/><circle cx="711.6" cy="1125.4" r="1.7"/><circle cx="701.8" cy="1105.0" r="1.7"/><circle cx="688.9" cy="1088.3" r="1.7"/><circle cx="706.1" cy="1098.6" r="1.7"/><circle cx="705.7" cy="1069.9" r="1.7"/><circle cx="689.9" cy="1080.3" r="1.7"/><circle cx="699.8" cy="1107.2" r="1.7"/><circle cx="706.5" cy="1174.5" r="1.7"/><circle cx="701.3" cy="1151.7" r="1.7"/><circle cx="690.8" cy="1119.6" r="1.7"/><circle cx="702.7" cy="1030.1" r="1.7"/><circle cx="702.4" cy="1074.8" r="1.7"/><circle cx="709.3" cy="1092.5" r="1.7"/><circle cx="696.4" cy="1165.5" r="1.7"/><circle cx="702.1" cy="1123.6" r="1.7"/><circle cx="710.5" cy="1108.5" r="1.7"/><circle cx="693.6" cy="1122.0" r="1.7"/><circle cx="705.3" cy="1041.4" r="1.7"/><circle cx="696.3" cy="1105.4" r="1.7"/><circle cx="690.5" cy="1074.7" r="1.7"/><circle cx="692.5" cy="1075.9" r="1.7"/><circle cx="688.5" cy="1067.5" r="1.7"/><circle cx="709.0" cy="1042.4" r="1.7"/><circle cx="690.8" cy="1181.3" r="1.7"/><circle cx="707.9" cy="1042.3" r="1.7"/><circle cx="707.4" cy="1117.4" r="1.7"/><circle cx="693.0" cy="1090.8" r="1.7"/><circle cx="697.4" cy="1079.5" r="1.7"/><circle cx="708.7" cy="1139.6" r="1.7"/><circle cx="692.9" cy="1076.4" r="1.7"/><circle cx="704.4" cy="1105.6" r="1.7"/><circle cx="693.3" cy="1110.5" r="1.7"/><circle cx="711.3" cy="1096.4" r="1.7"/><circle cx="693.1" cy="1154.1" r="1.7"/><circle cx="712.2" cy="1100.7" r="1.7"/><circle cx="686.8" cy="1015.8" r="1.7"/><circle cx="690.2" cy="1084.3" r="1.7"/><circle cx="690.1" cy="1125.3" r="1.7"/><circle cx="712.4" cy="1099.2" r="1.7"/><circle cx="696.1" cy="1025.6" r="1.7"/><circle cx="704.5" cy="1047.0" r="1.7"/><circle cx="710.0" cy="1161.4" r="1.7"/><circle cx="712.0" cy="1119.0" r="1.7"/><circle cx="710.0" cy="1142.4" r="1.7"/><circle cx="700.0" cy="1097.9" r="1.7"/><circle cx="699.3" cy="1129.7" r="1.7"/><circle cx="701.1" cy="1072.7" r="1.7"/><circle cx="700.5" cy="1020.4" r="1.7"/><circle cx="690.1" cy="1045.3" r="1.7"/><circle cx="702.2" cy="1074.4" r="1.7"/><circle cx="695.3" cy="1051.2" r="1.7"/><circle cx="707.7" cy="1102.4" r="1.7"/><circle cx="696.3" cy="1120.6" r="1.7"/><circle cx="703.5" cy="1059.9" r="1.7"/><circle cx="687.0" cy="1100.1" r="1.7"/><circle cx="697.4" cy="1072.4" r="1.7"/><circle cx="696.6" cy="1121.7" r="1.7"/><circle cx="708.5" cy="1140.9" r="1.7"/><circle cx="711.7" cy="1068.8" r="1.7"/><circle cx="690.8" cy="1081.0" r="1.7"/><circle cx="712.5" cy="1106.0" r="1.7"/><circle cx="695.5" cy="1191.6" r="1.7"/><circle cx="691.0" cy="1137.7" r="1.7"/><circle cx="702.7" cy="1118.9" r="1.7"/><circle cx="709.1" cy="1164.0" r="1.7"/><circle cx="691.1" cy="1105.3" r="1.7"/><circle cx="700.2" cy="1152.0" r="1.7"/><circle cx="699.6" cy="1112.4" r="1.7"/><circle cx="695.8" cy="1149.8" r="1.7"/><circle cx="688.8" cy="1098.6" r="1.7"/><circle cx="708.5" cy="1099.0" r="1.7"/><circle cx="690.0" cy="1089.8" r="1.7"/><circle cx="688.8" cy="1085.4" r="1.7"/><circle cx="686.8" cy="1139.6" r="1.7"/><circle cx="691.2" cy="1096.0" r="1.7"/><circle cx="689.7" cy="1118.6" r="1.7"/><circle cx="690.4" cy="1047.9" r="1.7"/><circle cx="707.6" cy="1080.9" r="1.7"/><circle cx="701.7" cy="1103.6" r="1.7"/><circle cx="707.9" cy="1113.8" r="1.7"/><circle cx="688.6" cy="1079.7" r="1.7"/><circle cx="690.3" cy="1077.8" r="1.7"/><circle cx="691.4" cy="1100.9" r="1.7"/><circle cx="703.6" cy="1100.6" r="1.7"/><circle cx="695.1" cy="1074.7" r="1.7"/><circle cx="698.3" cy="1168.9" r="1.7"/><circle cx="701.0" cy="1042.3" r="1.7"/><circle cx="706.5" cy="1086.7" r="1.7"/><circle cx="711.3" cy="1084.7" r="1.7"/><circle cx="705.8" cy="1029.4" r="1.7"/><circle cx="690.3" cy="1067.3" r="1.7"/><circle cx="705.1" cy="1119.8" r="1.7"/><circle cx="709.0" cy="1090.8" r="1.7"/><circle cx="695.2" cy="1071.6" r="1.7"/><circle cx="703.7" cy="1132.2" r="1.7"/><circle cx="699.5" cy="1148.8" r="1.7"/><circle cx="697.0" cy="1118.8" r="1.7"/></g>
<line x1="750.5" y1="1097.0" x2="750.5" y2="1105.0" stroke="#54B54B" stroke-width="3.3" stroke-linecap="butt"/><line x1="750.5" y1="1112.0" x2="750.5" y2="1120.0" stroke="#54B54B" stroke-width="3.3"/><rect x="743.1" y="1105.0" width="14.8" height="7.0" fill="#fff" stroke="#54B54B" stroke-width="3.3"/><line x1="743.1" y1="1108.8" x2="757.9" y2="1108.8" stroke="#54B54B" stroke-width="6.0"/>
<line x1="767.4" y1="974.7" x2="767.4" y2="990.0" stroke="#71A3F6" stroke-width="3.3" stroke-linecap="butt"/><line x1="767.4" y1="1006.1" x2="767.4" y2="1025.8" stroke="#71A3F6" stroke-width="3.3"/><rect x="760.0" y="990.0" width="14.8" height="16.1" fill="#fff" stroke="#71A3F6" stroke-width="3.3"/><line x1="760.0" y1="999.0" x2="774.8" y2="999.0" stroke="#71A3F6" stroke-width="6.0"/>
<rect x="725.9" y="1121.0" width="15.4" height="6.3" fill="#E8786C"/>
<g fill="#5DBB55" fill-opacity="0.45"><circle cx="753.9" cy="1106.5" r="1.7"/><circle cx="739.0" cy="1107.0" r="1.7"/><circle cx="755.8" cy="1101.7" r="1.7"/><circle cx="753.4" cy="1101.2" r="1.7"/><circle cx="760.5" cy="1106.6" r="1.7"/><circle cx="753.9" cy="1105.1" r="1.7"/><circle cx="738.1" cy="1118.1" r="1.7"/><circle cx="759.5" cy="1105.5" r="1.7"/><circle cx="742.9" cy="1110.3" r="1.7"/><circle cx="759.3" cy="1109.6" r="1.7"/><circle cx="740.8" cy="1105.0" r="1.7"/><circle cx="742.9" cy="1112.6" r="1.7"/><circle cx="744.0" cy="1105.1" r="1.7"/><circle cx="748.2" cy="1101.9" r="1.7"/><circle cx="748.3" cy="1112.7" r="1.7"/><circle cx="760.3" cy="1114.2" r="1.7"/><circle cx="748.3" cy="1118.8" r="1.7"/><circle cx="738.4" cy="1110.4" r="1.7"/><circle cx="763.2" cy="1112.2" r="1.7"/><circle cx="748.4" cy="1102.9" r="1.7"/><circle cx="761.1" cy="1102.4" r="1.7"/><circle cx="756.3" cy="1102.9" r="1.7"/><circle cx="750.7" cy="1107.8" r="1.7"/><circle cx="753.1" cy="1105.5" r="1.7"/><circle cx="742.1" cy="1098.3" r="1.7"/><circle cx="757.1" cy="1101.5" r="1.7"/><circle cx="759.5" cy="1109.5" r="1.7"/><circle cx="747.6" cy="1111.5" r="1.7"/><circle cx="762.7" cy="1107.6" r="1.7"/><circle cx="759.5" cy="1112.0" r="1.7"/><circle cx="761.4" cy="1106.4" r="1.7"/><circle cx="754.7" cy="1111.4" r="1.7"/><circle cx="760.4" cy="1101.9" r="1.7"/><circle cx="759.3" cy="1105.8" r="1.7"/><circle cx="751.8" cy="1106.8" r="1.7"/><circle cx="750.9" cy="1112.8" r="1.7"/><circle cx="762.0" cy="1098.1" r="1.7"/><circle cx="745.3" cy="1118.0" r="1.7"/><circle cx="759.3" cy="1112.1" r="1.7"/><circle cx="757.4" cy="1113.0" r="1.7"/><circle cx="746.3" cy="1112.7" r="1.7"/><circle cx="740.7" cy="1098.4" r="1.7"/><circle cx="744.6" cy="1107.6" r="1.7"/><circle cx="739.2" cy="1105.0" r="1.7"/><circle cx="744.1" cy="1106.1" r="1.7"/><circle cx="746.0" cy="1099.1" r="1.7"/><circle cx="738.2" cy="1106.2" r="1.7"/><circle cx="753.9" cy="1099.9" r="1.7"/><circle cx="756.8" cy="1100.9" r="1.7"/><circle cx="756.8" cy="1117.1" r="1.7"/><circle cx="742.7" cy="1110.3" r="1.7"/><circle cx="754.7" cy="1101.8" r="1.7"/><circle cx="739.3" cy="1110.7" r="1.7"/><circle cx="739.0" cy="1106.5" r="1.7"/><circle cx="738.7" cy="1112.1" r="1.7"/><circle cx="756.9" cy="1113.2" r="1.7"/><circle cx="763.1" cy="1111.8" r="1.7"/><circle cx="758.2" cy="1111.6" r="1.7"/><circle cx="754.2" cy="1105.2" r="1.7"/><circle cx="741.1" cy="1107.2" r="1.7"/><circle cx="761.4" cy="1103.7" r="1.7"/><circle cx="742.3" cy="1108.3" r="1.7"/><circle cx="744.1" cy="1116.1" r="1.7"/><circle cx="745.7" cy="1098.4" r="1.7"/><circle cx="751.1" cy="1111.6" r="1.7"/><circle cx="758.0" cy="1118.3" r="1.7"/><circle cx="745.4" cy="1104.7" r="1.7"/><circle cx="760.8" cy="1118.5" r="1.7"/><circle cx="757.3" cy="1104.2" r="1.7"/><circle cx="762.3" cy="1112.4" r="1.7"/><circle cx="738.3" cy="1106.7" r="1.7"/><circle cx="755.6" cy="1097.9" r="1.7"/><circle cx="760.6" cy="1112.9" r="1.7"/><circle cx="754.0" cy="1107.3" r="1.7"/><circle cx="743.0" cy="1118.6" r="1.7"/><circle cx="737.8" cy="1104.5" r="1.7"/><circle cx="739.3" cy="1112.7" r="1.7"/><circle cx="741.0" cy="1107.5" r="1.7"/><circle cx="749.2" cy="1104.7" r="1.7"/><circle cx="761.2" cy="1104.7" r="1.7"/><circle cx="742.4" cy="1098.4" r="1.7"/><circle cx="758.1" cy="1110.5" r="1.7"/><circle cx="761.8" cy="1110.9" r="1.7"/><circle cx="753.7" cy="1110.9" r="1.7"/><circle cx="756.2" cy="1111.9" r="1.7"/><circle cx="748.4" cy="1111.6" r="1.7"/><circle cx="759.0" cy="1105.4" r="1.7"/><circle cx="742.0" cy="1114.1" r="1.7"/><circle cx="757.4" cy="1112.4" r="1.7"/><circle cx="756.1" cy="1106.2" r="1.7"/><circle cx="743.5" cy="1104.2" r="1.7"/><circle cx="737.6" cy="1108.8" r="1.7"/><circle cx="753.1" cy="1110.7" r="1.7"/><circle cx="758.1" cy="1111.9" r="1.7"/><circle cx="748.9" cy="1112.4" r="1.7"/><circle cx="743.2" cy="1106.0" r="1.7"/><circle cx="747.9" cy="1106.3" r="1.7"/><circle cx="740.2" cy="1117.7" r="1.7"/><circle cx="758.8" cy="1106.5" r="1.7"/><circle cx="759.9" cy="1106.1" r="1.7"/><circle cx="757.7" cy="1106.3" r="1.7"/><circle cx="752.9" cy="1103.5" r="1.7"/><circle cx="741.6" cy="1108.3" r="1.7"/><circle cx="739.7" cy="1112.1" r="1.7"/><circle cx="747.6" cy="1115.1" r="1.7"/><circle cx="752.1" cy="1111.5" r="1.7"/><circle cx="744.4" cy="1103.8" r="1.7"/><circle cx="759.1" cy="1101.7" r="1.7"/><circle cx="752.8" cy="1112.8" r="1.7"/><circle cx="739.1" cy="1112.7" r="1.7"/></g>
<g fill="#7AA9F5" fill-opacity="0.45"><circle cx="759.7" cy="1006.8" r="1.7"/><circle cx="755.0" cy="1024.9" r="1.7"/><circle cx="776.8" cy="988.6" r="1.7"/><circle cx="756.3" cy="985.7" r="1.7"/><circle cx="776.6" cy="1022.9" r="1.7"/><circle cx="763.3" cy="1002.6" r="1.7"/><circle cx="768.1" cy="991.8" r="1.7"/><circle cx="758.3" cy="1003.8" r="1.7"/><circle cx="772.9" cy="1013.5" r="1.7"/><circle cx="755.3" cy="982.8" r="1.7"/><circle cx="768.0" cy="1006.6" r="1.7"/><circle cx="767.1" cy="1005.6" r="1.7"/><circle cx="761.2" cy="998.9" r="1.7"/><circle cx="765.2" cy="1013.3" r="1.7"/><circle cx="757.9" cy="988.4" r="1.7"/><circle cx="775.4" cy="997.6" r="1.7"/><circle cx="763.4" cy="996.5" r="1.7"/><circle cx="774.7" cy="981.1" r="1.7"/><circle cx="762.1" cy="975.0" r="1.7"/><circle cx="766.1" cy="999.5" r="1.7"/><circle cx="770.5" cy="987.0" r="1.7"/><circle cx="767.7" cy="997.2" r="1.7"/><circle cx="763.5" cy="983.9" r="1.7"/><circle cx="758.9" cy="1012.1" r="1.7"/><circle cx="756.8" cy="1006.2" r="1.7"/><circle cx="768.8" cy="976.9" r="1.7"/><circle cx="766.2" cy="988.9" r="1.7"/><circle cx="760.2" cy="998.2" r="1.7"/><circle cx="765.3" cy="983.9" r="1.7"/><circle cx="773.7" cy="1001.7" r="1.7"/><circle cx="780.3" cy="985.4" r="1.7"/><circle cx="765.4" cy="999.5" r="1.7"/><circle cx="765.4" cy="987.7" r="1.7"/><circle cx="766.8" cy="1007.5" r="1.7"/><circle cx="761.0" cy="1004.5" r="1.7"/><circle cx="763.4" cy="989.7" r="1.7"/><circle cx="762.2" cy="994.5" r="1.7"/><circle cx="774.7" cy="1013.5" r="1.7"/><circle cx="772.7" cy="989.6" r="1.7"/><circle cx="758.9" cy="995.0" r="1.7"/><circle cx="776.0" cy="998.9" r="1.7"/><circle cx="769.7" cy="989.4" r="1.7"/><circle cx="758.8" cy="994.3" r="1.7"/><circle cx="776.3" cy="1019.3" r="1.7"/><circle cx="760.9" cy="1023.5" r="1.7"/><circle cx="772.6" cy="1001.8" r="1.7"/><circle cx="776.9" cy="991.9" r="1.7"/><circle cx="761.4" cy="981.0" r="1.7"/><circle cx="757.5" cy="1006.1" r="1.7"/><circle cx="757.0" cy="1003.8" r="1.7"/><circle cx="769.3" cy="978.3" r="1.7"/><circle cx="755.8" cy="999.3" r="1.7"/><circle cx="760.7" cy="982.4" r="1.7"/><circle cx="759.7" cy="989.7" r="1.7"/><circle cx="757.9" cy="1005.5" r="1.7"/><circle cx="761.7" cy="997.7" r="1.7"/><circle cx="772.9" cy="996.4" r="1.7"/><circle cx="757.8" cy="1006.6" r="1.7"/><circle cx="764.7" cy="998.4" r="1.7"/><circle cx="763.9" cy="1000.5" r="1.7"/><circle cx="757.5" cy="1009.6" r="1.7"/><circle cx="770.8" cy="990.8" r="1.7"/><circle cx="771.0" cy="992.2" r="1.7"/><circle cx="759.5" cy="998.5" r="1.7"/><circle cx="768.2" cy="982.2" r="1.7"/><circle cx="761.1" cy="1000.2" r="1.7"/><circle cx="779.9" cy="1002.5" r="1.7"/><circle cx="775.3" cy="1001.7" r="1.7"/><circle cx="769.9" cy="1012.7" r="1.7"/><circle cx="760.4" cy="1005.5" r="1.7"/><circle cx="764.7" cy="1004.6" r="1.7"/><circle cx="764.9" cy="993.8" r="1.7"/><circle cx="758.4" cy="985.8" r="1.7"/><circle cx="765.7" cy="986.2" r="1.7"/><circle cx="764.6" cy="989.1" r="1.7"/><circle cx="777.6" cy="1005.9" r="1.7"/><circle cx="773.1" cy="994.1" r="1.7"/><circle cx="772.8" cy="998.2" r="1.7"/><circle cx="773.6" cy="978.7" r="1.7"/><circle cx="763.4" cy="977.6" r="1.7"/><circle cx="777.3" cy="1004.7" r="1.7"/><circle cx="777.5" cy="987.3" r="1.7"/><circle cx="765.1" cy="1000.8" r="1.7"/><circle cx="759.6" cy="979.5" r="1.7"/><circle cx="758.8" cy="1009.5" r="1.7"/><circle cx="765.2" cy="1004.6" r="1.7"/><circle cx="766.3" cy="1002.3" r="1.7"/><circle cx="763.2" cy="1021.5" r="1.7"/><circle cx="755.8" cy="998.7" r="1.7"/><circle cx="777.9" cy="999.5" r="1.7"/><circle cx="778.9" cy="993.5" r="1.7"/><circle cx="767.2" cy="985.9" r="1.7"/><circle cx="755.9" cy="1023.2" r="1.7"/><circle cx="776.3" cy="996.3" r="1.7"/><circle cx="757.8" cy="1003.8" r="1.7"/><circle cx="768.4" cy="989.9" r="1.7"/><circle cx="757.7" cy="999.9" r="1.7"/><circle cx="769.3" cy="997.1" r="1.7"/><circle cx="777.8" cy="991.4" r="1.7"/><circle cx="776.0" cy="1017.2" r="1.7"/><circle cx="765.2" cy="1004.1" r="1.7"/><circle cx="775.3" cy="1003.4" r="1.7"/><circle cx="756.2" cy="1000.7" r="1.7"/><circle cx="758.2" cy="999.7" r="1.7"/><circle cx="755.7" cy="1023.8" r="1.7"/><circle cx="766.1" cy="1002.4" r="1.7"/><circle cx="757.9" cy="1025.7" r="1.7"/><circle cx="768.5" cy="983.1" r="1.7"/><circle cx="768.5" cy="976.6" r="1.7"/><circle cx="772.3" cy="978.9" r="1.7"/></g>
<line x1="818.2" y1="981.0" x2="818.2" y2="992.6" stroke="#54B54B" stroke-width="3.3" stroke-linecap="butt"/><line x1="818.2" y1="1006.6" x2="818.2" y2="1016.8" stroke="#54B54B" stroke-width="3.3"/><rect x="810.8" y="992.6" width="14.8" height="14.0" fill="#fff" stroke="#54B54B" stroke-width="3.3"/><line x1="810.8" y1="999.0" x2="825.6" y2="999.0" stroke="#54B54B" stroke-width="6.0"/>
<line x1="835.1" y1="1075.1" x2="835.1" y2="1101.2" stroke="#71A3F6" stroke-width="3.3" stroke-linecap="butt"/><line x1="835.1" y1="1119.0" x2="835.1" y2="1135.7" stroke="#71A3F6" stroke-width="3.3"/><rect x="827.7" y="1101.2" width="14.8" height="17.8" fill="#fff" stroke="#71A3F6" stroke-width="3.3"/><line x1="827.7" y1="1108.8" x2="842.5" y2="1108.8" stroke="#71A3F6" stroke-width="6.0"/>
<rect x="793.6" y="979.8" width="15.4" height="6.3" fill="#E8786C"/>
<g fill="#5DBB55" fill-opacity="0.45"><circle cx="806.5" cy="1002.4" r="1.7"/><circle cx="825.8" cy="1009.0" r="1.7"/><circle cx="812.9" cy="994.8" r="1.7"/><circle cx="821.8" cy="1008.5" r="1.7"/><circle cx="811.7" cy="985.8" r="1.7"/><circle cx="819.1" cy="981.2" r="1.7"/><circle cx="809.9" cy="1007.2" r="1.7"/><circle cx="829.3" cy="993.6" r="1.7"/><circle cx="811.4" cy="1007.3" r="1.7"/><circle cx="810.6" cy="1009.2" r="1.7"/><circle cx="816.1" cy="1006.8" r="1.7"/><circle cx="822.4" cy="1006.7" r="1.7"/><circle cx="812.1" cy="1006.7" r="1.7"/><circle cx="809.6" cy="1001.5" r="1.7"/><circle cx="807.6" cy="1013.7" r="1.7"/><circle cx="822.7" cy="1016.5" r="1.7"/><circle cx="817.7" cy="1013.8" r="1.7"/><circle cx="821.2" cy="988.1" r="1.7"/><circle cx="815.7" cy="1004.9" r="1.7"/><circle cx="813.5" cy="1001.2" r="1.7"/><circle cx="809.3" cy="1013.5" r="1.7"/><circle cx="810.6" cy="1009.2" r="1.7"/><circle cx="807.9" cy="1004.1" r="1.7"/><circle cx="810.4" cy="996.0" r="1.7"/><circle cx="823.2" cy="998.7" r="1.7"/><circle cx="824.5" cy="999.1" r="1.7"/><circle cx="816.8" cy="992.2" r="1.7"/><circle cx="806.3" cy="1007.1" r="1.7"/><circle cx="814.8" cy="994.1" r="1.7"/><circle cx="807.4" cy="1005.4" r="1.7"/><circle cx="828.4" cy="1007.9" r="1.7"/><circle cx="827.2" cy="999.8" r="1.7"/><circle cx="811.7" cy="990.2" r="1.7"/><circle cx="828.3" cy="1006.8" r="1.7"/><circle cx="820.8" cy="1006.7" r="1.7"/><circle cx="817.3" cy="985.3" r="1.7"/><circle cx="830.1" cy="1001.3" r="1.7"/><circle cx="829.3" cy="989.3" r="1.7"/><circle cx="811.0" cy="993.7" r="1.7"/><circle cx="805.8" cy="1013.8" r="1.7"/><circle cx="819.3" cy="986.2" r="1.7"/><circle cx="830.1" cy="988.4" r="1.7"/><circle cx="830.4" cy="1006.7" r="1.7"/><circle cx="809.9" cy="1005.9" r="1.7"/><circle cx="831.1" cy="1005.9" r="1.7"/><circle cx="814.4" cy="985.1" r="1.7"/><circle cx="826.6" cy="999.5" r="1.7"/><circle cx="828.5" cy="991.6" r="1.7"/><circle cx="811.2" cy="1003.2" r="1.7"/><circle cx="829.5" cy="998.7" r="1.7"/><circle cx="827.9" cy="996.1" r="1.7"/><circle cx="818.4" cy="1007.5" r="1.7"/><circle cx="820.0" cy="986.5" r="1.7"/><circle cx="826.2" cy="991.9" r="1.7"/><circle cx="823.1" cy="1000.7" r="1.7"/><circle cx="816.6" cy="994.1" r="1.7"/><circle cx="826.3" cy="998.5" r="1.7"/><circle cx="830.9" cy="988.4" r="1.7"/><circle cx="822.8" cy="1003.0" r="1.7"/><circle cx="827.3" cy="997.7" r="1.7"/><circle cx="817.3" cy="1006.7" r="1.7"/><circle cx="826.1" cy="1006.4" r="1.7"/><circle cx="805.4" cy="993.6" r="1.7"/><circle cx="808.9" cy="1010.7" r="1.7"/><circle cx="825.4" cy="996.7" r="1.7"/><circle cx="807.3" cy="1003.7" r="1.7"/><circle cx="821.2" cy="996.8" r="1.7"/><circle cx="812.2" cy="1001.1" r="1.7"/><circle cx="811.2" cy="1003.7" r="1.7"/><circle cx="815.1" cy="991.3" r="1.7"/><circle cx="819.5" cy="993.5" r="1.7"/><circle cx="812.5" cy="1006.8" r="1.7"/><circle cx="827.6" cy="994.6" r="1.7"/><circle cx="809.2" cy="986.5" r="1.7"/><circle cx="807.8" cy="1006.3" r="1.7"/><circle cx="815.2" cy="1007.7" r="1.7"/><circle cx="829.0" cy="993.4" r="1.7"/><circle cx="809.0" cy="996.7" r="1.7"/><circle cx="808.9" cy="1002.8" r="1.7"/><circle cx="820.1" cy="1005.7" r="1.7"/><circle cx="809.7" cy="999.0" r="1.7"/><circle cx="828.5" cy="1005.8" r="1.7"/><circle cx="820.8" cy="995.7" r="1.7"/><circle cx="813.0" cy="1004.4" r="1.7"/><circle cx="805.6" cy="992.5" r="1.7"/><circle cx="830.1" cy="995.1" r="1.7"/><circle cx="806.5" cy="995.5" r="1.7"/><circle cx="825.6" cy="1014.7" r="1.7"/><circle cx="816.2" cy="1007.8" r="1.7"/><circle cx="822.8" cy="995.1" r="1.7"/><circle cx="822.9" cy="1005.4" r="1.7"/><circle cx="817.4" cy="986.7" r="1.7"/><circle cx="823.0" cy="1002.2" r="1.7"/><circle cx="823.1" cy="988.9" r="1.7"/><circle cx="825.5" cy="985.9" r="1.7"/><circle cx="811.7" cy="984.0" r="1.7"/><circle cx="810.6" cy="994.6" r="1.7"/><circle cx="814.1" cy="1010.3" r="1.7"/><circle cx="812.9" cy="984.8" r="1.7"/><circle cx="829.3" cy="1004.8" r="1.7"/><circle cx="824.9" cy="982.3" r="1.7"/><circle cx="826.6" cy="1003.5" r="1.7"/><circle cx="805.5" cy="1012.9" r="1.7"/><circle cx="813.9" cy="1013.0" r="1.7"/><circle cx="827.5" cy="1006.6" r="1.7"/><circle cx="827.3" cy="1000.6" r="1.7"/><circle cx="814.9" cy="999.4" r="1.7"/><circle cx="806.4" cy="1003.9" r="1.7"/><circle cx="829.9" cy="1000.4" r="1.7"/><circle cx="829.4" cy="983.0" r="1.7"/></g>
<g fill="#7AA9F5" fill-opacity="0.45"><circle cx="833.6" cy="1126.5" r="1.7"/><circle cx="826.1" cy="1096.6" r="1.7"/><circle cx="827.5" cy="1129.3" r="1.7"/><circle cx="841.3" cy="1127.7" r="1.7"/><circle cx="847.8" cy="1102.3" r="1.7"/><circle cx="840.4" cy="1130.6" r="1.7"/><circle cx="826.7" cy="1099.6" r="1.7"/><circle cx="847.6" cy="1128.1" r="1.7"/><circle cx="823.9" cy="1099.8" r="1.7"/><circle cx="839.2" cy="1120.8" r="1.7"/><circle cx="833.4" cy="1121.6" r="1.7"/><circle cx="824.5" cy="1122.9" r="1.7"/><circle cx="836.2" cy="1109.4" r="1.7"/><circle cx="822.2" cy="1095.5" r="1.7"/><circle cx="824.0" cy="1114.7" r="1.7"/><circle cx="826.4" cy="1107.2" r="1.7"/><circle cx="847.3" cy="1115.7" r="1.7"/><circle cx="839.5" cy="1104.3" r="1.7"/><circle cx="827.3" cy="1105.6" r="1.7"/><circle cx="847.3" cy="1103.2" r="1.7"/><circle cx="843.9" cy="1127.2" r="1.7"/><circle cx="827.3" cy="1115.2" r="1.7"/><circle cx="844.2" cy="1104.1" r="1.7"/><circle cx="827.2" cy="1121.9" r="1.7"/><circle cx="827.4" cy="1108.8" r="1.7"/><circle cx="847.8" cy="1108.6" r="1.7"/><circle cx="833.2" cy="1133.0" r="1.7"/><circle cx="826.4" cy="1120.2" r="1.7"/><circle cx="846.7" cy="1106.1" r="1.7"/><circle cx="836.6" cy="1110.0" r="1.7"/><circle cx="844.4" cy="1102.7" r="1.7"/><circle cx="830.8" cy="1080.4" r="1.7"/><circle cx="845.9" cy="1121.3" r="1.7"/><circle cx="845.1" cy="1105.6" r="1.7"/><circle cx="842.6" cy="1123.1" r="1.7"/><circle cx="825.5" cy="1125.0" r="1.7"/><circle cx="831.5" cy="1124.8" r="1.7"/><circle cx="839.2" cy="1112.3" r="1.7"/><circle cx="833.3" cy="1084.7" r="1.7"/><circle cx="832.8" cy="1106.4" r="1.7"/><circle cx="829.0" cy="1113.6" r="1.7"/><circle cx="828.7" cy="1135.2" r="1.7"/><circle cx="842.9" cy="1102.0" r="1.7"/><circle cx="833.6" cy="1103.1" r="1.7"/><circle cx="827.0" cy="1112.4" r="1.7"/><circle cx="848.0" cy="1119.1" r="1.7"/><circle cx="832.6" cy="1106.1" r="1.7"/><circle cx="834.9" cy="1107.7" r="1.7"/><circle cx="833.0" cy="1117.2" r="1.7"/><circle cx="845.5" cy="1111.6" r="1.7"/><circle cx="829.6" cy="1090.8" r="1.7"/><circle cx="827.9" cy="1110.6" r="1.7"/><circle cx="825.6" cy="1082.5" r="1.7"/><circle cx="822.4" cy="1109.6" r="1.7"/><circle cx="834.1" cy="1110.4" r="1.7"/><circle cx="826.0" cy="1134.2" r="1.7"/><circle cx="834.4" cy="1108.8" r="1.7"/><circle cx="823.5" cy="1116.8" r="1.7"/><circle cx="831.1" cy="1116.0" r="1.7"/><circle cx="837.7" cy="1126.1" r="1.7"/><circle cx="835.9" cy="1119.6" r="1.7"/><circle cx="822.5" cy="1102.4" r="1.7"/><circle cx="838.7" cy="1108.9" r="1.7"/><circle cx="840.0" cy="1090.4" r="1.7"/><circle cx="839.3" cy="1096.3" r="1.7"/><circle cx="843.2" cy="1119.4" r="1.7"/><circle cx="834.8" cy="1101.1" r="1.7"/><circle cx="823.4" cy="1086.4" r="1.7"/><circle cx="831.4" cy="1088.7" r="1.7"/><circle cx="842.8" cy="1107.5" r="1.7"/><circle cx="835.0" cy="1121.9" r="1.7"/><circle cx="823.0" cy="1134.1" r="1.7"/><circle cx="827.8" cy="1082.0" r="1.7"/><circle cx="825.2" cy="1111.8" r="1.7"/><circle cx="835.3" cy="1085.5" r="1.7"/><circle cx="829.2" cy="1094.7" r="1.7"/><circle cx="828.5" cy="1110.3" r="1.7"/><circle cx="840.5" cy="1106.1" r="1.7"/><circle cx="837.3" cy="1106.6" r="1.7"/><circle cx="846.9" cy="1116.5" r="1.7"/><circle cx="826.4" cy="1133.7" r="1.7"/><circle cx="847.4" cy="1103.7" r="1.7"/><circle cx="828.5" cy="1095.4" r="1.7"/><circle cx="834.0" cy="1083.9" r="1.7"/><circle cx="838.9" cy="1106.6" r="1.7"/><circle cx="845.0" cy="1105.2" r="1.7"/><circle cx="830.3" cy="1089.8" r="1.7"/><circle cx="830.3" cy="1090.6" r="1.7"/><circle cx="826.2" cy="1103.2" r="1.7"/><circle cx="829.9" cy="1104.6" r="1.7"/><circle cx="839.4" cy="1076.0" r="1.7"/><circle cx="847.1" cy="1113.4" r="1.7"/><circle cx="841.5" cy="1125.2" r="1.7"/><circle cx="822.5" cy="1104.3" r="1.7"/><circle cx="825.1" cy="1110.4" r="1.7"/><circle cx="824.7" cy="1075.1" r="1.7"/><circle cx="836.2" cy="1104.7" r="1.7"/><circle cx="846.4" cy="1124.5" r="1.7"/><circle cx="838.2" cy="1106.6" r="1.7"/><circle cx="826.1" cy="1118.5" r="1.7"/><circle cx="823.0" cy="1115.9" r="1.7"/><circle cx="835.0" cy="1120.2" r="1.7"/><circle cx="841.9" cy="1113.3" r="1.7"/><circle cx="827.5" cy="1123.4" r="1.7"/><circle cx="840.0" cy="1108.1" r="1.7"/><circle cx="827.5" cy="1116.4" r="1.7"/><circle cx="831.6" cy="1124.5" r="1.7"/><circle cx="842.8" cy="1113.7" r="1.7"/><circle cx="831.0" cy="1119.1" r="1.7"/><circle cx="827.5" cy="1101.3" r="1.7"/></g>
<line x1="886.0" y1="935.1" x2="886.0" y2="983.1" stroke="#54B54B" stroke-width="3.3" stroke-linecap="butt"/><line x1="886.0" y1="1025.8" x2="886.0" y2="1069.2" stroke="#54B54B" stroke-width="3.3"/><rect x="878.6" y="983.1" width="14.8" height="42.7" fill="#fff" stroke="#54B54B" stroke-width="3.3"/><line x1="878.6" y1="1005.4" x2="893.4" y2="1005.4" stroke="#54B54B" stroke-width="6.0"/>
<line x1="902.9" y1="1085.8" x2="902.9" y2="1101.2" stroke="#71A3F6" stroke-width="3.3" stroke-linecap="butt"/><line x1="902.9" y1="1113.9" x2="902.9" y2="1121.6" stroke="#71A3F6" stroke-width="3.3"/><rect x="895.5" y="1101.2" width="14.8" height="12.7" fill="#fff" stroke="#71A3F6" stroke-width="3.3"/><line x1="895.5" y1="1107.5" x2="910.2" y2="1107.5" stroke="#71A3F6" stroke-width="6.0"/>
<rect x="861.4" y="890.6" width="15.4" height="6.3" fill="#E8786C"/>
<g fill="#5DBB55" fill-opacity="0.45"><circle cx="898.2" cy="1059.0" r="1.7"/><circle cx="881.2" cy="958.5" r="1.7"/><circle cx="884.9" cy="1023.1" r="1.7"/><circle cx="893.4" cy="1028.1" r="1.7"/><circle cx="891.5" cy="965.2" r="1.7"/><circle cx="894.8" cy="1013.6" r="1.7"/><circle cx="877.7" cy="953.1" r="1.7"/><circle cx="877.4" cy="990.4" r="1.7"/><circle cx="893.6" cy="939.3" r="1.7"/><circle cx="892.2" cy="1012.8" r="1.7"/><circle cx="874.6" cy="1022.3" r="1.7"/><circle cx="874.9" cy="1004.2" r="1.7"/><circle cx="895.1" cy="1008.9" r="1.7"/><circle cx="879.9" cy="998.5" r="1.7"/><circle cx="887.5" cy="1027.9" r="1.7"/><circle cx="896.4" cy="1004.6" r="1.7"/><circle cx="885.1" cy="1032.6" r="1.7"/><circle cx="882.7" cy="1009.7" r="1.7"/><circle cx="882.9" cy="1030.7" r="1.7"/><circle cx="878.0" cy="1001.6" r="1.7"/><circle cx="886.6" cy="1020.0" r="1.7"/><circle cx="885.5" cy="952.2" r="1.7"/><circle cx="873.8" cy="1017.9" r="1.7"/><circle cx="881.9" cy="1003.8" r="1.7"/><circle cx="885.3" cy="1041.8" r="1.7"/><circle cx="882.1" cy="995.0" r="1.7"/><circle cx="889.4" cy="984.4" r="1.7"/><circle cx="874.2" cy="1053.1" r="1.7"/><circle cx="888.7" cy="1003.1" r="1.7"/><circle cx="878.9" cy="1000.3" r="1.7"/><circle cx="891.6" cy="1018.1" r="1.7"/><circle cx="886.7" cy="1013.8" r="1.7"/><circle cx="889.3" cy="1026.7" r="1.7"/><circle cx="873.0" cy="1007.1" r="1.7"/><circle cx="893.8" cy="983.0" r="1.7"/><circle cx="897.5" cy="939.0" r="1.7"/><circle cx="885.1" cy="987.4" r="1.7"/><circle cx="891.2" cy="1024.5" r="1.7"/><circle cx="881.3" cy="1012.0" r="1.7"/><circle cx="888.7" cy="1041.6" r="1.7"/><circle cx="893.0" cy="986.6" r="1.7"/><circle cx="878.3" cy="1035.4" r="1.7"/><circle cx="876.3" cy="993.2" r="1.7"/><circle cx="897.1" cy="964.9" r="1.7"/><circle cx="879.7" cy="993.7" r="1.7"/><circle cx="892.9" cy="999.8" r="1.7"/><circle cx="889.8" cy="1018.1" r="1.7"/><circle cx="896.6" cy="996.4" r="1.7"/><circle cx="890.3" cy="981.8" r="1.7"/><circle cx="896.1" cy="1001.4" r="1.7"/><circle cx="890.9" cy="996.2" r="1.7"/><circle cx="875.7" cy="1020.9" r="1.7"/><circle cx="878.7" cy="1000.2" r="1.7"/><circle cx="878.7" cy="944.1" r="1.7"/><circle cx="881.6" cy="962.9" r="1.7"/><circle cx="888.0" cy="1030.0" r="1.7"/><circle cx="898.8" cy="1019.9" r="1.7"/><circle cx="875.6" cy="994.9" r="1.7"/><circle cx="875.9" cy="1020.9" r="1.7"/><circle cx="886.7" cy="1005.9" r="1.7"/><circle cx="890.4" cy="1020.4" r="1.7"/><circle cx="894.3" cy="1009.9" r="1.7"/><circle cx="879.7" cy="989.4" r="1.7"/><circle cx="873.7" cy="975.4" r="1.7"/><circle cx="873.7" cy="1026.3" r="1.7"/><circle cx="886.9" cy="949.1" r="1.7"/><circle cx="898.7" cy="973.5" r="1.7"/><circle cx="896.4" cy="1046.7" r="1.7"/><circle cx="891.2" cy="1063.6" r="1.7"/><circle cx="883.0" cy="980.2" r="1.7"/><circle cx="892.9" cy="964.1" r="1.7"/><circle cx="880.3" cy="1005.6" r="1.7"/><circle cx="874.9" cy="1034.4" r="1.7"/><circle cx="886.6" cy="1001.7" r="1.7"/><circle cx="886.7" cy="1030.5" r="1.7"/><circle cx="880.8" cy="1049.4" r="1.7"/><circle cx="876.9" cy="990.3" r="1.7"/><circle cx="876.4" cy="1003.4" r="1.7"/><circle cx="878.4" cy="965.8" r="1.7"/><circle cx="896.8" cy="954.4" r="1.7"/><circle cx="880.3" cy="945.5" r="1.7"/><circle cx="874.8" cy="989.2" r="1.7"/><circle cx="890.9" cy="943.4" r="1.7"/><circle cx="876.5" cy="1059.4" r="1.7"/><circle cx="882.0" cy="1043.8" r="1.7"/><circle cx="893.5" cy="952.9" r="1.7"/><circle cx="894.0" cy="1019.6" r="1.7"/><circle cx="887.1" cy="1066.3" r="1.7"/><circle cx="874.9" cy="1014.4" r="1.7"/><circle cx="890.0" cy="957.3" r="1.7"/><circle cx="889.6" cy="936.4" r="1.7"/><circle cx="876.3" cy="994.6" r="1.7"/><circle cx="896.3" cy="1007.3" r="1.7"/><circle cx="889.5" cy="1000.2" r="1.7"/><circle cx="882.3" cy="1008.7" r="1.7"/><circle cx="878.6" cy="1066.0" r="1.7"/><circle cx="875.3" cy="1030.7" r="1.7"/><circle cx="892.6" cy="1055.2" r="1.7"/><circle cx="891.1" cy="936.5" r="1.7"/><circle cx="878.4" cy="975.2" r="1.7"/><circle cx="882.8" cy="972.1" r="1.7"/><circle cx="879.1" cy="971.2" r="1.7"/><circle cx="886.6" cy="1021.8" r="1.7"/><circle cx="879.7" cy="1027.0" r="1.7"/><circle cx="893.5" cy="985.2" r="1.7"/><circle cx="890.0" cy="940.2" r="1.7"/><circle cx="885.1" cy="1017.6" r="1.7"/><circle cx="888.4" cy="997.7" r="1.7"/><circle cx="887.7" cy="957.8" r="1.7"/><circle cx="885.4" cy="946.4" r="1.7"/></g>
<g fill="#7AA9F5" fill-opacity="0.45"><circle cx="890.6" cy="1108.9" r="1.7"/><circle cx="902.4" cy="1112.0" r="1.7"/><circle cx="901.3" cy="1121.0" r="1.7"/><circle cx="896.8" cy="1116.7" r="1.7"/><circle cx="913.7" cy="1095.5" r="1.7"/><circle cx="905.1" cy="1116.8" r="1.7"/><circle cx="891.2" cy="1107.8" r="1.7"/><circle cx="903.7" cy="1112.7" r="1.7"/><circle cx="904.7" cy="1109.4" r="1.7"/><circle cx="905.8" cy="1118.6" r="1.7"/><circle cx="894.8" cy="1104.7" r="1.7"/><circle cx="914.1" cy="1105.8" r="1.7"/><circle cx="905.9" cy="1095.0" r="1.7"/><circle cx="909.3" cy="1107.0" r="1.7"/><circle cx="908.2" cy="1108.7" r="1.7"/><circle cx="904.3" cy="1110.8" r="1.7"/><circle cx="905.1" cy="1101.6" r="1.7"/><circle cx="899.8" cy="1104.9" r="1.7"/><circle cx="906.9" cy="1111.3" r="1.7"/><circle cx="901.3" cy="1108.9" r="1.7"/><circle cx="897.4" cy="1110.6" r="1.7"/><circle cx="912.7" cy="1104.3" r="1.7"/><circle cx="906.7" cy="1114.6" r="1.7"/><circle cx="906.4" cy="1106.7" r="1.7"/><circle cx="900.3" cy="1103.4" r="1.7"/><circle cx="899.3" cy="1121.1" r="1.7"/><circle cx="906.2" cy="1107.0" r="1.7"/><circle cx="906.9" cy="1092.4" r="1.7"/><circle cx="899.0" cy="1103.6" r="1.7"/><circle cx="893.2" cy="1100.2" r="1.7"/><circle cx="902.6" cy="1095.4" r="1.7"/><circle cx="907.8" cy="1108.7" r="1.7"/><circle cx="915.7" cy="1106.4" r="1.7"/><circle cx="891.5" cy="1116.6" r="1.7"/><circle cx="895.7" cy="1105.1" r="1.7"/><circle cx="915.8" cy="1114.1" r="1.7"/><circle cx="897.5" cy="1106.8" r="1.7"/><circle cx="895.7" cy="1111.0" r="1.7"/><circle cx="893.4" cy="1113.8" r="1.7"/><circle cx="909.0" cy="1088.1" r="1.7"/><circle cx="892.7" cy="1111.1" r="1.7"/><circle cx="913.0" cy="1088.1" r="1.7"/><circle cx="912.4" cy="1117.5" r="1.7"/><circle cx="915.5" cy="1106.2" r="1.7"/><circle cx="901.2" cy="1109.0" r="1.7"/><circle cx="904.8" cy="1121.2" r="1.7"/><circle cx="912.8" cy="1114.0" r="1.7"/><circle cx="912.8" cy="1114.1" r="1.7"/><circle cx="910.8" cy="1111.8" r="1.7"/><circle cx="914.1" cy="1102.1" r="1.7"/><circle cx="899.2" cy="1105.6" r="1.7"/><circle cx="896.0" cy="1113.6" r="1.7"/><circle cx="897.6" cy="1117.2" r="1.7"/><circle cx="911.2" cy="1112.2" r="1.7"/><circle cx="902.9" cy="1121.3" r="1.7"/><circle cx="894.0" cy="1107.3" r="1.7"/><circle cx="895.2" cy="1102.6" r="1.7"/><circle cx="894.3" cy="1101.4" r="1.7"/><circle cx="898.0" cy="1095.9" r="1.7"/><circle cx="893.8" cy="1117.5" r="1.7"/><circle cx="893.3" cy="1114.4" r="1.7"/><circle cx="915.1" cy="1112.3" r="1.7"/><circle cx="900.1" cy="1110.7" r="1.7"/><circle cx="891.8" cy="1101.2" r="1.7"/><circle cx="912.5" cy="1117.8" r="1.7"/><circle cx="894.4" cy="1111.9" r="1.7"/><circle cx="909.2" cy="1114.8" r="1.7"/><circle cx="900.2" cy="1088.0" r="1.7"/><circle cx="901.9" cy="1102.2" r="1.7"/><circle cx="898.0" cy="1114.4" r="1.7"/><circle cx="896.4" cy="1111.6" r="1.7"/><circle cx="892.2" cy="1100.3" r="1.7"/><circle cx="909.0" cy="1110.4" r="1.7"/><circle cx="914.9" cy="1120.0" r="1.7"/><circle cx="906.8" cy="1104.6" r="1.7"/><circle cx="895.1" cy="1114.6" r="1.7"/><circle cx="915.2" cy="1098.0" r="1.7"/><circle cx="911.1" cy="1120.9" r="1.7"/><circle cx="891.9" cy="1114.5" r="1.7"/><circle cx="892.3" cy="1105.1" r="1.7"/><circle cx="911.8" cy="1098.2" r="1.7"/><circle cx="893.6" cy="1113.0" r="1.7"/><circle cx="909.3" cy="1107.2" r="1.7"/><circle cx="908.2" cy="1119.8" r="1.7"/><circle cx="899.7" cy="1116.5" r="1.7"/><circle cx="892.0" cy="1115.3" r="1.7"/><circle cx="897.6" cy="1106.6" r="1.7"/><circle cx="913.4" cy="1093.6" r="1.7"/><circle cx="903.2" cy="1101.8" r="1.7"/><circle cx="898.5" cy="1103.8" r="1.7"/><circle cx="904.1" cy="1108.3" r="1.7"/><circle cx="901.4" cy="1109.5" r="1.7"/><circle cx="915.6" cy="1097.5" r="1.7"/><circle cx="912.2" cy="1101.6" r="1.7"/><circle cx="891.8" cy="1112.5" r="1.7"/><circle cx="902.8" cy="1114.1" r="1.7"/><circle cx="908.9" cy="1101.0" r="1.7"/><circle cx="910.1" cy="1093.3" r="1.7"/><circle cx="891.3" cy="1112.7" r="1.7"/><circle cx="898.4" cy="1108.0" r="1.7"/><circle cx="913.4" cy="1096.5" r="1.7"/><circle cx="910.0" cy="1106.5" r="1.7"/><circle cx="903.4" cy="1101.8" r="1.7"/><circle cx="914.6" cy="1109.0" r="1.7"/><circle cx="904.7" cy="1100.1" r="1.7"/><circle cx="893.7" cy="1087.1" r="1.7"/><circle cx="904.2" cy="1100.9" r="1.7"/><circle cx="893.1" cy="1112.1" r="1.7"/><circle cx="912.4" cy="1105.5" r="1.7"/><circle cx="913.2" cy="1115.0" r="1.7"/></g>
<line x1="953.7" y1="1048.8" x2="953.7" y2="1082.0" stroke="#54B54B" stroke-width="3.3" stroke-linecap="butt"/><line x1="953.7" y1="1122.9" x2="953.7" y2="1167.6" stroke="#54B54B" stroke-width="3.3"/><rect x="946.3" y="1082.0" width="14.8" height="40.9" fill="#fff" stroke="#54B54B" stroke-width="3.3"/><line x1="946.3" y1="1102.4" x2="961.1" y2="1102.4" stroke="#54B54B" stroke-width="6.0"/>
<line x1="970.6" y1="983.6" x2="970.6" y2="992.6" stroke="#71A3F6" stroke-width="3.3" stroke-linecap="butt"/><line x1="970.6" y1="1007.1" x2="970.6" y2="1021.4" stroke="#71A3F6" stroke-width="3.3"/><rect x="963.2" y="992.6" width="14.8" height="14.5" fill="#fff" stroke="#71A3F6" stroke-width="3.3"/><line x1="963.2" y1="1000.2" x2="978.0" y2="1000.2" stroke="#71A3F6" stroke-width="6.0"/>
<rect x="929.1" y="1219.3" width="15.4" height="6.3" fill="#E8786C"/>
<g fill="#5DBB55" fill-opacity="0.45"><circle cx="945.7" cy="1051.5" r="1.7"/><circle cx="953.3" cy="1098.1" r="1.7"/><circle cx="943.8" cy="1115.9" r="1.7"/><circle cx="965.2" cy="1121.5" r="1.7"/><circle cx="965.4" cy="1075.5" r="1.7"/><circle cx="953.7" cy="1102.5" r="1.7"/><circle cx="951.8" cy="1151.3" r="1.7"/><circle cx="966.5" cy="1095.7" r="1.7"/><circle cx="957.8" cy="1150.7" r="1.7"/><circle cx="966.0" cy="1155.0" r="1.7"/><circle cx="958.7" cy="1126.1" r="1.7"/><circle cx="946.0" cy="1091.4" r="1.7"/><circle cx="951.7" cy="1105.5" r="1.7"/><circle cx="951.0" cy="1128.9" r="1.7"/><circle cx="959.1" cy="1150.9" r="1.7"/><circle cx="954.8" cy="1054.7" r="1.7"/><circle cx="954.1" cy="1110.6" r="1.7"/><circle cx="959.9" cy="1134.2" r="1.7"/><circle cx="943.4" cy="1086.8" r="1.7"/><circle cx="943.9" cy="1112.4" r="1.7"/><circle cx="941.1" cy="1086.0" r="1.7"/><circle cx="942.4" cy="1071.7" r="1.7"/><circle cx="945.7" cy="1076.0" r="1.7"/><circle cx="959.2" cy="1100.0" r="1.7"/><circle cx="963.4" cy="1060.8" r="1.7"/><circle cx="959.3" cy="1132.8" r="1.7"/><circle cx="945.1" cy="1108.1" r="1.7"/><circle cx="965.1" cy="1105.5" r="1.7"/><circle cx="958.9" cy="1162.2" r="1.7"/><circle cx="963.6" cy="1098.9" r="1.7"/><circle cx="947.2" cy="1104.4" r="1.7"/><circle cx="943.5" cy="1074.2" r="1.7"/><circle cx="948.3" cy="1087.0" r="1.7"/><circle cx="945.1" cy="1153.2" r="1.7"/><circle cx="944.8" cy="1074.3" r="1.7"/><circle cx="944.5" cy="1064.4" r="1.7"/><circle cx="942.1" cy="1062.7" r="1.7"/><circle cx="954.6" cy="1089.4" r="1.7"/><circle cx="964.8" cy="1094.5" r="1.7"/><circle cx="966.5" cy="1123.9" r="1.7"/><circle cx="961.7" cy="1096.7" r="1.7"/><circle cx="966.6" cy="1122.9" r="1.7"/><circle cx="953.0" cy="1084.4" r="1.7"/><circle cx="963.5" cy="1124.6" r="1.7"/><circle cx="966.4" cy="1097.5" r="1.7"/><circle cx="960.2" cy="1069.8" r="1.7"/><circle cx="945.1" cy="1084.3" r="1.7"/><circle cx="959.3" cy="1076.6" r="1.7"/><circle cx="942.5" cy="1143.1" r="1.7"/><circle cx="946.4" cy="1142.3" r="1.7"/><circle cx="960.7" cy="1081.7" r="1.7"/><circle cx="950.3" cy="1086.5" r="1.7"/><circle cx="944.6" cy="1060.9" r="1.7"/><circle cx="952.2" cy="1123.8" r="1.7"/><circle cx="959.8" cy="1122.0" r="1.7"/><circle cx="960.0" cy="1076.1" r="1.7"/><circle cx="955.8" cy="1116.9" r="1.7"/><circle cx="955.0" cy="1117.6" r="1.7"/><circle cx="944.7" cy="1099.9" r="1.7"/><circle cx="961.8" cy="1074.9" r="1.7"/><circle cx="943.1" cy="1081.0" r="1.7"/><circle cx="960.2" cy="1123.5" r="1.7"/><circle cx="956.8" cy="1078.8" r="1.7"/><circle cx="951.8" cy="1061.8" r="1.7"/><circle cx="953.0" cy="1123.9" r="1.7"/><circle cx="950.6" cy="1118.7" r="1.7"/><circle cx="949.1" cy="1080.7" r="1.7"/><circle cx="956.1" cy="1085.0" r="1.7"/><circle cx="954.0" cy="1161.6" r="1.7"/><circle cx="957.5" cy="1072.1" r="1.7"/><circle cx="957.3" cy="1074.2" r="1.7"/><circle cx="941.7" cy="1049.9" r="1.7"/><circle cx="945.8" cy="1108.5" r="1.7"/><circle cx="948.3" cy="1081.9" r="1.7"/><circle cx="957.7" cy="1089.0" r="1.7"/><circle cx="956.7" cy="1162.8" r="1.7"/><circle cx="947.3" cy="1116.4" r="1.7"/><circle cx="957.1" cy="1090.5" r="1.7"/><circle cx="959.2" cy="1124.9" r="1.7"/><circle cx="942.1" cy="1148.1" r="1.7"/><circle cx="964.8" cy="1069.2" r="1.7"/><circle cx="966.6" cy="1059.3" r="1.7"/><circle cx="955.5" cy="1082.7" r="1.7"/><circle cx="954.6" cy="1100.0" r="1.7"/><circle cx="965.8" cy="1060.0" r="1.7"/><circle cx="945.9" cy="1107.7" r="1.7"/><circle cx="951.7" cy="1099.3" r="1.7"/><circle cx="964.7" cy="1078.7" r="1.7"/><circle cx="942.8" cy="1092.6" r="1.7"/><circle cx="944.0" cy="1099.6" r="1.7"/><circle cx="962.0" cy="1099.4" r="1.7"/><circle cx="952.9" cy="1088.3" r="1.7"/><circle cx="964.9" cy="1131.9" r="1.7"/><circle cx="953.4" cy="1071.5" r="1.7"/><circle cx="958.3" cy="1153.6" r="1.7"/><circle cx="951.0" cy="1110.5" r="1.7"/><circle cx="947.8" cy="1112.4" r="1.7"/><circle cx="957.6" cy="1134.8" r="1.7"/><circle cx="951.9" cy="1100.9" r="1.7"/><circle cx="953.8" cy="1082.0" r="1.7"/><circle cx="947.7" cy="1131.3" r="1.7"/><circle cx="958.0" cy="1097.6" r="1.7"/><circle cx="960.1" cy="1091.5" r="1.7"/><circle cx="960.6" cy="1114.1" r="1.7"/><circle cx="947.3" cy="1095.6" r="1.7"/><circle cx="957.0" cy="1137.6" r="1.7"/><circle cx="965.4" cy="1074.7" r="1.7"/><circle cx="962.1" cy="1078.0" r="1.7"/><circle cx="947.1" cy="1095.1" r="1.7"/><circle cx="963.1" cy="1119.1" r="1.7"/></g>
<g fill="#7AA9F5" fill-opacity="0.45"><circle cx="970.2" cy="1006.5" r="1.7"/><circle cx="958.1" cy="998.7" r="1.7"/><circle cx="962.8" cy="1012.7" r="1.7"/><circle cx="978.0" cy="992.0" r="1.7"/><circle cx="961.8" cy="1014.3" r="1.7"/><circle cx="961.9" cy="984.4" r="1.7"/><circle cx="972.8" cy="991.9" r="1.7"/><circle cx="976.8" cy="989.7" r="1.7"/><circle cx="977.6" cy="1013.6" r="1.7"/><circle cx="958.7" cy="993.7" r="1.7"/><circle cx="965.2" cy="986.7" r="1.7"/><circle cx="971.2" cy="1001.2" r="1.7"/><circle cx="972.4" cy="998.5" r="1.7"/><circle cx="979.8" cy="1015.9" r="1.7"/><circle cx="960.2" cy="999.5" r="1.7"/><circle cx="962.5" cy="1000.1" r="1.7"/><circle cx="976.3" cy="1002.1" r="1.7"/><circle cx="961.8" cy="992.6" r="1.7"/><circle cx="982.8" cy="1006.1" r="1.7"/><circle cx="962.4" cy="996.3" r="1.7"/><circle cx="964.0" cy="996.9" r="1.7"/><circle cx="974.7" cy="1015.2" r="1.7"/><circle cx="961.2" cy="1012.6" r="1.7"/><circle cx="982.7" cy="994.8" r="1.7"/><circle cx="977.1" cy="1015.6" r="1.7"/><circle cx="959.1" cy="1010.8" r="1.7"/><circle cx="958.1" cy="1019.9" r="1.7"/><circle cx="981.2" cy="993.2" r="1.7"/><circle cx="961.5" cy="1020.2" r="1.7"/><circle cx="968.2" cy="1017.3" r="1.7"/><circle cx="962.6" cy="1005.1" r="1.7"/><circle cx="960.3" cy="991.5" r="1.7"/><circle cx="961.3" cy="996.2" r="1.7"/><circle cx="961.0" cy="995.5" r="1.7"/><circle cx="983.3" cy="1008.3" r="1.7"/><circle cx="969.3" cy="1006.6" r="1.7"/><circle cx="983.6" cy="995.3" r="1.7"/><circle cx="960.6" cy="998.7" r="1.7"/><circle cx="975.4" cy="995.1" r="1.7"/><circle cx="967.6" cy="997.6" r="1.7"/><circle cx="959.2" cy="991.4" r="1.7"/><circle cx="971.7" cy="998.8" r="1.7"/><circle cx="977.9" cy="987.8" r="1.7"/><circle cx="967.6" cy="1007.2" r="1.7"/><circle cx="967.5" cy="997.3" r="1.7"/><circle cx="983.4" cy="1016.1" r="1.7"/><circle cx="961.2" cy="1001.5" r="1.7"/><circle cx="958.0" cy="1010.3" r="1.7"/><circle cx="961.2" cy="988.2" r="1.7"/><circle cx="982.2" cy="998.3" r="1.7"/><circle cx="973.0" cy="992.5" r="1.7"/><circle cx="975.1" cy="1006.1" r="1.7"/><circle cx="963.0" cy="991.8" r="1.7"/><circle cx="968.3" cy="1007.4" r="1.7"/><circle cx="980.7" cy="997.2" r="1.7"/><circle cx="964.5" cy="997.4" r="1.7"/><circle cx="961.5" cy="993.3" r="1.7"/><circle cx="957.8" cy="1012.9" r="1.7"/><circle cx="972.6" cy="997.9" r="1.7"/><circle cx="972.0" cy="1001.2" r="1.7"/><circle cx="963.1" cy="1008.6" r="1.7"/><circle cx="968.1" cy="997.6" r="1.7"/><circle cx="981.4" cy="1000.2" r="1.7"/><circle cx="976.9" cy="1001.1" r="1.7"/><circle cx="970.4" cy="1016.3" r="1.7"/><circle cx="962.8" cy="1016.8" r="1.7"/><circle cx="967.6" cy="1008.6" r="1.7"/><circle cx="981.9" cy="1009.9" r="1.7"/><circle cx="965.5" cy="1005.7" r="1.7"/><circle cx="967.2" cy="1015.5" r="1.7"/><circle cx="971.8" cy="992.2" r="1.7"/><circle cx="973.6" cy="988.9" r="1.7"/><circle cx="968.7" cy="995.8" r="1.7"/><circle cx="969.3" cy="991.0" r="1.7"/><circle cx="963.4" cy="1011.0" r="1.7"/><circle cx="959.1" cy="992.0" r="1.7"/><circle cx="973.9" cy="1008.9" r="1.7"/><circle cx="969.7" cy="994.7" r="1.7"/><circle cx="968.5" cy="995.6" r="1.7"/><circle cx="958.6" cy="997.5" r="1.7"/><circle cx="982.9" cy="1002.6" r="1.7"/><circle cx="966.5" cy="997.9" r="1.7"/><circle cx="983.0" cy="996.5" r="1.7"/><circle cx="968.4" cy="1001.1" r="1.7"/><circle cx="979.7" cy="991.4" r="1.7"/><circle cx="975.0" cy="1007.4" r="1.7"/><circle cx="966.8" cy="1005.8" r="1.7"/><circle cx="967.0" cy="991.8" r="1.7"/><circle cx="970.2" cy="988.0" r="1.7"/><circle cx="961.0" cy="989.9" r="1.7"/><circle cx="958.5" cy="1002.8" r="1.7"/><circle cx="980.7" cy="990.2" r="1.7"/><circle cx="969.7" cy="1000.6" r="1.7"/><circle cx="967.7" cy="985.2" r="1.7"/><circle cx="961.2" cy="1005.6" r="1.7"/><circle cx="978.5" cy="987.8" r="1.7"/><circle cx="976.6" cy="999.4" r="1.7"/><circle cx="975.0" cy="991.0" r="1.7"/><circle cx="974.5" cy="1012.9" r="1.7"/><circle cx="970.0" cy="989.8" r="1.7"/><circle cx="974.4" cy="1002.2" r="1.7"/><circle cx="963.5" cy="1008.5" r="1.7"/><circle cx="983.4" cy="994.7" r="1.7"/><circle cx="974.9" cy="1012.5" r="1.7"/><circle cx="958.6" cy="1000.1" r="1.7"/><circle cx="965.5" cy="1009.8" r="1.7"/><circle cx="961.1" cy="994.4" r="1.7"/><circle cx="973.7" cy="1003.7" r="1.7"/><circle cx="983.5" cy="992.6" r="1.7"/><circle cx="962.6" cy="990.9" r="1.7"/></g>
<line x1="1021.5" y1="976.0" x2="1021.5" y2="990.0" stroke="#54B54B" stroke-width="3.3" stroke-linecap="butt"/><line x1="1021.5" y1="1007.1" x2="1021.5" y2="1028.4" stroke="#54B54B" stroke-width="3.3"/><rect x="1014.1" y="990.0" width="14.8" height="17.1" fill="#fff" stroke="#54B54B" stroke-width="3.3"/><line x1="1014.1" y1="999.0" x2="1028.9" y2="999.0" stroke="#54B54B" stroke-width="6.0"/>
<line x1="1038.4" y1="1083.3" x2="1038.4" y2="1101.2" stroke="#71A3F6" stroke-width="3.3" stroke-linecap="butt"/><line x1="1038.4" y1="1116.5" x2="1038.4" y2="1138.2" stroke="#71A3F6" stroke-width="3.3"/><rect x="1031.0" y="1101.2" width="14.8" height="15.3" fill="#fff" stroke="#71A3F6" stroke-width="3.3"/><line x1="1031.0" y1="1107.5" x2="1045.8" y2="1107.5" stroke="#71A3F6" stroke-width="6.0"/>
<rect x="996.9" y="959.6" width="15.4" height="6.3" fill="#E8786C"/>
<g fill="#5DBB55" fill-opacity="0.45"><circle cx="1024.2" cy="996.9" r="1.7"/><circle cx="1024.0" cy="997.1" r="1.7"/><circle cx="1014.6" cy="1002.8" r="1.7"/><circle cx="1031.2" cy="993.0" r="1.7"/><circle cx="1025.6" cy="992.4" r="1.7"/><circle cx="1015.0" cy="979.6" r="1.7"/><circle cx="1030.0" cy="996.3" r="1.7"/><circle cx="1008.5" cy="993.5" r="1.7"/><circle cx="1029.7" cy="998.6" r="1.7"/><circle cx="1018.7" cy="1008.6" r="1.7"/><circle cx="1020.3" cy="977.5" r="1.7"/><circle cx="1024.0" cy="997.4" r="1.7"/><circle cx="1020.3" cy="986.8" r="1.7"/><circle cx="1026.8" cy="983.9" r="1.7"/><circle cx="1024.4" cy="1002.2" r="1.7"/><circle cx="1009.8" cy="1005.5" r="1.7"/><circle cx="1009.6" cy="999.5" r="1.7"/><circle cx="1030.4" cy="1005.5" r="1.7"/><circle cx="1013.6" cy="978.5" r="1.7"/><circle cx="1017.6" cy="1010.8" r="1.7"/><circle cx="1012.1" cy="1000.6" r="1.7"/><circle cx="1012.5" cy="988.7" r="1.7"/><circle cx="1015.5" cy="997.6" r="1.7"/><circle cx="1011.5" cy="993.7" r="1.7"/><circle cx="1030.5" cy="999.2" r="1.7"/><circle cx="1013.5" cy="1026.2" r="1.7"/><circle cx="1030.2" cy="1019.4" r="1.7"/><circle cx="1014.7" cy="992.9" r="1.7"/><circle cx="1012.9" cy="983.8" r="1.7"/><circle cx="1027.4" cy="999.4" r="1.7"/><circle cx="1010.2" cy="995.4" r="1.7"/><circle cx="1013.2" cy="1022.3" r="1.7"/><circle cx="1031.8" cy="980.5" r="1.7"/><circle cx="1009.7" cy="1005.5" r="1.7"/><circle cx="1013.6" cy="994.1" r="1.7"/><circle cx="1032.3" cy="984.3" r="1.7"/><circle cx="1028.6" cy="989.5" r="1.7"/><circle cx="1030.1" cy="989.6" r="1.7"/><circle cx="1027.2" cy="1002.9" r="1.7"/><circle cx="1026.5" cy="1026.7" r="1.7"/><circle cx="1034.0" cy="1000.8" r="1.7"/><circle cx="1020.2" cy="989.4" r="1.7"/><circle cx="1023.7" cy="991.6" r="1.7"/><circle cx="1008.7" cy="994.8" r="1.7"/><circle cx="1015.1" cy="1007.6" r="1.7"/><circle cx="1032.3" cy="991.7" r="1.7"/><circle cx="1028.2" cy="994.4" r="1.7"/><circle cx="1012.2" cy="994.1" r="1.7"/><circle cx="1023.6" cy="1006.9" r="1.7"/><circle cx="1019.4" cy="990.0" r="1.7"/><circle cx="1017.1" cy="992.0" r="1.7"/><circle cx="1012.8" cy="1005.0" r="1.7"/><circle cx="1023.5" cy="1001.8" r="1.7"/><circle cx="1032.6" cy="1015.5" r="1.7"/><circle cx="1027.5" cy="1027.3" r="1.7"/><circle cx="1032.8" cy="1004.0" r="1.7"/><circle cx="1009.1" cy="1005.9" r="1.7"/><circle cx="1018.3" cy="992.1" r="1.7"/><circle cx="1025.8" cy="988.3" r="1.7"/><circle cx="1025.6" cy="1000.9" r="1.7"/><circle cx="1017.0" cy="992.5" r="1.7"/><circle cx="1025.4" cy="1009.0" r="1.7"/><circle cx="1009.7" cy="996.5" r="1.7"/><circle cx="1019.6" cy="1011.1" r="1.7"/><circle cx="1022.1" cy="1017.5" r="1.7"/><circle cx="1016.1" cy="1002.4" r="1.7"/><circle cx="1027.6" cy="990.0" r="1.7"/><circle cx="1024.0" cy="1020.0" r="1.7"/><circle cx="1024.2" cy="976.7" r="1.7"/><circle cx="1014.5" cy="977.3" r="1.7"/><circle cx="1017.0" cy="1007.8" r="1.7"/><circle cx="1012.6" cy="1007.3" r="1.7"/><circle cx="1021.5" cy="1006.9" r="1.7"/><circle cx="1028.5" cy="988.5" r="1.7"/><circle cx="1028.4" cy="1023.2" r="1.7"/><circle cx="1015.4" cy="994.0" r="1.7"/><circle cx="1030.8" cy="1027.5" r="1.7"/><circle cx="1015.1" cy="1013.3" r="1.7"/><circle cx="1029.2" cy="1005.3" r="1.7"/><circle cx="1032.3" cy="980.6" r="1.7"/><circle cx="1030.4" cy="986.8" r="1.7"/><circle cx="1009.9" cy="999.9" r="1.7"/><circle cx="1012.1" cy="1007.3" r="1.7"/><circle cx="1012.0" cy="1015.0" r="1.7"/><circle cx="1009.8" cy="1004.9" r="1.7"/><circle cx="1030.7" cy="1005.6" r="1.7"/><circle cx="1021.7" cy="1007.2" r="1.7"/><circle cx="1008.9" cy="986.7" r="1.7"/><circle cx="1022.6" cy="990.8" r="1.7"/><circle cx="1031.6" cy="1024.4" r="1.7"/><circle cx="1011.1" cy="989.1" r="1.7"/><circle cx="1023.5" cy="979.3" r="1.7"/><circle cx="1014.0" cy="994.1" r="1.7"/><circle cx="1026.8" cy="1024.4" r="1.7"/><circle cx="1013.2" cy="991.3" r="1.7"/><circle cx="1023.4" cy="1024.0" r="1.7"/><circle cx="1017.4" cy="1005.2" r="1.7"/><circle cx="1023.2" cy="985.8" r="1.7"/><circle cx="1026.6" cy="1014.8" r="1.7"/><circle cx="1023.2" cy="991.1" r="1.7"/><circle cx="1020.8" cy="979.9" r="1.7"/><circle cx="1009.9" cy="993.6" r="1.7"/><circle cx="1016.3" cy="1005.4" r="1.7"/><circle cx="1021.7" cy="1001.3" r="1.7"/><circle cx="1026.4" cy="1015.1" r="1.7"/><circle cx="1015.0" cy="1021.5" r="1.7"/><circle cx="1009.1" cy="995.9" r="1.7"/><circle cx="1029.5" cy="1004.5" r="1.7"/><circle cx="1018.2" cy="990.7" r="1.7"/><circle cx="1028.0" cy="1010.7" r="1.7"/></g>
<g fill="#7AA9F5" fill-opacity="0.45"><circle cx="1027.5" cy="1095.7" r="1.7"/><circle cx="1039.6" cy="1110.4" r="1.7"/><circle cx="1030.6" cy="1102.6" r="1.7"/><circle cx="1041.2" cy="1098.7" r="1.7"/><circle cx="1050.0" cy="1099.9" r="1.7"/><circle cx="1042.8" cy="1102.9" r="1.7"/><circle cx="1032.5" cy="1114.8" r="1.7"/><circle cx="1046.4" cy="1112.0" r="1.7"/><circle cx="1032.6" cy="1105.1" r="1.7"/><circle cx="1038.8" cy="1093.1" r="1.7"/><circle cx="1042.3" cy="1085.7" r="1.7"/><circle cx="1034.3" cy="1101.6" r="1.7"/><circle cx="1037.8" cy="1084.2" r="1.7"/><circle cx="1035.8" cy="1103.1" r="1.7"/><circle cx="1029.9" cy="1106.9" r="1.7"/><circle cx="1036.1" cy="1112.2" r="1.7"/><circle cx="1029.5" cy="1101.4" r="1.7"/><circle cx="1042.1" cy="1118.3" r="1.7"/><circle cx="1048.3" cy="1108.5" r="1.7"/><circle cx="1036.9" cy="1135.6" r="1.7"/><circle cx="1045.0" cy="1098.2" r="1.7"/><circle cx="1038.8" cy="1112.8" r="1.7"/><circle cx="1025.5" cy="1111.2" r="1.7"/><circle cx="1031.3" cy="1128.1" r="1.7"/><circle cx="1030.3" cy="1095.5" r="1.7"/><circle cx="1039.9" cy="1115.2" r="1.7"/><circle cx="1042.2" cy="1102.5" r="1.7"/><circle cx="1034.2" cy="1114.4" r="1.7"/><circle cx="1046.0" cy="1136.4" r="1.7"/><circle cx="1032.9" cy="1111.9" r="1.7"/><circle cx="1038.2" cy="1117.8" r="1.7"/><circle cx="1033.8" cy="1121.5" r="1.7"/><circle cx="1030.3" cy="1125.6" r="1.7"/><circle cx="1033.9" cy="1106.8" r="1.7"/><circle cx="1048.0" cy="1125.3" r="1.7"/><circle cx="1036.1" cy="1130.5" r="1.7"/><circle cx="1026.9" cy="1115.0" r="1.7"/><circle cx="1036.8" cy="1114.9" r="1.7"/><circle cx="1032.1" cy="1102.7" r="1.7"/><circle cx="1048.8" cy="1111.8" r="1.7"/><circle cx="1036.9" cy="1104.1" r="1.7"/><circle cx="1045.8" cy="1117.6" r="1.7"/><circle cx="1031.6" cy="1090.6" r="1.7"/><circle cx="1035.1" cy="1097.0" r="1.7"/><circle cx="1026.0" cy="1108.3" r="1.7"/><circle cx="1031.6" cy="1116.6" r="1.7"/><circle cx="1046.8" cy="1118.0" r="1.7"/><circle cx="1033.6" cy="1088.6" r="1.7"/><circle cx="1033.2" cy="1099.7" r="1.7"/><circle cx="1030.4" cy="1105.5" r="1.7"/><circle cx="1038.8" cy="1092.5" r="1.7"/><circle cx="1046.0" cy="1105.2" r="1.7"/><circle cx="1038.1" cy="1106.9" r="1.7"/><circle cx="1037.7" cy="1102.2" r="1.7"/><circle cx="1033.1" cy="1105.6" r="1.7"/><circle cx="1031.2" cy="1121.3" r="1.7"/><circle cx="1040.7" cy="1086.5" r="1.7"/><circle cx="1030.2" cy="1135.7" r="1.7"/><circle cx="1038.6" cy="1105.4" r="1.7"/><circle cx="1048.8" cy="1084.5" r="1.7"/><circle cx="1046.3" cy="1129.2" r="1.7"/><circle cx="1044.7" cy="1085.2" r="1.7"/><circle cx="1035.3" cy="1088.3" r="1.7"/><circle cx="1043.2" cy="1104.2" r="1.7"/><circle cx="1044.0" cy="1100.0" r="1.7"/><circle cx="1034.1" cy="1098.8" r="1.7"/><circle cx="1040.9" cy="1100.0" r="1.7"/><circle cx="1033.8" cy="1087.5" r="1.7"/><circle cx="1047.7" cy="1104.5" r="1.7"/><circle cx="1043.5" cy="1101.1" r="1.7"/><circle cx="1029.4" cy="1121.9" r="1.7"/><circle cx="1042.3" cy="1114.1" r="1.7"/><circle cx="1042.5" cy="1133.8" r="1.7"/><circle cx="1030.4" cy="1124.1" r="1.7"/><circle cx="1039.6" cy="1115.5" r="1.7"/><circle cx="1050.0" cy="1102.0" r="1.7"/><circle cx="1027.6" cy="1116.9" r="1.7"/><circle cx="1040.7" cy="1096.6" r="1.7"/><circle cx="1044.0" cy="1091.6" r="1.7"/><circle cx="1034.8" cy="1123.2" r="1.7"/><circle cx="1037.1" cy="1117.3" r="1.7"/><circle cx="1047.7" cy="1115.2" r="1.7"/><circle cx="1030.3" cy="1093.6" r="1.7"/><circle cx="1050.4" cy="1083.3" r="1.7"/><circle cx="1048.1" cy="1111.6" r="1.7"/><circle cx="1044.4" cy="1089.1" r="1.7"/><circle cx="1041.7" cy="1112.4" r="1.7"/><circle cx="1034.2" cy="1101.0" r="1.7"/><circle cx="1027.7" cy="1108.4" r="1.7"/><circle cx="1046.0" cy="1121.0" r="1.7"/><circle cx="1043.6" cy="1114.4" r="1.7"/><circle cx="1043.8" cy="1110.0" r="1.7"/><circle cx="1027.6" cy="1115.2" r="1.7"/><circle cx="1032.0" cy="1103.3" r="1.7"/><circle cx="1037.4" cy="1117.9" r="1.7"/><circle cx="1048.5" cy="1107.6" r="1.7"/><circle cx="1036.7" cy="1102.5" r="1.7"/><circle cx="1040.9" cy="1109.6" r="1.7"/><circle cx="1033.1" cy="1123.2" r="1.7"/><circle cx="1049.8" cy="1104.9" r="1.7"/><circle cx="1030.8" cy="1105.0" r="1.7"/><circle cx="1046.0" cy="1086.9" r="1.7"/><circle cx="1034.9" cy="1117.1" r="1.7"/><circle cx="1045.2" cy="1133.7" r="1.7"/><circle cx="1046.8" cy="1117.3" r="1.7"/><circle cx="1045.5" cy="1102.0" r="1.7"/><circle cx="1031.7" cy="1105.9" r="1.7"/><circle cx="1040.8" cy="1133.4" r="1.7"/><circle cx="1038.8" cy="1136.4" r="1.7"/><circle cx="1029.0" cy="1100.8" r="1.7"/></g>
<line x1="1089.2" y1="973.4" x2="1089.2" y2="988.7" stroke="#54B54B" stroke-width="3.3" stroke-linecap="butt"/><line x1="1089.2" y1="1007.9" x2="1089.2" y2="1032.2" stroke="#54B54B" stroke-width="3.3"/><rect x="1081.8" y="988.7" width="14.8" height="19.2" fill="#fff" stroke="#54B54B" stroke-width="3.3"/><line x1="1081.8" y1="996.4" x2="1096.6" y2="996.4" stroke="#54B54B" stroke-width="6.0"/>
<line x1="1106.1" y1="1083.3" x2="1106.1" y2="1101.2" stroke="#71A3F6" stroke-width="3.3" stroke-linecap="butt"/><line x1="1106.1" y1="1115.2" x2="1106.1" y2="1135.7" stroke="#71A3F6" stroke-width="3.3"/><rect x="1098.7" y="1101.2" width="14.8" height="14.0" fill="#fff" stroke="#71A3F6" stroke-width="3.3"/><line x1="1098.7" y1="1107.5" x2="1113.5" y2="1107.5" stroke="#71A3F6" stroke-width="6.0"/>
<rect x="1064.6" y="954.5" width="15.4" height="6.3" fill="#E8786C"/>
<g fill="#5DBB55" fill-opacity="0.45"><circle cx="1090.3" cy="999.3" r="1.7"/><circle cx="1081.4" cy="1013.4" r="1.7"/><circle cx="1080.7" cy="993.0" r="1.7"/><circle cx="1081.9" cy="1013.3" r="1.7"/><circle cx="1099.5" cy="979.1" r="1.7"/><circle cx="1091.1" cy="1017.4" r="1.7"/><circle cx="1077.0" cy="1000.5" r="1.7"/><circle cx="1093.1" cy="1007.8" r="1.7"/><circle cx="1101.1" cy="1029.2" r="1.7"/><circle cx="1085.2" cy="1006.3" r="1.7"/><circle cx="1079.8" cy="978.1" r="1.7"/><circle cx="1088.5" cy="1015.3" r="1.7"/><circle cx="1084.5" cy="1005.0" r="1.7"/><circle cx="1100.9" cy="993.9" r="1.7"/><circle cx="1077.3" cy="1000.3" r="1.7"/><circle cx="1098.4" cy="1002.2" r="1.7"/><circle cx="1077.8" cy="999.5" r="1.7"/><circle cx="1082.1" cy="1007.9" r="1.7"/><circle cx="1084.5" cy="1003.3" r="1.7"/><circle cx="1094.9" cy="991.1" r="1.7"/><circle cx="1080.0" cy="1025.6" r="1.7"/><circle cx="1099.0" cy="986.6" r="1.7"/><circle cx="1080.8" cy="987.9" r="1.7"/><circle cx="1078.2" cy="990.5" r="1.7"/><circle cx="1082.0" cy="991.0" r="1.7"/><circle cx="1098.1" cy="985.7" r="1.7"/><circle cx="1095.1" cy="997.9" r="1.7"/><circle cx="1099.4" cy="978.4" r="1.7"/><circle cx="1092.2" cy="991.9" r="1.7"/><circle cx="1094.0" cy="1003.0" r="1.7"/><circle cx="1088.1" cy="1014.4" r="1.7"/><circle cx="1078.6" cy="1020.4" r="1.7"/><circle cx="1087.3" cy="991.2" r="1.7"/><circle cx="1100.9" cy="1009.3" r="1.7"/><circle cx="1090.2" cy="1006.0" r="1.7"/><circle cx="1081.0" cy="996.8" r="1.7"/><circle cx="1095.9" cy="974.0" r="1.7"/><circle cx="1084.0" cy="982.5" r="1.7"/><circle cx="1099.9" cy="981.1" r="1.7"/><circle cx="1080.8" cy="978.7" r="1.7"/><circle cx="1078.4" cy="1013.0" r="1.7"/><circle cx="1094.4" cy="1019.8" r="1.7"/><circle cx="1088.3" cy="1024.8" r="1.7"/><circle cx="1095.1" cy="1003.1" r="1.7"/><circle cx="1094.9" cy="1025.4" r="1.7"/><circle cx="1083.9" cy="977.3" r="1.7"/><circle cx="1095.5" cy="1000.8" r="1.7"/><circle cx="1098.2" cy="1005.4" r="1.7"/><circle cx="1082.0" cy="973.8" r="1.7"/><circle cx="1080.0" cy="997.8" r="1.7"/><circle cx="1086.4" cy="994.6" r="1.7"/><circle cx="1095.1" cy="976.0" r="1.7"/><circle cx="1097.3" cy="974.2" r="1.7"/><circle cx="1086.1" cy="986.5" r="1.7"/><circle cx="1079.1" cy="991.3" r="1.7"/><circle cx="1100.2" cy="1003.4" r="1.7"/><circle cx="1080.7" cy="975.3" r="1.7"/><circle cx="1086.7" cy="996.6" r="1.7"/><circle cx="1091.6" cy="992.7" r="1.7"/><circle cx="1099.1" cy="1007.4" r="1.7"/><circle cx="1096.4" cy="998.7" r="1.7"/><circle cx="1101.7" cy="989.6" r="1.7"/><circle cx="1091.5" cy="995.9" r="1.7"/><circle cx="1082.2" cy="988.4" r="1.7"/><circle cx="1097.3" cy="1025.6" r="1.7"/><circle cx="1095.7" cy="990.4" r="1.7"/><circle cx="1081.4" cy="987.5" r="1.7"/><circle cx="1092.8" cy="983.5" r="1.7"/><circle cx="1090.7" cy="978.5" r="1.7"/><circle cx="1077.7" cy="984.3" r="1.7"/><circle cx="1090.6" cy="1012.2" r="1.7"/><circle cx="1086.2" cy="991.2" r="1.7"/><circle cx="1099.2" cy="1022.0" r="1.7"/><circle cx="1099.3" cy="1022.1" r="1.7"/><circle cx="1094.6" cy="1008.2" r="1.7"/><circle cx="1082.3" cy="993.5" r="1.7"/><circle cx="1082.5" cy="1004.3" r="1.7"/><circle cx="1083.4" cy="995.4" r="1.7"/><circle cx="1083.5" cy="995.1" r="1.7"/><circle cx="1094.3" cy="1016.4" r="1.7"/><circle cx="1100.9" cy="1007.4" r="1.7"/><circle cx="1083.0" cy="1000.8" r="1.7"/><circle cx="1099.6" cy="989.7" r="1.7"/><circle cx="1095.3" cy="1002.4" r="1.7"/><circle cx="1102.0" cy="1004.1" r="1.7"/><circle cx="1077.2" cy="1005.6" r="1.7"/><circle cx="1090.3" cy="1031.6" r="1.7"/><circle cx="1083.6" cy="992.6" r="1.7"/><circle cx="1086.8" cy="1000.4" r="1.7"/><circle cx="1081.1" cy="1002.7" r="1.7"/><circle cx="1093.5" cy="995.0" r="1.7"/><circle cx="1099.1" cy="1028.1" r="1.7"/><circle cx="1088.6" cy="1007.5" r="1.7"/><circle cx="1093.7" cy="1008.8" r="1.7"/><circle cx="1091.3" cy="1000.7" r="1.7"/><circle cx="1089.4" cy="1000.6" r="1.7"/><circle cx="1101.7" cy="1020.2" r="1.7"/><circle cx="1084.8" cy="999.8" r="1.7"/><circle cx="1083.9" cy="985.4" r="1.7"/><circle cx="1087.2" cy="987.8" r="1.7"/><circle cx="1091.1" cy="1016.8" r="1.7"/><circle cx="1081.4" cy="1006.5" r="1.7"/><circle cx="1100.6" cy="974.4" r="1.7"/><circle cx="1097.2" cy="997.7" r="1.7"/><circle cx="1084.1" cy="991.2" r="1.7"/><circle cx="1091.3" cy="1015.5" r="1.7"/><circle cx="1095.8" cy="1010.3" r="1.7"/><circle cx="1081.9" cy="993.5" r="1.7"/><circle cx="1101.4" cy="988.3" r="1.7"/><circle cx="1101.4" cy="997.3" r="1.7"/></g>
<g fill="#7AA9F5" fill-opacity="0.45"><circle cx="1093.6" cy="1109.0" r="1.7"/><circle cx="1102.3" cy="1108.7" r="1.7"/><circle cx="1106.7" cy="1091.8" r="1.7"/><circle cx="1097.3" cy="1087.6" r="1.7"/><circle cx="1093.5" cy="1111.1" r="1.7"/><circle cx="1111.6" cy="1129.4" r="1.7"/><circle cx="1098.9" cy="1131.6" r="1.7"/><circle cx="1117.0" cy="1109.5" r="1.7"/><circle cx="1093.2" cy="1115.4" r="1.7"/><circle cx="1111.2" cy="1102.4" r="1.7"/><circle cx="1117.2" cy="1120.8" r="1.7"/><circle cx="1117.4" cy="1096.0" r="1.7"/><circle cx="1107.3" cy="1098.7" r="1.7"/><circle cx="1096.3" cy="1102.4" r="1.7"/><circle cx="1102.3" cy="1103.9" r="1.7"/><circle cx="1101.2" cy="1112.6" r="1.7"/><circle cx="1114.2" cy="1126.2" r="1.7"/><circle cx="1093.3" cy="1101.0" r="1.7"/><circle cx="1093.7" cy="1107.2" r="1.7"/><circle cx="1097.4" cy="1106.4" r="1.7"/><circle cx="1101.4" cy="1087.6" r="1.7"/><circle cx="1099.9" cy="1106.9" r="1.7"/><circle cx="1093.3" cy="1093.0" r="1.7"/><circle cx="1099.0" cy="1113.6" r="1.7"/><circle cx="1102.8" cy="1101.3" r="1.7"/><circle cx="1101.6" cy="1096.3" r="1.7"/><circle cx="1104.9" cy="1121.9" r="1.7"/><circle cx="1097.1" cy="1125.6" r="1.7"/><circle cx="1108.0" cy="1106.9" r="1.7"/><circle cx="1097.8" cy="1116.1" r="1.7"/><circle cx="1104.7" cy="1107.0" r="1.7"/><circle cx="1110.5" cy="1108.1" r="1.7"/><circle cx="1093.4" cy="1120.6" r="1.7"/><circle cx="1113.8" cy="1127.9" r="1.7"/><circle cx="1097.1" cy="1102.4" r="1.7"/><circle cx="1101.1" cy="1112.7" r="1.7"/><circle cx="1103.8" cy="1091.3" r="1.7"/><circle cx="1095.3" cy="1102.1" r="1.7"/><circle cx="1099.0" cy="1130.5" r="1.7"/><circle cx="1104.7" cy="1103.9" r="1.7"/><circle cx="1114.5" cy="1095.5" r="1.7"/><circle cx="1119.0" cy="1103.4" r="1.7"/><circle cx="1116.1" cy="1087.6" r="1.7"/><circle cx="1103.5" cy="1125.3" r="1.7"/><circle cx="1109.0" cy="1120.3" r="1.7"/><circle cx="1095.5" cy="1107.4" r="1.7"/><circle cx="1105.2" cy="1126.3" r="1.7"/><circle cx="1103.7" cy="1104.4" r="1.7"/><circle cx="1109.6" cy="1108.4" r="1.7"/><circle cx="1111.5" cy="1102.5" r="1.7"/><circle cx="1097.6" cy="1110.1" r="1.7"/><circle cx="1094.2" cy="1095.7" r="1.7"/><circle cx="1098.1" cy="1116.5" r="1.7"/><circle cx="1109.3" cy="1105.1" r="1.7"/><circle cx="1106.5" cy="1124.3" r="1.7"/><circle cx="1111.0" cy="1105.6" r="1.7"/><circle cx="1112.0" cy="1126.9" r="1.7"/><circle cx="1103.1" cy="1114.6" r="1.7"/><circle cx="1115.0" cy="1122.0" r="1.7"/><circle cx="1114.2" cy="1104.5" r="1.7"/><circle cx="1096.0" cy="1107.1" r="1.7"/><circle cx="1095.1" cy="1110.5" r="1.7"/><circle cx="1114.1" cy="1124.4" r="1.7"/><circle cx="1103.2" cy="1135.7" r="1.7"/><circle cx="1113.0" cy="1130.5" r="1.7"/><circle cx="1094.0" cy="1084.4" r="1.7"/><circle cx="1118.5" cy="1111.7" r="1.7"/><circle cx="1101.2" cy="1115.2" r="1.7"/><circle cx="1117.1" cy="1084.7" r="1.7"/><circle cx="1110.5" cy="1111.0" r="1.7"/><circle cx="1102.3" cy="1100.1" r="1.7"/><circle cx="1102.8" cy="1135.4" r="1.7"/><circle cx="1118.2" cy="1102.6" r="1.7"/><circle cx="1103.8" cy="1109.3" r="1.7"/><circle cx="1108.9" cy="1111.2" r="1.7"/><circle cx="1116.8" cy="1132.9" r="1.7"/><circle cx="1093.9" cy="1088.3" r="1.7"/><circle cx="1101.3" cy="1134.9" r="1.7"/><circle cx="1113.1" cy="1120.2" r="1.7"/><circle cx="1107.3" cy="1095.7" r="1.7"/><circle cx="1099.0" cy="1089.3" r="1.7"/><circle cx="1103.1" cy="1117.0" r="1.7"/><circle cx="1098.2" cy="1109.0" r="1.7"/><circle cx="1112.6" cy="1091.4" r="1.7"/><circle cx="1099.0" cy="1114.0" r="1.7"/><circle cx="1103.4" cy="1114.2" r="1.7"/><circle cx="1113.3" cy="1103.6" r="1.7"/><circle cx="1095.2" cy="1088.7" r="1.7"/><circle cx="1103.0" cy="1117.0" r="1.7"/><circle cx="1105.0" cy="1088.5" r="1.7"/><circle cx="1114.7" cy="1102.0" r="1.7"/><circle cx="1102.9" cy="1108.7" r="1.7"/><circle cx="1109.7" cy="1100.7" r="1.7"/><circle cx="1100.1" cy="1084.1" r="1.7"/><circle cx="1105.7" cy="1088.3" r="1.7"/><circle cx="1109.8" cy="1095.8" r="1.7"/><circle cx="1115.3" cy="1105.9" r="1.7"/><circle cx="1100.4" cy="1126.2" r="1.7"/><circle cx="1114.4" cy="1107.9" r="1.7"/><circle cx="1113.4" cy="1117.5" r="1.7"/><circle cx="1102.2" cy="1125.4" r="1.7"/><circle cx="1111.7" cy="1108.6" r="1.7"/><circle cx="1115.2" cy="1106.9" r="1.7"/><circle cx="1103.1" cy="1102.6" r="1.7"/><circle cx="1103.2" cy="1107.0" r="1.7"/><circle cx="1101.0" cy="1095.5" r="1.7"/><circle cx="1099.5" cy="1117.8" r="1.7"/><circle cx="1114.1" cy="1115.2" r="1.7"/><circle cx="1099.5" cy="1102.8" r="1.7"/><circle cx="1116.4" cy="1110.0" r="1.7"/></g>
<line x1="1157.0" y1="941.5" x2="1157.0" y2="982.4" stroke="#54B54B" stroke-width="3.3" stroke-linecap="butt"/><line x1="1157.0" y1="1028.4" x2="1157.0" y2="1097.5" stroke="#54B54B" stroke-width="3.3"/><rect x="1149.5" y="982.4" width="14.8" height="46.0" fill="#fff" stroke="#54B54B" stroke-width="3.3"/><line x1="1149.5" y1="1001.1" x2="1164.4" y2="1001.1" stroke="#54B54B" stroke-width="6.0"/>
<line x1="1173.9" y1="1067.5" x2="1173.9" y2="1093.6" stroke="#71A3F6" stroke-width="3.3" stroke-linecap="butt"/><line x1="1173.9" y1="1116.1" x2="1173.9" y2="1143.0" stroke="#71A3F6" stroke-width="3.3"/><rect x="1166.5" y="1093.6" width="14.8" height="22.5" fill="#fff" stroke="#71A3F6" stroke-width="3.3"/><line x1="1166.5" y1="1105.9" x2="1181.3" y2="1105.9" stroke="#71A3F6" stroke-width="6.0"/>
<rect x="1132.3" y="937.1" width="15.4" height="6.3" fill="#E8786C"/>
<g fill="#5DBB55" fill-opacity="0.45"><circle cx="1149.7" cy="951.2" r="1.7"/><circle cx="1145.5" cy="955.2" r="1.7"/><circle cx="1152.3" cy="941.9" r="1.7"/><circle cx="1144.8" cy="952.8" r="1.7"/><circle cx="1168.0" cy="987.0" r="1.7"/><circle cx="1158.8" cy="977.1" r="1.7"/><circle cx="1150.1" cy="1042.9" r="1.7"/><circle cx="1166.5" cy="955.4" r="1.7"/><circle cx="1152.9" cy="1030.6" r="1.7"/><circle cx="1151.8" cy="992.6" r="1.7"/><circle cx="1166.5" cy="1031.6" r="1.7"/><circle cx="1160.4" cy="1055.4" r="1.7"/><circle cx="1156.2" cy="1011.4" r="1.7"/><circle cx="1163.3" cy="969.5" r="1.7"/><circle cx="1144.4" cy="981.4" r="1.7"/><circle cx="1164.6" cy="978.2" r="1.7"/><circle cx="1149.8" cy="1097.2" r="1.7"/><circle cx="1166.6" cy="983.9" r="1.7"/><circle cx="1167.1" cy="998.2" r="1.7"/><circle cx="1150.7" cy="1063.0" r="1.7"/><circle cx="1164.6" cy="977.0" r="1.7"/><circle cx="1158.7" cy="1030.3" r="1.7"/><circle cx="1163.2" cy="1007.8" r="1.7"/><circle cx="1152.2" cy="1012.2" r="1.7"/><circle cx="1162.0" cy="982.1" r="1.7"/><circle cx="1162.5" cy="1016.2" r="1.7"/><circle cx="1157.0" cy="1027.1" r="1.7"/><circle cx="1152.9" cy="1035.9" r="1.7"/><circle cx="1146.2" cy="1010.0" r="1.7"/><circle cx="1153.1" cy="1021.7" r="1.7"/><circle cx="1157.1" cy="1020.0" r="1.7"/><circle cx="1166.0" cy="964.4" r="1.7"/><circle cx="1147.5" cy="1023.4" r="1.7"/><circle cx="1167.0" cy="1063.0" r="1.7"/><circle cx="1163.2" cy="982.2" r="1.7"/><circle cx="1154.4" cy="962.8" r="1.7"/><circle cx="1146.3" cy="1039.3" r="1.7"/><circle cx="1163.9" cy="1012.1" r="1.7"/><circle cx="1155.3" cy="1063.9" r="1.7"/><circle cx="1149.5" cy="1065.2" r="1.7"/><circle cx="1160.9" cy="997.1" r="1.7"/><circle cx="1152.3" cy="955.5" r="1.7"/><circle cx="1145.6" cy="1029.4" r="1.7"/><circle cx="1144.9" cy="1035.9" r="1.7"/><circle cx="1146.9" cy="1096.9" r="1.7"/><circle cx="1155.8" cy="998.4" r="1.7"/><circle cx="1156.6" cy="963.0" r="1.7"/><circle cx="1147.7" cy="1063.3" r="1.7"/><circle cx="1169.4" cy="986.1" r="1.7"/><circle cx="1150.0" cy="982.4" r="1.7"/><circle cx="1155.3" cy="1018.0" r="1.7"/><circle cx="1151.3" cy="1008.4" r="1.7"/><circle cx="1144.6" cy="1043.2" r="1.7"/><circle cx="1169.3" cy="968.0" r="1.7"/><circle cx="1153.8" cy="947.1" r="1.7"/><circle cx="1149.3" cy="987.1" r="1.7"/><circle cx="1144.0" cy="1054.9" r="1.7"/><circle cx="1164.7" cy="1019.3" r="1.7"/><circle cx="1150.0" cy="999.0" r="1.7"/><circle cx="1158.0" cy="1003.1" r="1.7"/><circle cx="1155.6" cy="1034.5" r="1.7"/><circle cx="1155.6" cy="958.4" r="1.7"/><circle cx="1162.7" cy="944.0" r="1.7"/><circle cx="1167.8" cy="1050.2" r="1.7"/><circle cx="1155.5" cy="986.7" r="1.7"/><circle cx="1161.1" cy="1035.7" r="1.7"/><circle cx="1155.9" cy="1035.4" r="1.7"/><circle cx="1154.7" cy="1044.0" r="1.7"/><circle cx="1159.5" cy="949.7" r="1.7"/><circle cx="1160.0" cy="1000.2" r="1.7"/><circle cx="1159.6" cy="989.5" r="1.7"/><circle cx="1149.5" cy="1024.6" r="1.7"/><circle cx="1168.1" cy="993.1" r="1.7"/><circle cx="1156.6" cy="969.4" r="1.7"/><circle cx="1159.2" cy="1023.5" r="1.7"/><circle cx="1156.9" cy="1078.0" r="1.7"/><circle cx="1169.1" cy="980.8" r="1.7"/><circle cx="1149.2" cy="1061.9" r="1.7"/><circle cx="1159.8" cy="1003.3" r="1.7"/><circle cx="1146.7" cy="950.5" r="1.7"/><circle cx="1156.6" cy="1050.1" r="1.7"/><circle cx="1144.7" cy="979.9" r="1.7"/><circle cx="1162.4" cy="1014.2" r="1.7"/><circle cx="1148.6" cy="1009.8" r="1.7"/><circle cx="1163.7" cy="1068.8" r="1.7"/><circle cx="1157.9" cy="1000.3" r="1.7"/><circle cx="1163.8" cy="987.4" r="1.7"/><circle cx="1153.5" cy="1011.8" r="1.7"/><circle cx="1145.9" cy="960.5" r="1.7"/><circle cx="1155.9" cy="981.3" r="1.7"/><circle cx="1150.5" cy="998.6" r="1.7"/><circle cx="1151.9" cy="955.4" r="1.7"/><circle cx="1145.5" cy="1020.7" r="1.7"/><circle cx="1165.5" cy="966.0" r="1.7"/><circle cx="1147.8" cy="1076.6" r="1.7"/><circle cx="1144.7" cy="1024.2" r="1.7"/><circle cx="1166.0" cy="1001.4" r="1.7"/><circle cx="1157.0" cy="984.6" r="1.7"/><circle cx="1151.9" cy="946.8" r="1.7"/><circle cx="1150.9" cy="1021.0" r="1.7"/><circle cx="1156.1" cy="993.4" r="1.7"/><circle cx="1156.7" cy="1051.3" r="1.7"/><circle cx="1166.8" cy="949.9" r="1.7"/><circle cx="1166.4" cy="991.8" r="1.7"/><circle cx="1156.9" cy="1002.6" r="1.7"/><circle cx="1149.2" cy="986.4" r="1.7"/><circle cx="1157.0" cy="994.1" r="1.7"/><circle cx="1156.9" cy="1023.2" r="1.7"/><circle cx="1160.7" cy="1037.8" r="1.7"/><circle cx="1155.6" cy="1054.3" r="1.7"/></g>
<g fill="#7AA9F5" fill-opacity="0.45"><circle cx="1174.9" cy="1134.1" r="1.7"/><circle cx="1182.3" cy="1128.4" r="1.7"/><circle cx="1181.8" cy="1140.0" r="1.7"/><circle cx="1185.7" cy="1114.1" r="1.7"/><circle cx="1164.6" cy="1112.9" r="1.7"/><circle cx="1167.2" cy="1097.6" r="1.7"/><circle cx="1173.3" cy="1090.7" r="1.7"/><circle cx="1176.2" cy="1115.4" r="1.7"/><circle cx="1167.7" cy="1116.9" r="1.7"/><circle cx="1167.0" cy="1130.3" r="1.7"/><circle cx="1165.0" cy="1117.1" r="1.7"/><circle cx="1172.5" cy="1109.3" r="1.7"/><circle cx="1175.2" cy="1101.2" r="1.7"/><circle cx="1176.8" cy="1096.9" r="1.7"/><circle cx="1183.1" cy="1107.1" r="1.7"/><circle cx="1168.0" cy="1123.2" r="1.7"/><circle cx="1184.5" cy="1140.9" r="1.7"/><circle cx="1171.5" cy="1084.4" r="1.7"/><circle cx="1175.5" cy="1088.3" r="1.7"/><circle cx="1184.3" cy="1078.0" r="1.7"/><circle cx="1168.1" cy="1112.8" r="1.7"/><circle cx="1185.7" cy="1109.3" r="1.7"/><circle cx="1170.3" cy="1107.2" r="1.7"/><circle cx="1170.9" cy="1139.0" r="1.7"/><circle cx="1171.7" cy="1078.8" r="1.7"/><circle cx="1184.2" cy="1091.9" r="1.7"/><circle cx="1179.9" cy="1077.2" r="1.7"/><circle cx="1168.6" cy="1106.0" r="1.7"/><circle cx="1181.8" cy="1076.7" r="1.7"/><circle cx="1162.3" cy="1093.9" r="1.7"/><circle cx="1178.8" cy="1098.6" r="1.7"/><circle cx="1169.3" cy="1123.9" r="1.7"/><circle cx="1167.4" cy="1107.8" r="1.7"/><circle cx="1164.8" cy="1127.1" r="1.7"/><circle cx="1161.2" cy="1107.6" r="1.7"/><circle cx="1171.7" cy="1092.0" r="1.7"/><circle cx="1167.4" cy="1114.9" r="1.7"/><circle cx="1176.4" cy="1113.4" r="1.7"/><circle cx="1172.0" cy="1095.3" r="1.7"/><circle cx="1175.7" cy="1095.3" r="1.7"/><circle cx="1179.8" cy="1090.8" r="1.7"/><circle cx="1161.5" cy="1093.3" r="1.7"/><circle cx="1163.9" cy="1112.0" r="1.7"/><circle cx="1165.1" cy="1089.4" r="1.7"/><circle cx="1169.8" cy="1079.0" r="1.7"/><circle cx="1179.0" cy="1122.1" r="1.7"/><circle cx="1170.3" cy="1119.2" r="1.7"/><circle cx="1177.3" cy="1108.4" r="1.7"/><circle cx="1178.1" cy="1105.0" r="1.7"/><circle cx="1186.0" cy="1092.1" r="1.7"/><circle cx="1171.9" cy="1100.0" r="1.7"/><circle cx="1169.9" cy="1106.1" r="1.7"/><circle cx="1175.1" cy="1089.1" r="1.7"/><circle cx="1182.1" cy="1096.2" r="1.7"/><circle cx="1183.9" cy="1096.2" r="1.7"/><circle cx="1179.0" cy="1107.8" r="1.7"/><circle cx="1173.5" cy="1083.9" r="1.7"/><circle cx="1168.1" cy="1090.1" r="1.7"/><circle cx="1183.0" cy="1121.4" r="1.7"/><circle cx="1185.9" cy="1103.4" r="1.7"/><circle cx="1167.6" cy="1101.1" r="1.7"/><circle cx="1184.2" cy="1125.4" r="1.7"/><circle cx="1165.1" cy="1116.0" r="1.7"/><circle cx="1179.5" cy="1104.5" r="1.7"/><circle cx="1162.1" cy="1102.3" r="1.7"/><circle cx="1178.4" cy="1092.6" r="1.7"/><circle cx="1184.8" cy="1113.0" r="1.7"/><circle cx="1180.8" cy="1106.1" r="1.7"/><circle cx="1168.8" cy="1129.1" r="1.7"/><circle cx="1178.6" cy="1093.5" r="1.7"/><circle cx="1178.9" cy="1096.0" r="1.7"/><circle cx="1183.1" cy="1138.4" r="1.7"/><circle cx="1167.2" cy="1136.2" r="1.7"/><circle cx="1173.8" cy="1114.0" r="1.7"/><circle cx="1172.0" cy="1128.5" r="1.7"/><circle cx="1169.6" cy="1123.3" r="1.7"/><circle cx="1163.8" cy="1112.2" r="1.7"/><circle cx="1161.6" cy="1091.4" r="1.7"/><circle cx="1184.1" cy="1118.1" r="1.7"/><circle cx="1185.4" cy="1109.8" r="1.7"/><circle cx="1174.3" cy="1113.8" r="1.7"/><circle cx="1171.4" cy="1104.6" r="1.7"/><circle cx="1171.3" cy="1069.2" r="1.7"/><circle cx="1174.0" cy="1091.8" r="1.7"/><circle cx="1182.8" cy="1112.1" r="1.7"/><circle cx="1161.3" cy="1079.0" r="1.7"/><circle cx="1180.5" cy="1101.0" r="1.7"/><circle cx="1171.4" cy="1105.5" r="1.7"/><circle cx="1164.9" cy="1095.1" r="1.7"/><circle cx="1166.1" cy="1106.9" r="1.7"/><circle cx="1181.3" cy="1086.1" r="1.7"/><circle cx="1181.3" cy="1110.1" r="1.7"/><circle cx="1177.9" cy="1103.8" r="1.7"/><circle cx="1180.9" cy="1116.3" r="1.7"/><circle cx="1186.8" cy="1098.6" r="1.7"/><circle cx="1171.3" cy="1115.6" r="1.7"/><circle cx="1167.6" cy="1092.8" r="1.7"/><circle cx="1182.9" cy="1093.3" r="1.7"/><circle cx="1179.8" cy="1120.8" r="1.7"/><circle cx="1167.9" cy="1114.5" r="1.7"/><circle cx="1181.1" cy="1111.9" r="1.7"/><circle cx="1170.8" cy="1099.1" r="1.7"/><circle cx="1182.0" cy="1096.9" r="1.7"/><circle cx="1183.3" cy="1118.4" r="1.7"/><circle cx="1177.4" cy="1104.9" r="1.7"/><circle cx="1166.4" cy="1086.5" r="1.7"/><circle cx="1179.3" cy="1107.2" r="1.7"/><circle cx="1171.0" cy="1140.3" r="1.7"/><circle cx="1172.5" cy="1103.8" r="1.7"/><circle cx="1182.6" cy="1105.7" r="1.7"/></g>
<line x1="1224.7" y1="1001.6" x2="1224.7" y2="1049.7" stroke="#54B54B" stroke-width="3.3" stroke-linecap="butt"/><line x1="1224.7" y1="1101.3" x2="1224.7" y2="1165.2" stroke="#54B54B" stroke-width="3.3"/><rect x="1217.3" y="1049.7" width="14.8" height="51.6" fill="#fff" stroke="#54B54B" stroke-width="3.3"/><line x1="1217.3" y1="1076.5" x2="1232.1" y2="1076.5" stroke="#54B54B" stroke-width="6.0"/>
<line x1="1241.6" y1="878.9" x2="1241.6" y2="990.1" stroke="#71A3F6" stroke-width="3.3" stroke-linecap="butt"/><line x1="1241.6" y1="1067.5" x2="1241.6" y2="1176.7" stroke="#71A3F6" stroke-width="3.3"/><rect x="1234.2" y="990.1" width="14.8" height="77.4" fill="#fff" stroke="#71A3F6" stroke-width="3.3"/><line x1="1234.2" y1="1021.5" x2="1249.0" y2="1021.5" stroke="#71A3F6" stroke-width="6.0"/>
<rect x="1200.1" y="1082.0" width="15.4" height="6.3" fill="#E8786C"/>
<g fill="#5DBB55" fill-opacity="0.45"><circle cx="1230.4" cy="1125.4" r="1.7"/><circle cx="1213.9" cy="1098.1" r="1.7"/><circle cx="1215.1" cy="1080.3" r="1.7"/><circle cx="1216.1" cy="1080.6" r="1.7"/><circle cx="1215.3" cy="1082.0" r="1.7"/><circle cx="1217.1" cy="1002.8" r="1.7"/><circle cx="1227.4" cy="1082.1" r="1.7"/><circle cx="1215.1" cy="1057.9" r="1.7"/><circle cx="1221.4" cy="1039.0" r="1.7"/><circle cx="1222.9" cy="1134.9" r="1.7"/><circle cx="1221.1" cy="1063.4" r="1.7"/><circle cx="1219.8" cy="1052.1" r="1.7"/><circle cx="1236.0" cy="1044.0" r="1.7"/><circle cx="1213.3" cy="1043.9" r="1.7"/><circle cx="1225.5" cy="1084.5" r="1.7"/><circle cx="1216.5" cy="1088.1" r="1.7"/><circle cx="1214.8" cy="1067.0" r="1.7"/><circle cx="1222.6" cy="1112.2" r="1.7"/><circle cx="1221.7" cy="1002.6" r="1.7"/><circle cx="1229.2" cy="1011.7" r="1.7"/><circle cx="1235.5" cy="1060.8" r="1.7"/><circle cx="1230.9" cy="1067.6" r="1.7"/><circle cx="1232.4" cy="1079.3" r="1.7"/><circle cx="1211.7" cy="1033.8" r="1.7"/><circle cx="1212.5" cy="1020.2" r="1.7"/><circle cx="1213.6" cy="1061.5" r="1.7"/><circle cx="1223.0" cy="1049.6" r="1.7"/><circle cx="1233.6" cy="1119.4" r="1.7"/><circle cx="1235.1" cy="1101.3" r="1.7"/><circle cx="1226.2" cy="1088.0" r="1.7"/><circle cx="1231.5" cy="1081.9" r="1.7"/><circle cx="1225.0" cy="1090.9" r="1.7"/><circle cx="1220.5" cy="1102.4" r="1.7"/><circle cx="1218.5" cy="1126.5" r="1.7"/><circle cx="1229.6" cy="1098.5" r="1.7"/><circle cx="1215.7" cy="1117.2" r="1.7"/><circle cx="1228.4" cy="1009.7" r="1.7"/><circle cx="1234.2" cy="1133.9" r="1.7"/><circle cx="1227.5" cy="1049.5" r="1.7"/><circle cx="1225.6" cy="1012.8" r="1.7"/><circle cx="1212.0" cy="1118.7" r="1.7"/><circle cx="1223.8" cy="1132.5" r="1.7"/><circle cx="1233.4" cy="1070.8" r="1.7"/><circle cx="1213.5" cy="1138.9" r="1.7"/><circle cx="1221.2" cy="1130.9" r="1.7"/><circle cx="1232.0" cy="1019.7" r="1.7"/><circle cx="1227.1" cy="1148.3" r="1.7"/><circle cx="1217.5" cy="1109.4" r="1.7"/><circle cx="1218.1" cy="1094.2" r="1.7"/><circle cx="1217.5" cy="1096.8" r="1.7"/><circle cx="1227.1" cy="1092.0" r="1.7"/><circle cx="1230.7" cy="1069.8" r="1.7"/><circle cx="1212.4" cy="1098.4" r="1.7"/><circle cx="1219.8" cy="1068.8" r="1.7"/><circle cx="1222.3" cy="1104.7" r="1.7"/><circle cx="1227.3" cy="1017.0" r="1.7"/><circle cx="1212.8" cy="1053.2" r="1.7"/><circle cx="1229.9" cy="1071.8" r="1.7"/><circle cx="1231.5" cy="1035.9" r="1.7"/><circle cx="1237.4" cy="1145.8" r="1.7"/><circle cx="1231.7" cy="1158.6" r="1.7"/><circle cx="1235.8" cy="1079.4" r="1.7"/><circle cx="1231.1" cy="1016.8" r="1.7"/><circle cx="1228.5" cy="1134.8" r="1.7"/><circle cx="1222.7" cy="1124.3" r="1.7"/><circle cx="1219.5" cy="1121.1" r="1.7"/><circle cx="1225.7" cy="1145.1" r="1.7"/><circle cx="1218.0" cy="1132.0" r="1.7"/><circle cx="1219.3" cy="1048.3" r="1.7"/><circle cx="1234.2" cy="1068.0" r="1.7"/><circle cx="1233.0" cy="1061.9" r="1.7"/><circle cx="1218.1" cy="1020.7" r="1.7"/><circle cx="1237.6" cy="1108.5" r="1.7"/><circle cx="1220.1" cy="1024.3" r="1.7"/><circle cx="1213.9" cy="1022.2" r="1.7"/><circle cx="1234.2" cy="1102.7" r="1.7"/><circle cx="1234.1" cy="1128.2" r="1.7"/><circle cx="1231.7" cy="1103.1" r="1.7"/><circle cx="1224.7" cy="1121.8" r="1.7"/><circle cx="1226.2" cy="1068.5" r="1.7"/><circle cx="1212.6" cy="1036.2" r="1.7"/><circle cx="1233.9" cy="1054.2" r="1.7"/><circle cx="1217.8" cy="1074.2" r="1.7"/><circle cx="1222.9" cy="1046.3" r="1.7"/><circle cx="1231.8" cy="1100.2" r="1.7"/><circle cx="1233.1" cy="1049.2" r="1.7"/><circle cx="1212.1" cy="1077.1" r="1.7"/><circle cx="1226.1" cy="1155.8" r="1.7"/><circle cx="1227.9" cy="1150.9" r="1.7"/><circle cx="1231.9" cy="1120.2" r="1.7"/><circle cx="1229.6" cy="1157.2" r="1.7"/><circle cx="1237.7" cy="1103.1" r="1.7"/><circle cx="1225.1" cy="1079.0" r="1.7"/><circle cx="1219.1" cy="1038.7" r="1.7"/><circle cx="1219.4" cy="1010.1" r="1.7"/><circle cx="1219.0" cy="1150.8" r="1.7"/><circle cx="1227.2" cy="1089.7" r="1.7"/><circle cx="1235.2" cy="1140.2" r="1.7"/><circle cx="1231.1" cy="1048.3" r="1.7"/><circle cx="1213.1" cy="1005.1" r="1.7"/><circle cx="1234.0" cy="1056.5" r="1.7"/><circle cx="1222.4" cy="1110.0" r="1.7"/><circle cx="1235.8" cy="1106.2" r="1.7"/><circle cx="1233.3" cy="1079.4" r="1.7"/><circle cx="1227.3" cy="1101.1" r="1.7"/><circle cx="1220.6" cy="1050.1" r="1.7"/><circle cx="1213.9" cy="1099.5" r="1.7"/><circle cx="1222.4" cy="1062.7" r="1.7"/><circle cx="1220.0" cy="1106.2" r="1.7"/><circle cx="1214.9" cy="1094.4" r="1.7"/></g>
<g fill="#7AA9F5" fill-opacity="0.45"><circle cx="1232.6" cy="1009.8" r="1.7"/><circle cx="1238.0" cy="1071.9" r="1.7"/><circle cx="1247.0" cy="887.0" r="1.7"/><circle cx="1250.6" cy="1072.8" r="1.7"/><circle cx="1237.2" cy="919.2" r="1.7"/><circle cx="1245.0" cy="982.3" r="1.7"/><circle cx="1252.1" cy="1014.7" r="1.7"/><circle cx="1245.4" cy="1000.1" r="1.7"/><circle cx="1240.5" cy="920.3" r="1.7"/><circle cx="1228.8" cy="1113.4" r="1.7"/><circle cx="1240.8" cy="993.5" r="1.7"/><circle cx="1253.9" cy="952.8" r="1.7"/><circle cx="1233.8" cy="1066.6" r="1.7"/><circle cx="1229.2" cy="1012.3" r="1.7"/><circle cx="1230.5" cy="1115.3" r="1.7"/><circle cx="1240.1" cy="1058.8" r="1.7"/><circle cx="1246.5" cy="1076.9" r="1.7"/><circle cx="1250.2" cy="989.6" r="1.7"/><circle cx="1248.2" cy="1015.7" r="1.7"/><circle cx="1247.5" cy="982.7" r="1.7"/><circle cx="1243.6" cy="1055.1" r="1.7"/><circle cx="1235.0" cy="973.9" r="1.7"/><circle cx="1228.9" cy="1047.5" r="1.7"/><circle cx="1231.6" cy="1008.8" r="1.7"/><circle cx="1233.5" cy="1031.6" r="1.7"/><circle cx="1251.7" cy="1107.9" r="1.7"/><circle cx="1253.5" cy="1052.9" r="1.7"/><circle cx="1243.9" cy="991.6" r="1.7"/><circle cx="1245.5" cy="1024.4" r="1.7"/><circle cx="1233.5" cy="978.5" r="1.7"/><circle cx="1235.6" cy="1016.4" r="1.7"/><circle cx="1234.3" cy="1079.5" r="1.7"/><circle cx="1252.9" cy="984.5" r="1.7"/><circle cx="1233.1" cy="1033.9" r="1.7"/><circle cx="1236.6" cy="1082.8" r="1.7"/><circle cx="1251.6" cy="1045.1" r="1.7"/><circle cx="1241.4" cy="1018.3" r="1.7"/><circle cx="1233.2" cy="1005.6" r="1.7"/><circle cx="1240.0" cy="1045.3" r="1.7"/><circle cx="1236.6" cy="1134.7" r="1.7"/><circle cx="1244.3" cy="1012.5" r="1.7"/><circle cx="1230.5" cy="1064.5" r="1.7"/><circle cx="1232.6" cy="1012.6" r="1.7"/><circle cx="1253.7" cy="1173.9" r="1.7"/><circle cx="1253.0" cy="992.4" r="1.7"/><circle cx="1248.6" cy="1054.9" r="1.7"/><circle cx="1244.9" cy="963.7" r="1.7"/><circle cx="1235.7" cy="1154.1" r="1.7"/><circle cx="1240.0" cy="1044.6" r="1.7"/><circle cx="1233.4" cy="1012.4" r="1.7"/><circle cx="1229.2" cy="1070.8" r="1.7"/><circle cx="1231.7" cy="1039.5" r="1.7"/><circle cx="1229.1" cy="1068.9" r="1.7"/><circle cx="1234.5" cy="967.4" r="1.7"/><circle cx="1243.6" cy="1020.5" r="1.7"/><circle cx="1242.8" cy="1149.4" r="1.7"/><circle cx="1234.8" cy="981.1" r="1.7"/><circle cx="1247.4" cy="1005.1" r="1.7"/><circle cx="1237.9" cy="1013.9" r="1.7"/><circle cx="1246.0" cy="1020.0" r="1.7"/><circle cx="1247.8" cy="1033.0" r="1.7"/><circle cx="1248.1" cy="990.2" r="1.7"/><circle cx="1232.4" cy="1033.7" r="1.7"/><circle cx="1236.3" cy="1083.8" r="1.7"/><circle cx="1230.1" cy="1013.7" r="1.7"/><circle cx="1232.4" cy="1056.4" r="1.7"/><circle cx="1233.8" cy="1017.1" r="1.7"/><circle cx="1230.2" cy="974.7" r="1.7"/><circle cx="1248.0" cy="1047.8" r="1.7"/><circle cx="1238.8" cy="970.7" r="1.7"/><circle cx="1251.4" cy="916.7" r="1.7"/><circle cx="1237.2" cy="1013.6" r="1.7"/><circle cx="1246.5" cy="1077.8" r="1.7"/><circle cx="1245.5" cy="1137.9" r="1.7"/><circle cx="1233.5" cy="1069.5" r="1.7"/><circle cx="1238.8" cy="1007.0" r="1.7"/><circle cx="1232.5" cy="1139.9" r="1.7"/><circle cx="1238.7" cy="984.2" r="1.7"/><circle cx="1244.7" cy="986.4" r="1.7"/><circle cx="1237.5" cy="1174.6" r="1.7"/><circle cx="1234.9" cy="1008.9" r="1.7"/><circle cx="1254.6" cy="1100.0" r="1.7"/><circle cx="1245.7" cy="1053.8" r="1.7"/><circle cx="1254.3" cy="1032.3" r="1.7"/><circle cx="1229.4" cy="1069.9" r="1.7"/><circle cx="1246.6" cy="1002.7" r="1.7"/><circle cx="1231.5" cy="970.2" r="1.7"/><circle cx="1240.9" cy="1083.0" r="1.7"/><circle cx="1232.0" cy="1062.3" r="1.7"/><circle cx="1229.7" cy="1096.4" r="1.7"/><circle cx="1232.1" cy="1034.7" r="1.7"/><circle cx="1231.1" cy="1157.4" r="1.7"/><circle cx="1245.4" cy="996.0" r="1.7"/><circle cx="1249.5" cy="1050.1" r="1.7"/><circle cx="1239.5" cy="1147.2" r="1.7"/><circle cx="1230.0" cy="922.7" r="1.7"/><circle cx="1241.1" cy="1093.1" r="1.7"/><circle cx="1230.4" cy="1049.0" r="1.7"/><circle cx="1249.2" cy="968.6" r="1.7"/><circle cx="1239.4" cy="1010.6" r="1.7"/><circle cx="1241.6" cy="1014.4" r="1.7"/><circle cx="1236.9" cy="1012.8" r="1.7"/><circle cx="1242.1" cy="977.2" r="1.7"/><circle cx="1243.8" cy="1068.6" r="1.7"/><circle cx="1241.6" cy="986.8" r="1.7"/><circle cx="1242.7" cy="1053.8" r="1.7"/><circle cx="1233.3" cy="997.6" r="1.7"/><circle cx="1239.2" cy="948.0" r="1.7"/><circle cx="1242.1" cy="1036.5" r="1.7"/><circle cx="1233.0" cy="989.5" r="1.7"/></g>
</g>
<text transform="translate(555.2,1253.5) rotate(-90)" font-size="22.5" fill="#4D4D4D" text-anchor="end">autocorrelation</text>
<text transform="translate(623.0,1253.5) rotate(-90)" font-size="22.5" fill="#4D4D4D" text-anchor="end">cluster_prominence</text>
<text transform="translate(690.7,1253.5) rotate(-90)" font-size="22.5" fill="#4D4D4D" text-anchor="end">cluster_shade</text>
<text transform="translate(758.5,1253.5) rotate(-90)" font-size="22.5" fill="#4D4D4D" text-anchor="end">contrast</text>
<text transform="translate(826.2,1253.5) rotate(-90)" font-size="22.5" fill="#4D4D4D" text-anchor="end">correlation</text>
<text transform="translate(894.0,1253.5) rotate(-90)" font-size="22.5" fill="#4D4D4D" text-anchor="end">energy</text>
<text transform="translate(961.7,1253.5) rotate(-90)" font-size="22.5" fill="#4D4D4D" text-anchor="end">entropy</text>
<text transform="translate(1029.5,1253.5) rotate(-90)" font-size="22.5" fill="#4D4D4D" text-anchor="end">homogeneity</text>
<text transform="translate(1097.2,1253.5) rotate(-90)" font-size="22.5" fill="#4D4D4D" text-anchor="end">inverse_difference</text>
<text transform="translate(1165.0,1253.5) rotate(-90)" font-size="22.5" fill="#4D4D4D" text-anchor="end">max_probability</text>
<text transform="translate(1232.7,1253.5) rotate(-90)" font-size="22.5" fill="#4D4D4D" text-anchor="end">sum_of_squares</text>
<text x="886.5" y="1479.5" font-size="28.6" fill="#1A1A1A" text-anchor="middle">Haralick Metric</text>
<rect x="1050" y="0" width="220" height="125" fill="#fff"/>
<rect x="1075.3" y="4.5" width="38" height="38" fill="#F2F2F2"/>
<line x1="1094.3" x2="1094.3" y1="8.0" y2="39.0" stroke="#E8786C" stroke-width="2.2"/>
<rect x="1079" y="13.6" width="30.7" height="19.8" fill="#fff" stroke="#E8786C" stroke-width="2.2"/>
<line x1="1079" x2="1109.7" y1="23.5" y2="23.5" stroke="#E8786C" stroke-width="2.2"/>
<text x="1127" y="31.0" font-size="19.4" fill="#222">1-Original</text>
<rect x="1075.3" y="43" width="38" height="38" fill="#F2F2F2"/>
<line x1="1094.3" x2="1094.3" y1="46.5" y2="77.5" stroke="#54B54B" stroke-width="2.2"/>
<rect x="1079" y="52.1" width="30.7" height="19.8" fill="#fff" stroke="#54B54B" stroke-width="2.2"/>
<line x1="1079" x2="1109.7" y1="62" y2="62" stroke="#54B54B" stroke-width="2.2"/>
<text x="1127" y="69.5" font-size="19.4" fill="#222">2-Noisy</text>
<rect x="1075.3" y="81.5" width="38" height="38" fill="#F2F2F2"/>
<line x1="1094.3" x2="1094.3" y1="85.0" y2="116.0" stroke="#71A3F6" stroke-width="2.2"/>
<rect x="1079" y="90.6" width="30.7" height="19.8" fill="#fff" stroke="#71A3F6" stroke-width="2.2"/>
<line x1="1079" x2="1109.7" y1="100.5" y2="100.5" stroke="#71A3F6" stroke-width="2.2"/>
<text x="1127" y="108.0" font-size="19.4" fill="#222">3-Randomised</text>
<text transform="translate(0,155.7) scale(1,1.07)" x="0" y="0" font-size="68" fill="#000">(A)</text>
<text transform="translate(0,535.6) scale(1,1.07)" x="0" y="0" font-size="68" fill="#000">(B)</text>
<text transform="translate(0,914.5) scale(1,1.07)" x="0" y="0" font-size="68" fill="#000">(C)</text>
<g stroke="#BFBFBF" stroke-width="1.6"><line x1="198.3" y1="287.6" x2="165.2" y2="229.8"/><line x1="198.3" y1="287.6" x2="266.5" y2="286.0"/><line x1="198.3" y1="287.6" x2="164.5" y2="348.3"/><line x1="165.2" y1="229.8" x2="143.2" y2="190.1"/><line x1="165.2" y1="229.8" x2="182.7" y2="188.4"/><line x1="165.2" y1="229.8" x2="120.1" y2="223.2"/><line x1="143.2" y1="190.1" x2="129.1" y2="164.8"/><line x1="143.2" y1="190.1" x2="143.7" y2="164.8"/><line x1="143.2" y1="190.1" x2="121.5" y2="177.3"/><line x1="182.7" y1="188.4" x2="179.8" y2="162.4"/><line x1="182.7" y1="188.4" x2="194.5" y2="162.9"/><line x1="182.7" y1="188.4" x2="202.8" y2="176.6"/><line x1="120.1" y1="223.2" x2="100.0" y2="206.1"/><line x1="120.1" y1="223.2" x2="91.7" y2="219.1"/><line x1="120.1" y1="223.2" x2="97.6" y2="232.8"/><line x1="266.5" y1="286.0" x2="293.2" y2="252.2"/><line x1="266.5" y1="286.0" x2="316.9" y2="284.6"/><line x1="266.5" y1="286.0" x2="290.2" y2="317.6"/><line x1="293.2" y1="252.2" x2="295.1" y2="229.3"/><line x1="293.2" y1="252.2" x2="311.0" y2="229.8"/><line x1="293.2" y1="252.2" x2="316.9" y2="243.9"/><line x1="316.9" y1="284.6" x2="341.7" y2="272.3"/><line x1="316.9" y1="284.6" x2="347.6" y2="285.3"/><line x1="316.9" y1="284.6" x2="341.0" y2="299.5"/><line x1="290.2" y1="317.6" x2="312.6" y2="325.4"/><line x1="290.2" y1="317.6" x2="305.5" y2="339.6"/><line x1="290.2" y1="317.6" x2="290.2" y2="341.3"/><line x1="164.5" y1="348.3" x2="124.3" y2="351.0"/><line x1="164.5" y1="348.3" x2="137.3" y2="388.7"/><line x1="164.5" y1="348.3" x2="179.4" y2="389.9"/><line x1="124.3" y1="351.0" x2="105.4" y2="338.9"/><line x1="124.3" y1="351.0" x2="97.2" y2="353.3"/><line x1="124.3" y1="351.0" x2="104.7" y2="366.3"/><line x1="137.3" y1="388.7" x2="113.2" y2="401.7"/><line x1="137.3" y1="388.7" x2="120.8" y2="414.7"/><line x1="137.3" y1="388.7" x2="135.0" y2="414.7"/><line x1="179.4" y1="389.9" x2="199.5" y2="404.1"/><line x1="179.4" y1="389.9" x2="174.6" y2="415.9"/><line x1="179.4" y1="389.9" x2="189.3" y2="415.9"/></g>
<g stroke="#222" stroke-width="1.45"><circle cx="129.1" cy="164.8" r="10.0" fill="#3F9C72"/><circle cx="143.7" cy="164.8" r="10.0" fill="#3F9C72"/><circle cx="121.5" cy="177.3" r="10.0" fill="#3F9C72"/><circle cx="143.2" cy="190.1" r="10.0" fill="#E2A236"/><circle cx="179.8" cy="162.4" r="10.0" fill="#3F9C72"/><circle cx="194.5" cy="162.9" r="10.0" fill="#3F9C72"/><circle cx="202.8" cy="176.6" r="10.0" fill="#3F9C72"/><circle cx="182.7" cy="188.4" r="10.0" fill="#E2A236"/><circle cx="100.0" cy="206.1" r="10.0" fill="#3F9C72"/><circle cx="91.7" cy="219.1" r="10.0" fill="#3F9C72"/><circle cx="97.6" cy="232.8" r="10.0" fill="#3F9C72"/><circle cx="120.1" cy="223.2" r="10.0" fill="#E2A236"/><circle cx="165.2" cy="229.8" r="10.0" fill="#3F9C72"/><circle cx="198.3" cy="287.6" r="10.0" fill="#E2A236"/><circle cx="266.5" cy="286.0" r="10.0" fill="#69B2E4"/><circle cx="295.1" cy="229.3" r="10.0" fill="#69B2E4"/><circle cx="311.0" cy="229.8" r="10.0" fill="#69B2E4"/><circle cx="316.9" cy="243.9" r="10.0" fill="#69B2E4"/><circle cx="293.2" cy="252.2" r="10.0" fill="#E2A236"/><circle cx="341.7" cy="272.3" r="10.0" fill="#69B2E4"/><circle cx="347.6" cy="285.3" r="10.0" fill="#69B2E4"/><circle cx="341.0" cy="299.5" r="10.0" fill="#69B2E4"/><circle cx="316.9" cy="284.6" r="10.0" fill="#E2A236"/><circle cx="290.2" cy="317.6" r="10.0" fill="#E2A236"/><circle cx="312.6" cy="325.4" r="10.0" fill="#69B2E4"/><circle cx="305.5" cy="339.6" r="10.0" fill="#69B2E4"/><circle cx="290.2" cy="341.3" r="10.0" fill="#69B2E4"/><circle cx="164.5" cy="348.3" r="10.0" fill="#EDE25A"/><circle cx="105.4" cy="338.9" r="10.0" fill="#EDE25A"/><circle cx="97.2" cy="353.3" r="10.0" fill="#EDE25A"/><circle cx="104.7" cy="366.3" r="10.0" fill="#EDE25A"/><circle cx="124.3" cy="351.0" r="10.0" fill="#2E70B0"/><circle cx="137.3" cy="388.7" r="10.0" fill="#2E70B0"/><circle cx="113.2" cy="401.7" r="10.0" fill="#EDE25A"/><circle cx="120.8" cy="414.7" r="10.0" fill="#EDE25A"/><circle cx="135.0" cy="414.7" r="10.0" fill="#EDE25A"/><circle cx="179.4" cy="389.9" r="10.0" fill="#2E70B0"/><circle cx="199.5" cy="404.1" r="10.0" fill="#EDE25A"/><circle cx="174.6" cy="415.9" r="10.0" fill="#EDE25A"/><circle cx="189.3" cy="415.9" r="10.0" fill="#EDE25A"/></g>
<g stroke="#BFBFBF" stroke-width="1.6"><line x1="93.9" y1="612.0" x2="115.5" y2="619.0"/><line x1="115.5" y1="619.0" x2="109.0" y2="635.4"/><line x1="115.5" y1="619.0" x2="131.6" y2="616.4"/><line x1="109.0" y1="635.4" x2="130.3" y2="639.0"/><line x1="131.6" y1="616.4" x2="153.1" y2="622.4"/><line x1="131.6" y1="616.4" x2="142.8" y2="628.1"/><line x1="130.3" y1="639.0" x2="142.8" y2="628.1"/><line x1="130.3" y1="639.0" x2="145.4" y2="656.7"/><line x1="153.1" y1="622.4" x2="142.8" y2="628.1"/><line x1="153.1" y1="622.4" x2="167.4" y2="594.3"/><line x1="153.1" y1="622.4" x2="188.2" y2="617.7"/><line x1="145.4" y1="656.7" x2="149.3" y2="663.2"/><line x1="149.3" y1="663.2" x2="166.7" y2="685.3"/><line x1="166.7" y1="685.3" x2="175.2" y2="709.2"/><line x1="166.7" y1="685.3" x2="201.2" y2="704.8"/><line x1="175.2" y1="709.2" x2="160.4" y2="733.3"/><line x1="190.3" y1="499.5" x2="195.2" y2="529.4"/><line x1="195.2" y1="529.4" x2="184.8" y2="541.6"/><line x1="195.2" y1="529.4" x2="195.5" y2="549.6"/><line x1="184.8" y1="541.6" x2="195.5" y2="549.6"/><line x1="195.5" y1="549.6" x2="185.1" y2="561.9"/><line x1="185.1" y1="561.9" x2="197.3" y2="568.3"/><line x1="197.3" y1="568.3" x2="192.1" y2="582.1"/><line x1="197.3" y1="568.3" x2="235.0" y2="596.9"/><line x1="192.1" y1="582.1" x2="180.4" y2="598.2"/><line x1="167.4" y1="594.3" x2="180.4" y2="598.2"/><line x1="180.4" y1="598.2" x2="188.2" y2="617.7"/><line x1="180.4" y1="598.2" x2="198.6" y2="608.6"/><line x1="188.2" y1="617.7" x2="198.6" y2="608.6"/><line x1="188.2" y1="617.7" x2="220.2" y2="637.2"/><line x1="198.6" y1="608.6" x2="220.2" y2="637.2"/><line x1="220.2" y1="637.2" x2="253.2" y2="695.7"/><line x1="280.0" y1="567.8" x2="268.8" y2="577.4"/><line x1="280.0" y1="567.8" x2="275.8" y2="593.0"/><line x1="268.8" y1="577.4" x2="275.8" y2="593.0"/><line x1="235.0" y1="596.9" x2="254.5" y2="598.2"/><line x1="254.5" y1="598.2" x2="275.8" y2="593.0"/><line x1="254.5" y1="598.2" x2="259.2" y2="620.3"/><line x1="275.8" y1="593.0" x2="305.7" y2="589.1"/><line x1="275.8" y1="593.0" x2="291.4" y2="610.4"/><line x1="305.7" y1="589.1" x2="291.4" y2="610.4"/><line x1="291.4" y1="610.4" x2="259.2" y2="620.3"/><line x1="291.4" y1="610.4" x2="326.7" y2="619.8"/><line x1="259.2" y1="620.3" x2="254.0" y2="626.0"/><line x1="259.2" y1="620.3" x2="260.5" y2="671.8"/><line x1="254.0" y1="626.0" x2="231.6" y2="670.2"/><line x1="231.6" y1="670.2" x2="202.0" y2="690.0"/><line x1="231.6" y1="670.2" x2="234.2" y2="700.9"/><line x1="202.0" y1="690.0" x2="201.2" y2="704.8"/><line x1="374.5" y1="604.7" x2="355.8" y2="621.6"/><line x1="374.5" y1="604.7" x2="374.5" y2="627.6"/><line x1="326.7" y1="619.8" x2="343.4" y2="625.0"/><line x1="326.7" y1="619.8" x2="327.2" y2="644.2"/><line x1="355.8" y1="621.6" x2="343.4" y2="625.0"/><line x1="355.8" y1="621.6" x2="374.5" y2="627.6"/><line x1="355.8" y1="621.6" x2="364.9" y2="642.4"/><line x1="343.4" y1="625.0" x2="341.5" y2="646.3"/><line x1="374.5" y1="627.6" x2="364.9" y2="642.4"/><line x1="327.2" y1="644.2" x2="341.5" y2="646.3"/><line x1="327.2" y1="644.2" x2="311.1" y2="666.3"/><line x1="327.2" y1="644.2" x2="333.0" y2="667.6"/><line x1="311.1" y1="666.3" x2="333.0" y2="667.6"/><line x1="311.1" y1="666.3" x2="277.1" y2="672.8"/><line x1="333.0" y1="667.6" x2="334.5" y2="686.1"/><line x1="334.5" y1="686.1" x2="352.4" y2="704.8"/><line x1="260.5" y1="671.8" x2="277.1" y2="672.8"/><line x1="260.5" y1="671.8" x2="264.4" y2="689.2"/><line x1="277.1" y1="672.8" x2="277.1" y2="690.5"/><line x1="265.4" y1="701.4" x2="277.1" y2="690.5"/><line x1="265.4" y1="701.4" x2="264.4" y2="689.2"/><line x1="265.4" y1="701.4" x2="253.2" y2="695.7"/><line x1="277.1" y1="690.5" x2="264.4" y2="689.2"/><line x1="264.4" y1="689.2" x2="253.2" y2="695.7"/><line x1="234.2" y1="700.9" x2="240.2" y2="707.4"/><line x1="234.2" y1="700.9" x2="253.2" y2="695.7"/><line x1="234.2" y1="700.9" x2="201.2" y2="704.8"/><line x1="240.2" y1="707.4" x2="253.2" y2="695.7"/><line x1="201.2" y1="704.8" x2="217.6" y2="719.1"/><line x1="217.6" y1="719.1" x2="231.1" y2="730.7"/><line x1="231.1" y1="730.7" x2="243.3" y2="750.2"/><line x1="243.3" y1="750.2" x2="245.4" y2="780.1"/></g>
<g stroke="#222" stroke-width="1.45"><circle cx="93.9" cy="612.0" r="10.0" fill="#2E70B0"/><circle cx="115.5" cy="619.0" r="10.0" fill="#2E70B0"/><circle cx="109.0" cy="635.4" r="10.0" fill="#2E70B0"/><circle cx="131.6" cy="616.4" r="10.0" fill="#2E70B0"/><circle cx="130.3" cy="639.0" r="10.0" fill="#2E70B0"/><circle cx="153.1" cy="622.4" r="10.0" fill="#2E70B0"/><circle cx="142.8" cy="628.1" r="10.0" fill="#2E70B0"/><circle cx="145.4" cy="656.7" r="10.0" fill="#2E70B0"/><circle cx="149.3" cy="663.2" r="10.0" fill="#2E70B0"/><circle cx="166.7" cy="685.3" r="10.0" fill="#2E70B0"/><circle cx="175.2" cy="709.2" r="10.0" fill="#2E70B0"/><circle cx="160.4" cy="733.3" r="10.0" fill="#2E70B0"/><circle cx="190.3" cy="499.5" r="10.0" fill="#E2A236"/><circle cx="195.2" cy="529.4" r="10.0" fill="#E2A236"/><circle cx="184.8" cy="541.6" r="10.0" fill="#E2A236"/><circle cx="195.5" cy="549.6" r="10.0" fill="#E2A236"/><circle cx="185.1" cy="561.9" r="10.0" fill="#E2A236"/><circle cx="197.3" cy="568.3" r="10.0" fill="#E2A236"/><circle cx="192.1" cy="582.1" r="10.0" fill="#E2A236"/><circle cx="167.4" cy="594.3" r="10.0" fill="#E2A236"/><circle cx="180.4" cy="598.2" r="10.0" fill="#E2A236"/><circle cx="188.2" cy="617.7" r="10.0" fill="#E2A236"/><circle cx="198.6" cy="608.6" r="10.0" fill="#E2A236"/><circle cx="220.2" cy="637.2" r="10.0" fill="#E2A236"/><circle cx="280.0" cy="567.8" r="10.0" fill="#69B2E4"/><circle cx="268.8" cy="577.4" r="10.0" fill="#69B2E4"/><circle cx="235.0" cy="596.9" r="10.0" fill="#69B2E4"/><circle cx="254.5" cy="598.2" r="10.0" fill="#69B2E4"/><circle cx="275.8" cy="593.0" r="10.0" fill="#69B2E4"/><circle cx="305.7" cy="589.1" r="10.0" fill="#69B2E4"/><circle cx="291.4" cy="610.4" r="10.0" fill="#69B2E4"/><circle cx="259.2" cy="620.3" r="10.0" fill="#69B2E4"/><circle cx="254.0" cy="626.0" r="10.0" fill="#69B2E4"/><circle cx="231.6" cy="670.2" r="10.0" fill="#69B2E4"/><circle cx="202.0" cy="690.0" r="10.0" fill="#69B2E4"/><circle cx="374.5" cy="604.7" r="10.0" fill="#EDE25A"/><circle cx="326.7" cy="619.8" r="10.0" fill="#EDE25A"/><circle cx="355.8" cy="621.6" r="10.0" fill="#EDE25A"/><circle cx="343.4" cy="625.0" r="10.0" fill="#EDE25A"/><circle cx="374.5" cy="627.6" r="10.0" fill="#EDE25A"/><circle cx="327.2" cy="644.2" r="10.0" fill="#EDE25A"/><circle cx="341.5" cy="646.3" r="10.0" fill="#EDE25A"/><circle cx="364.9" cy="642.4" r="10.0" fill="#EDE25A"/><circle cx="311.1" cy="666.3" r="10.0" fill="#EDE25A"/><circle cx="333.0" cy="667.6" r="10.0" fill="#EDE25A"/><circle cx="334.5" cy="686.1" r="10.0" fill="#EDE25A"/><circle cx="352.4" cy="704.8" r="10.0" fill="#EDE25A"/><circle cx="260.5" cy="671.8" r="10.0" fill="#3F9C72"/><circle cx="277.1" cy="672.8" r="10.0" fill="#3F9C72"/><circle cx="265.4" cy="701.4" r="10.0" fill="#3F9C72"/><circle cx="277.1" cy="690.5" r="10.0" fill="#3F9C72"/><circle cx="264.4" cy="689.2" r="10.0" fill="#3F9C72"/><circle cx="234.2" cy="700.9" r="10.0" fill="#3F9C72"/><circle cx="240.2" cy="707.4" r="10.0" fill="#3F9C72"/><circle cx="253.2" cy="695.7" r="10.0" fill="#3F9C72"/><circle cx="201.2" cy="704.8" r="10.0" fill="#3F9C72"/><circle cx="217.6" cy="719.1" r="10.0" fill="#3F9C72"/><circle cx="231.1" cy="730.7" r="10.0" fill="#3F9C72"/><circle cx="243.3" cy="750.2" r="10.0" fill="#3F9C72"/><circle cx="245.4" cy="780.1" r="10.0" fill="#3F9C72"/></g>
<g stroke="#BFBFBF" stroke-width="1.6"><line x1="183.0" y1="910.8" x2="195.5" y2="928.5"/><line x1="195.5" y1="928.5" x2="210.3" y2="935.5"/><line x1="195.5" y1="928.5" x2="177.8" y2="940.7"/><line x1="195.5" y1="928.5" x2="198.6" y2="943.3"/><line x1="210.3" y1="935.5" x2="235.8" y2="935.5"/><line x1="210.3" y1="935.5" x2="198.6" y2="943.3"/><line x1="210.3" y1="935.5" x2="209.8" y2="957.0"/><line x1="235.8" y1="935.5" x2="241.5" y2="960.2"/><line x1="235.8" y1="935.5" x2="251.9" y2="969.3"/><line x1="177.8" y1="940.7" x2="198.6" y2="943.3"/><line x1="177.8" y1="940.7" x2="184.3" y2="953.7"/><line x1="198.6" y1="943.3" x2="184.3" y2="953.7"/><line x1="198.6" y1="943.3" x2="209.8" y2="957.0"/><line x1="184.3" y1="953.7" x2="181.7" y2="971.9"/><line x1="209.8" y1="957.0" x2="203.8" y2="971.9"/><line x1="241.5" y1="960.2" x2="231.6" y2="968.0"/><line x1="241.5" y1="960.2" x2="251.9" y2="969.3"/><line x1="241.5" y1="960.2" x2="270.1" y2="968.0"/><line x1="231.6" y1="968.0" x2="216.8" y2="979.6"/><line x1="231.6" y1="968.0" x2="251.9" y2="969.3"/><line x1="181.7" y1="971.9" x2="190.8" y2="983.5"/><line x1="181.7" y1="971.9" x2="176.5" y2="991.3"/><line x1="203.8" y1="971.9" x2="216.8" y2="979.6"/><line x1="203.8" y1="971.9" x2="201.2" y2="984.8"/><line x1="216.8" y1="979.6" x2="201.2" y2="984.8"/><line x1="162.2" y1="982.2" x2="176.5" y2="991.3"/><line x1="162.2" y1="982.2" x2="149.3" y2="977.0"/><line x1="162.2" y1="982.2" x2="148.0" y2="993.9"/><line x1="190.8" y1="983.5" x2="201.2" y2="984.8"/><line x1="190.8" y1="983.5" x2="176.5" y2="991.3"/><line x1="201.2" y1="984.8" x2="199.9" y2="1004.3"/><line x1="201.2" y1="984.8" x2="211.6" y2="997.8"/><line x1="176.5" y1="991.3" x2="162.2" y2="1004.3"/><line x1="199.9" y1="1004.3" x2="222.0" y2="1005.6"/><line x1="199.9" y1="1004.3" x2="211.6" y2="997.8"/><line x1="199.9" y1="1004.3" x2="189.5" y2="1018.6"/><line x1="162.2" y1="1004.3" x2="172.6" y2="1017.3"/><line x1="162.2" y1="1004.3" x2="148.0" y2="993.9"/><line x1="222.0" y1="1005.6" x2="211.6" y2="997.8"/><line x1="222.0" y1="1005.6" x2="245.4" y2="1010.8"/><line x1="222.0" y1="1005.6" x2="249.3" y2="1045.9"/><line x1="172.6" y1="1017.3" x2="189.5" y2="1018.6"/><line x1="172.6" y1="1017.3" x2="158.3" y2="1031.6"/><line x1="241.5" y1="1023.8" x2="245.4" y2="1010.8"/><line x1="241.5" y1="1023.8" x2="266.2" y2="1030.3"/><line x1="241.5" y1="1023.8" x2="249.3" y2="1045.9"/><line x1="90.8" y1="1061.5" x2="120.7" y2="1057.6"/><line x1="120.7" y1="1057.6" x2="155.7" y2="1056.3"/><line x1="155.7" y1="1056.3" x2="164.8" y2="1048.5"/><line x1="155.7" y1="1056.3" x2="176.5" y2="1047.2"/><line x1="155.7" y1="1056.3" x2="151.9" y2="1084.9"/><line x1="155.7" y1="1056.3" x2="158.3" y2="1031.6"/><line x1="164.8" y1="1048.5" x2="176.5" y2="1047.2"/><line x1="164.8" y1="1048.5" x2="158.3" y2="1031.6"/><line x1="176.5" y1="1047.2" x2="190.8" y2="1052.4"/><line x1="176.5" y1="1047.2" x2="198.6" y2="1065.4"/><line x1="176.5" y1="1047.2" x2="158.3" y2="1031.6"/><line x1="190.8" y1="1052.4" x2="198.6" y2="1065.4"/><line x1="190.8" y1="1052.4" x2="186.9" y2="1070.6"/><line x1="198.6" y1="1065.4" x2="186.9" y2="1070.6"/><line x1="198.6" y1="1065.4" x2="224.6" y2="1079.7"/><line x1="186.9" y1="1070.6" x2="185.6" y2="1092.7"/><line x1="232.4" y1="1053.7" x2="224.6" y2="1079.7"/><line x1="232.4" y1="1053.7" x2="189.5" y2="1018.6"/><line x1="232.4" y1="1053.7" x2="249.3" y2="1045.9"/><line x1="232.4" y1="1053.7" x2="266.2" y2="1070.6"/><line x1="224.6" y1="1079.7" x2="207.7" y2="1094.0"/><line x1="224.6" y1="1079.7" x2="249.3" y2="1096.6"/><line x1="151.9" y1="1084.9" x2="171.3" y2="1091.4"/><line x1="151.9" y1="1084.9" x2="122.0" y2="1104.4"/><line x1="151.9" y1="1084.9" x2="163.5" y2="1105.7"/><line x1="171.3" y1="1091.4" x2="185.6" y2="1092.7"/><line x1="171.3" y1="1091.4" x2="163.5" y2="1105.7"/><line x1="185.6" y1="1092.7" x2="207.7" y2="1094.0"/><line x1="185.6" y1="1092.7" x2="193.4" y2="1112.2"/><line x1="207.7" y1="1094.0" x2="193.4" y2="1112.2"/><line x1="207.7" y1="1094.0" x2="225.9" y2="1129.1"/><line x1="122.0" y1="1104.4" x2="145.4" y2="1122.6"/><line x1="163.5" y1="1105.7" x2="145.4" y2="1122.6"/><line x1="193.4" y1="1112.2" x2="188.2" y2="1127.8"/><line x1="193.4" y1="1112.2" x2="225.9" y2="1129.1"/><line x1="188.2" y1="1127.8" x2="219.4" y2="1152.4"/><line x1="120.7" y1="956.3" x2="149.3" y2="977.0"/><line x1="149.3" y1="977.0" x2="148.0" y2="993.9"/><line x1="251.9" y1="969.3" x2="270.1" y2="968.0"/><line x1="251.9" y1="969.3" x2="245.4" y2="1010.8"/><line x1="270.1" y1="968.0" x2="289.6" y2="973.1"/><line x1="270.1" y1="968.0" x2="270.1" y2="1000.4"/><line x1="289.6" y1="973.1" x2="298.7" y2="995.2"/><line x1="289.6" y1="973.1" x2="287.0" y2="999.1"/><line x1="320.7" y1="983.5" x2="348.0" y2="980.9"/><line x1="320.7" y1="983.5" x2="298.7" y2="995.2"/><line x1="320.7" y1="983.5" x2="327.2" y2="993.9"/><line x1="320.7" y1="983.5" x2="337.6" y2="1008.2"/><line x1="320.7" y1="983.5" x2="311.7" y2="992.6"/><line x1="348.0" y1="980.9" x2="376.6" y2="962.8"/><line x1="348.0" y1="980.9" x2="327.2" y2="993.9"/><line x1="348.0" y1="980.9" x2="337.6" y2="1008.2"/><line x1="211.6" y1="997.8" x2="245.4" y2="1010.8"/><line x1="245.4" y1="1010.8" x2="270.1" y2="1000.4"/><line x1="270.1" y1="1000.4" x2="287.0" y2="999.1"/><line x1="270.1" y1="1000.4" x2="283.1" y2="1018.6"/><line x1="298.7" y1="995.2" x2="306.5" y2="1009.5"/><line x1="298.7" y1="995.2" x2="287.0" y2="999.1"/><line x1="298.7" y1="995.2" x2="311.7" y2="992.6"/><line x1="327.2" y1="993.9" x2="337.6" y2="1008.2"/><line x1="327.2" y1="993.9" x2="311.7" y2="992.6"/><line x1="306.5" y1="1009.5" x2="311.7" y2="992.6"/><line x1="306.5" y1="1009.5" x2="296.1" y2="1014.7"/><line x1="306.5" y1="1009.5" x2="313.0" y2="1038.1"/><line x1="287.0" y1="999.1" x2="296.1" y2="1014.7"/><line x1="287.0" y1="999.1" x2="283.1" y2="1018.6"/><line x1="296.1" y1="1014.7" x2="283.1" y2="1018.6"/><line x1="296.1" y1="1014.7" x2="313.0" y2="1038.1"/><line x1="283.1" y1="1018.6" x2="266.2" y2="1030.3"/><line x1="283.1" y1="1018.6" x2="277.9" y2="1034.2"/><line x1="266.2" y1="1030.3" x2="277.9" y2="1034.2"/><line x1="266.2" y1="1030.3" x2="277.9" y2="1044.6"/><line x1="266.2" y1="1030.3" x2="249.3" y2="1045.9"/><line x1="277.9" y1="1034.2" x2="277.9" y2="1044.6"/><line x1="277.9" y1="1034.2" x2="280.5" y2="1058.9"/><line x1="313.0" y1="1038.1" x2="301.3" y2="1043.3"/><line x1="313.0" y1="1038.1" x2="309.1" y2="1058.9"/><line x1="301.3" y1="1043.3" x2="277.9" y2="1044.6"/><line x1="301.3" y1="1043.3" x2="309.1" y2="1058.9"/><line x1="277.9" y1="1044.6" x2="280.5" y2="1058.9"/><line x1="277.9" y1="1044.6" x2="266.2" y2="1070.6"/><line x1="249.3" y1="1045.9" x2="280.5" y2="1058.9"/><line x1="318.1" y1="1074.5" x2="309.1" y2="1058.9"/><line x1="318.1" y1="1074.5" x2="315.6" y2="1092.7"/><line x1="318.1" y1="1074.5" x2="305.2" y2="1081.0"/><line x1="280.5" y1="1058.9" x2="266.2" y2="1070.6"/><line x1="309.1" y1="1058.9" x2="305.2" y2="1081.0"/><line x1="266.2" y1="1070.6" x2="249.3" y2="1096.6"/><line x1="266.2" y1="1070.6" x2="271.4" y2="1096.6"/><line x1="315.6" y1="1092.7" x2="305.2" y2="1081.0"/><line x1="315.6" y1="1092.7" x2="315.6" y2="1112.2"/><line x1="305.2" y1="1081.0" x2="285.7" y2="1095.3"/><line x1="249.3" y1="1096.6" x2="271.4" y2="1096.6"/><line x1="271.4" y1="1096.6" x2="285.7" y2="1095.3"/><line x1="271.4" y1="1096.6" x2="280.5" y2="1110.9"/><line x1="285.7" y1="1095.3" x2="298.7" y2="1117.4"/><line x1="285.7" y1="1095.3" x2="280.5" y2="1110.9"/><line x1="298.7" y1="1117.4" x2="315.6" y2="1112.2"/><line x1="298.7" y1="1117.4" x2="280.5" y2="1110.9"/><line x1="298.7" y1="1117.4" x2="290.9" y2="1134.3"/><line x1="280.5" y1="1110.9" x2="277.9" y2="1127.8"/><line x1="225.9" y1="1129.1" x2="244.1" y2="1126.5"/><line x1="225.9" y1="1129.1" x2="219.4" y2="1152.4"/><line x1="225.9" y1="1129.1" x2="223.3" y2="1144.6"/><line x1="244.1" y1="1126.5" x2="267.5" y2="1131.7"/><line x1="244.1" y1="1126.5" x2="254.5" y2="1135.6"/><line x1="244.1" y1="1126.5" x2="223.3" y2="1144.6"/><line x1="267.5" y1="1131.7" x2="277.9" y2="1127.8"/><line x1="267.5" y1="1131.7" x2="254.5" y2="1135.6"/><line x1="267.5" y1="1131.7" x2="257.1" y2="1151.1"/><line x1="267.5" y1="1131.7" x2="279.2" y2="1143.3"/><line x1="277.9" y1="1127.8" x2="290.9" y2="1134.3"/><line x1="277.9" y1="1127.8" x2="279.2" y2="1143.3"/><line x1="290.9" y1="1134.3" x2="287.0" y2="1156.3"/><line x1="290.9" y1="1134.3" x2="279.2" y2="1143.3"/><line x1="254.5" y1="1135.6" x2="257.1" y2="1151.1"/><line x1="219.4" y1="1152.4" x2="223.3" y2="1144.6"/><line x1="219.4" y1="1152.4" x2="257.1" y2="1151.1"/><line x1="257.1" y1="1151.1" x2="287.0" y2="1156.3"/><line x1="257.1" y1="1151.1" x2="279.2" y2="1143.3"/><line x1="287.0" y1="1156.3" x2="279.2" y2="1143.3"/><line x1="287.0" y1="1156.3" x2="303.9" y2="1171.9"/><line x1="303.9" y1="1171.9" x2="300.0" y2="1197.9"/></g>
<g stroke="#222" stroke-width="1.45"><circle cx="183.0" cy="910.8" r="10.0" fill="#E2A236"/><circle cx="195.5" cy="928.5" r="10.0" fill="#E2A236"/><circle cx="210.3" cy="935.5" r="10.0" fill="#E2A236"/><circle cx="235.8" cy="935.5" r="10.0" fill="#E2A236"/><circle cx="177.8" cy="940.7" r="10.0" fill="#E2A236"/><circle cx="198.6" cy="943.3" r="10.0" fill="#E2A236"/><circle cx="184.3" cy="953.7" r="10.0" fill="#E2A236"/><circle cx="209.8" cy="957.0" r="10.0" fill="#E2A236"/><circle cx="241.5" cy="960.2" r="10.0" fill="#E2A236"/><circle cx="231.6" cy="968.0" r="10.0" fill="#E2A236"/><circle cx="181.7" cy="971.9" r="10.0" fill="#E2A236"/><circle cx="203.8" cy="971.9" r="10.0" fill="#E2A236"/><circle cx="216.8" cy="979.6" r="10.0" fill="#E2A236"/><circle cx="162.2" cy="982.2" r="10.0" fill="#E2A236"/><circle cx="190.8" cy="983.5" r="10.0" fill="#E2A236"/><circle cx="201.2" cy="984.8" r="10.0" fill="#E2A236"/><circle cx="176.5" cy="991.3" r="10.0" fill="#E2A236"/><circle cx="199.9" cy="1004.3" r="10.0" fill="#E2A236"/><circle cx="162.2" cy="1004.3" r="10.0" fill="#E2A236"/><circle cx="222.0" cy="1005.6" r="10.0" fill="#E2A236"/><circle cx="172.6" cy="1017.3" r="10.0" fill="#E2A236"/><circle cx="241.5" cy="1023.8" r="10.0" fill="#E2A236"/><circle cx="90.8" cy="1061.5" r="10.0" fill="#E2A236"/><circle cx="120.7" cy="1057.6" r="10.0" fill="#E2A236"/><circle cx="155.7" cy="1056.3" r="10.0" fill="#E2A236"/><circle cx="164.8" cy="1048.5" r="10.0" fill="#E2A236"/><circle cx="176.5" cy="1047.2" r="10.0" fill="#E2A236"/><circle cx="190.8" cy="1052.4" r="10.0" fill="#E2A236"/><circle cx="198.6" cy="1065.4" r="10.0" fill="#E2A236"/><circle cx="186.9" cy="1070.6" r="10.0" fill="#E2A236"/><circle cx="232.4" cy="1053.7" r="10.0" fill="#E2A236"/><circle cx="224.6" cy="1079.7" r="10.0" fill="#E2A236"/><circle cx="151.9" cy="1084.9" r="10.0" fill="#E2A236"/><circle cx="171.3" cy="1091.4" r="10.0" fill="#E2A236"/><circle cx="185.6" cy="1092.7" r="10.0" fill="#E2A236"/><circle cx="207.7" cy="1094.0" r="10.0" fill="#E2A236"/><circle cx="122.0" cy="1104.4" r="10.0" fill="#E2A236"/><circle cx="163.5" cy="1105.7" r="10.0" fill="#E2A236"/><circle cx="193.4" cy="1112.2" r="10.0" fill="#E2A236"/><circle cx="145.4" cy="1122.6" r="10.0" fill="#E2A236"/><circle cx="188.2" cy="1127.8" r="10.0" fill="#E2A236"/><circle cx="120.7" cy="956.3" r="10.0" fill="#3F9C72"/><circle cx="149.3" cy="977.0" r="10.0" fill="#3F9C72"/><circle cx="148.0" cy="993.9" r="10.0" fill="#3F9C72"/><circle cx="251.9" cy="969.3" r="10.0" fill="#3F9C72"/><circle cx="270.1" cy="968.0" r="10.0" fill="#3F9C72"/><circle cx="289.6" cy="973.1" r="10.0" fill="#3F9C72"/><circle cx="320.7" cy="983.5" r="10.0" fill="#3F9C72"/><circle cx="348.0" cy="980.9" r="10.0" fill="#3F9C72"/><circle cx="376.6" cy="962.8" r="10.0" fill="#3F9C72"/><circle cx="211.6" cy="997.8" r="10.0" fill="#3F9C72"/><circle cx="189.5" cy="1018.6" r="10.0" fill="#3F9C72"/><circle cx="158.3" cy="1031.6" r="10.0" fill="#3F9C72"/><circle cx="245.4" cy="1010.8" r="10.0" fill="#3F9C72"/><circle cx="270.1" cy="1000.4" r="10.0" fill="#3F9C72"/><circle cx="298.7" cy="995.2" r="10.0" fill="#3F9C72"/><circle cx="327.2" cy="993.9" r="10.0" fill="#3F9C72"/><circle cx="337.6" cy="1008.2" r="10.0" fill="#3F9C72"/><circle cx="306.5" cy="1009.5" r="10.0" fill="#3F9C72"/><circle cx="287.0" cy="999.1" r="10.0" fill="#3F9C72"/><circle cx="311.7" cy="992.6" r="10.0" fill="#3F9C72"/><circle cx="296.1" cy="1014.7" r="10.0" fill="#3F9C72"/><circle cx="283.1" cy="1018.6" r="10.0" fill="#3F9C72"/><circle cx="266.2" cy="1030.3" r="10.0" fill="#3F9C72"/><circle cx="277.9" cy="1034.2" r="10.0" fill="#3F9C72"/><circle cx="313.0" cy="1038.1" r="10.0" fill="#3F9C72"/><circle cx="301.3" cy="1043.3" r="10.0" fill="#3F9C72"/><circle cx="277.9" cy="1044.6" r="10.0" fill="#3F9C72"/><circle cx="249.3" cy="1045.9" r="10.0" fill="#3F9C72"/><circle cx="318.1" cy="1074.5" r="10.0" fill="#3F9C72"/><circle cx="280.5" cy="1058.9" r="10.0" fill="#69B2E4"/><circle cx="309.1" cy="1058.9" r="10.0" fill="#69B2E4"/><circle cx="266.2" cy="1070.6" r="10.0" fill="#69B2E4"/><circle cx="315.6" cy="1092.7" r="10.0" fill="#69B2E4"/><circle cx="305.2" cy="1081.0" r="10.0" fill="#69B2E4"/><circle cx="249.3" cy="1096.6" r="10.0" fill="#69B2E4"/><circle cx="271.4" cy="1096.6" r="10.0" fill="#69B2E4"/><circle cx="285.7" cy="1095.3" r="10.0" fill="#69B2E4"/><circle cx="298.7" cy="1117.4" r="10.0" fill="#69B2E4"/><circle cx="315.6" cy="1112.2" r="10.0" fill="#69B2E4"/><circle cx="280.5" cy="1110.9" r="10.0" fill="#69B2E4"/><circle cx="225.9" cy="1129.1" r="10.0" fill="#69B2E4"/><circle cx="244.1" cy="1126.5" r="10.0" fill="#69B2E4"/><circle cx="267.5" cy="1131.7" r="10.0" fill="#69B2E4"/><circle cx="277.9" cy="1127.8" r="10.0" fill="#69B2E4"/><circle cx="290.9" cy="1134.3" r="10.0" fill="#69B2E4"/><circle cx="254.5" cy="1135.6" r="10.0" fill="#69B2E4"/><circle cx="219.4" cy="1152.4" r="10.0" fill="#69B2E4"/><circle cx="223.3" cy="1144.6" r="10.0" fill="#69B2E4"/><circle cx="257.1" cy="1151.1" r="10.0" fill="#69B2E4"/><circle cx="287.0" cy="1156.3" r="10.0" fill="#69B2E4"/><circle cx="279.2" cy="1143.3" r="10.0" fill="#69B2E4"/><circle cx="303.9" cy="1171.9" r="10.0" fill="#69B2E4"/><circle cx="300.0" cy="1197.9" r="10.0" fill="#69B2E4"/></g>
<text x="245.5" y="30.3" font-size="35.6" fill="#000">Gene cluster</text>
<circle cx="294.8" cy="56.2" r="11.2" fill="#E2A236" stroke="#1A1A1A" stroke-width="1.5"/>
<circle cx="327.8" cy="56.2" r="11.2" fill="#3F9C72" stroke="#1A1A1A" stroke-width="1.5"/>
<circle cx="361.8" cy="56.2" r="11.2" fill="#69B2E4" stroke="#1A1A1A" stroke-width="1.5"/>
<circle cx="393.9" cy="56.2" r="11.2" fill="#EDE25A" stroke="#1A1A1A" stroke-width="1.5"/>
<circle cx="424.7" cy="56.2" r="11.2" fill="#2E70B0" stroke="#1A1A1A" stroke-width="1.5"/>
<path d="M308.1 58.3 L311.9 58.3 L311.9 84.2 L308.5 84.2 L308.5 62.9 L302 65.2 L302 62.3 Z" fill="#000"/>
<text x="338.7" y="84.2" font-size="36" fill="#000" text-anchor="middle">2</text>
<text x="369.5" y="84.2" font-size="36" fill="#000" text-anchor="middle">3</text>
<text x="400.2" y="84.2" font-size="36" fill="#000" text-anchor="middle">4</text>
<text x="432" y="84.2" font-size="36" fill="#000" text-anchor="middle">5</text>
</svg></body></html>
